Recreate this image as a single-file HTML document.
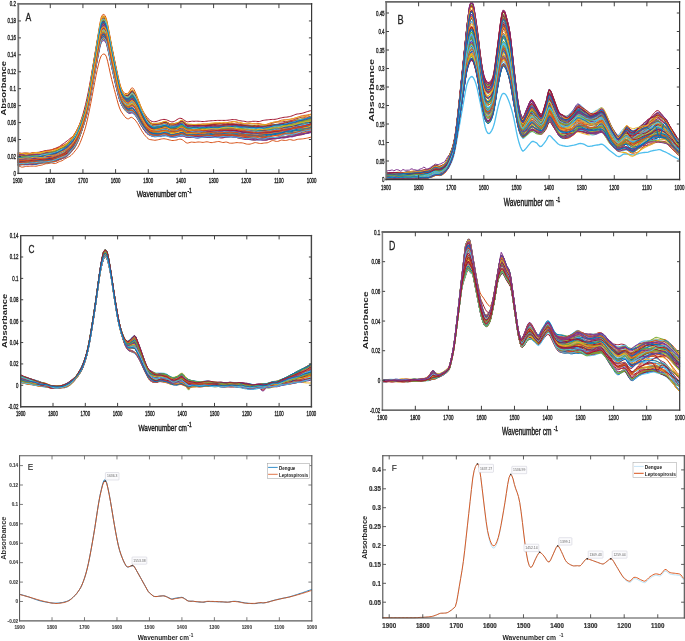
<!DOCTYPE html>
<html><head><meta charset="utf-8"><title>FTIR spectra</title>
<style>
html,body{margin:0;padding:0;background:#fff}
svg{display:block;font-family:"Liberation Sans",sans-serif;filter:blur(0.4px)}
svg path,svg polyline{fill:none;vector-effect:non-scaling-stroke;stroke-linejoin:round}
</style></head><body>
<svg width="685" height="641" viewBox="0 0 685 641">
<rect width="685" height="641" fill="#fff"/>
<g transform="translate(17.60,0) scale(1.3067,0.1)" stroke-width="1.0">
<path d="M0,1653l1 0 1-2 1-3 1-1 1-1 1 0 1 0 1 0 1 0 1 0 1 0 1-1 1-1 1-1 1-2 1-2 1-3 1-3 1-3 1-3 1-1 1-1 1 0 1-1 1-2 1-2 1-1 1 0 1-4 1-6 1-7 1-5 1-5 1-5 1-5 1-6 1-6 1-9 1-11 1-14 1-15 1-15 1-15 1-20 1-23 1-27 1-32 1-37 1-39 1-41 1-41 1-44 1-50 1-56 1-64 1-70 1-71 1-71 1-72 1-72 1-70 1-70 1-67 1-47 1-19 1-4 1 6 1 26 1 51 1 60 1 64 1 65 1 60 1 59 1 56 1 55 1 53 1 48 1 38 1 28 1 20 1 16 1 13 1 9 1 4 1-2 1-2 1 4 1 11 1 13 1 16 1 20 1 24 1 25 1 23 1 20 1 18 1 16 1 13 1 10 1 9 1 8 1 6 1 2 1 0 1-1 1 1 1 0 1 1 1-2 1-4 1-2 1 1 1 3 1 2 1 1 1 0 1 2 1 3 1 1 1-2 1-2 1-2 1-5 1-5 1 0 1 7 1 10 1 7 1 3 1-1 1-3 1-4 1-3 1-1 1 1 1 1 1 1 1 1 1 2 1 2 1 1 1 0 1 1 1 1 1 0 1-2 1-2 1-1 1-1 1 1 1 1 1 2 1 0 1-1 1 0 1 0 1 0 1-1 1-1 1-2 1-2 1-1 1 0 1 2 1 1 1 1 1 2 1 5 1 4 1 4 1 2 1 1 1 2 1 2 1 2 1 2 1 1 1 0 1-1 1-1 1 0 1 1 1 2 1 1 1 1 1 0 1 0 1-1 1-1 1 1 1 0 1 0 1-1 1-3 1-2 1 0 1 1 1 1 1-1 1-4 1-5 1-4 1-2 1-1 1-3 1-4 1-3 1-4 1-4 1-3 1-1 1 0 1 1 1 0 1-1 1 0 1-3 1-3 1-5 1-5 1-3 1-2 1-1 1-3" stroke="#0072BD"/>
<path d="M0,1621l1 2 1 2 1 2 1 0 1-1 1-1 1-1 1 0 1 1 1 1 1-1 1-2 1 0 1 1 1-1 1-2 1-3 1-1 1-2 1-2 1-2 1-2 1-2 1-2 1-2 1 0 1-1 1-4 1-6 1-7 1-5 1-3 1-5 1-7 1-8 1-7 1-6 1-6 1-8 1-12 1-15 1-18 1-20 1-21 1-24 1-27 1-31 1-34 1-35 1-36 1-40 1-45 1-49 1-56 1-65 1-70 1-72 1-73 1-74 1-75 1-73 1-71 1-68 1-47 1-20 1-5 1 7 1 30 1 56 1 64 1 66 1 65 1 59 1 57 1 58 1 57 1 54 1 48 1 36 1 26 1 20 1 17 1 13 1 8 1 2 1-6 1-7 1 1 1 10 1 15 1 19 1 22 1 26 1 26 1 24 1 22 1 21 1 17 1 14 1 10 1 8 1 5 1 5 1 5 1 3 1 1 1-1 1-1 1-2 1-1 1-2 1-2 1 0 1 3 1 5 1 6 1 2 1 0 1-2 1-2 1-1 1-2 1-2 1-3 1-3 1-1 1 2 1 5 1 3 1-1 1-1 1 1 1 2 1 2 1-1 1-2 1-1 1-1 1-1 1 0 1 0 1 0 1 1 1 0 1-1 1 0 1-1 1-1 1-1 1 1 1 0 1-1 1 1 1 2 1 1 1-1 1-3 1-3 1-1 1 1 1 0 1-1 1-1 1-1 1 2 1 3 1 3 1 3 1 3 1 2 1 1 1 0 1 0 1 1 1 0 1-2 1-1 1 0 1 1 1 3 1 2 1 2 1 1 1-1 1 0 1-1 1 0 1 1 1 0 1 0 1 0 1-1 1-2 1-2 1-3 1-5 1-5 1-3 1-2 1-2 1-1 1-1 1-1 1-1 1-3 1-3 1-3 1-1 1 0 1-1 1-2 1-3 1-2 1-3 1-2 1-1 1 0 1 0 1-2 1-3 1-4 1-2 1-2 1-3 1-5" stroke="#D95319"/>
<path d="M0,1628l1 2 1 1 1 0 1-1 1 1 1-2 1-2 1-3 1 0 1 1 1-1 1-1 1 0 1 2 1 1 1-1 1-1 1-2 1-2 1-4 1-3 1-2 1-3 1-3 1-3 1-2 1-2 1-2 1-3 1-2 1-3 1-4 1-5 1-7 1-4 1-5 1-5 1-8 1-10 1-14 1-16 1-18 1-17 1-20 1-23 1-26 1-29 1-33 1-37 1-39 1-40 1-42 1-48 1-55 1-65 1-71 1-71 1-73 1-73 1-71 1-69 1-67 1-65 1-45 1-17 1-2 1 8 1 25 1 50 1 61 1 65 1 63 1 59 1 57 1 56 1 53 1 52 1 48 1 38 1 29 1 23 1 21 1 14 1 8 1 1 1-4 1-4 1 4 1 12 1 16 1 20 1 22 1 24 1 25 1 23 1 21 1 18 1 17 1 15 1 12 1 8 1 4 1 2 1 1 1 0 1 0 1 1 1 1 1-1 1-3 1-4 1-2 1-1 1 0 1 2 1 4 1 3 1 1 1 0 1-1 1 0 1 0 1-2 1-4 1-4 1-2 1 4 1 6 1 6 1 1 1-2 1-1 1 1 1 2 1 1 1-3 1-4 1-2 1 1 1 3 1 2 1 0 1-2 1-3 1-3 1 0 1-1 1 0 1 2 1 2 1 3 1-1 1-3 1-2 1 1 1 1 1 1 1 0 1-2 1-1 1 0 1 0 1 1 1 1 1 2 1 2 1 0 1 1 1 2 1 3 1 1 1 2 1 4 1 5 1 3 1 1 1 0 1-1 1-3 1-3 1-1 1 3 1 5 1 5 1 4 1 2 1 0 1 0 1-1 1-1 1 0 1-1 1-3 1-5 1-5 1-4 1-1 1-1 1-1 1-3 1-3 1-2 1 1 1 2 1 0 1-1 1-4 1-4 1-4 1-2 1-2 1-1 1-2 1-2 1-3 1-4 1-4 1-5 1-4 1-1 1-1 1 0 1-1 1-3 1-5" stroke="#EDB120"/>
<path d="M0,1528l1 1 1 2 1 2 1 1 1-2 1-2 1 0 1 2 1 1 1 0 1-1 1-1 1-2 1-2 1-2 1-2 1-3 1-3 1-3 1-4 1-3 1-2 1-2 1-1 1-1 1-1 1-5 1-6 1-6 1-6 1-5 1-7 1-9 1-10 1-9 1-9 1-10 1-10 1-10 1-11 1-10 1-11 1-12 1-18 1-23 1-26 1-30 1-34 1-38 1-42 1-47 1-51 1-57 1-62 1-68 1-73 1-76 1-76 1-75 1-74 1-72 1-68 1-63 1-42 1-11 1 4 1 12 1 28 1 53 1 63 1 66 1 65 1 60 1 59 1 58 1 57 1 54 1 50 1 39 1 28 1 19 1 11 1 7 1 3 1-3 1-12 1-12 1-2 1 12 1 19 1 22 1 25 1 26 1 27 1 25 1 22 1 22 1 20 1 18 1 15 1 12 1 9 1 6 1 2 1 0 1-2 1-4 1-5 1-4 1-4 1-3 1-1 1 1 1 3 1 6 1 6 1 5 1 4 1-1 1-5 1-8 1-9 1-8 1-5 1 0 1 5 1 9 1 9 1 9 1 3 1-1 1-2 1-2 1-1 1 1 1-1 1 0 1 0 1 1 1 1 1 1 1 0 1 0 1-2 1-1 1-2 1-1 1-1 1-1 1-1 1-1 1 0 1-1 1 0 1 0 1 0 1 0 1 0 1 0 1-1 1-1 1-2 1-2 1-2 1 0 1 0 1 1 1 3 1 4 1 3 1 2 1 2 1 1 1 2 1 3 1 2 1 0 1-2 1-2 1-2 1 0 1 0 1 1 1 1 1 0 1-3 1-5 1-3 1-2 1-2 1-1 1-2 1-1 1-1 1-1 1 0 1-1 1-2 1-3 1-4 1-3 1-3 1-3 1-2 1-1 1-1 1-2 1-3 1-3 1-4 1-5 1-6 1-5 1-3 1-1 1-2 1-2 1-3 1-4 1-4 1-5 1-4 1-4 1-3 1-3" stroke="#A2142F"/>
<path d="M0,1577l1-2 1-1 1 1 1 0 1-2 1-2 1-1 1 2 1 3 1 2 1 0 1-3 1-5 1-5 1-3 1 0 1 1 1-1 1-4 1-4 1-2 1 1 1 2 1 1 1-2 1-5 1-5 1-6 1-5 1-6 1-5 1-4 1-4 1-5 1-8 1-9 1-11 1-11 1-10 1-13 1-14 1-16 1-16 1-21 1-23 1-26 1-28 1-32 1-35 1-38 1-40 1-44 1-49 1-57 1-68 1-76 1-78 1-78 1-79 1-78 1-79 1-78 1-77 1-56 1-24 1-4 1 10 1 32 1 58 1 66 1 69 1 67 1 64 1 61 1 60 1 57 1 57 1 54 1 42 1 31 1 23 1 14 1 8 1 0 1-5 1-14 1-14 1 1 1 16 1 23 1 25 1 28 1 29 1 28 1 25 1 22 1 23 1 23 1 20 1 16 1 11 1 9 1 7 1 5 1 1 1 0 1-2 1-3 1-4 1-5 1-5 1-4 1 0 1 5 1 6 1 6 1 4 1 2 1 1 1 1 1-1 1-2 1-3 1-7 1-7 1-3 1 4 1 9 1 10 1 6 1 0 1-2 1-2 1-2 1 0 1 1 1 0 1-1 1-3 1-2 1 0 1 2 1 2 1-1 1 0 1 0 1 0 1-2 1-2 1-1 1 0 1-1 1-1 1 0 1-2 1-3 1-1 1 1 1-1 1-2 1-1 1 1 1 1 1-2 1-2 1 0 1 2 1 2 1 0 1 1 1 3 1 3 1 2 1 0 1 2 1 1 1 1 1 0 1 1 1 1 1 0 1 0 1 0 1 0 1-1 1-3 1-2 1-2 1-1 1-2 1-3 1-3 1-4 1-3 1 0 1 0 1 0 1-2 1-1 1 1 1 1 1-3 1-6 1-6 1-3 1-2 1-2 1-3 1-2 1-1 1 0 1 0 1 0 1-3 1-6 1-8 1-7 1-5 1-2 1-3 1-3 1-3 1-4 1-3 1-2" stroke="#7E2F8E"/>
<path d="M0,1596l1 1 1 0 1 0 1 1 1 0 1-2 1-1 1-1 1 0 1-2 1-3 1-3 1 0 1 2 1 1 1 0 1-2 1-3 1-3 1-2 1-1 1 1 1 0 1-1 1-2 1-3 1-5 1-6 1-6 1-7 1-6 1-5 1-3 1-3 1-5 1-8 1-11 1-13 1-13 1-13 1-11 1-12 1-12 1-18 1-23 1-28 1-32 1-36 1-37 1-37 1-38 1-43 1-49 1-57 1-67 1-74 1-76 1-77 1-75 1-73 1-72 1-70 1-71 1-51 1-21 1-4 1 9 1 30 1 57 1 65 1 65 1 63 1 59 1 60 1 58 1 58 1 55 1 52 1 41 1 29 1 22 1 16 1 11 1 6 1 3 1-6 1-8 1 0 1 11 1 17 1 22 1 24 1 27 1 27 1 27 1 24 1 21 1 19 1 15 1 14 1 12 1 10 1 7 1 2 1-2 1-3 1-2 1-1 1-2 1-1 1-3 1-3 1-2 1 2 1 3 1 3 1 3 1 1 1 0 1-3 1-2 1-1 1-4 1-7 1-6 1 0 1 7 1 9 1 5 1 0 1-1 1 0 1 1 1 2 1 2 1 0 1 0 1-1 1 0 1 2 1 1 1 0 1-1 1-2 1-1 1-1 1-1 1-2 1-2 1 0 1 0 1 1 1 0 1-2 1 0 1 2 1 3 1 2 1-1 1-4 1-5 1-2 1-1 1 0 1 1 1 1 1 3 1 3 1 2 1 0 1 0 1 1 1 2 1 2 1 0 1 1 1 3 1 5 1 4 1 1 1-1 1-2 1-3 1-1 1-1 1-1 1 0 1 0 1 1 1 2 1 0 1-2 1-3 1-3 1-1 1-2 1-3 1-4 1-4 1-2 1 0 1-1 1-3 1-3 1-4 1-4 1-4 1-2 1-1 1-2 1 0 1-1 1-3 1-4 1-4 1-4 1-4 1-3 1-1 1-1 1-3 1-4 1-3 1-1 1-2" stroke="#77AC30"/>
<path d="M0,1641l1-1 1 1 1 1 1 1 1 1 1 0 1 0 1-1 1-2 1-1 1-3 1-4 1-2 1-1 1 0 1-2 1-2 1-2 1 0 1 3 1 4 1 4 1 2 1-3 1-5 1-5 1-6 1-5 1-4 1-5 1-6 1-5 1-3 1-4 1-4 1-5 1-7 1-10 1-13 1-15 1-15 1-15 1-14 1-18 1-24 1-30 1-33 1-35 1-35 1-37 1-41 1-44 1-49 1-55 1-65 1-70 1-71 1-71 1-71 1-69 1-66 1-64 1-64 1-49 1-21 1-6 1 6 1 27 1 53 1 61 1 63 1 62 1 58 1 58 1 58 1 57 1 51 1 44 1 33 1 25 1 21 1 18 1 15 1 11 1 6 1 0 1-2 1 5 1 11 1 15 1 18 1 21 1 23 1 23 1 22 1 20 1 19 1 17 1 14 1 10 1 8 1 6 1 5 1 4 1 1 1-1 1 0 1 0 1 0 1 0 1-2 1-1 1-2 1 0 1 1 1 2 1 2 1 3 1 3 1 2 1-2 1-4 1-3 1-3 1-2 1-2 1 0 1 4 1 6 1 5 1 2 1 0 1-2 1-2 1-2 1 0 1 1 1 1 1 1 1 0 1-2 1-1 1-1 1 0 1 1 1 1 1 0 1 0 1 1 1 1 1 1 1 1 1 0 1 1 1 0 1-1 1-1 1-2 1-1 1 0 1 1 1 2 1 0 1-2 1 0 1 0 1 2 1 3 1 4 1 3 1 1 1 1 1 1 1 1 1 2 1 3 1 3 1 3 1 2 1 0 1 0 1 0 1 0 1 0 1 0 1 0 1 1 1 0 1-2 1-3 1-1 1 0 1-1 1-3 1-3 1-4 1-2 1-2 1-1 1-2 1-2 1-2 1-1 1-1 1-1 1-3 1-3 1-3 1-2 1-1 1-2 1-4 1-4 1-2 1-2 1 0 1 1 1 0 1-4 1-5 1-4 1-3 1-1 1-2 1-4" stroke="#4DBEEE"/>
<path d="M0,1642l1-2 1 0 1 0 1 0 1 0 1-1 1-1 1-2 1-1 1-2 1-3 1-2 1-1 1-1 1-1 1 0 1-1 1-1 1-1 1-3 1-1 1-1 1 1 1 0 1-1 1-1 1-1 1-3 1-4 1-6 1-8 1-7 1-8 1-5 1-3 1-3 1-6 1-9 1-11 1-14 1-15 1-17 1-17 1-19 1-23 1-26 1-30 1-35 1-38 1-40 1-41 1-44 1-49 1-56 1-64 1-70 1-71 1-73 1-73 1-71 1-70 1-68 1-66 1-46 1-18 1-2 1 9 1 30 1 54 1 62 1 63 1 61 1 59 1 59 1 59 1 56 1 53 1 47 1 35 1 26 1 19 1 16 1 14 1 9 1 5 1-1 1-3 1 3 1 10 1 15 1 18 1 23 1 26 1 26 1 22 1 21 1 20 1 17 1 15 1 9 1 7 1 5 1 5 1 3 1 1 1-1 1-2 1-2 1-1 1-2 1-3 1-2 1-1 1 1 1 3 1 4 1 3 1 3 1 1 1 0 1-2 1-1 1-2 1-4 1-2 1 1 1 4 1 6 1 6 1 3 1 0 1-1 1-3 1-3 1-2 1 0 1 0 1 1 1 2 1 1 1 1 1 1 1 2 1 1 1 1 1 0 1 0 1-2 1-1 1 0 1-1 1 1 1 2 1 3 1 2 1 1 1-1 1-3 1-2 1-2 1-2 1-2 1-2 1-1 1 1 1 2 1 4 1 5 1 4 1 3 1 2 1 1 1 0 1 1 1 2 1 2 1 1 1 2 1 3 1 2 1 0 1-1 1-4 1-3 1-1 1 1 1 3 1 3 1 2 1 1 1-2 1-3 1-5 1-2 1 0 1 0 1 0 1-2 1-4 1-4 1-3 1 0 1 0 1 0 1-2 1-2 1-3 1-2 1-2 1-1 1-1 1-3 1-2 1-3 1-2 1-2 1-2 1-3 1-4 1-6 1-5 1-4 1-3 1-3 1-2" stroke="#A2142F"/>
<path d="M0,1564l1 1 1 1 1-1 1-3 1-4 1-2 1-1 1 0 1-1 1-1 1-1 1 0 1 0 1 0 1 0 1-2 1-3 1-4 1-3 1 0 1 1 1 0 1-1 1-2 1-4 1-5 1-5 1-4 1-5 1-7 1-7 1-6 1-6 1-5 1-7 1-9 1-11 1-14 1-13 1-13 1-11 1-12 1-15 1-19 1-23 1-26 1-27 1-30 1-35 1-39 1-41 1-44 1-51 1-60 1-69 1-77 1-80 1-80 1-79 1-77 1-79 1-80 1-80 1-57 1-23 1-3 1 10 1 32 1 60 1 67 1 69 1 66 1 63 1 62 1 63 1 62 1 59 1 53 1 39 1 28 1 21 1 14 1 7 1 1 1-5 1-17 1-17 1-1 1 16 1 23 1 27 1 28 1 31 1 32 1 30 1 29 1 25 1 22 1 18 1 15 1 11 1 7 1 6 1 3 1 2 1 1 1 1 1 0 1-3 1-7 1-6 1-4 1 1 1 5 1 8 1 6 1 3 1-1 1 0 1 1 1 0 1-3 1-5 1-10 1-10 1-1 1 9 1 14 1 14 1 6 1 0 1-1 1-2 1-1 1 0 1 1 1 3 1 2 1-1 1-3 1-3 1-1 1 0 1 0 1 0 1 0 1 2 1 1 1-2 1-2 1-2 1 1 1 2 1 1 1-2 1-1 1-1 1 0 1 0 1 0 1 1 1 2 1 1 1 1 1-1 1-1 1 0 1-1 1 0 1 2 1 4 1 4 1 2 1 0 1 1 1 1 1 0 1 0 1 0 1 2 1 3 1 2 1 2 1 2 1 1 1-1 1-5 1-6 1-5 1-1 1 1 1 1 1 0 1-1 1 0 1-2 1-3 1-5 1-6 1-5 1-4 1 1 1 2 1 3 1 0 1-3 1-4 1-5 1-5 1-3 1-2 1-2 1-2 1-3 1-3 1-2 1-3 1-3 1-5 1-4 1-2 1-1 1-1 1-1 1-2" stroke="#0072BD"/>
<path d="M0,1605l1 1 1-1 1-2 1-1 1 1 1 1 1-1 1-2 1-3 1-2 1-1 1 1 1 1 1-1 1-4 1-5 1-4 1-1 1 1 1 0 1 0 1 0 1-1 1-2 1-2 1-3 1-3 1-3 1-4 1-6 1-7 1-7 1-7 1-6 1-5 1-5 1-9 1-12 1-15 1-14 1-15 1-14 1-16 1-18 1-23 1-25 1-29 1-32 1-36 1-39 1-42 1-46 1-49 1-56 1-65 1-72 1-74 1-77 1-77 1-76 1-74 1-75 1-73 1-52 1-21 1-3 1 9 1 29 1 57 1 66 1 67 1 65 1 62 1 62 1 61 1 58 1 54 1 50 1 40 1 29 1 21 1 15 1 10 1 8 1 4 1-6 1-10 1-2 1 11 1 18 1 22 1 23 1 25 1 26 1 26 1 24 1 23 1 21 1 16 1 12 1 10 1 8 1 7 1 5 1 4 1 4 1 1 1-2 1-4 1-4 1-4 1-4 1-3 1 1 1 5 1 5 1 3 1 2 1 2 1 1 1-2 1-4 1-4 1-5 1-4 1 1 1 7 1 9 1 7 1 1 1-3 1-2 1 0 1 2 1 3 1 3 1 2 1 1 1 1 1-2 1-5 1-4 1-2 1 0 1 0 1 0 1 0 1 1 1 0 1-2 1-4 1-3 1-1 1 1 1 2 1 1 1 1 1 2 1 1 1 1 1 1 1-1 1-1 1 0 1 0 1 2 1 1 1-1 1 0 1-1 1 0 1 2 1 4 1 3 1 1 1 0 1 0 1 0 1 0 1 1 1 1 1 1 1-1 1-2 1 0 1 2 1 2 1 0 1-2 1-1 1-2 1-2 1-2 1-1 1-2 1-2 1-2 1-3 1-1 1-2 1-2 1-6 1-6 1-4 1-1 1-1 1 0 1-3 1-5 1-5 1-3 1-2 1-1 1-2 1-2 1-2 1-2 1-2 1-2 1-3 1-1 1-1 1-4 1-7 1-8" stroke="#D95319"/>
<path d="M0,1622l1 1 1 0 1 0 1-1 1-2 1-3 1-2 1-1 1-1 1 0 1 1 1 0 1-1 1-3 1-2 1-2 1-2 1-3 1-2 1-2 1-1 1-1 1-1 1-1 1-2 1-3 1-4 1-4 1-3 1-3 1-5 1-5 1-6 1-3 1-5 1-7 1-12 1-12 1-12 1-11 1-13 1-15 1-15 1-20 1-25 1-28 1-31 1-32 1-35 1-37 1-41 1-46 1-51 1-58 1-68 1-74 1-75 1-73 1-75 1-76 1-75 1-72 1-71 1-52 1-23 1-6 1 8 1 27 1 54 1 64 1 67 1 67 1 63 1 61 1 60 1 59 1 55 1 49 1 35 1 25 1 18 1 15 1 11 1 5 1 0 1-9 1-10 1 1 1 14 1 20 1 23 1 23 1 25 1 25 1 24 1 23 1 21 1 21 1 18 1 14 1 12 1 9 1 7 1 4 1 3 1 0 1-2 1-3 1-3 1-6 1-6 1-3 1 1 1 4 1 7 1 7 1 4 1 0 1-1 1 0 1-1 1 0 1-2 1-6 1-4 1 1 1 6 1 7 1 7 1 4 1 1 1 1 1 1 1 0 1-1 1 0 1 0 1-2 1-2 1-1 1 0 1 1 1 1 1 0 1-3 1-2 1 0 1 2 1 1 1-1 1-1 1 0 1 0 1 0 1 1 1 1 1 1 1 1 1 0 1-1 1 0 1 1 1 2 1 3 1 3 1 2 1 1 1 1 1 2 1 2 1 2 1 2 1 1 1 0 1 0 1 1 1 3 1 3 1 2 1 1 1 0 1 1 1 1 1 0 1-2 1-2 1-1 1-1 1-1 1 0 1 0 1-1 1-3 1-4 1-1 1-1 1-1 1-1 1-1 1-3 1-3 1-2 1-1 1 1 1 0 1-2 1-3 1-5 1-5 1-5 1-3 1-3 1-2 1-3 1-3 1-2 1-3 1-1 1-2 1-3 1-5 1-5 1-6 1-6 1-3" stroke="#EDB120"/>
<path d="M0,1646l1-3 1-1 1 1 1 3 1 2 1-1 1-1 1 0 1-1 1-1 1-1 1 0 1-1 1-1 1-3 1-4 1-6 1-4 1 0 1 1 1 1 1-1 1-3 1-3 1-3 1-2 1-2 1-3 1-3 1-3 1-5 1-3 1-3 1-5 1-5 1-6 1-9 1-10 1-14 1-13 1-13 1-15 1-18 1-22 1-26 1-28 1-31 1-34 1-34 1-34 1-39 1-43 1-48 1-55 1-64 1-70 1-72 1-71 1-70 1-71 1-71 1-69 1-66 1-43 1-15 1-2 1 7 1 26 1 52 1 60 1 61 1 59 1 58 1 59 1 58 1 55 1 51 1 45 1 34 1 25 1 20 1 18 1 16 1 14 1 9 1 1 1-4 1 1 1 8 1 13 1 19 1 21 1 24 1 23 1 22 1 19 1 19 1 18 1 16 1 11 1 6 1 5 1 5 1 5 1 2 1 0 1-2 1-1 1-2 1-3 1-3 1-2 1 1 1 2 1 4 1 5 1 4 1 1 1 1 1 0 1-1 1-2 1-3 1-2 1-2 1 0 1 1 1 4 1 4 1 2 1 0 1-1 1 0 1 1 1 2 1 4 1 3 1 0 1-4 1-4 1-3 1-1 1 0 1 1 1-1 1 0 1 1 1 1 1 1 1 0 1 1 1 0 1 1 1-1 1-1 1 0 1 0 1-1 1-1 1-1 1-2 1-1 1 0 1 2 1 3 1 1 1 0 1 1 1 1 1 4 1 4 1 4 1 4 1 3 1 1 1 0 1-2 1-1 1 0 1 2 1 3 1 2 1 0 1 0 1 1 1 0 1 1 1 1 1 0 1-1 1-2 1-4 1-2 1-2 1-1 1-2 1-2 1-2 1-2 1-1 1-1 1 0 1 0 1 0 1-2 1-3 1-3 1-3 1-1 1 1 1-3 1-5 1-5 1-5 1-4 1-4 1-4 1-2 1-1 1 1 1-1 1-2 1-6 1-6 1-4" stroke="#7E2F8E"/>
<path d="M0,1577l1-2 1-2 1-1 1-1 1-1 1 1 1 2 1 2 1 0 1-1 1-3 1-3 1-2 1-1 1-3 1-3 1-3 1 0 1 1 1-1 1-4 1-5 1-4 1-2 1-1 1-2 1-2 1-3 1-4 1-5 1-5 1-4 1-5 1-7 1-8 1-8 1-10 1-11 1-14 1-16 1-15 1-16 1-16 1-19 1-23 1-27 1-31 1-32 1-34 1-38 1-41 1-45 1-50 1-59 1-71 1-79 1-78 1-78 1-80 1-81 1-82 1-81 1-78 1-56 1-23 1-2 1 10 1 31 1 57 1 66 1 69 1 68 1 65 1 62 1 59 1 59 1 59 1 56 1 43 1 32 1 21 1 12 1 3 1-2 1-4 1-13 1-14 1-1 1 13 1 20 1 26 1 30 1 33 1 32 1 28 1 23 1 25 1 24 1 20 1 14 1 9 1 7 1 7 1 4 1 1 1-2 1-1 1 1 1 0 1-3 1-5 1-6 1-4 1 1 1 4 1 7 1 8 1 5 1 3 1 0 1-1 1-4 1-6 1-12 1-10 1-3 1 5 1 9 1 11 1 6 1 0 1 1 1 0 1 3 1 2 1 0 1-1 1 0 1 1 1 2 1 1 1 1 1 0 1-1 1-1 1-2 1-1 1-2 1-3 1-2 1-2 1-1 1 1 1 1 1 1 1 2 1 0 1-1 1-1 1 0 1 0 1 0 1-1 1 0 1 1 1 1 1 3 1 4 1 5 1 3 1 1 1-1 1-1 1 2 1 3 1 1 1-2 1-2 1 0 1 0 1 1 1 0 1 1 1 3 1 4 1 2 1 0 1-1 1 0 1-1 1-2 1-2 1-1 1-1 1-4 1-6 1-5 1-3 1 0 1 1 1 1 1 0 1-1 1-3 1-3 1-4 1-3 1-4 1-3 1-2 1-1 1-2 1-3 1-4 1-4 1-3 1-3 1-2 1-2 1-2 1-3 1-3 1-2 1-5 1-5" stroke="#77AC30"/>
<path d="M0,1578l1 0 1-1 1 1 1 1 1 0 1-1 1-2 1-2 1-1 1 0 1-1 1 0 1 1 1 1 1 0 1-1 1-2 1-3 1-2 1-1 1-4 1-3 1-3 1-1 1 0 1-2 1-2 1-3 1-4 1-5 1-6 1-7 1-7 1-5 1-4 1-4 1-7 1-12 1-13 1-12 1-13 1-15 1-17 1-20 1-21 1-25 1-28 1-32 1-35 1-38 1-40 1-46 1-53 1-62 1-69 1-72 1-71 1-75 1-79 1-81 1-80 1-77 1-74 1-53 1-22 1-3 1 10 1 33 1 59 1 66 1 66 1 65 1 63 1 62 1 60 1 56 1 53 1 49 1 38 1 30 1 22 1 15 1 7 1 3 1-3 1-14 1-15 1-2 1 14 1 21 1 23 1 25 1 28 1 28 1 27 1 24 1 22 1 20 1 19 1 18 1 14 1 9 1 5 1 3 1 1 1 0 1-3 1-3 1-3 1-3 1-3 1-6 1-5 1-1 1 7 1 10 1 8 1 3 1-1 1-4 1-4 1-4 1-4 1-9 1-7 1 0 1 7 1 9 1 7 1 3 1 1 1 1 1 1 1 0 1 0 1 1 1 1 1 0 1 1 1 1 1 0 1-2 1-3 1-2 1-1 1 2 1 2 1 1 1 0 1-1 1 0 1 0 1 0 1-1 1-2 1-1 1-2 1 1 1 2 1 2 1 0 1-2 1-3 1-1 1 2 1 5 1 6 1 3 1 2 1 0 1 0 1-1 1-1 1-1 1 0 1 2 1 3 1 3 1 1 1 1 1-1 1 1 1 0 1-2 1-3 1-1 1 1 1 1 1 1 1 2 1 1 1 1 1-1 1-1 1-2 1-3 1-2 1-3 1-2 1-2 1-2 1-3 1-5 1-5 1-4 1-2 1-1 1 0 1 0 1-1 1-2 1-1 1-1 1-2 1-3 1-4 1-4 1-2 1-2 1-1 1-2 1-4 1-5 1-5 1-2" stroke="#4DBEEE"/>
<path d="M0,1597l1 0 1 2 1 1 1-1 1-2 1-2 1-2 1-1 1-1 1 0 1-1 1-3 1-2 1 0 1 0 1 0 1-1 1-2 1-2 1-2 1-2 1 0 1 0 1 0 1-2 1-2 1-5 1-4 1-5 1-4 1-5 1-7 1-7 1-8 1-7 1-7 1-8 1-10 1-11 1-13 1-16 1-17 1-18 1-18 1-21 1-24 1-29 1-35 1-37 1-38 1-38 1-43 1-51 1-59 1-68 1-75 1-78 1-80 1-78 1-74 1-73 1-75 1-75 1-53 1-22 1-3 1 8 1 29 1 55 1 64 1 67 1 68 1 65 1 63 1 62 1 60 1 56 1 51 1 41 1 31 1 21 1 13 1 6 1 4 1-1 1-10 1-11 1 0 1 11 1 17 1 23 1 29 1 31 1 31 1 27 1 24 1 22 1 18 1 15 1 13 1 10 1 7 1 6 1 3 1 1 1 1 1 1 1 2 1 0 1-4 1-6 1-5 1 0 1 4 1 4 1 6 1 6 1 4 1 2 1 2 1-1 1-2 1-5 1-7 1-7 1-1 1 3 1 8 1 10 1 8 1 2 1-2 1-2 1-1 1 0 1 2 1 1 1 1 1 0 1-1 1-1 1-1 1 0 1 1 1-1 1 0 1 0 1 0 1 0 1-2 1-1 1-2 1-1 1-1 1 0 1-2 1-3 1-1 1 2 1 3 1 1 1-1 1-1 1 0 1-2 1-2 1-2 1 1 1 2 1 4 1 2 1 1 1 0 1 0 1 1 1 1 1 2 1 2 1 2 1 0 1 0 1 0 1 2 1 2 1 2 1 1 1-1 1-2 1-4 1-4 1-3 1-1 1-1 1-1 1-1 1-3 1-3 1-3 1-2 1-2 1-3 1-3 1-4 1-2 1-1 1-2 1-3 1-5 1-4 1-3 1-2 1-1 1-1 1-3 1-5 1-5 1-4 1-1 1-2 1-4 1-5 1-5 1-3 1-1 1 0" stroke="#A2142F"/>
<path d="M0,1555l1-2 1-1 1 1 1 2 1 3 1 1 1 0 1-1 1-2 1-2 1-3 1-2 1-4 1-3 1-2 1-1 1 0 1 0 1 1 1 0 1-2 1-4 1-4 1-3 1-4 1-4 1-5 1-4 1-5 1-5 1-5 1-3 1-5 1-7 1-7 1-5 1-6 1-9 1-13 1-17 1-20 1-19 1-19 1-19 1-21 1-23 1-26 1-31 1-34 1-37 1-40 1-45 1-53 1-61 1-72 1-79 1-81 1-81 1-81 1-81 1-80 1-78 1-76 1-57 1-25 1-4 1 11 1 33 1 60 1 67 1 67 1 67 1 64 1 63 1 62 1 61 1 59 1 55 1 42 1 30 1 22 1 14 1 8 1 1 1-6 1-18 1-17 1-1 1 14 1 20 1 25 1 29 1 33 1 33 1 30 1 26 1 25 1 24 1 22 1 16 1 12 1 7 1 5 1 3 1 2 1 2 1 0 1-2 1-4 1-4 1-5 1-3 1 0 1 4 1 8 1 11 1 8 1 3 1-1 1-4 1-5 1-5 1-6 1-10 1-9 1 0 1 10 1 15 1 13 1 7 1 0 1 1 1 0 1 0 1 0 1 0 1 0 1-2 1-3 1-2 1 0 1 0 1 1 1 1 1 2 1 1 1-3 1-4 1-3 1-1 1 1 1 1 1 0 1 1 1 2 1 2 1 1 1-1 1-1 1 0 1-1 1-1 1-1 1 1 1 1 1 0 1-1 1-1 1-1 1 0 1 2 1 3 1 2 1 1 1 1 1 1 1 2 1 0 1 0 1 0 1 0 1 1 1 1 1 1 1 3 1 1 1 0 1-2 1-3 1-2 1 0 1-1 1-2 1-3 1-2 1-1 1-2 1-1 1-3 1-2 1-3 1-4 1-4 1-3 1-2 1-3 1-4 1-3 1-1 1-1 1-4 1-5 1-3 1-2 1 0 1 0 1-2 1-5 1-5 1-4 1-3 1-4 1-3 1-2 1-3" stroke="#0072BD"/>
<path d="M0,1607l1 2 1 3 1 4 1 2 1 0 1-3 1-3 1-2 1 1 1 0 1 0 1-1 1-2 1-2 1 0 1 0 1-2 1-1 1-1 1-2 1-3 1-3 1-2 1-2 1-2 1-4 1-3 1-3 1-1 1 0 1-4 1-6 1-7 1-9 1-8 1-8 1-8 1-8 1-8 1-12 1-15 1-15 1-17 1-20 1-24 1-27 1-29 1-30 1-34 1-39 1-41 1-44 1-50 1-58 1-69 1-74 1-75 1-74 1-74 1-72 1-71 1-70 1-68 1-47 1-20 1-4 1 7 1 28 1 55 1 64 1 65 1 64 1 60 1 59 1 57 1 54 1 52 1 47 1 36 1 27 1 21 1 17 1 14 1 11 1 4 1-7 1-9 1-1 1 9 1 13 1 19 1 26 1 31 1 29 1 26 1 23 1 19 1 15 1 13 1 12 1 9 1 6 1 4 1 2 1 0 1 0 1 0 1-1 1-2 1-5 1-6 1-4 1-2 1 3 1 6 1 6 1 4 1-1 1-2 1-2 1-1 1-2 1-1 1-6 1-7 1-2 1 5 1 10 1 8 1 3 1-1 1-2 1-3 1-2 1-1 1-1 1-1 1-1 1 1 1 3 1 2 1 2 1 1 1 1 1 1 1 0 1 1 1 0 1-1 1-1 1-1 1-2 1-1 1 1 1 0 1-1 1-1 1-1 1 1 1 1 1-1 1 0 1 0 1 1 1 4 1 6 1 4 1 3 1 3 1 3 1 1 1-1 1 0 1 2 1 1 1 2 1 2 1 3 1 4 1 2 1-1 1-1 1 0 1 3 1 4 1 1 1-1 1-2 1 0 1 0 1-3 1-4 1-5 1-4 1-1 1 1 1 1 1 0 1-1 1-1 1-2 1-4 1-5 1-2 1-3 1-4 1-5 1-3 1-2 1-1 1-1 1-1 1 0 1-3 1-3 1-4 1-4 1-7 1-6 1-6 1-4 1-3 1-2 1-1 1-4" stroke="#D95319"/>
<path d="M0,1624l1 1 1 0 1 1 1 0 1-2 1-5 1-4 1-3 1 0 1 0 1 1 1 0 1 0 1 1 1-2 1-4 1-4 1-2 1-2 1 0 1 0 1 0 1-1 1-4 1-4 1-4 1-4 1-2 1-3 1-3 1-5 1-6 1-7 1-8 1-8 1-10 1-12 1-13 1-13 1-13 1-14 1-15 1-16 1-17 1-20 1-23 1-30 1-35 1-38 1-38 1-40 1-43 1-51 1-60 1-69 1-75 1-75 1-75 1-73 1-72 1-73 1-74 1-73 1-53 1-24 1-6 1 9 1 30 1 57 1 65 1 68 1 67 1 63 1 60 1 58 1 55 1 53 1 51 1 39 1 27 1 18 1 14 1 13 1 10 1 3 1-5 1-7 1 1 1 11 1 17 1 24 1 27 1 28 1 25 1 23 1 22 1 22 1 21 1 18 1 13 1 10 1 7 1 5 1 2 1 0 1 0 1 0 1 0 1-1 1-2 1-4 1-3 1-1 1 2 1 6 1 7 1 6 1 2 1 0 1-2 1-2 1-3 1-2 1-6 1-6 1 0 1 5 1 8 1 7 1 3 1 0 1 1 1 1 1 1 1 0 1 0 1-1 1-2 1-1 1 0 1 1 1 0 1 1 1 1 1 1 1 1 1 2 1 1 1 2 1 1 1 0 1 0 1-1 1-2 1-1 1 1 1 0 1 0 1-1 1-3 1-3 1-1 1-1 1 0 1 0 1 2 1 3 1 5 1 4 1 2 1-1 1-1 1 1 1 2 1 2 1 2 1 1 1 0 1-1 1-1 1 0 1-1 1 0 1 0 1 0 1 0 1 0 1 0 1 1 1 1 1 1 1-1 1-3 1-6 1-4 1-4 1-2 1-1 1-2 1-2 1-2 1-4 1-6 1-5 1-3 1-2 1-2 1-2 1-2 1-2 1-2 1-4 1-3 1-3 1-5 1-5 1-4 1-3 1-1 1-3 1-2 1-3 1-3 1-3 1-3" stroke="#EDB120"/>
<path d="M0,1617l1 1 1 0 1-2 1-2 1-3 1-1 1 1 1 2 1 2 1-1 1-2 1-2 1-3 1-3 1-1 1 0 1 0 1-1 1-1 1-1 1 0 1-1 1-3 1-4 1-3 1-3 1-3 1-5 1-6 1-8 1-6 1-4 1-4 1-5 1-5 1-6 1-8 1-10 1-13 1-15 1-16 1-14 1-14 1-18 1-23 1-27 1-30 1-34 1-36 1-39 1-41 1-43 1-50 1-59 1-69 1-75 1-78 1-78 1-77 1-76 1-76 1-77 1-74 1-51 1-21 1-4 1 8 1 29 1 56 1 64 1 67 1 66 1 61 1 60 1 59 1 57 1 55 1 51 1 38 1 27 1 20 1 14 1 9 1 4 1-1 1-10 1-9 1 2 1 13 1 16 1 21 1 24 1 28 1 29 1 29 1 26 1 25 1 22 1 17 1 13 1 9 1 6 1 7 1 5 1 2 1-1 1-2 1-1 1-2 1-4 1-5 1-4 1 0 1 2 1 5 1 5 1 4 1 3 1 2 1 2 1 1 1-2 1-6 1-10 1-8 1-1 1 6 1 8 1 9 1 4 1 2 1 2 1 1 1 2 1 1 1 1 1-3 1-4 1-3 1-1 1 2 1 0 1-1 1-2 1 1 1 2 1 1 1 1 1 0 1 1 1 1 1-1 1-1 1-2 1-1 1 0 1 0 1 2 1 0 1-1 1 0 1-1 1 1 1 2 1 2 1 3 1 1 1-1 1 0 1 1 1 1 1 1 1 1 1 1 1 0 1 0 1 3 1 3 1 3 1 1 1-2 1-3 1 0 1 1 1 0 1-1 1 0 1 0 1 1 1 0 1 0 1-2 1-3 1-3 1-2 1-3 1-3 1-3 1-1 1 0 1-1 1-1 1-3 1-5 1-5 1-4 1-1 1 1 1 0 1-2 1-4 1-3 1-4 1-4 1-5 1-4 1-2 1-3 1-3 1-1 1 1 1 1 1 0 1-3 1-5" stroke="#7E2F8E"/>
<path d="M0,1571l1-4 1-5 1-4 1-3 1 0 1 1 1 2 1 0 1-2 1-2 1-1 1-1 1 0 1 1 1 1 1 0 1-1 1-3 1-6 1-6 1-4 1-3 1-4 1-3 1-2 1 0 1 0 1-2 1-3 1-6 1-8 1-8 1-5 1-4 1-2 1-6 1-10 1-13 1-11 1-11 1-14 1-17 1-19 1-22 1-23 1-26 1-28 1-33 1-36 1-37 1-39 1-44 1-52 1-62 1-73 1-80 1-80 1-79 1-79 1-79 1-79 1-80 1-80 1-59 1-24 1-3 1 9 1 30 1 54 1 64 1 68 1 69 1 67 1 66 1 64 1 61 1 58 1 56 1 44 1 30 1 20 1 12 1 4 1-2 1-6 1-18 1-18 1-4 1 12 1 20 1 27 1 31 1 32 1 31 1 29 1 28 1 27 1 24 1 21 1 17 1 13 1 8 1 6 1 4 1 0 1-1 1-3 1-2 1-2 1-2 1-5 1-6 1-5 1 3 1 9 1 8 1 4 1-1 1-3 1-3 1-4 1-2 1-3 1-8 1-8 1-2 1 6 1 11 1 11 1 7 1 1 1 0 1 0 1 2 1 2 1 1 1 1 1-1 1-1 1 0 1-1 1 0 1 0 1 1 1 0 1-1 1-2 1-1 1-2 1-2 1-1 1-1 1-1 1-1 1 1 1 2 1 3 1 2 1 0 1-3 1-2 1-1 1 1 1 1 1 1 1 2 1 1 1 0 1-1 1 0 1 0 1 2 1 5 1 5 1 3 1 0 1-3 1-2 1 0 1 1 1 2 1 4 1 3 1 2 1-1 1-1 1-2 1-2 1-1 1-1 1 1 1-1 1-4 1-5 1-3 1-1 1 1 1 1 1-2 1-2 1-3 1-3 1-3 1-3 1-2 1-1 1-1 1-3 1-4 1-4 1-4 1-5 1-4 1 0 1 1 1-1 1-5 1-4 1-2 1-1 1-3 1-7 1-8 1-6 1-3" stroke="#77AC30"/>
<path d="M0,1564l1-1 1-1 1 1 1 1 1 3 1 1 1 1 1 0 1-1 1 0 1 0 1-2 1-3 1-4 1-2 1-1 1-2 1-4 1-3 1 0 1 1 1 0 1-2 1-2 1-1 1-1 1-4 1-4 1-5 1-5 1-6 1-7 1-7 1-6 1-5 1-5 1-8 1-11 1-15 1-16 1-16 1-12 1-12 1-17 1-24 1-27 1-29 1-33 1-35 1-37 1-39 1-44 1-51 1-59 1-71 1-76 1-78 1-78 1-77 1-78 1-79 1-81 1-79 1-58 1-23 1-3 1 12 1 33 1 58 1 65 1 66 1 66 1 65 1 63 1 61 1 61 1 60 1 55 1 40 1 26 1 17 1 13 1 8 1 4 1-2 1-12 1-13 1-3 1 11 1 19 1 24 1 28 1 30 1 31 1 29 1 27 1 23 1 20 1 18 1 14 1 12 1 11 1 8 1 4 1 1 1 0 1-1 1-1 1-3 1-6 1-6 1-6 1-3 1 1 1 4 1 7 1 7 1 4 1 1 1-1 1-3 1-3 1-4 1-9 1-8 1-1 1 7 1 9 1 7 1 4 1 2 1 2 1 1 1 0 1 0 1 0 1 3 1 2 1 2 1 0 1-2 1-3 1-1 1 0 1 1 1 0 1-1 1-2 1-1 1-1 1-1 1-3 1-4 1-1 1 0 1 1 1 0 1 0 1 0 1 0 1-1 1-2 1-2 1-2 1 0 1 1 1 1 1 0 1 1 1 2 1 2 1 2 1 1 1 2 1 0 1 1 1 0 1-1 1-2 1 0 1 3 1 5 1 4 1 0 1-3 1-4 1-5 1-1 1 2 1 1 1 0 1-2 1-3 1-4 1-2 1-3 1-3 1-3 1-2 1 1 1 2 1-1 1-5 1-5 1-4 1-1 1-1 1-3 1-4 1-3 1-3 1-4 1-3 1-2 1-3 1-3 1-3 1-4 1-4 1-3 1-3 1-3 1-3 1-4 1-4" stroke="#4DBEEE"/>
<path d="M0,1552l1 0 1 0 1 0 1 1 1 1 1 0 1 0 1-2 1-3 1-2 1 0 1 2 1 0 1-2 1-4 1-2 1-1 1 0 1 0 1-3 1-5 1-5 1-5 1-3 1-2 1-2 1-3 1-4 1-6 1-4 1-2 1-3 1-4 1-7 1-7 1-8 1-8 1-10 1-13 1-16 1-17 1-17 1-17 1-19 1-21 1-23 1-25 1-28 1-33 1-38 1-41 1-45 1-51 1-60 1-73 1-78 1-79 1-77 1-78 1-80 1-81 1-80 1-79 1-58 1-26 1-6 1 10 1 32 1 58 1 67 1 70 1 70 1 66 1 64 1 61 1 59 1 57 1 55 1 43 1 30 1 19 1 11 1 5 1 0 1-5 1-15 1-14 1 0 1 14 1 20 1 24 1 29 1 30 1 30 1 28 1 29 1 26 1 23 1 20 1 15 1 13 1 11 1 7 1 4 1 0 1-2 1-3 1-3 1-3 1-5 1-5 1-6 1-4 1 4 1 8 1 9 1 6 1 0 1-2 1-5 1-4 1-3 1-2 1-6 1-5 1 2 1 8 1 10 1 7 1 2 1 0 1 2 1 2 1 2 1 1 1 0 1-1 1-4 1-5 1-1 1 2 1 2 1 0 1 0 1 1 1 1 1 0 1-2 1-2 1-3 1-4 1-3 1-3 1 0 1 0 1 1 1 1 1-1 1-1 1-1 1-1 1 0 1 1 1 2 1 0 1 0 1 0 1 0 1 1 1 3 1 2 1 2 1 1 1 1 1 0 1 0 1 2 1 2 1 2 1 0 1-1 1 0 1 2 1 0 1-3 1-4 1-3 1-1 1-1 1 1 1 0 1-3 1-3 1-3 1-4 1-4 1-4 1-3 1-3 1-1 1 1 1 1 1-1 1-3 1-2 1 0 1-3 1-3 1-3 1-2 1-4 1-5 1-5 1-3 1-4 1-6 1-3 1-1 1-2 1-5 1-6 1-6 1-4 1-3 1-2" stroke="#A2142F"/>
<path d="M0,1590l1 2 1 1 1 0 1-1 1-3 1-2 1-2 1-1 1-1 1-1 1-1 1-2 1 0 1 0 1 0 1-1 1-1 1-1 1-2 1-3 1-4 1-4 1-3 1-3 1-2 1-1 1-3 1-4 1-5 1-5 1-4 1-5 1-6 1-7 1-4 1-5 1-7 1-9 1-10 1-13 1-15 1-17 1-19 1-20 1-23 1-25 1-28 1-31 1-35 1-37 1-41 1-46 1-53 1-61 1-69 1-75 1-75 1-75 1-76 1-76 1-76 1-74 1-71 1-52 1-24 1-5 1 9 1 33 1 61 1 67 1 66 1 63 1 62 1 63 1 63 1 60 1 57 1 52 1 39 1 26 1 18 1 15 1 11 1 7 1 0 1-9 1-11 1 0 1 12 1 18 1 24 1 26 1 29 1 28 1 26 1 25 1 24 1 21 1 17 1 12 1 8 1 6 1 4 1 5 1 4 1 2 1-1 1-2 1-2 1-3 1-5 1-3 1-1 1 2 1 5 1 7 1 5 1 1 1-2 1-3 1-3 1-2 1-1 1-5 1-5 1-1 1 5 1 8 1 9 1 5 1 2 1 2 1 1 1 0 1-1 1-2 1-2 1-1 1-1 1-1 1 0 1 0 1 0 1 0 1 1 1 1 1 3 1 2 1 0 1-1 1 0 1-2 1-3 1-3 1-1 1 1 1 0 1-1 1-2 1-1 1 0 1 1 1 1 1 0 1-2 1 0 1 1 1 2 1 3 1 2 1 3 1 2 1 0 1 0 1 1 1 2 1 2 1 2 1-1 1-1 1-2 1-1 1 0 1 3 1 4 1 2 1 1 1 0 1 0 1-2 1-4 1-5 1-3 1-1 1 0 1-3 1-3 1-3 1-3 1-1 1-3 1-2 1-2 1-1 1-1 1-1 1-3 1-3 1-2 1-2 1-3 1-5 1-4 1-1 1 1 1 0 1-3 1-5 1-5 1-3 1-2 1-2 1-2 1-3 1-5" stroke="#0072BD"/>
<path d="M0,1540l1 0 1-2 1-3 1-3 1-1 1 2 1 5 1 2 1-1 1-4 1-5 1-3 1-2 1 0 1-1 1 1 1 0 1-2 1-3 1-4 1-4 1-3 1-2 1-2 1-3 1-4 1-5 1-3 1-2 1-1 1-4 1-5 1-7 1-7 1-7 1-8 1-8 1-11 1-13 1-15 1-16 1-16 1-17 1-19 1-20 1-25 1-27 1-31 1-32 1-34 1-37 1-44 1-52 1-63 1-74 1-82 1-82 1-81 1-80 1-80 1-80 1-80 1-80 1-59 1-24 1-4 1 11 1 31 1 57 1 66 1 70 1 69 1 68 1 67 1 65 1 62 1 60 1 56 1 44 1 30 1 21 1 13 1 3 1-4 1-9 1-20 1-17 1-2 1 15 1 24 1 30 1 33 1 33 1 33 1 30 1 27 1 24 1 21 1 17 1 16 1 14 1 11 1 8 1 4 1 3 1 2 1 2 1-1 1-4 1-6 1-9 1-8 1-4 1 5 1 9 1 9 1 4 1 0 1-2 1-1 1 0 1 0 1-6 1-13 1-11 1 1 1 11 1 14 1 11 1 5 1-1 1-2 1 0 1 0 1 1 1 1 1 1 1 0 1-1 1-1 1-2 1-1 1-1 1 0 1 2 1 1 1 0 1-2 1-2 1-2 1-1 1-1 1-2 1 0 1-1 1 0 1 1 1 1 1 2 1 2 1 3 1-1 1-3 1-5 1-2 1 1 1 5 1 6 1 4 1 3 1 0 1 0 1 0 1 0 1 1 1 2 1 1 1 0 1-2 1 1 1 3 1 2 1 0 1-2 1-2 1-1 1 0 1 1 1 1 1 1 1-2 1-5 1-5 1-2 1-1 1 0 1-1 1-3 1-3 1-1 1-1 1-2 1-3 1-5 1-5 1-4 1-3 1-3 1-5 1-4 1-2 1 0 1-1 1-3 1-2 1-3 1-3 1-6 1-6 1-6 1-3 1-3 1-2 1-3 1-5" stroke="#D95319"/>
<path d="M0,1634l1-1 1 0 1 0 1 1 1-1 1-2 1-1 1-1 1 0 1-1 1-1 1-2 1-1 1 0 1-1 1 0 1-1 1-2 1-1 1 0 1 0 1 1 1 0 1-1 1-2 1-4 1-3 1-4 1-5 1-6 1-8 1-7 1-6 1-4 1-4 1-3 1-6 1-9 1-12 1-13 1-15 1-15 1-17 1-20 1-23 1-26 1-29 1-34 1-37 1-38 1-39 1-44 1-49 1-57 1-67 1-74 1-76 1-75 1-71 1-69 1-69 1-69 1-69 1-49 1-21 1-5 1 7 1 27 1 53 1 63 1 66 1 65 1 59 1 56 1 54 1 54 1 53 1 49 1 40 1 29 1 20 1 15 1 12 1 9 1 4 1-4 1-5 1 0 1 10 1 16 1 21 1 25 1 24 1 24 1 24 1 23 1 22 1 18 1 14 1 10 1 7 1 6 1 6 1 6 1 3 1 0 1-2 1-3 1-2 1-3 1-3 1-4 1 0 1 3 1 4 1 5 1 4 1 2 1 0 1 0 1-1 1-2 1-2 1-2 1-2 1 2 1 3 1 3 1 3 1 3 1 0 1-1 1-1 1 0 1 1 1 0 1-1 1-1 1 0 1 0 1 1 1 0 1-1 1-1 1 0 1 1 1 1 1 0 1 1 1 1 1 1 1-1 1-1 1 1 1 1 1-1 1-2 1-3 1-2 1-2 1 0 1-1 1-1 1 0 1-1 1 0 1 1 1 0 1 1 1 1 1 2 1 4 1 6 1 4 1-1 1-3 1-2 1-1 1 1 1 1 1 1 1 1 1 1 1 1 1 1 1 0 1-1 1-4 1-2 1-1 1 0 1-2 1-2 1-2 1-2 1-2 1-2 1-4 1-3 1-3 1-1 1 1 1 1 1 0 1-2 1-5 1-3 1-2 1 0 1-2 1-2 1-4 1-3 1-2 1-3 1-3 1-3 1-2 1-2 1-2 1-4 1-5 1-5 1-4 1-3" stroke="#EDB120"/>
<path d="M0,1625l1 1 1 0 1-1 1-2 1-2 1 0 1-1 1-1 1-1 1-2 1 0 1 0 1-1 1-3 1-2 1 0 1 0 1-1 1-3 1-2 1-1 1-1 1-1 1 0 1-1 1-2 1-3 1-6 1-7 1-7 1-5 1-4 1-4 1-5 1-5 1-6 1-8 1-11 1-11 1-13 1-14 1-17 1-18 1-21 1-24 1-26 1-28 1-31 1-35 1-39 1-40 1-43 1-50 1-59 1-70 1-75 1-76 1-76 1-75 1-74 1-72 1-71 1-69 1-49 1-20 1-5 1 7 1 28 1 55 1 64 1 67 1 64 1 59 1 59 1 57 1 55 1 52 1 49 1 38 1 28 1 21 1 17 1 14 1 9 1 2 1-8 1-9 1 0 1 12 1 18 1 22 1 26 1 25 1 24 1 22 1 23 1 23 1 21 1 16 1 12 1 9 1 7 1 4 1 3 1 1 1 1 1-2 1-3 1-3 1-4 1-3 1-4 1-2 1 1 1 3 1 5 1 6 1 3 1 0 1-1 1-1 1-3 1-5 1-7 1-5 1 3 1 8 1 8 1 5 1 0 1-2 1-1 1 0 1 1 1 1 1 0 1-1 1 0 1 2 1 1 1-1 1-2 1 0 1 2 1 2 1 1 1 1 1 0 1-1 1-1 1-3 1-3 1-2 1 1 1 0 1 1 1 1 1 1 1-1 1-1 1 0 1 1 1 1 1 1 1 1 1 2 1 4 1 3 1 1 1 1 1 2 1 1 1 2 1 1 1 1 1 0 1 0 1 0 1 0 1-1 1 0 1 0 1 1 1 1 1 2 1 0 1-1 1-1 1 0 1 0 1-1 1 0 1 0 1-2 1-5 1-7 1-7 1-5 1-2 1-1 1-1 1-2 1 0 1 1 1 1 1-1 1-5 1-6 1-5 1-2 1-1 1-2 1-3 1-3 1-3 1-3 1-3 1-2 1-1 1-2 1-3 1-2 1-4 1-5 1-5" stroke="#7E2F8E"/>
<path d="M0,1566l1 3 1 4 1 2 1 1 1-2 1-4 1-4 1-2 1-1 1 0 1-1 1-1 1 0 1 0 1-1 1-3 1-3 1-3 1-3 1-4 1-5 1-4 1-1 1 1 1 1 1-2 1-3 1-5 1-6 1-5 1-3 1-2 1-5 1-6 1-7 1-9 1-11 1-11 1-12 1-13 1-16 1-17 1-17 1-20 1-23 1-28 1-30 1-31 1-32 1-35 1-38 1-45 1-53 1-63 1-74 1-77 1-77 1-78 1-78 1-79 1-79 1-79 1-80 1-59 1-27 1-5 1 9 1 31 1 58 1 67 1 68 1 67 1 62 1 62 1 60 1 61 1 60 1 58 1 44 1 31 1 20 1 12 1 7 1 1 1-6 1-19 1-18 1-2 1 15 1 21 1 26 1 29 1 32 1 31 1 29 1 27 1 24 1 23 1 20 1 16 1 12 1 10 1 9 1 5 1 1 1 0 1-1 1-1 1-3 1-4 1-6 1-3 1 1 1 6 1 7 1 7 1 4 1 1 1 0 1-3 1-5 1-4 1-4 1-8 1-5 1 0 1 7 1 10 1 11 1 7 1 4 1 3 1 1 1-1 1-1 1-2 1-2 1 0 1 2 1 2 1 1 1 0 1 1 1 1 1 1 1 1 1 0 1-1 1-1 1 0 1-1 1-2 1-2 1-2 1-1 1 1 1 0 1-1 1-1 1-1 1-1 1-1 1 0 1 1 1 2 1 1 1 2 1 1 1 1 1 2 1 1 1 1 1 2 1 2 1 2 1 1 1 1 1 0 1 1 1 1 1 1 1-1 1-2 1-4 1-3 1-3 1-3 1-1 1 0 1 0 1 0 1-1 1-1 1-3 1-3 1-3 1-1 1-3 1-4 1-6 1-6 1-5 1-4 1-2 1-1 1-2 1-3 1-4 1-4 1-3 1-2 1-1 1-1 1-1 1-4 1-7 1-6 1-4 1-3 1-3 1-4 1-4 1-3 1-4 1-3" stroke="#77AC30"/>
<path d="M0,1582l1-1 1-2 1-1 1 1 1 5 1 3 1-1 1-6 1-5 1-2 1-1 1-1 1-1 1-4 1-3 1-2 1 0 1 1 1-1 1-4 1-4 1-3 1-1 1-1 1-2 1-2 1-5 1-4 1-3 1-2 1-3 1-5 1-7 1-9 1-9 1-8 1-9 1-10 1-13 1-14 1-14 1-16 1-18 1-22 1-22 1-25 1-29 1-33 1-36 1-37 1-38 1-43 1-51 1-60 1-71 1-76 1-77 1-78 1-78 1-80 1-80 1-78 1-77 1-55 1-24 1-3 1 10 1 31 1 59 1 66 1 67 1 64 1 62 1 61 1 62 1 61 1 58 1 55 1 43 1 32 1 22 1 15 1 7 1 2 1-4 1-16 1-16 1-3 1 13 1 19 1 26 1 30 1 33 1 31 1 28 1 26 1 25 1 23 1 21 1 16 1 12 1 7 1 4 1 3 1 1 1 0 1-2 1-3 1-2 1-2 1-2 1-3 1-2 1 2 1 5 1 6 1 5 1 3 1 1 1-1 1-1 1 0 1-2 1-8 1-10 1-4 1 6 1 11 1 11 1 6 1 3 1 3 1 3 1 1 1-1 1-2 1-2 1-3 1-2 1-1 1 0 1 2 1 3 1 2 1 0 1-3 1-3 1-4 1-2 1-1 1 1 1 2 1 1 1 0 1-1 1 0 1 0 1 1 1 2 1 0 1 0 1-2 1-3 1-2 1 1 1 2 1 3 1 2 1 1 1 3 1 2 1 2 1 0 1 0 1-1 1 0 1 2 1 2 1 1 1 0 1 1 1 2 1 1 1-2 1-3 1-4 1 0 1 2 1 3 1 0 1-4 1-5 1-3 1-2 1 0 1-2 1-3 1-2 1-2 1-3 1-4 1-4 1-5 1-5 1-4 1-4 1-5 1-5 1-4 1-4 1-2 1-2 1-3 1-5 1-4 1-4 1-3 1-4 1-6 1-4 1-4 1-3 1-3 1-1 1-1" stroke="#4DBEEE"/>
<path d="M0,1595l1 1 1 0 1-1 1-1 1-1 1 1 1 1 1 0 1-2 1-5 1-3 1-1 1 1 1-1 1-1 1-3 1-3 1-3 1-2 1-2 1-1 1-3 1-4 1-4 1-1 1 1 1 0 1-2 1-4 1-4 1-5 1-8 1-8 1-8 1-7 1-7 1-10 1-12 1-13 1-13 1-12 1-12 1-14 1-19 1-24 1-26 1-29 1-32 1-35 1-38 1-40 1-45 1-51 1-59 1-70 1-76 1-79 1-80 1-78 1-76 1-72 1-73 1-76 1-57 1-25 1-5 1 10 1 31 1 57 1 67 1 70 1 67 1 61 1 57 1 57 1 57 1 55 1 51 1 39 1 30 1 23 1 16 1 11 1 5 1-1 1-14 1-16 1-4 1 11 1 21 1 28 1 31 1 32 1 29 1 25 1 21 1 21 1 20 1 18 1 15 1 11 1 9 1 8 1 4 1 2 1-2 1-3 1-1 1 0 1-1 1-1 1-2 1 0 1 4 1 6 1 5 1 2 1 0 1 1 1 2 1 0 1-2 1-5 1-9 1-6 1 1 1 7 1 9 1 8 1 5 1 2 1 1 1 0 1 1 1 1 1 1 1 1 1 0 1-1 1-4 1-4 1-3 1 1 1 2 1 2 1 2 1 1 1 1 1 1 1 1 1 0 1-1 1-2 1-2 1-1 1-1 1 0 1 1 1 1 1 0 1 0 1 0 1-1 1 0 1 0 1 1 1 2 1 1 1 3 1 5 1 4 1 1 1-2 1-2 1-1 1 3 1 2 1 3 1 3 1 3 1 1 1-1 1-3 1-3 1-1 1 2 1 3 1 1 1-2 1-2 1-2 1-1 1-2 1-3 1-4 1-2 1 0 1 0 1-1 1-2 1-2 1-4 1-3 1-4 1-4 1-3 1-3 1-3 1-3 1-3 1-4 1-3 1-5 1-4 1-4 1-1 1 0 1-2 1-5 1-6 1-5 1-4 1-4 1-3 1-2" stroke="#A2142F"/>
<path d="M0,1565l1-1 1-1 1-3 1-3 1 0 1 1 1 0 1 0 1 0 1-1 1-3 1-2 1 0 1-1 1-2 1-2 1-5 1-5 1-4 1-2 1 0 1 0 1-2 1-2 1-3 1-2 1-4 1-4 1-5 1-6 1-5 1-5 1-7 1-8 1-8 1-9 1-10 1-12 1-12 1-14 1-13 1-14 1-15 1-19 1-23 1-27 1-30 1-33 1-34 1-37 1-38 1-45 1-53 1-63 1-73 1-79 1-80 1-82 1-83 1-82 1-78 1-76 1-76 1-57 1-25 1-5 1 9 1 33 1 62 1 67 1 66 1 66 1 65 1 66 1 64 1 61 1 57 1 55 1 44 1 32 1 20 1 11 1 5 1-1 1-6 1-17 1-17 1-2 1 13 1 20 1 25 1 29 1 34 1 33 1 32 1 30 1 26 1 22 1 19 1 14 1 11 1 9 1 7 1 5 1 2 1 2 1-1 1-4 1-4 1-5 1-5 1-5 1-1 1 6 1 8 1 9 1 7 1 3 1-1 1-3 1-4 1-3 1-5 1-10 1-8 1 2 1 10 1 10 1 9 1 4 1 2 1 2 1 1 1 0 1 0 1 0 1-2 1-2 1-1 1-1 1-1 1-1 1 2 1 2 1 1 1 0 1-1 1 1 1 3 1 2 1 0 1 0 1-1 1 0 1-1 1-2 1-3 1-2 1 0 1 0 1-1 1-1 1 0 1 0 1 2 1 3 1 4 1 4 1 0 1-2 1 1 1 3 1 4 1 3 1 0 1-1 1 1 1 2 1 1 1 2 1 0 1-1 1-1 1-1 1 2 1 2 1 2 1 1 1-1 1-2 1-2 1-3 1-3 1-5 1-4 1-3 1 0 1 0 1-2 1-4 1-5 1-3 1-3 1-1 1-4 1-3 1-3 1-2 1 0 1 0 1 0 1-2 1-4 1-4 1-5 1-4 1-3 1-1 1-1 1-2 1-2 1-2 1-3 1-3 1-4" stroke="#0072BD"/>
<path d="M0,1537l1-1 1 0 1 1 1 0 1 0 1-1 1 0 1 0 1-1 1-2 1-2 1-2 1-1 1 1 1-1 1-1 1-2 1-2 1-3 1-2 1-1 1-1 1-3 1-5 1-5 1-5 1-5 1-3 1-2 1-4 1-7 1-7 1-8 1-6 1-5 1-6 1-7 1-9 1-12 1-14 1-17 1-17 1-17 1-21 1-23 1-24 1-26 1-31 1-34 1-37 1-38 1-43 1-53 1-64 1-75 1-82 1-83 1-83 1-82 1-80 1-79 1-79 1-82 1-60 1-25 1-4 1 12 1 34 1 60 1 66 1 70 1 69 1 66 1 64 1 61 1 61 1 60 1 57 1 45 1 31 1 20 1 13 1 4 1-2 1-9 1-21 1-22 1-5 1 15 1 26 1 32 1 35 1 34 1 33 1 32 1 30 1 28 1 24 1 20 1 17 1 14 1 11 1 6 1 2 1-1 1-2 1-1 1-1 1-3 1-4 1-4 1-3 1-1 1 4 1 6 1 7 1 4 1 1 1 1 1 0 1-2 1-2 1-3 1-9 1-9 1-2 1 5 1 9 1 10 1 5 1 3 1 4 1 2 1 1 1 0 1-2 1-3 1-1 1-1 1-1 1-3 1-2 1 0 1 1 1 1 1 0 1 0 1-1 1-2 1-3 1-2 1-1 1 0 1 1 1 1 1 0 1-1 1-1 1-2 1-2 1-4 1-3 1-2 1-2 1 0 1 0 1 3 1 3 1 5 1 3 1 2 1 1 1 2 1 2 1 1 1-1 1-1 1 0 1 1 1 0 1-1 1-1 1-2 1 0 1 1 1 3 1 5 1 4 1 2 1-3 1-5 1-5 1-4 1-3 1-4 1-3 1-2 1-2 1-3 1-4 1-5 1-4 1-2 1-2 1-1 1-1 1-1 1-2 1-2 1-3 1-2 1-3 1-4 1-5 1-5 1-5 1-4 1-3 1-3 1-1 1-2 1-1 1-3 1-3 1-6" stroke="#D95319"/>
<path d="M0,1591l1 1 1 1 1 1 1 1 1 1 1-1 1-1 1-1 1-1 1-1 1-1 1-1 1-2 1-2 1 1 1 0 1-2 1-3 1-2 1 0 1 0 1-2 1-2 1-4 1-3 1-5 1-5 1-4 1-4 1-3 1-3 1-4 1-5 1-5 1-4 1-5 1-8 1-11 1-13 1-16 1-15 1-16 1-15 1-19 1-22 1-25 1-29 1-32 1-36 1-38 1-39 1-42 1-48 1-60 1-70 1-77 1-78 1-76 1-75 1-74 1-74 1-75 1-76 1-55 1-22 1-3 1 9 1 31 1 56 1 64 1 66 1 66 1 64 1 63 1 62 1 58 1 54 1 50 1 40 1 29 1 22 1 15 1 10 1 4 1-2 1-12 1-14 1-2 1 12 1 20 1 26 1 30 1 30 1 28 1 25 1 23 1 21 1 20 1 17 1 15 1 11 1 7 1 2 1-1 1-2 1-2 1 0 1 1 1 0 1-2 1-3 1-2 1-1 1 1 1 1 1 3 1 6 1 5 1 2 1-1 1-3 1-4 1-5 1-8 1-6 1-1 1 5 1 9 1 10 1 6 1 2 1 2 1 1 1-1 1-1 1 0 1-1 1 0 1-1 1 0 1-2 1-1 1 0 1-1 1-1 1-1 1-1 1-2 1-2 1-3 1-1 1 2 1 3 1 1 1-1 1-3 1-5 1-4 1-1 1 1 1 1 1 1 1 0 1-1 1 0 1 2 1 2 1 0 1-1 1-1 1 2 1 3 1 3 1 1 1-1 1-2 1 0 1 1 1 3 1 2 1 3 1 2 1 0 1 0 1 1 1 2 1-1 1-3 1-2 1 0 1 1 1-1 1-4 1-5 1-4 1-3 1-3 1-2 1 0 1 1 1 0 1-1 1-2 1-3 1-3 1-4 1-2 1-1 1-1 1-2 1-3 1-5 1-5 1-3 1-2 1-2 1-1 1-2 1-3 1-5 1-4 1-5 1-3 1-2 1-2" stroke="#EDB120"/>
<path d="M0,1629l1 0 1-1 1-1 1-1 1-1 1 1 1 1 1-1 1-2 1-2 1 0 1 1 1 2 1 1 1 0 1-3 1-4 1-3 1-1 1-1 1-1 1 0 1-2 1 0 1-1 1-1 1-3 1-5 1-6 1-6 1-3 1-2 1-2 1-4 1-6 1-8 1-10 1-10 1-11 1-12 1-13 1-14 1-18 1-21 1-26 1-29 1-33 1-35 1-36 1-37 1-39 1-44 1-48 1-54 1-63 1-70 1-75 1-75 1-74 1-71 1-69 1-67 1-66 1-50 1-22 1-5 1 10 1 31 1 55 1 62 1 62 1 60 1 60 1 61 1 61 1 58 1 54 1 47 1 34 1 25 1 20 1 17 1 14 1 10 1 4 1-3 1-6 1 1 1 11 1 18 1 21 1 25 1 26 1 25 1 24 1 21 1 21 1 17 1 14 1 10 1 7 1 6 1 4 1 3 1 1 1 0 1 0 1 0 1 0 1-2 1-3 1-2 1-1 1 0 1 2 1 4 1 3 1 0 1-2 1-1 1 0 1 2 1 1 1-3 1-3 1-2 1 1 1 4 1 4 1 2 1 1 1 0 1 1 1-1 1-1 1-1 1 0 1 2 1 0 1 0 1 0 1 2 1 3 1 1 1 1 1 1 1 0 1-2 1-2 1-3 1-1 1-1 1-1 1-1 1 0 1 1 1 0 1 0 1-1 1-2 1-1 1 0 1 0 1 0 1 1 1 2 1 4 1 4 1 3 1 3 1 2 1 3 1 1 1 1 1 0 1-1 1 1 1 2 1 3 1 0 1-1 1-1 1 0 1 1 1 1 1 0 1-1 1-2 1-1 1 0 1 0 1-1 1-1 1-1 1 2 1 3 1 3 1-1 1-2 1-4 1-3 1-4 1-2 1-2 1-1 1-1 1-1 1-2 1-1 1-2 1-3 1-3 1-3 1-2 1-1 1-3 1-5 1-4 1-3 1-1 1 0 1-1 1-2 1-3 1-2" stroke="#7E2F8E"/>
<path d="M0,1623l1-1 1-2 1-2 1 0 1 2 1 3 1 3 1 0 1-1 1-2 1-2 1-1 1 0 1 0 1 0 1-2 1-4 1-5 1-3 1-1 1-2 1-3 1-4 1-3 1-1 1-1 1 0 1-2 1-3 1-6 1-7 1-8 1-7 1-5 1-3 1-6 1-8 1-11 1-12 1-14 1-15 1-15 1-15 1-20 1-24 1-29 1-30 1-32 1-36 1-38 1-42 1-46 1-49 1-55 1-65 1-73 1-75 1-76 1-75 1-75 1-75 1-73 1-72 1-52 1-21 1-4 1 9 1 29 1 56 1 64 1 66 1 65 1 59 1 58 1 56 1 57 1 54 1 51 1 39 1 31 1 23 1 16 1 10 1 6 1 0 1-10 1-12 1-2 1 10 1 16 1 21 1 25 1 29 1 31 1 28 1 23 1 20 1 17 1 17 1 14 1 11 1 9 1 6 1 4 1 1 1-2 1-4 1-3 1-4 1-3 1-2 1-2 1 0 1 4 1 8 1 8 1 4 1-1 1-3 1-4 1-3 1-5 1-6 1-8 1-5 1 3 1 8 1 9 1 6 1 2 1-1 1 0 1 1 1 1 1 1 1 1 1 1 1 1 1 1 1 2 1 0 1-1 1-3 1-1 1-1 1-1 1 0 1-1 1 0 1 0 1-2 1-2 1-1 1 1 1 0 1-1 1-2 1-1 1 1 1 2 1 2 1 2 1 1 1 2 1 0 1-1 1-3 1-2 1 0 1 2 1 4 1 2 1 2 1 1 1-1 1-1 1 1 1 4 1 6 1 3 1 1 1 0 1-1 1-2 1-1 1-3 1-2 1-1 1 1 1 1 1 1 1 0 1 0 1 0 1-1 1-1 1-2 1-3 1-1 1-3 1-2 1-2 1 0 1 0 1-3 1-6 1-5 1-2 1 0 1 0 1-1 1-2 1 0 1-1 1 0 1-1 1-2 1-5 1-5 1-5 1-3 1-2 1-2 1-3 1-4" stroke="#77AC30"/>
<path d="M0,1574l1 1 1 0 1 0 1 1 1 0 1 0 1-1 1-4 1-3 1-1 1 1 1 1 1-1 1-3 1-3 1-3 1-2 1-2 1-2 1-3 1-2 1-2 1-1 1-1 1-2 1-2 1-2 1-4 1-4 1-5 1-6 1-6 1-7 1-6 1-6 1-7 1-8 1-10 1-14 1-17 1-17 1-16 1-13 1-14 1-19 1-24 1-31 1-35 1-36 1-37 1-39 1-43 1-50 1-59 1-71 1-77 1-77 1-76 1-77 1-76 1-76 1-74 1-73 1-55 1-24 1-6 1 8 1 29 1 56 1 65 1 67 1 67 1 65 1 64 1 62 1 60 1 57 1 53 1 41 1 28 1 20 1 14 1 9 1 6 1 0 1-9 1-11 1 0 1 13 1 19 1 23 1 24 1 26 1 27 1 27 1 26 1 27 1 24 1 20 1 16 1 11 1 6 1 5 1 2 1-2 1-3 1-2 1-1 1-2 1-3 1-2 1-3 1-1 1 2 1 5 1 6 1 5 1 3 1 2 1 1 1-2 1-4 1-6 1-9 1-6 1 1 1 7 1 9 1 8 1 4 1 0 1 0 1 0 1 0 1 1 1 0 1-1 1-1 1-1 1 1 1 2 1 1 1 1 1 1 1 0 1-1 1-3 1-2 1 0 1-1 1-1 1-1 1 0 1 0 1 0 1-1 1-2 1-2 1-3 1-2 1 0 1 0 1 2 1 2 1 3 1 2 1-2 1-1 1 1 1 3 1 3 1 3 1 1 1-1 1 0 1 1 1 1 1 1 1 0 1-1 1 0 1 0 1 1 1 3 1 3 1 2 1 0 1-2 1-2 1-4 1-4 1-3 1-1 1 0 1 0 1-1 1-2 1-3 1-3 1-4 1-3 1-4 1-5 1-4 1-3 1-1 1-1 1-2 1-3 1-3 1-2 1-2 1-3 1-2 1-2 1 0 1-1 1-2 1-3 1-2 1-3 1-4 1-5 1-7 1-7" stroke="#4DBEEE"/>
<path d="M0,1599l1 1 1 0 1 1 1-2 1-2 1-4 1-4 1-2 1 0 1-1 1 0 1 0 1 0 1-1 1-3 1-4 1-1 1-1 1 0 1 0 1-2 1-3 1-3 1-2 1-1 1-3 1-5 1-5 1-6 1-6 1-7 1-5 1-6 1-5 1-7 1-7 1-8 1-10 1-11 1-13 1-16 1-16 1-15 1-20 1-24 1-26 1-30 1-32 1-35 1-36 1-38 1-44 1-51 1-57 1-66 1-74 1-76 1-79 1-78 1-76 1-74 1-75 1-74 1-52 1-20 1-2 1 11 1 31 1 56 1 63 1 65 1 65 1 61 1 62 1 60 1 59 1 57 1 53 1 41 1 29 1 21 1 16 1 12 1 7 1-2 1-13 1-13 1-1 1 13 1 18 1 22 1 27 1 30 1 30 1 27 1 26 1 21 1 18 1 17 1 14 1 12 1 9 1 7 1 3 1 0 1 0 1 0 1-1 1-3 1-7 1-6 1-3 1-1 1 5 1 7 1 6 1 4 1 1 1-1 1-2 1-3 1-2 1-5 1-9 1-7 1 0 1 7 1 10 1 10 1 4 1 1 1 0 1 0 1 0 1 1 1 2 1 0 1-1 1-1 1-2 1 0 1 1 1 1 1 0 1 0 1-1 1-1 1-1 1-1 1-1 1-1 1-1 1-2 1-2 1-1 1-1 1 1 1 3 1 3 1 1 1-2 1-2 1-1 1 0 1 1 1 1 1 3 1 4 1 3 1 3 1 4 1 3 1 2 1 2 1 1 1 2 1 2 1 0 1-2 1-3 1-2 1 0 1 1 1 1 1 2 1 1 1 0 1 1 1 0 1 0 1 1 1-1 1-3 1-5 1-4 1-3 1-1 1 1 1 1 1-1 1-2 1-3 1-2 1-3 1-2 1-2 1-3 1-3 1-3 1-2 1-3 1-2 1-1 1-3 1-4 1-2 1-1 1-4 1-6 1-5 1-2 1 0 1 0 1-2 1-4" stroke="#A2142F"/>
<path d="M0,1585l1-2 1 0 1 2 1 3 1-1 1-2 1-2 1 1 1 1 1 0 1 0 1-1 1-2 1-3 1-2 1 1 1 2 1 1 1 0 1-2 1-3 1-4 1-3 1-2 1-2 1-2 1-3 1-4 1-5 1-6 1-5 1-5 1-5 1-7 1-9 1-9 1-10 1-10 1-12 1-12 1-13 1-14 1-13 1-18 1-22 1-26 1-31 1-34 1-38 1-39 1-42 1-45 1-50 1-54 1-63 1-73 1-78 1-78 1-79 1-77 1-76 1-74 1-72 1-52 1-23 1-5 1 8 1 29 1 56 1 65 1 68 1 66 1 61 1 61 1 60 1 60 1 55 1 49 1 37 1 29 1 22 1 17 1 10 1 3 1-3 1-13 1-12 1 0 1 14 1 19 1 24 1 26 1 28 1 29 1 27 1 25 1 24 1 23 1 20 1 17 1 11 1 7 1 4 1 2 1 1 1 0 1 0 1-2 1-2 1-3 1-3 1-2 1-1 1 2 1 6 1 7 1 6 1 3 1-1 1-4 1-4 1-3 1-2 1-7 1-5 1-1 1 5 1 8 1 9 1 6 1 1 1 0 1-2 1-2 1-1 1 0 1 1 1 2 1 1 1 0 1 0 1 0 1-1 1-3 1-2 1-1 1 2 1 3 1 0 1-1 1 0 1 2 1 3 1 2 1 0 1-1 1-2 1 0 1 0 1 1 1 0 1 0 1 0 1 1 1 0 1-1 1 0 1 2 1 3 1 4 1 2 1-1 1-1 1 2 1 2 1 1 1 1 1 3 1 3 1 0 1-1 1-1 1 0 1 2 1 1 1 2 1 2 1 0 1-2 1-4 1-4 1-2 1-1 1-2 1-4 1-4 1-2 1 0 1-1 1-2 1-1 1-1 1-1 1-2 1-5 1-4 1-1 1-1 1-3 1-5 1-5 1-3 1-4 1-2 1-1 1 1 1-1 1-2 1-3 1-3 1-4 1-4 1-3 1-5 1-5" stroke="#0072BD"/>
<path d="M0,1601l1-1 1 0 1 1 1 1 1 1 1 0 1-2 1-2 1-2 1-1 1 0 1 0 1-1 1-3 1-4 1-3 1 1 1 1 1 2 1 0 1-2 1-3 1-3 1-3 1-4 1-3 1-4 1-5 1-5 1-6 1-4 1-4 1-1 1-2 1-4 1-6 1-10 1-11 1-13 1-15 1-16 1-17 1-16 1-17 1-22 1-27 1-32 1-32 1-34 1-36 1-40 1-45 1-50 1-57 1-68 1-76 1-78 1-77 1-75 1-74 1-74 1-75 1-74 1-52 1-19 1-1 1 10 1 27 1 53 1 63 1 64 1 64 1 61 1 62 1 61 1 56 1 53 1 50 1 41 1 29 1 20 1 15 1 12 1 8 1 1 1-10 1-12 1 1 1 14 1 18 1 21 1 25 1 27 1 29 1 26 1 24 1 21 1 18 1 17 1 15 1 12 1 7 1 3 1-1 1-1 1 0 1 0 1 0 1-3 1-6 1-6 1-5 1 0 1 5 1 8 1 7 1 6 1 1 1-1 1-3 1-4 1-5 1-4 1-6 1-4 1 2 1 7 1 9 1 6 1 1 1-2 1-2 1-2 1 1 1 2 1 1 1 1 1 1 1 1 1 1 1 0 1-1 1-1 1-4 1-5 1-4 1-3 1 0 1 2 1 1 1-1 1-2 1-1 1 2 1 3 1 2 1 1 1 0 1-2 1-1 1-1 1-1 1-1 1 1 1 2 1 1 1 2 1 1 1 1 1 0 1 1 1 3 1 3 1 2 1 1 1-1 1-1 1 0 1 3 1 4 1 4 1 1 1 0 1 1 1 0 1-1 1-2 1-3 1-2 1-1 1 0 1 2 1 0 1-3 1-4 1-3 1-1 1 0 1-1 1-3 1-2 1-2 1-1 1-2 1-4 1-4 1-4 1-4 1-4 1-1 1 1 1 1 1-1 1-5 1-6 1-5 1-3 1 0 1-1 1-3 1-5 1-5 1-3 1-3 1-4" stroke="#D95319"/>
<path d="M0,1621l1-1 1-2 1-2 1 1 1 3 1 3 1 0 1-4 1-7 1-7 1-4 1-1 1 1 1 0 1 1 1-1 1-1 1-2 1-3 1-2 1-2 1-2 1-2 1-2 1-2 1-3 1-3 1-3 1-4 1-4 1-6 1-7 1-9 1-7 1-8 1-8 1-9 1-9 1-9 1-12 1-14 1-16 1-17 1-21 1-23 1-27 1-31 1-34 1-37 1-38 1-39 1-43 1-50 1-59 1-68 1-75 1-77 1-77 1-75 1-70 1-70 1-71 1-72 1-52 1-21 1-3 1 9 1 29 1 53 1 62 1 66 1 66 1 63 1 62 1 62 1 60 1 54 1 47 1 38 1 30 1 20 1 13 1 6 1 5 1 2 1-8 1-8 1 2 1 12 1 19 1 22 1 28 1 29 1 28 1 25 1 22 1 21 1 19 1 19 1 15 1 12 1 5 1 1 1 1 1 2 1 2 1 1 1-1 1-1 1-2 1-2 1-3 1-3 1 1 1 4 1 6 1 5 1 4 1 2 1 2 1-2 1-3 1-5 1-5 1-4 1 1 1 5 1 6 1 6 1 5 1 2 1 2 1 0 1-1 1-2 1-3 1-1 1 0 1 1 1 2 1 2 1 1 1 0 1-1 1-1 1 2 1 2 1 2 1 0 1-1 1-1 1-1 1-1 1-1 1-2 1-3 1-2 1 2 1 2 1 1 1-1 1-2 1-3 1-1 1 2 1 3 1 2 1 1 1 2 1 2 1 2 1 0 1 0 1 0 1 0 1 0 1 2 1 2 1 1 1 0 1-1 1 0 1 0 1-2 1-1 1-2 1-1 1-1 1-2 1-2 1-1 1 1 1 1 1 1 1-1 1-2 1-5 1-7 1-6 1-3 1-1 1-1 1-2 1-3 1-4 1-3 1-3 1-1 1-1 1 0 1-1 1-4 1-4 1-4 1-2 1-1 1-2 1-2 1-4 1-4 1-2 1 0 1 0 1-4 1-5" stroke="#EDB120"/>
<path d="M0,1575l1-3 1-2 1-2 1-1 1-2 1-3 1-2 1 1 1 3 1 3 1 0 1-1 1-3 1-5 1-4 1-3 1-1 1-1 1-1 1 0 1 1 1-2 1-5 1-5 1-4 1-2 1-2 1-3 1-3 1-5 1-6 1-7 1-6 1-7 1-7 1-8 1-11 1-12 1-13 1-10 1-11 1-13 1-15 1-21 1-24 1-27 1-30 1-32 1-34 1-35 1-40 1-46 1-52 1-60 1-70 1-76 1-78 1-80 1-80 1-80 1-80 1-81 1-78 1-56 1-23 1-4 1 10 1 31 1 57 1 65 1 67 1 67 1 62 1 63 1 63 1 61 1 57 1 54 1 43 1 32 1 22 1 12 1 3 1-2 1-6 1-15 1-15 1-3 1 12 1 19 1 23 1 29 1 31 1 32 1 30 1 28 1 26 1 24 1 21 1 17 1 13 1 8 1 5 1 3 1 1 1-1 1 0 1 0 1 1 1-2 1-7 1-7 1-3 1 2 1 5 1 5 1 3 1 1 1 0 1 0 1-2 1-4 1-7 1-12 1-10 1-1 1 6 1 11 1 12 1 6 1 2 1 1 1 1 1 2 1 4 1 3 1 2 1-1 1-3 1-2 1 0 1 0 1-1 1-3 1-2 1 1 1 2 1 1 1 1 1 1 1-1 1-2 1-3 1 0 1 1 1 1 1-2 1-3 1-3 1-2 1 0 1 2 1 2 1 2 1 1 1 0 1-1 1 0 1 0 1 2 1 2 1 2 1 3 1 2 1 1 1 1 1 1 1 2 1 2 1 1 1 0 1 0 1-1 1 0 1 0 1-1 1-2 1-1 1-1 1 0 1 0 1-1 1-2 1-1 1 1 1 1 1-3 1-6 1-6 1-3 1-1 1 1 1-2 1-5 1-6 1-4 1-3 1-2 1-1 1-1 1-2 1-2 1-2 1-3 1-3 1-3 1-3 1-3 1-3 1-4 1-4 1-4 1-4 1-4 1-4" stroke="#7E2F8E"/>
<path d="M0,1559l1 0 1 1 1 2 1 1 1-1 1-2 1-3 1-3 1-2 1-1 1 0 1 0 1 0 1-1 1 0 1-1 1-2 1-4 1-3 1-2 1-1 1 1 1 1 1 0 1-1 1-3 1-4 1-3 1-5 1-6 1-5 1-4 1-3 1-5 1-5 1-8 1-9 1-12 1-13 1-15 1-14 1-16 1-15 1-17 1-21 1-25 1-30 1-33 1-37 1-38 1-40 1-45 1-51 1-60 1-71 1-77 1-76 1-77 1-77 1-80 1-81 1-80 1-77 1-52 1-20 1-1 1 10 1 31 1 59 1 68 1 67 1 65 1 59 1 60 1 61 1 62 1 60 1 54 1 43 1 29 1 20 1 13 1 8 1 5 1-1 1-15 1-16 1-3 1 13 1 21 1 27 1 29 1 31 1 30 1 29 1 27 1 24 1 19 1 14 1 13 1 12 1 10 1 7 1 5 1 1 1 0 1-3 1-3 1-4 1-4 1-3 1-1 1-1 1 2 1 4 1 5 1 4 1 0 1-1 1-1 1-2 1-3 1-4 1-9 1-6 1 2 1 9 1 9 1 7 1 2 1 0 1 1 1 1 1 1 1 2 1 1 1-1 1 0 1 0 1 0 1-1 1-2 1-1 1 0 1-1 1-2 1-4 1-4 1-2 1 0 1 1 1 1 1 1 1 0 1 0 1 0 1 1 1 0 1 0 1 1 1 1 1-1 1-2 1-2 1-1 1 2 1 4 1 4 1 2 1 2 1 1 1 2 1 0 1-2 1-3 1 0 1 4 1 6 1 3 1 0 1-1 1-2 1-2 1-2 1 1 1 3 1 3 1 1 1-1 1 0 1-2 1-2 1-1 1-1 1-1 1-2 1-1 1 0 1 0 1-4 1-5 1-5 1-2 1-1 1-1 1 1 1 1 1 1 1-1 1-3 1-6 1-4 1-3 1-2 1-3 1-3 1-2 1-1 1 0 1-1 1-3 1-4 1-4 1-6 1-6" stroke="#77AC30"/>
<path d="M0,1570l1 0 1 2 1 1 1 0 1 0 1-1 1-1 1-1 1 0 1-1 1-2 1-4 1-3 1-2 1-1 1 0 1 0 1-1 1-1 1-1 1-2 1-1 1-2 1-1 1-1 1-4 1-5 1-6 1-5 1-3 1-2 1-4 1-6 1-7 1-7 1-10 1-12 1-12 1-11 1-10 1-11 1-14 1-19 1-24 1-26 1-28 1-30 1-31 1-35 1-36 1-40 1-44 1-49 1-59 1-70 1-78 1-78 1-78 1-79 1-80 1-81 1-79 1-78 1-55 1-21 1-1 1 12 1 31 1 56 1 65 1 68 1 67 1 62 1 59 1 58 1 59 1 59 1 57 1 45 1 32 1 21 1 12 1 4 1-1 1-7 1-19 1-19 1-3 1 16 1 26 1 29 1 30 1 28 1 28 1 27 1 26 1 26 1 25 1 21 1 14 1 10 1 7 1 6 1 5 1 4 1 1 1 0 1-2 1-4 1-6 1-6 1-4 1-1 1 2 1 6 1 6 1 4 1 0 1 0 1 0 1 1 1-1 1-5 1-13 1-12 1-3 1 6 1 11 1 11 1 5 1 1 1 0 1 0 1 2 1 1 1 2 1 1 1 2 1 0 1-1 1-3 1-2 1 2 1 3 1 1 1-2 1-5 1-5 1-3 1-1 1 0 1 1 1 0 1-1 1-3 1-1 1 0 1 0 1 2 1 1 1 0 1-2 1-1 1 0 1 1 1 2 1 3 1 1 1 2 1 1 1 1 1 0 1 1 1 2 1 3 1 3 1 2 1 1 1 1 1 1 1 0 1 1 1-1 1-1 1-4 1-2 1-1 1 2 1 1 1 0 1 0 1 1 1-1 1-2 1-4 1-4 1-4 1-4 1-4 1-3 1-2 1-1 1-1 1 0 1-1 1-1 1-2 1-5 1-5 1-5 1-3 1-2 1-2 1-2 1-2 1-2 1-2 1-1 1-2 1-4 1-6 1-4 1-4 1-4 1-4" stroke="#4DBEEE"/>
<path d="M0,1568l1 0 1 0 1-1 1 0 1-1 1-1 1-2 1-2 1-2 1-1 1-1 1 0 1 0 1-1 1-1 1-2 1-2 1-1 1-2 1-3 1-5 1-4 1-3 1-1 1-1 1-3 1-5 1-5 1-5 1-4 1-4 1-4 1-6 1-6 1-6 1-6 1-9 1-11 1-12 1-15 1-16 1-15 1-14 1-19 1-23 1-26 1-28 1-31 1-34 1-38 1-41 1-46 1-52 1-59 1-71 1-77 1-78 1-79 1-79 1-79 1-77 1-78 1-77 1-55 1-23 1-3 1 11 1 35 1 61 1 66 1 68 1 67 1 65 1 64 1 62 1 61 1 57 1 53 1 40 1 29 1 21 1 15 1 7 1 2 1-2 1-12 1-13 1 0 1 13 1 19 1 25 1 27 1 28 1 28 1 27 1 28 1 29 1 26 1 20 1 14 1 10 1 8 1 7 1 4 1 1 1-1 1-2 1-3 1-3 1-4 1-5 1-3 1-1 1 5 1 7 1 6 1 4 1 2 1 0 1-1 1-4 1-5 1-5 1-9 1-9 1-2 1 7 1 12 1 13 1 7 1 2 1 1 1 0 1 0 1-1 1-1 1-1 1 0 1-2 1-3 1-2 1-2 1 0 1 0 1-1 1 1 1 2 1 0 1-2 1-2 1-1 1 0 1 0 1 1 1 2 1 2 1 1 1-1 1-5 1-4 1-3 1-1 1-1 1 0 1 0 1 1 1 2 1 3 1 2 1 1 1 1 1 0 1 0 1 1 1 1 1 1 1 1 1 2 1 1 1 2 1-1 1-1 1-2 1-2 1-1 1 0 1 0 1 0 1 2 1 3 1 2 1-1 1-5 1-3 1-2 1-2 1-5 1-6 1-4 1-3 1-1 1-2 1-2 1-3 1-3 1-3 1-3 1-2 1-2 1 0 1 1 1-1 1-2 1-4 1-4 1-6 1-4 1-4 1-3 1-3 1-4 1-3 1-3 1-4 1-6" stroke="#A2142F"/>
<path d="M0,1642l1-1 1 0 1 0 1 2 1 1 1-2 1-3 1-3 1-2 1 0 1 1 1 3 1 2 1-2 1-3 1-4 1-2 1-1 1-1 1-2 1-4 1-2 1-2 1-1 1-1 1-2 1-4 1-5 1-4 1-3 1-2 1-2 1-5 1-7 1-8 1-9 1-9 1-10 1-12 1-14 1-16 1-14 1-15 1-18 1-22 1-26 1-32 1-36 1-37 1-39 1-41 1-46 1-50 1-56 1-64 1-70 1-74 1-75 1-74 1-71 1-69 1-69 1-68 1-49 1-20 1-4 1 7 1 29 1 54 1 63 1 63 1 62 1 60 1 60 1 61 1 57 1 53 1 45 1 36 1 26 1 21 1 16 1 13 1 10 1 5 1-3 1-3 1 4 1 12 1 15 1 18 1 21 1 22 1 23 1 22 1 21 1 21 1 19 1 16 1 9 1 7 1 8 1 7 1 4 1 2 1 0 1 0 1-1 1-4 1-6 1-6 1-3 1 1 1 6 1 8 1 7 1 3 1-1 1-4 1-5 1-3 1 0 1 3 1-1 1-3 1-2 1 2 1 3 1 3 1 2 1 2 1 3 1 2 1 0 1-1 1-1 1 1 1 0 1-1 1-2 1 0 1 0 1 1 1 0 1 1 1 1 1 1 1 0 1-3 1-3 1-2 1-1 1 0 1 1 1 1 1-1 1-1 1 1 1 2 1 1 1-1 1-3 1-2 1-1 1 0 1 1 1 1 1 2 1 2 1 1 1 0 1 1 1 3 1 4 1 4 1 4 1 1 1-1 1-3 1-4 1-3 1-1 1 1 1 4 1 4 1 2 1 0 1-1 1 0 1 0 1-2 1-2 1-3 1-3 1-4 1-4 1-2 1-2 1-1 1-2 1-3 1-1 1-1 1-1 1 0 1-2 1-2 1-1 1-2 1-1 1-1 1-1 1-1 1-3 1-4 1-4 1-4 1-4 1-1 1 1 1 1 1-1 1-4 1-6 1-5" stroke="#0072BD"/>
<path d="M0,1614l1-1 1-2 1-3 1-2 1-1 1-2 1 0 1-1 1-2 1 1 1 1 1 1 1-1 1-3 1-3 1-2 1-1 1-3 1-2 1-2 1-1 1-2 1-3 1-3 1-2 1-4 1-3 1-5 1-5 1-5 1-5 1-6 1-7 1-7 1-8 1-7 1-9 1-10 1-12 1-13 1-15 1-15 1-17 1-21 1-25 1-27 1-28 1-30 1-34 1-38 1-40 1-45 1-50 1-59 1-70 1-77 1-77 1-74 1-73 1-74 1-78 1-78 1-76 1-54 1-22 1-5 1 9 1 32 1 59 1 68 1 68 1 65 1 60 1 60 1 59 1 59 1 56 1 51 1 40 1 30 1 21 1 13 1 6 1 3 1 1 1-10 1-12 1-2 1 12 1 19 1 24 1 26 1 30 1 29 1 26 1 23 1 23 1 22 1 18 1 16 1 13 1 11 1 7 1 3 1 0 1-2 1-3 1-2 1-2 1-1 1-3 1-5 1-3 1 1 1 5 1 6 1 5 1 3 1 1 1-2 1-6 1-5 1-6 1-7 1-5 1 1 1 6 1 8 1 8 1 2 1 0 1 1 1 2 1 2 1 1 1-1 1 1 1 1 1 1 1-1 1-2 1-3 1-2 1 1 1 2 1 0 1-4 1-3 1-1 1 1 1 1 1 0 1 0 1-2 1-3 1-2 1-1 1 0 1-1 1 0 1 0 1 3 1 2 1 1 1 0 1 1 1 0 1 1 1 5 1 5 1 5 1 4 1 2 1-1 1-1 1 2 1 2 1 1 1 0 1 0 1 2 1 2 1 2 1 1 1 2 1 1 1 0 1-1 1-3 1-1 1-2 1 0 1-1 1-4 1-5 1-2 1 0 1 1 1-1 1-3 1-3 1-2 1-1 1-3 1 0 1 1 1 2 1 0 1-2 1-4 1-6 1-5 1-4 1-2 1-2 1-1 1-3 1-4 1-4 1-3 1-3 1-2 1-1 1-2 1-3" stroke="#D95319"/>
<path d="M0,1562l1-4 1-1 1 1 1 1 1 0 1 0 1-1 1 0 1-1 1 0 1 1 1 1 1 0 1-1 1-4 1-5 1-3 1-2 1-1 1 1 1 0 1-3 1-5 1-5 1-1 1 1 1-1 1-4 1-5 1-5 1-5 1-6 1-7 1-7 1-5 1-4 1-6 1-11 1-13 1-14 1-15 1-18 1-17 1-19 1-21 1-23 1-28 1-31 1-32 1-36 1-40 1-45 1-50 1-58 1-69 1-78 1-78 1-78 1-78 1-76 1-74 1-74 1-74 1-55 1-25 1-7 1 6 1 30 1 58 1 67 1 68 1 65 1 62 1 62 1 63 1 62 1 59 1 52 1 39 1 27 1 20 1 15 1 8 1 2 1-2 1-12 1-12 1-1 1 10 1 19 1 26 1 29 1 30 1 30 1 28 1 25 1 24 1 20 1 16 1 13 1 10 1 7 1 5 1 3 1 2 1 1 1 3 1 1 1 0 1-3 1-5 1-6 1-3 1 1 1 6 1 5 1 2 1-1 1 1 1 1 1-1 1-1 1-2 1-8 1-7 1-2 1 3 1 7 1 7 1 5 1 3 1 2 1 1 1-1 1 0 1 1 1-1 1-1 1-1 1 1 1 2 1 1 1-1 1-1 1 0 1 0 1 1 1 2 1-1 1-2 1-4 1-3 1-1 1 0 1-1 1-2 1-3 1-2 1 1 1 3 1 2 1 1 1-1 1-1 1-2 1 0 1 2 1 4 1 3 1 5 1 4 1 2 1 0 1-1 1 0 1 1 1 1 1-1 1-1 1-1 1 0 1 2 1 3 1 3 1 1 1-3 1-5 1-4 1 0 1 3 1 2 1 0 1-2 1-3 1-3 1-2 1-1 1-1 1-1 1-1 1-2 1-2 1-1 1-3 1-6 1-7 1-5 1-2 1 0 1-1 1-2 1-1 1 0 1 0 1-4 1-6 1-3 1-2 1 0 1-1 1-4 1-4 1-5 1-3 1 0" stroke="#EDB120"/>
<path d="M0,1581l1 1 1 1 1 2 1 1 1 0 1-2 1-5 1-4 1-2 1-1 1-1 1-1 1 0 1 0 1 1 1 0 1 0 1-3 1-3 1-4 1-3 1-1 1-2 1-2 1-2 1-3 1-4 1-3 1-2 1-2 1-3 1-4 1-6 1-8 1-9 1-10 1-10 1-11 1-11 1-11 1-12 1-15 1-18 1-21 1-23 1-25 1-28 1-32 1-36 1-38 1-38 1-41 1-50 1-63 1-74 1-78 1-77 1-75 1-78 1-78 1-77 1-76 1-76 1-56 1-24 1-3 1 8 1 30 1 57 1 65 1 67 1 67 1 63 1 62 1 61 1 61 1 58 1 51 1 40 1 29 1 20 1 14 1 10 1 3 1-3 1-14 1-15 1-1 1 13 1 18 1 23 1 26 1 30 1 30 1 30 1 28 1 25 1 21 1 17 1 13 1 9 1 7 1 5 1 5 1 3 1 2 1 1 1 0 1-3 1-5 1-5 1-4 1-2 1 2 1 3 1 5 1 4 1 2 1-2 1-3 1-4 1-2 1-1 1-5 1-6 1 0 1 6 1 11 1 9 1 5 1 0 1 1 1 0 1 1 1-1 1-2 1-4 1-2 1 2 1 3 1 2 1-2 1-3 1-3 1-1 1 1 1 1 1-1 1-1 1-1 1-1 1 0 1-1 1-1 1-2 1-1 1-1 1 2 1 3 1 2 1-1 1-2 1-1 1 0 1 1 1 0 1 0 1-1 1 0 1 1 1 2 1 1 1 0 1 0 1 2 1 3 1 3 1 1 1 1 1 0 1 2 1 2 1 2 1-1 1-1 1-2 1 1 1 1 1 1 1-2 1-3 1-1 1 0 1-1 1-3 1-4 1-4 1-3 1-1 1-2 1-2 1-3 1-1 1-2 1-2 1-3 1-4 1-4 1-2 1-5 1-5 1-6 1-4 1-2 1 0 1-1 1-1 1-4 1-4 1-4 1-2 1-2 1-3 1-3 1-2" stroke="#7E2F8E"/>
<path d="M0,1566l1 1 1 2 1 0 1-1 1 0 1 0 1 0 1-2 1-3 1-2 1 1 1 1 1 0 1-2 1-2 1-3 1-1 1-2 1-1 1-2 1-4 1-5 1-4 1-5 1-4 1-2 1 0 1 2 1 0 1-2 1-6 1-7 1-8 1-8 1-6 1-6 1-8 1-10 1-13 1-15 1-16 1-16 1-17 1-21 1-25 1-27 1-28 1-31 1-32 1-36 1-39 1-44 1-52 1-61 1-74 1-81 1-81 1-79 1-77 1-77 1-78 1-80 1-79 1-56 1-24 1-6 1 9 1 33 1 60 1 66 1 66 1 67 1 65 1 65 1 64 1 63 1 58 1 52 1 40 1 31 1 22 1 15 1 7 1 0 1-8 1-20 1-19 1-1 1 17 1 23 1 26 1 28 1 29 1 30 1 28 1 25 1 25 1 24 1 20 1 15 1 13 1 9 1 5 1 4 1 2 1-1 1-4 1-4 1-3 1-2 1-2 1-4 1-2 1 2 1 7 1 7 1 5 1 2 1-2 1-4 1-3 1-3 1-4 1-10 1-10 1-2 1 9 1 13 1 13 1 6 1 1 1 0 1 0 1 0 1 1 1 0 1 1 1-1 1-1 1-2 1-2 1-2 1-1 1 0 1-2 1-3 1-1 1 0 1 1 1 1 1 0 1-2 1-1 1 1 1 2 1 0 1-1 1-2 1 0 1 1 1-1 1-3 1-2 1 0 1 2 1 2 1 3 1 2 1 0 1-1 1-2 1 1 1 3 1 1 1-2 1-1 1 0 1 2 1 2 1 2 1 2 1 1 1 1 1 0 1 0 1 0 1-2 1-1 1-2 1-1 1-2 1 0 1 0 1 0 1-2 1-5 1-4 1-2 1 2 1 2 1 1 1-3 1-6 1-7 1-6 1-4 1-2 1 1 1 1 1 0 1-2 1-6 1-8 1-8 1-5 1-2 1-1 1-1 1-1 1-2 1-2 1-5 1-5 1-5 1-3" stroke="#77AC30"/>
<path d="M0,1556l1 1 1 1 1-1 1-1 1 0 1 0 1-2 1-3 1-1 1 0 1 1 1 2 1 0 1 0 1-3 1-4 1-4 1-2 1-2 1 0 1 1 1 0 1-2 1-3 1-5 1-3 1-1 1-2 1-4 1-7 1-9 1-9 1-7 1-4 1-3 1-5 1-8 1-10 1-13 1-15 1-17 1-17 1-18 1-21 1-23 1-26 1-28 1-29 1-31 1-32 1-35 1-43 1-53 1-63 1-73 1-78 1-79 1-79 1-80 1-79 1-81 1-81 1-78 1-55 1-20 1-3 1 10 1 31 1 56 1 66 1 70 1 70 1 65 1 61 1 60 1 60 1 60 1 55 1 43 1 30 1 21 1 15 1 8 1 3 1-4 1-15 1-15 1-1 1 15 1 20 1 23 1 26 1 30 1 30 1 28 1 26 1 24 1 21 1 20 1 17 1 14 1 9 1 7 1 4 1 1 1-1 1-1 1-2 1-3 1-4 1-5 1-3 1 0 1 4 1 7 1 7 1 6 1 1 1-1 1-3 1-3 1-2 1-2 1-7 1-6 1-1 1 6 1 8 1 7 1 1 1 0 1 4 1 5 1 3 1 1 1-2 1-3 1-2 1-2 1 0 1 1 1 3 1 3 1 2 1-1 1-2 1-2 1 0 1 0 1 0 1-1 1-2 1 0 1-1 1-1 1-2 1-2 1-2 1 0 1-1 1-1 1 0 1 1 1 2 1 2 1-1 1 0 1 1 1 3 1 3 1 1 1 1 1 2 1 2 1 2 1 2 1 1 1 1 1 2 1 3 1 1 1 0 1 0 1-1 1-1 1-3 1-4 1-4 1-1 1 0 1 2 1-1 1-3 1-4 1-3 1-1 1-1 1-4 1-5 1-3 1 0 1 1 1 0 1-3 1-5 1-5 1-4 1-2 1-2 1-1 1-1 1-3 1-5 1-6 1-5 1-2 1 0 1-1 1-2 1-3 1-4 1-4 1-5 1-6 1-4" stroke="#4DBEEE"/>
<path d="M0,1626l1 0 1 0 1-1 1 1 1-1 1-2 1-3 1-1 1 1 1 2 1 1 1-1 1-3 1-3 1-1 1-1 1-1 1-4 1-5 1-3 1-2 1 0 1 0 1-1 1-1 1-3 1-3 1-4 1-3 1-4 1-4 1-5 1-6 1-7 1-7 1-5 1-7 1-9 1-12 1-13 1-15 1-13 1-15 1-19 1-25 1-30 1-33 1-35 1-34 1-35 1-39 1-45 1-52 1-57 1-64 1-70 1-72 1-73 1-72 1-71 1-73 1-73 1-71 1-49 1-19 1-4 1 7 1 27 1 54 1 62 1 64 1 62 1 61 1 61 1 59 1 56 1 53 1 47 1 37 1 26 1 20 1 16 1 15 1 12 1 5 1-5 1-7 1 1 1 12 1 18 1 21 1 22 1 22 1 24 1 25 1 24 1 20 1 15 1 12 1 11 1 9 1 9 1 7 1 4 1 2 1 3 1 2 1 2 1 0 1-2 1-3 1-3 1-2 1 1 1 3 1 3 1 4 1 1 1 1 1-1 1-2 1-3 1-5 1-7 1-4 1 1 1 7 1 8 1 8 1 5 1 1 1 0 1-1 1 0 1-1 1 0 1-1 1 0 1 1 1-1 1-2 1-1 1 0 1 2 1 1 1 1 1 0 1-1 1-2 1-3 1-2 1 1 1 2 1 3 1 0 1-1 1-1 1 0 1 2 1 3 1 2 1 1 1-2 1-2 1-2 1 0 1 2 1 2 1 0 1 0 1 2 1 5 1 6 1 3 1 1 1 0 1 1 1 2 1 2 1 0 1-1 1 0 1 3 1 2 1 2 1-1 1-2 1-2 1-2 1 0 1 0 1 0 1 1 1 0 1 0 1 0 1-2 1-2 1-2 1-3 1-5 1-7 1-7 1-3 1 0 1 2 1 1 1 0 1-2 1-3 1-1 1-2 1-1 1-2 1-3 1-4 1-4 1-5 1-4 1-2 1-2 1-1 1-1 1-3 1-3" stroke="#A2142F"/>
<path d="M0,1579l1-2 1-2 1-1 1 2 1 1 1-1 1-1 1 0 1 2 1 3 1 1 1-3 1-4 1-2 1 1 1 3 1 2 1-1 1-3 1-6 1-3 1-1 1 0 1 1 1-2 1-3 1-6 1-5 1-4 1-3 1-6 1-6 1-6 1-5 1-4 1-5 1-7 1-8 1-8 1-10 1-14 1-16 1-19 1-22 1-25 1-28 1-29 1-32 1-34 1-38 1-41 1-45 1-49 1-57 1-67 1-73 1-74 1-75 1-78 1-78 1-78 1-75 1-74 1-54 1-25 1-5 1 10 1 33 1 59 1 67 1 67 1 65 1 60 1 60 1 60 1 59 1 55 1 50 1 39 1 28 1 21 1 15 1 9 1 5 1-2 1-12 1-12 1 1 1 16 1 23 1 25 1 24 1 24 1 22 1 23 1 23 1 23 1 22 1 20 1 16 1 12 1 10 1 6 1 5 1 2 1 0 1-2 1-4 1-4 1-5 1-5 1-5 1-1 1 3 1 6 1 8 1 7 1 1 1-3 1-4 1-2 1 1 1 0 1-4 1-7 1-4 1 3 1 7 1 9 1 6 1 3 1 2 1 0 1-1 1-1 1-1 1-2 1-1 1 1 1 2 1 3 1 1 1-1 1-2 1-3 1-2 1 0 1 1 1 2 1 0 1-1 1-1 1-1 1 0 1 1 1 0 1-1 1-2 1-2 1 0 1 2 1 2 1 1 1-1 1 0 1 1 1 3 1 3 1 2 1 0 1 0 1 1 1 2 1 3 1 1 1 0 1-1 1 0 1 1 1 3 1 4 1 2 1 0 1-1 1-1 1 0 1 0 1 0 1 1 1-2 1-2 1-2 1-2 1-1 1 0 1 0 1 1 1-1 1-3 1-4 1-3 1-2 1-1 1-1 1 0 1-2 1-4 1-5 1-6 1-4 1-3 1 0 1 0 1 0 1-2 1-1 1-4 1-3 1-4 1-2 1-3 1-4 1-4 1-4 1-3" stroke="#0072BD"/>
<path d="M0,1603l1-1 1 0 1 0 1 1 1 1 1 2 1 0 1-1 1-2 1-1 1-2 1-3 1-3 1-2 1-2 1-3 1-1 1-2 1-1 1-1 1 2 1-1 1-2 1-4 1-4 1-5 1-5 1-5 1-4 1-3 1-3 1-2 1-2 1-4 1-5 1-9 1-12 1-15 1-14 1-13 1-12 1-14 1-17 1-19 1-21 1-25 1-30 1-35 1-37 1-38 1-40 1-42 1-48 1-57 1-68 1-76 1-78 1-79 1-77 1-77 1-78 1-76 1-72 1-50 1-19 1-2 1 10 1 32 1 56 1 63 1 66 1 66 1 63 1 61 1 57 1 55 1 55 1 54 1 42 1 29 1 20 1 15 1 10 1 6 1-2 1-11 1-13 1-2 1 9 1 16 1 22 1 27 1 29 1 31 1 29 1 25 1 22 1 19 1 17 1 13 1 12 1 8 1 6 1 3 1 3 1 1 1-1 1-2 1-2 1-4 1-6 1-6 1-2 1 4 1 5 1 6 1 4 1 2 1 1 1-2 1-4 1-3 1-3 1-4 1-5 1 1 1 5 1 8 1 8 1 4 1 2 1 2 1 0 1-2 1-1 1 0 1 1 1 3 1 1 1-1 1-2 1-1 1-2 1 0 1 1 1 3 1 0 1-3 1-3 1 0 1 2 1 1 1 0 1 1 1 2 1 2 1 0 1-1 1-1 1-1 1-1 1 0 1 0 1 1 1 2 1 2 1 3 1 1 1 1 1 0 1 0 1 4 1 5 1 4 1-1 1-1 1 1 1 2 1 2 1 0 1-1 1 0 1 3 1 4 1 0 1-3 1-2 1-1 1 1 1 1 1-3 1-3 1-2 1 1 1 0 1-1 1-3 1-3 1-4 1-2 1-2 1 0 1-1 1-2 1-3 1-1 1 0 1-2 1-2 1-4 1-5 1-4 1-4 1-4 1-3 1-2 1-1 1 0 1-1 1 0 1-3 1-2 1-4 1-6 1-7" stroke="#D95319"/>
<path d="M0,1553l1-1 1-1 1-2 1-1 1-1 1 0 1-1 1 0 1 1 1 0 1-2 1-2 1-1 1 0 1 0 1-1 1-2 1-2 1-3 1-2 1-3 1-1 1-2 1-2 1-2 1-2 1-4 1-5 1-4 1-3 1-4 1-6 1-8 1-5 1-3 1-7 1-12 1-14 1-14 1-12 1-14 1-15 1-17 1-20 1-24 1-25 1-29 1-30 1-32 1-33 1-38 1-44 1-53 1-62 1-72 1-80 1-81 1-79 1-78 1-77 1-76 1-77 1-78 1-57 1-23 1-4 1 11 1 31 1 56 1 64 1 66 1 65 1 64 1 65 1 63 1 61 1 58 1 54 1 42 1 31 1 23 1 16 1 9 1 2 1-5 1-18 1-18 1-3 1 14 1 23 1 27 1 28 1 28 1 30 1 30 1 28 1 25 1 22 1 18 1 14 1 12 1 12 1 9 1 6 1 1 1 0 1-2 1-4 1-6 1-7 1-5 1-3 1-1 1 5 1 6 1 8 1 6 1 2 1-1 1-3 1-4 1-3 1-4 1-9 1-10 1 1 1 10 1 13 1 11 1 4 1 1 1 1 1 1 1 0 1-2 1-2 1 0 1 1 1 1 1 1 1 1 1 0 1 1 1 1 1 0 1-1 1-3 1-4 1-5 1-5 1-2 1 0 1 2 1 1 1 1 1 0 1 2 1 3 1 0 1-2 1-1 1 0 1 2 1 2 1 0 1-2 1-2 1-1 1-1 1 1 1 3 1 3 1 3 1 1 1 1 1 0 1-1 1-1 1 1 1 2 1 5 1 3 1 1 1 0 1-1 1 0 1 0 1 0 1 0 1 0 1 0 1-1 1-3 1-2 1-3 1-1 1-1 1-2 1-3 1-4 1-2 1-1 1 0 1-1 1-2 1-3 1-2 1-2 1-3 1-4 1-4 1-4 1-2 1-2 1-2 1-1 1-2 1-4 1-4 1-4 1-4 1-3 1-5 1-4 1-2" stroke="#EDB120"/>
<path d="M0,1582l1-4 1-3 1 0 1 3 1 4 1 0 1-1 1-3 1-2 1-3 1-3 1-1 1 0 1 0 1-2 1-3 1-2 1-1 1-1 1-1 1-1 1-2 1-2 1-3 1-2 1-2 1-3 1-4 1-6 1-6 1-5 1-6 1-6 1-7 1-6 1-7 1-9 1-12 1-15 1-15 1-16 1-16 1-18 1-20 1-22 1-25 1-28 1-32 1-35 1-36 1-39 1-43 1-49 1-58 1-71 1-80 1-81 1-79 1-79 1-78 1-77 1-78 1-80 1-60 1-26 1-4 1 10 1 32 1 60 1 68 1 68 1 64 1 61 1 61 1 62 1 61 1 59 1 54 1 41 1 29 1 21 1 12 1 6 1 3 1-1 1-15 1-15 1 0 1 16 1 23 1 26 1 27 1 30 1 30 1 26 1 24 1 24 1 23 1 20 1 16 1 11 1 7 1 4 1 2 1 0 1 0 1-1 1-2 1-4 1-5 1-5 1-3 1 1 1 4 1 6 1 8 1 8 1 3 1-2 1-4 1-6 1-5 1-3 1-6 1-5 1 0 1 7 1 10 1 10 1 5 1 1 1 1 1 2 1 2 1 1 1 1 1 1 1-1 1-1 1-1 1-2 1-3 1-3 1 0 1 0 1 0 1-1 1 0 1-1 1 0 1-1 1 0 1-2 1-1 1-1 1 0 1 1 1 0 1 1 1 2 1 0 1-2 1-1 1 1 1 3 1 2 1 1 1-1 1-2 1-1 1 0 1 3 1 3 1 3 1 2 1-1 1-1 1-2 1 0 1 0 1 1 1 1 1 1 1 0 1-1 1-1 1-1 1 0 1 1 1-1 1-2 1-2 1 0 1 0 1 0 1-1 1-2 1-3 1-3 1-4 1-5 1-4 1-3 1 0 1 1 1 0 1-3 1-5 1-4 1-3 1-3 1-4 1-2 1-1 1-2 1-4 1-3 1-4 1-3 1-5 1-4 1-3 1-2 1-2 1-1" stroke="#7E2F8E"/>
<path d="M0,1578l1 2 1 2 1 0 1 0 1-3 1-4 1-3 1-2 1 0 1 1 1 0 1-1 1-1 1-2 1-2 1-3 1-4 1-2 1-1 1 0 1-1 1 0 1-2 1-4 1-5 1-4 1-3 1-4 1-5 1-6 1-6 1-6 1-7 1-6 1-6 1-6 1-8 1-9 1-12 1-13 1-13 1-14 1-16 1-21 1-24 1-26 1-28 1-30 1-33 1-36 1-40 1-46 1-51 1-60 1-72 1-81 1-82 1-80 1-77 1-77 1-78 1-79 1-78 1-56 1-23 1-4 1 9 1 31 1 61 1 69 1 71 1 68 1 62 1 62 1 63 1 62 1 59 1 53 1 40 1 31 1 22 1 12 1 5 1 0 1-4 1-15 1-13 1 2 1 16 1 22 1 25 1 27 1 31 1 32 1 31 1 29 1 26 1 22 1 18 1 14 1 9 1 6 1 4 1 4 1 3 1 1 1-1 1-2 1-4 1-6 1-4 1-2 1 2 1 5 1 4 1 5 1 5 1 3 1 1 1 0 1-1 1-3 1-5 1-8 1-7 1 0 1 6 1 7 1 7 1 3 1 2 1 1 1 0 1 1 1 2 1 2 1-1 1 0 1 0 1 0 1-2 1-2 1-1 1-1 1 1 1 1 1 2 1 0 1 0 1-2 1-2 1-3 1-3 1-2 1 0 1 3 1 2 1 0 1-1 1-1 1 1 1 0 1 1 1-1 1-3 1-3 1-1 1 1 1 3 1 2 1 2 1 1 1 1 1 0 1-1 1-1 1 1 1 3 1 5 1 4 1 2 1 0 1-1 1 0 1 1 1 0 1 0 1-3 1-3 1-3 1-3 1-1 1-1 1-1 1-1 1-2 1-1 1-2 1-3 1-3 1-5 1-6 1-6 1-2 1-1 1 0 1-1 1-2 1-2 1-2 1-4 1-4 1-3 1-3 1-4 1-2 1-2 1-1 1-4 1-4 1-4 1-3 1-4 1-3 1-2" stroke="#77AC30"/>
<path d="M0,1607l1 0 1-1 1-3 1-1 1-1 1-1 1-2 1-4 1-4 1-1 1 2 1 3 1 2 1-1 1-2 1 0 1-1 1-3 1-4 1-4 1-3 1-2 1-1 1-1 1-3 1-5 1-4 1-3 1-3 1-5 1-6 1-6 1-5 1-5 1-6 1-8 1-9 1-10 1-10 1-12 1-14 1-16 1-17 1-21 1-25 1-29 1-31 1-31 1-32 1-35 1-38 1-45 1-52 1-60 1-70 1-75 1-77 1-78 1-77 1-76 1-75 1-74 1-73 1-53 1-22 1-4 1 9 1 30 1 56 1 65 1 66 1 65 1 61 1 59 1 58 1 59 1 57 1 55 1 43 1 32 1 20 1 13 1 8 1 3 1-2 1-10 1-9 1 3 1 14 1 16 1 19 1 24 1 27 1 28 1 26 1 24 1 23 1 22 1 19 1 17 1 12 1 7 1 3 1 1 1 2 1 2 1 1 1-1 1-2 1-2 1-2 1-2 1-1 1 0 1 3 1 5 1 3 1 0 1-2 1 0 1 0 1 1 1-1 1-7 1-8 1-2 1 6 1 11 1 9 1 5 1 0 1 0 1 2 1 2 1 1 1-1 1 0 1 1 1 0 1-2 1-4 1-6 1-1 1 2 1 4 1 4 1 1 1-3 1-4 1-1 1 1 1 2 1 1 1 0 1-1 1-1 1 1 1 2 1 2 1 1 1-1 1 0 1 0 1 0 1-2 1-1 1 1 1 3 1 3 1 3 1 1 1 2 1 3 1 3 1 3 1 2 1 2 1 2 1 1 1-1 1 0 1 1 1 2 1 0 1-2 1-3 1-3 1-2 1-1 1-1 1 0 1-2 1-2 1-1 1 0 1-1 1-2 1-1 1 0 1 0 1-1 1-4 1-5 1-4 1-1 1 0 1 1 1-1 1-3 1-6 1-4 1-4 1-3 1-1 1-1 1-2 1-5 1-5 1-5 1-3 1-3 1-2 1-2 1-1 1-3" stroke="#4DBEEE"/>
<path d="M0,1571l1-2 1-1 1 1 1 1 1 0 1 1 1 1 1-1 1-2 1-2 1-2 1-1 1 0 1 1 1-1 1-1 1-2 1-5 1-5 1-5 1-3 1-2 1-1 1 0 1 2 1-1 1-3 1-4 1-4 1-4 1-7 1-6 1-6 1-4 1-6 1-8 1-10 1-11 1-13 1-14 1-15 1-15 1-15 1-19 1-25 1-28 1-29 1-31 1-33 1-35 1-38 1-46 1-51 1-59 1-69 1-76 1-77 1-77 1-77 1-78 1-80 1-80 1-76 1-53 1-21 1-4 1 9 1 31 1 58 1 66 1 67 1 66 1 63 1 63 1 60 1 59 1 56 1 53 1 40 1 30 1 21 1 14 1 8 1 4 1-1 1-11 1-11 1 2 1 14 1 19 1 24 1 27 1 31 1 29 1 26 1 23 1 22 1 21 1 18 1 15 1 11 1 9 1 8 1 7 1 3 1-1 1-4 1-5 1-4 1-3 1-3 1-2 1 0 1 3 1 5 1 6 1 5 1 1 1 0 1-1 1-3 1-1 1-2 1-5 1-6 1-2 1 2 1 6 1 8 1 4 1 0 1 0 1-1 1-1 1 2 1 2 1 0 1-1 1 0 1 2 1 4 1 3 1 0 1-3 1-3 1-3 1 0 1-1 1-1 1 0 1 0 1 0 1 1 1 0 1-1 1-2 1 0 1 1 1 2 1 2 1 0 1 2 1 0 1 0 1-1 1 1 1 2 1 3 1 1 1 1 1 1 1 0 1 1 1 0 1 0 1 1 1 1 1 3 1 3 1 3 1 2 1 2 1 1 1-1 1-2 1-2 1-1 1-1 1-1 1-1 1 0 1 0 1 0 1-1 1-3 1-1 1-1 1-3 1-4 1-2 1-2 1-3 1-6 1-5 1-2 1 0 1 0 1-1 1-4 1-6 1-5 1-2 1 0 1-2 1-2 1-1 1-1 1 0 1-2 1-2 1-1 1-4 1-6 1-7 1-5" stroke="#A2142F"/>
<path d="M0,1620l1-4 1-3 1-2 1 1 1 0 1 0 1 1 1 1 1 2 1 1 1-1 1-3 1-2 1-3 1-2 1-1 1-2 1-1 1-1 1-1 1-1 1-3 1-4 1-3 1-2 1-2 1-3 1-5 1-4 1-2 1-1 1-4 1-8 1-10 1-8 1-7 1-7 1-8 1-10 1-13 1-14 1-15 1-16 1-19 1-23 1-27 1-30 1-32 1-35 1-38 1-41 1-44 1-50 1-58 1-67 1-74 1-73 1-72 1-71 1-72 1-74 1-73 1-70 1-48 1-19 1-3 1 8 1 29 1 55 1 64 1 64 1 62 1 61 1 62 1 61 1 58 1 56 1 50 1 38 1 26 1 19 1 16 1 13 1 10 1 4 1-4 1-7 1 2 1 13 1 18 1 20 1 23 1 26 1 28 1 24 1 21 1 18 1 16 1 13 1 11 1 8 1 5 1 3 1 2 1 2 1 0 1 0 1 0 1-1 1-2 1-2 1-1 1-1 1 2 1 4 1 6 1 4 1 2 1 0 1-2 1-3 1-3 1-2 1-5 1-5 1-1 1 5 1 9 1 6 1 0 1-1 1-1 1 0 1 0 1 2 1 3 1 3 1 2 1 1 1-2 1-4 1-4 1-2 1-2 1-3 1-1 1-1 1 1 1 2 1 2 1 0 1 0 1-1 1 0 1-1 1 0 1-2 1-1 1-2 1-1 1-1 1 0 1 0 1 0 1 0 1 1 1 0 1 1 1 0 1 1 1 1 1 2 1 3 1 3 1 0 1 0 1-1 1 2 1 4 1 5 1 3 1 1 1-1 1-2 1 0 1-1 1-1 1-2 1-2 1-2 1 0 1 0 1-1 1 0 1-3 1-3 1-3 1-2 1-2 1-2 1-1 1-1 1-4 1-5 1-5 1-3 1-1 1 0 1 0 1-2 1-4 1-3 1-4 1-3 1-4 1-5 1-5 1-4 1-3 1-1 1-3 1-4 1-2 1 0 1 0" stroke="#0072BD"/>
<path d="M0,1647l1 1 1 0 1-1 1-2 1-4 1-4 1-1 1 0 1 1 1 0 1-1 1-1 1-2 1-1 1-1 1 0 1 0 1 0 1 1 1-1 1-1 1-3 1-4 1-5 1-2 1-1 1 0 1 0 1 0 1-3 1-6 1-8 1-8 1-7 1-7 1-7 1-8 1-9 1-11 1-13 1-14 1-14 1-14 1-18 1-24 1-28 1-32 1-34 1-39 1-41 1-43 1-46 1-49 1-55 1-64 1-69 1-70 1-71 1-72 1-71 1-71 1-70 1-69 1-49 1-20 1-4 1 7 1 29 1 55 1 64 1 63 1 61 1 57 1 58 1 57 1 57 1 53 1 44 1 32 1 23 1 19 1 17 1 18 1 14 1 7 1-3 1-7 1 1 1 10 1 14 1 16 1 21 1 25 1 28 1 26 1 21 1 18 1 15 1 14 1 13 1 11 1 9 1 5 1 1 1-2 1-3 1 0 1-1 1-1 1-2 1-2 1-1 1 0 1 1 1 2 1 2 1 2 1 0 1-1 1-1 1 1 1 2 1 0 1-6 1-7 1-3 1 3 1 6 1 6 1 4 1 3 1 1 1 0 1-3 1-2 1-2 1 0 1 1 1 2 1 2 1 2 1 1 1 0 1 0 1-1 1-1 1-2 1-1 1-1 1 1 1 1 1 3 1 3 1 1 1-2 1-3 1-3 1-1 1 0 1 2 1 2 1 0 1 1 1 0 1 1 1 1 1 1 1 2 1 2 1 0 1-1 1 1 1 1 1 3 1 2 1 3 1 4 1 3 1 1 1 1 1 0 1 0 1-1 1 1 1 1 1-1 1-2 1-3 1-1 1-1 1-2 1-2 1-2 1-2 1-2 1-2 1-2 1-2 1-2 1-1 1-1 1-1 1-1 1-2 1-3 1-3 1-3 1-1 1-1 1-2 1-3 1-3 1-4 1-5 1-4 1-2 1-1 1-2 1-3 1-5 1-3 1-3 1-2 1-3 1-3" stroke="#D95319"/>
<path d="M0,1609l1-3 1 0 1 0 1 1 1 0 1 0 1 0 1 0 1-2 1-3 1-3 1-2 1-1 1 1 1 0 1 0 1-1 1-2 1-3 1-4 1-3 1-1 1-1 1-1 1-4 1-6 1-5 1-5 1-1 1 0 1-2 1-3 1-7 1-9 1-9 1-10 1-9 1-9 1-11 1-14 1-15 1-15 1-15 1-20 1-22 1-25 1-29 1-33 1-37 1-38 1-39 1-44 1-51 1-61 1-71 1-76 1-76 1-75 1-76 1-75 1-75 1-75 1-75 1-54 1-22 1-2 1 9 1 31 1 57 1 64 1 66 1 65 1 63 1 62 1 60 1 55 1 51 1 49 1 40 1 31 1 22 1 13 1 7 1 4 1-2 1-9 1-10 1 1 1 11 1 16 1 21 1 27 1 31 1 30 1 25 1 20 1 20 1 20 1 18 1 16 1 12 1 9 1 7 1 5 1 3 1 1 1-3 1-4 1-4 1-4 1-5 1-5 1-1 1 5 1 8 1 6 1 3 1-1 1-1 1-1 1 0 1 0 1-2 1-6 1-7 1 0 1 6 1 9 1 5 1 1 1-3 1 0 1 2 1 2 1 2 1 1 1 1 1 0 1-1 1-1 1-3 1-2 1 0 1 0 1 1 1 1 1 0 1 1 1 1 1 2 1 1 1 0 1 0 1-1 1 0 1-1 1-2 1-2 1-1 1 2 1 3 1 3 1 1 1-2 1-4 1-3 1 0 1 2 1 1 1 1 1 0 1 2 1 4 1 5 1 4 1 2 1 1 1 0 1 0 1 0 1 1 1 1 1 1 1 1 1 0 1-1 1 0 1 0 1 1 1-1 1-2 1-4 1-3 1-2 1 0 1-1 1-3 1-2 1-1 1 0 1-1 1-1 1-1 1-2 1-2 1-3 1-3 1-2 1-2 1-2 1-2 1-2 1-2 1-1 1 0 1-2 1-3 1-1 1 1 1 1 1-1 1-3 1-5 1-6 1-7" stroke="#EDB120"/>
<path d="M0,1589l1-1 1 0 1-1 1-1 1 0 1 0 1 1 1 0 1-1 1-3 1-4 1-2 1-1 1-1 1-2 1-2 1-2 1 0 1-1 1-1 1-3 1-2 1 0 1 1 1 0 1-3 1-5 1-6 1-5 1-4 1-4 1-7 1-8 1-7 1-5 1-5 1-8 1-12 1-13 1-13 1-14 1-14 1-17 1-19 1-23 1-28 1-32 1-33 1-33 1-35 1-39 1-46 1-52 1-60 1-70 1-75 1-74 1-73 1-74 1-78 1-81 1-80 1-77 1-54 1-20 1-3 1 8 1 27 1 53 1 64 1 67 1 68 1 65 1 63 1 61 1 60 1 57 1 53 1 41 1 30 1 21 1 12 1 7 1 3 1-1 1-10 1-9 1 3 1 16 1 18 1 21 1 25 1 28 1 28 1 25 1 25 1 25 1 21 1 19 1 14 1 12 1 9 1 6 1 4 1 1 1-2 1-2 1-2 1 0 1-1 1-2 1-2 1-1 1 1 1 2 1 3 1 4 1 3 1 3 1 0 1-1 1-2 1-1 1-5 1-6 1-1 1 4 1 9 1 10 1 6 1 2 1-1 1-4 1-4 1-1 1 1 1 1 1-1 1 0 1 0 1 1 1 3 1 3 1 2 1 0 1-1 1-2 1-2 1-1 1 1 1 1 1 1 1 0 1 2 1 0 1 0 1-2 1-3 1-1 1 1 1 2 1 2 1 0 1-1 1-1 1 0 1 3 1 2 1 2 1 2 1 3 1 4 1 1 1-3 1-4 1 0 1 2 1 1 1 0 1 1 1 2 1 2 1 1 1-1 1 1 1 2 1 0 1-4 1-5 1-3 1-1 1 0 1 0 1-1 1 1 1 1 1 0 1-3 1-5 1-4 1-4 1-1 1-1 1-2 1-2 1-3 1-2 1-3 1-3 1-4 1-5 1-4 1-3 1-3 1-3 1-4 1-4 1-4 1-4 1-4 1-3 1-4 1-3 1-2 1-2" stroke="#7E2F8E"/>
<path d="M0,1563l1-1 1 0 1-1 1 0 1 0 1 0 1 0 1-3 1-3 1-3 1 0 1 1 1 2 1 0 1-2 1-3 1-2 1-2 1-4 1-4 1-3 1-2 1 0 1 1 1 0 1-2 1-4 1-5 1-4 1-3 1-4 1-4 1-5 1-6 1-8 1-9 1-10 1-10 1-9 1-11 1-13 1-17 1-19 1-21 1-22 1-24 1-26 1-30 1-34 1-37 1-39 1-45 1-52 1-61 1-71 1-76 1-77 1-79 1-79 1-79 1-78 1-78 1-76 1-54 1-21 1-4 1 10 1 33 1 61 1 69 1 69 1 66 1 60 1 60 1 59 1 58 1 57 1 55 1 43 1 32 1 22 1 15 1 9 1 3 1-4 1-15 1-16 1-3 1 15 1 25 1 27 1 25 1 26 1 27 1 27 1 25 1 24 1 21 1 19 1 15 1 12 1 11 1 9 1 5 1 1 1 0 1-2 1-6 1-6 1-4 1-1 1 0 1 0 1 2 1 5 1 7 1 4 1-1 1-2 1-1 1-2 1-2 1-3 1-7 1-6 1 1 1 7 1 10 1 8 1 3 1-1 1-1 1-2 1-2 1-2 1-1 1 1 1 2 1 4 1 3 1 1 1-1 1-1 1 0 1-1 1-3 1-3 1-1 1 0 1 2 1 2 1 0 1-1 1-2 1-1 1-1 1 1 1 1 1 0 1-1 1-4 1-4 1-1 1 2 1 3 1 1 1 0 1 1 1 2 1 1 1 0 1 0 1 1 1 2 1 2 1 0 1 0 1 0 1 4 1 4 1 3 1 1 1-1 1 0 1 0 1 0 1-1 1-2 1-1 1 0 1 3 1 1 1-2 1-4 1-4 1-3 1-4 1-5 1-5 1-3 1-3 1-1 1 1 1 0 1-3 1-4 1-3 1-2 1-1 1-1 1-1 1-3 1-4 1-4 1-4 1-4 1-4 1-5 1-3 1-1 1 1 1 0 1-1 1-4 1-6" stroke="#77AC30"/>
<path d="M0,1603l1 0 1 0 1 0 1 0 1-2 1-3 1 0 1 1 1 1 1 1 1-1 1-2 1-1 1-2 1-4 1-3 1-2 1-1 1-1 1-4 1-2 1 1 1 2 1 1 1-1 1-3 1-3 1-4 1-4 1-5 1-5 1-6 1-6 1-6 1-7 1-9 1-7 1-7 1-9 1-13 1-16 1-15 1-16 1-18 1-22 1-25 1-31 1-35 1-39 1-40 1-41 1-45 1-50 1-57 1-66 1-72 1-74 1-77 1-79 1-77 1-73 1-73 1-73 1-53 1-21 1-3 1 11 1 32 1 57 1 63 1 61 1 62 1 61 1 62 1 59 1 57 1 53 1 49 1 39 1 30 1 23 1 16 1 8 1 4 1-1 1-9 1-10 1-1 1 9 1 16 1 23 1 27 1 31 1 30 1 27 1 23 1 20 1 18 1 15 1 12 1 10 1 8 1 6 1 3 1-1 1-1 1 0 1 1 1-1 1-4 1-4 1-3 1-1 1 2 1 6 1 5 1 2 1-1 1-1 1 0 1-2 1-3 1-4 1-6 1-5 1 0 1 7 1 8 1 7 1 2 1 0 1 2 1 3 1 2 1 0 1 0 1-1 1 1 1 1 1-1 1-1 1 0 1 0 1 0 1-3 1-3 1-3 1-3 1-1 1-1 1-1 1-1 1 2 1 3 1 0 1-2 1-4 1-2 1 1 1 2 1 0 1-2 1-1 1 1 1 2 1 2 1 4 1 3 1 3 1 2 1 0 1-1 1 1 1 0 1 0 1 0 1 1 1 1 1 1 1 1 1 1 1 1 1 0 1 0 1 0 1 2 1 2 1 1 1-2 1-4 1-2 1-1 1-1 1-2 1-5 1-5 1-4 1-2 1 2 1 1 1 2 1 0 1-2 1-3 1-4 1-3 1-3 1-2 1-1 1-2 1-2 1-1 1-3 1-5 1-5 1-4 1-3 1-3 1-2 1-2 1-3 1-4 1-4 1-5 1-4" stroke="#4DBEEE"/>
<path d="M0,1569l1 0 1 0 1-3 1-2 1 0 1 0 1-1 1-2 1-1 1-1 1 0 1 0 1 1 1 1 1 0 1 0 1-2 1-2 1-4 1-6 1-5 1-3 1-3 1-2 1-1 1-3 1-5 1-6 1-5 1-6 1-6 1-7 1-6 1-6 1-5 1-8 1-10 1-11 1-13 1-13 1-15 1-15 1-15 1-20 1-25 1-29 1-31 1-33 1-34 1-34 1-38 1-43 1-51 1-61 1-73 1-81 1-81 1-79 1-79 1-79 1-81 1-82 1-81 1-59 1-24 1-3 1 11 1 31 1 57 1 64 1 68 1 67 1 62 1 61 1 62 1 63 1 61 1 57 1 44 1 32 1 23 1 11 1 3 1 0 1-3 1-16 1-19 1-5 1 12 1 18 1 25 1 31 1 37 1 36 1 29 1 25 1 24 1 25 1 21 1 16 1 12 1 10 1 8 1 4 1 0 1 0 1-1 1-2 1-4 1-4 1-4 1-5 1-2 1 1 1 4 1 7 1 7 1 2 1 0 1-2 1-3 1-3 1-5 1-12 1-9 1 1 1 12 1 16 1 13 1 7 1 1 1 0 1-1 1-2 1-2 1 0 1 0 1 0 1 1 1 2 1 1 1-1 1-2 1-1 1-1 1 0 1-2 1-1 1-2 1-1 1 0 1 2 1 3 1 2 1 0 1-2 1-3 1-1 1 1 1 1 1-1 1-3 1 0 1 1 1 0 1 0 1 0 1 2 1 3 1 1 1 1 1 0 1 2 1 3 1 4 1 1 1-1 1 1 1 2 1 2 1 1 1 0 1 0 1-1 1-2 1 0 1 1 1 1 1 1 1-2 1-3 1-3 1-1 1 0 1 1 1 0 1 0 1-3 1-4 1-5 1-4 1-3 1-3 1-3 1-1 1 0 1 0 1-4 1-7 1-6 1-3 1 0 1 0 1-3 1-6 1-6 1-3 1 0 1 0 1-3 1-7 1-7 1-6 1-4 1-2" stroke="#A2142F"/>
<path d="M0,1611l1 2 1 0 1-2 1-2 1 0 1 0 1-1 1 0 1-1 1 0 1 0 1 1 1-1 1-1 1 0 1 0 1-1 1-1 1-2 1-4 1-5 1-2 1 1 1 0 1-1 1-3 1-3 1-3 1-5 1-6 1-7 1-6 1-7 1-7 1-5 1-5 1-6 1-8 1-9 1-11 1-12 1-14 1-16 1-21 1-25 1-29 1-32 1-36 1-38 1-38 1-38 1-41 1-47 1-55 1-66 1-74 1-75 1-74 1-74 1-74 1-74 1-73 1-68 1-45 1-15 1-1 1 9 1 28 1 54 1 61 1 64 1 63 1 61 1 62 1 59 1 55 1 52 1 47 1 37 1 27 1 20 1 17 1 15 1 10 1 3 1-6 1-6 1 2 1 12 1 17 1 21 1 24 1 26 1 25 1 23 1 21 1 21 1 19 1 17 1 12 1 9 1 5 1 4 1 3 1 1 1 1 1 1 1 0 1-3 1-6 1-5 1-4 1-2 1 2 1 6 1 8 1 7 1 3 1-1 1-2 1-1 1 0 1-1 1-6 1-7 1-3 1 3 1 9 1 10 1 5 1-1 1-1 1-3 1-2 1-1 1-1 1 1 1-1 1 0 1 0 1 2 1 3 1 1 1 0 1-1 1-1 1-1 1 0 1-1 1-2 1-3 1-4 1-2 1 0 1 1 1 0 1 0 1 0 1 2 1 3 1 2 1 1 1-1 1-1 1-1 1 1 1 2 1 2 1 3 1 1 1-1 1-2 1 1 1 3 1 2 1 2 1 1 1 0 1 0 1 0 1 0 1 1 1 2 1 2 1 2 1 0 1-1 1-1 1-1 1-3 1-3 1-4 1-2 1-2 1-1 1-1 1-2 1-4 1-3 1-3 1-2 1-2 1-3 1-4 1-2 1-1 1 1 1 0 1-1 1-3 1-3 1-3 1-2 1-1 1-1 1-1 1-2 1-5 1-5 1-3 1-2 1-3 1-3 1-4 1-6" stroke="#0072BD"/>
<path d="M0,1616l1 1 1 3 1 2 1 1 1-2 1-3 1-1 1 0 1 0 1 0 1-2 1-2 1 0 1 2 1 0 1 0 1-2 1-1 1-1 1-1 1-1 1-1 1-1 1-2 1-1 1-1 1-2 1-2 1-5 1-6 1-6 1-8 1-7 1-6 1-3 1-3 1-4 1-8 1-9 1-11 1-13 1-15 1-15 1-21 1-26 1-31 1-35 1-36 1-36 1-35 1-38 1-44 1-50 1-57 1-64 1-69 1-72 1-74 1-73 1-71 1-68 1-67 1-65 1-46 1-18 1-2 1 9 1 29 1 55 1 62 1 63 1 61 1 55 1 54 1 55 1 55 1 54 1 48 1 37 1 27 1 21 1 18 1 16 1 12 1 4 1-5 1-6 1 3 1 12 1 16 1 19 1 22 1 25 1 24 1 22 1 20 1 18 1 13 1 10 1 11 1 11 1 9 1 5 1 3 1 2 1 2 1 0 1-2 1-2 1-2 1-2 1-1 1 0 1 2 1 4 1 4 1 3 1-1 1-1 1-2 1-3 1-3 1-4 1-4 1-3 1 1 1 5 1 7 1 7 1 2 1-2 1-2 1-1 1 0 1 0 1 0 1 1 1 0 1 0 1-2 1-1 1 0 1 0 1 1 1 0 1 2 1 2 1 0 1-1 1-3 1-3 1-2 1 0 1 1 1 1 1 0 1-1 1-1 1 0 1 1 1 0 1 0 1-2 1 0 1 1 1 2 1 2 1 0 1 0 1 0 1 0 1 1 1 2 1 3 1 2 1 2 1 2 1 0 1 0 1 0 1 0 1 1 1 1 1 0 1-3 1-2 1 0 1 3 1 3 1 1 1 1 1 0 1-1 1-3 1-4 1-3 1-1 1 0 1-1 1-5 1-5 1-3 1-4 1-3 1 0 1 1 1 0 1-1 1-2 1-1 1 0 1-1 1-2 1-4 1-4 1-4 1-4 1-2 1-1 1-3 1-5 1-6 1-4 1-2 1-1" stroke="#D95319"/>
<path d="M0,1555l1 2 1 1 1-1 1-4 1-4 1-2 1 0 1 1 1-1 1-1 1-2 1 0 1 0 1-1 1-2 1-2 1-2 1-3 1-3 1-2 1 0 1 0 1-1 1 0 1-2 1-3 1-7 1-9 1-8 1-4 1-3 1-5 1-6 1-8 1-8 1-10 1-12 1-12 1-11 1-12 1-12 1-13 1-13 1-17 1-21 1-27 1-32 1-33 1-34 1-35 1-38 1-44 1-52 1-63 1-74 1-81 1-80 1-79 1-79 1-79 1-79 1-80 1-82 1-61 1-26 1-2 1 13 1 35 1 61 1 68 1 69 1 67 1 63 1 60 1 61 1 63 1 63 1 57 1 43 1 29 1 20 1 13 1 8 1 2 1-3 1-15 1-15 1-2 1 13 1 20 1 27 1 30 1 29 1 28 1 30 1 30 1 28 1 23 1 19 1 16 1 11 1 8 1 6 1 3 1 0 1 0 1 0 1 0 1-2 1-3 1-5 1-5 1-1 1 4 1 7 1 9 1 7 1 2 1-1 1-2 1-3 1-2 1-4 1-9 1-9 1-1 1 8 1 11 1 12 1 7 1 2 1-1 1-1 1 0 1 1 1 0 1-1 1-1 1-1 1 0 1 0 1 2 1 2 1 0 1-1 1-1 1-3 1-3 1-5 1-4 1-2 1 1 1 2 1 0 1-1 1-1 1 1 1 1 1-1 1 0 1 1 1 0 1 0 1 0 1 1 1 1 1 1 1 0 1 0 1-1 1 2 1 4 1 6 1 4 1 1 1 0 1 0 1 0 1-2 1-4 1-1 1 0 1 2 1 0 1-2 1-1 1 1 1 2 1 1 1-2 1-5 1-6 1-3 1-1 1-1 1-1 1-1 1-2 1-2 1-3 1-4 1-3 1-3 1-2 1-3 1-2 1-2 1-2 1-2 1-2 1-2 1-4 1-5 1-4 1-4 1-4 1-4 1-3 1-1 1-2 1-3 1-5 1-5 1-4 1-4" stroke="#EDB120"/>
<path d="M0,1586l1 2 1 1 1 1 1 1 1-1 1 0 1-2 1-2 1-2 1-1 1-1 1 0 1 0 1-1 1-1 1-2 1-3 1-4 1-5 1-6 1-4 1-1 1 0 1 1 1 0 1 0 1-1 1-2 1-5 1-7 1-7 1-6 1-5 1-6 1-7 1-8 1-9 1-10 1-12 1-15 1-18 1-18 1-16 1-17 1-19 1-23 1-28 1-32 1-36 1-36 1-37 1-43 1-52 1-64 1-73 1-77 1-75 1-75 1-76 1-74 1-74 1-75 1-75 1-55 1-21 1-4 1 8 1 28 1 56 1 67 1 68 1 66 1 61 1 60 1 60 1 60 1 58 1 52 1 39 1 28 1 20 1 14 1 9 1 6 1-1 1-12 1-13 1 0 1 14 1 20 1 25 1 28 1 30 1 28 1 26 1 26 1 24 1 23 1 18 1 14 1 10 1 7 1 5 1 3 1 0 1-1 1-1 1-2 1-3 1-4 1-3 1-3 1-1 1 2 1 3 1 4 1 5 1 3 1 3 1-1 1-3 1-3 1-2 1-7 1-7 1-1 1 5 1 8 1 7 1 3 1 1 1 1 1 2 1 2 1 3 1 3 1 0 1-2 1 0 1 0 1 0 1-1 1-1 1-2 1-3 1-3 1-3 1-1 1 1 1 1 1 1 1 1 1 0 1-1 1 0 1 1 1 0 1 0 1 1 1 0 1 1 1 1 1-1 1 0 1 0 1 1 1 3 1 3 1 3 1 2 1 0 1-1 1-1 1 2 1 3 1 3 1 4 1 4 1 3 1 0 1-1 1 0 1 0 1 0 1-2 1-1 1 0 1 2 1 1 1 0 1-3 1-2 1-2 1-2 1-2 1-2 1-3 1-1 1-1 1-1 1-2 1-1 1 1 1 0 1-1 1-2 1-4 1-3 1-4 1-5 1-3 1-2 1 0 1-2 1-2 1-4 1-3 1-3 1-1 1-4 1-5 1-6 1-5 1-5 1-3" stroke="#7E2F8E"/>
<path d="M0,1566l1 0 1 0 1 0 1-2 1-2 1-3 1-1 1-1 1-1 1-3 1-2 1 0 1 1 1-2 1-2 1-2 1 0 1 2 1 0 1-2 1-4 1-4 1-3 1-3 1-2 1-2 1-2 1-3 1-6 1-7 1-9 1-8 1-5 1-5 1-6 1-7 1-9 1-10 1-11 1-13 1-14 1-16 1-17 1-19 1-23 1-25 1-28 1-32 1-34 1-35 1-37 1-43 1-51 1-61 1-73 1-78 1-78 1-77 1-77 1-77 1-78 1-78 1-79 1-57 1-27 1-6 1 10 1 33 1 61 1 68 1 70 1 68 1 65 1 63 1 62 1 60 1 58 1 54 1 42 1 30 1 19 1 13 1 8 1 3 1-2 1-14 1-15 1-1 1 15 1 22 1 28 1 29 1 30 1 29 1 26 1 24 1 22 1 21 1 19 1 15 1 12 1 8 1 6 1 4 1 1 1 0 1-2 1-1 1-1 1-3 1-6 1-6 1-5 1 1 1 5 1 7 1 7 1 4 1 2 1 0 1-2 1-2 1-4 1-8 1-6 1 0 1 5 1 7 1 6 1 4 1 1 1 2 1 2 1 2 1 1 1 1 1-1 1-2 1-3 1-1 1 1 1 1 1-1 1-2 1-2 1-2 1-2 1-1 1-1 1 1 1 1 1-1 1 0 1-1 1-1 1 0 1-1 1 0 1-1 1-1 1-2 1-2 1-2 1 1 1 4 1 4 1 3 1-1 1-1 1-2 1-1 1 0 1 0 1-1 1 0 1 1 1 2 1 1 1 1 1 3 1 2 1 1 1 1 1 2 1 0 1-2 1-4 1-4 1 0 1 1 1 0 1-2 1-3 1-3 1-1 1 0 1-1 1-2 1-3 1-3 1-2 1-2 1 0 1-1 1-3 1-6 1-6 1-4 1-2 1-2 1-3 1-3 1-1 1-1 1-1 1-1 1-3 1-5 1-5 1-6 1-7 1-5 1-4 1-3 1-3" stroke="#77AC30"/>
<path d="M0,1635l1 0 1 0 1-1 1-1 1 0 1 0 1 1 1-1 1-2 1-2 1-1 1-1 1 0 1-1 1-3 1-2 1-1 1-1 1-1 1 2 1 0 1-2 1-2 1-2 1-2 1-2 1-4 1-5 1-5 1-5 1-5 1-5 1-5 1-4 1-5 1-5 1-6 1-9 1-11 1-15 1-16 1-16 1-15 1-19 1-24 1-27 1-31 1-34 1-36 1-37 1-40 1-45 1-50 1-56 1-64 1-68 1-70 1-73 1-74 1-74 1-73 1-69 1-66 1-44 1-18 1-2 1 10 1 30 1 55 1 63 1 63 1 61 1 58 1 56 1 55 1 55 1 54 1 48 1 36 1 28 1 21 1 20 1 15 1 9 1 3 1-3 1-3 1 5 1 13 1 15 1 18 1 21 1 24 1 25 1 21 1 17 1 17 1 17 1 17 1 15 1 11 1 6 1 4 1 3 1 1 1 1 1 0 1-1 1-3 1-5 1-5 1-2 1 2 1 6 1 7 1 6 1 4 1 0 1-2 1-3 1-3 1-2 1-2 1-3 1-5 1-2 1 3 1 5 1 5 1 2 1-1 1 0 1 1 1 2 1 3 1 3 1 2 1 2 1 0 1-2 1-2 1-3 1-2 1-1 1-2 1 0 1 0 1 1 1 2 1 3 1 2 1 1 1 0 1-2 1-3 1-3 1-3 1 1 1 2 1 1 1 1 1-2 1-2 1 0 1 2 1 2 1 2 1 1 1 2 1 4 1 3 1 2 1 1 1 0 1 0 1 0 1-1 1-2 1-2 1-2 1 0 1 1 1 3 1 4 1 2 1 1 1 1 1 0 1-2 1-3 1-6 1-4 1-1 1 1 1 0 1 0 1 0 1 0 1-2 1-3 1-5 1-6 1-6 1-5 1-3 1-2 1 0 1 0 1 1 1 0 1-2 1-3 1-5 1-4 1-3 1-4 1-4 1-3 1-3 1-4 1-2 1-3 1-3 1-3 1-2" stroke="#4DBEEE"/>
<path d="M0,1547l1-1 1 1 1 2 1 3 1 2 1 1 1 0 1-3 1-3 1-1 1 0 1 0 1-1 1 0 1 0 1 0 1 1 1 0 1-1 1-5 1-7 1-7 1-4 1 0 1 1 1-2 1-4 1-4 1-4 1-3 1-6 1-6 1-7 1-7 1-7 1-6 1-5 1-7 1-10 1-15 1-17 1-17 1-17 1-19 1-22 1-26 1-29 1-29 1-31 1-34 1-39 1-43 1-51 1-60 1-72 1-80 1-82 1-81 1-79 1-76 1-76 1-78 1-79 1-57 1-24 1-4 1 10 1 33 1 60 1 67 1 69 1 68 1 64 1 61 1 61 1 59 1 59 1 56 1 42 1 29 1 19 1 13 1 6 1 0 1-5 1-14 1-12 1 0 1 15 1 19 1 23 1 28 1 30 1 30 1 29 1 27 1 28 1 24 1 19 1 13 1 8 1 6 1 5 1 4 1 2 1-3 1-4 1-4 1-2 1-1 1-1 1-3 1-3 1 3 1 6 1 6 1 6 1 2 1 0 1-2 1-4 1-4 1-5 1-8 1-6 1 2 1 7 1 8 1 6 1 4 1 3 1 5 1 2 1 0 1-1 1-1 1-1 1 1 1-1 1-1 1 0 1-1 1-2 1-4 1-5 1-3 1-2 1-1 1 0 1 0 1 2 1 3 1 2 1 0 1-2 1-2 1-3 1-1 1-1 1-1 1-2 1-2 1-2 1-1 1 1 1 3 1 3 1 2 1 2 1 3 1 3 1 1 1-1 1-2 1-1 1 1 1 2 1 1 1 3 1 2 1 2 1 1 1 0 1-1 1 0 1 1 1 0 1-3 1-3 1-3 1-3 1-1 1-1 1-1 1-2 1-2 1-2 1-1 1-2 1-2 1-3 1-2 1-3 1-3 1-2 1-3 1-3 1-3 1-2 1-1 1-2 1-2 1-2 1-3 1-3 1-2 1-2 1-3 1-4 1-5 1-4 1-3 1-3 1-3 1-2" stroke="#A2142F"/>
<path d="M0,1568l1 1 1 0 1-2 1-1 1-2 1-2 1-2 1-3 1 0 1 0 1 0 1 0 1-1 1-1 1-1 1-4 1-4 1-3 1-2 1 1 1 2 1 0 1-2 1-3 1-3 1-4 1-5 1-6 1-5 1-5 1-5 1-7 1-6 1-5 1-4 1-7 1-10 1-12 1-13 1-13 1-14 1-15 1-16 1-19 1-22 1-25 1-28 1-30 1-33 1-36 1-39 1-44 1-50 1-60 1-71 1-80 1-80 1-80 1-80 1-78 1-77 1-76 1-75 1-53 1-21 1-4 1 9 1 31 1 58 1 65 1 66 1 65 1 63 1 64 1 63 1 61 1 59 1 55 1 41 1 30 1 20 1 15 1 10 1 4 1-2 1-14 1-15 1-2 1 12 1 19 1 23 1 26 1 28 1 30 1 28 1 27 1 26 1 22 1 18 1 14 1 14 1 12 1 9 1 5 1 2 1-2 1-3 1-5 1-5 1-7 1-6 1-4 1 2 1 7 1 8 1 5 1 3 1 0 1 0 1-2 1-2 1-4 1-6 1-12 1-9 1 0 1 9 1 12 1 8 1 3 1-1 1 1 1 3 1 3 1 2 1 1 1 0 1-1 1-2 1-2 1-1 1 1 1 0 1 2 1 0 1 1 1-1 1-1 1-1 1 0 1 1 1-1 1-2 1-3 1-1 1 1 1 1 1-1 1-4 1-3 1-1 1 0 1 2 1 4 1 4 1 2 1 0 1 1 1 0 1 1 1 0 1 2 1 3 1 2 1 2 1 2 1 3 1 2 1 1 1 0 1 0 1 0 1 1 1 2 1 1 1 0 1-1 1-1 1-2 1-2 1-3 1-2 1-1 1 1 1 0 1-1 1-4 1-4 1-3 1-2 1-3 1-2 1 0 1 1 1 1 1-1 1-3 1-4 1-3 1-4 1-3 1-2 1-2 1-2 1-2 1-4 1-5 1-4 1-4 1-2 1-3 1-1 1-3 1-4 1-4" stroke="#0072BD"/>
<path d="M0,1602l1 2 1 1 1 1 1-1 1-3 1-2 1 0 1 1 1 1 1 2 1 1 1-2 1-2 1-2 1 0 1-1 1-1 1 0 1-1 1-3 1-3 1-3 1-3 1-2 1 0 1 1 1 0 1-1 1-1 1-3 1-6 1-7 1-8 1-7 1-5 1-6 1-9 1-10 1-12 1-13 1-14 1-14 1-15 1-18 1-23 1-27 1-30 1-32 1-35 1-39 1-41 1-46 1-51 1-58 1-66 1-70 1-71 1-72 1-74 1-75 1-75 1-74 1-74 1-51 1-20 1-1 1 10 1 30 1 55 1 61 1 63 1 63 1 60 1 61 1 60 1 59 1 56 1 48 1 36 1 25 1 19 1 16 1 12 1 8 1 0 1-8 1-10 1-2 1 9 1 18 1 23 1 27 1 27 1 25 1 23 1 22 1 21 1 19 1 16 1 12 1 10 1 8 1 5 1 2 1 0 1-2 1-1 1-1 1-1 1-3 1-4 1-2 1 0 1 4 1 5 1 3 1 2 1 0 1 0 1-1 1-2 1-2 1-2 1-3 1-3 1 3 1 8 1 8 1 5 1 0 1-3 1-1 1 0 1 2 1 2 1 1 1 2 1 1 1 1 1 0 1-1 1-3 1-2 1-1 1 1 1 0 1-1 1-2 1-1 1 2 1 3 1 2 1 0 1 0 1 0 1-2 1-1 1-1 1-1 1 0 1 0 1 1 1 0 1 0 1-1 1-1 1-1 1 1 1 4 1 6 1 4 1 4 1 1 1 0 1 0 1 0 1 2 1 1 1 1 1 1 1 1 1 1 1 1 1-1 1-4 1-5 1-4 1-3 1 0 1 0 1 0 1-2 1-4 1-4 1-3 1-2 1 1 1 1 1 0 1-2 1-4 1-4 1-4 1-3 1-3 1-2 1-4 1-4 1-3 1-2 1-2 1-3 1-4 1-4 1-4 1-3 1-1 1-2 1-3 1-3 1-2 1-3 1-4 1-7 1-7" stroke="#D95319"/>
<path d="M0,1534l1-1 1 0 1 2 1 1 1 0 1-3 1-2 1 0 1 4 1 2 1-2 1-4 1-4 1-2 1 1 1 1 1 0 1-1 1-3 1-4 1-2 1-1 1 0 1-3 1-2 1-2 1-1 1-3 1-3 1-6 1-7 1-8 1-6 1-5 1-5 1-8 1-10 1-12 1-14 1-17 1-16 1-14 1-14 1-17 1-22 1-25 1-29 1-33 1-34 1-34 1-38 1-42 1-51 1-61 1-75 1-83 1-81 1-80 1-81 1-81 1-81 1-82 1-83 1-61 1-24 1-3 1 12 1 32 1 59 1 67 1 69 1 70 1 68 1 65 1 62 1 60 1 59 1 55 1 42 1 32 1 22 1 12 1 1 1-4 1-8 1-17 1-17 1-2 1 13 1 20 1 27 1 33 1 35 1 32 1 30 1 27 1 26 1 23 1 19 1 18 1 15 1 12 1 7 1 1 1-2 1-1 1 0 1 0 1-2 1-4 1-6 1-6 1-3 1 4 1 8 1 9 1 7 1 1 1 0 1-3 1-4 1-5 1-7 1-10 1-9 1-1 1 8 1 12 1 12 1 6 1 1 1 1 1 1 1 1 1 0 1 0 1-1 1-2 1 0 1 1 1 1 1 1 1-1 1-2 1-2 1-3 1-2 1-2 1-2 1-2 1 0 1 0 1-1 1 0 1-1 1 0 1-1 1-1 1 0 1 1 1 2 1 1 1-1 1-4 1-5 1-2 1 1 1 2 1 3 1 1 1 4 1 4 1 4 1 0 1-2 1-1 1-1 1 0 1 2 1 3 1 4 1 2 1 1 1 1 1 1 1-1 1-1 1 0 1 3 1 2 1-2 1-6 1-6 1-5 1-4 1-2 1-2 1-1 1 0 1-1 1-3 1-5 1-4 1-4 1-2 1-2 1-2 1-2 1-2 1-4 1-4 1-5 1-3 1-3 1-3 1-2 1 0 1-2 1-2 1-2 1-4 1-5 1-5 1-5 1-5" stroke="#EDB120"/>
<path d="M0,1558l1-2 1-4 1-4 1-1 1 2 1 3 1 1 1 0 1-1 1 0 1 0 1-2 1-3 1-2 1-1 1 1 1 0 1-1 1-3 1-5 1-5 1-4 1-2 1 1 1 1 1 1 1-1 1-3 1-4 1-6 1-7 1-7 1-6 1-4 1-5 1-6 1-9 1-12 1-13 1-14 1-13 1-12 1-15 1-20 1-25 1-27 1-28 1-29 1-32 1-37 1-40 1-45 1-50 1-60 1-71 1-78 1-78 1-78 1-79 1-79 1-78 1-77 1-75 1-55 1-23 1-4 1 10 1 32 1 59 1 67 1 68 1 68 1 64 1 63 1 62 1 59 1 56 1 51 1 40 1 30 1 21 1 14 1 6 1 1 1-5 1-16 1-18 1-4 1 12 1 22 1 26 1 29 1 31 1 30 1 28 1 24 1 25 1 23 1 21 1 17 1 12 1 9 1 5 1 1 1-1 1-2 1-2 1-1 1-1 1-3 1-6 1-6 1-2 1 4 1 7 1 7 1 4 1-2 1-3 1-2 1-3 1-3 1-4 1-8 1-6 1 2 1 9 1 13 1 11 1 5 1 0 1-2 1-2 1-1 1-1 1-1 1 0 1 0 1 2 1 1 1 0 1-1 1-1 1 1 1 1 1-1 1-2 1-2 1-1 1-2 1 0 1-1 1-1 1-1 1 0 1 1 1 2 1 1 1 0 1-1 1-1 1-2 1-1 1-1 1-1 1 0 1 1 1 2 1 3 1 3 1 3 1 2 1 1 1 0 1-1 1 0 1 3 1 2 1 1 1 1 1 0 1 0 1 0 1-2 1-1 1-2 1-2 1 0 1 1 1 1 1 0 1-1 1-2 1-3 1-2 1-3 1-4 1-4 1-4 1-5 1-2 1-1 1 2 1 1 1-2 1-4 1-5 1-4 1-3 1-3 1-3 1-3 1-4 1-4 1-3 1-2 1-3 1-3 1-5 1-5 1-4 1-3 1-1 1-1 1-3" stroke="#7E2F8E"/>
<path d="M0,1567l1 0 1-1 1-1 1-1 1-1 1-1 1 0 1 1 1 1 1-2 1-3 1-2 1-1 1 0 1 0 1 1 1-2 1-3 1-4 1-4 1-4 1-3 1-3 1-4 1-4 1-4 1-3 1-3 1-3 1-4 1-5 1-5 1-7 1-8 1-8 1-8 1-10 1-10 1-8 1-10 1-13 1-16 1-18 1-21 1-24 1-26 1-29 1-31 1-34 1-36 1-39 1-44 1-52 1-60 1-71 1-77 1-77 1-79 1-81 1-82 1-82 1-80 1-79 1-55 1-22 1-2 1 13 1 33 1 58 1 65 1 66 1 66 1 63 1 64 1 64 1 62 1 61 1 56 1 43 1 30 1 20 1 12 1 6 1 0 1-4 1-15 1-14 1 0 1 15 1 22 1 25 1 28 1 30 1 31 1 30 1 26 1 25 1 21 1 20 1 16 1 13 1 9 1 5 1 3 1 1 1 1 1 0 1-2 1-4 1-4 1-4 1-4 1 0 1 3 1 7 1 5 1 4 1 0 1-1 1 0 1 0 1-1 1-2 1-8 1-8 1 1 1 7 1 11 1 7 1 3 1-1 1 0 1 0 1 0 1 1 1 1 1 1 1 0 1 1 1 1 1 0 1-2 1-1 1 0 1 1 1 0 1-1 1-1 1-1 1-2 1 0 1 1 1 0 1 0 1 1 1 1 1 1 1 0 1-1 1-1 1 0 1 0 1 0 1-2 1-2 1-2 1 0 1 2 1 4 1 3 1 2 1 0 1-1 1 0 1 1 1 2 1 0 1 0 1 0 1-1 1-2 1 0 1 1 1 1 1 1 1 1 1 1 1 0 1 0 1 0 1 0 1-2 1-3 1-3 1-3 1-4 1-6 1-5 1-2 1 0 1 1 1 0 1-1 1-1 1-2 1-2 1-3 1-2 1-2 1-2 1-2 1-2 1-2 1-5 1-5 1-7 1-5 1-5 1-2 1-3 1-3 1-4 1-5 1-4 1-2" stroke="#77AC30"/>
<path d="M0,1577l1 2 1 0 1 0 1-1 1-2 1-2 1-2 1-1 1-2 1 0 1-1 1-2 1-2 1-1 1-1 1-2 1-3 1-5 1-3 1-2 1-2 1-3 1-1 1-2 1-3 1-3 1-2 1-3 1-4 1-6 1-7 1-7 1-7 1-5 1-3 1-3 1-7 1-12 1-16 1-18 1-17 1-15 1-16 1-20 1-24 1-27 1-29 1-31 1-33 1-36 1-39 1-44 1-51 1-61 1-72 1-77 1-77 1-78 1-81 1-84 1-85 1-83 1-80 1-57 1-22 1-2 1 12 1 32 1 59 1 67 1 69 1 67 1 63 1 61 1 60 1 62 1 63 1 58 1 43 1 29 1 18 1 11 1 6 1 2 1-3 1-16 1-18 1-4 1 13 1 25 1 30 1 30 1 28 1 29 1 28 1 26 1 25 1 24 1 19 1 17 1 15 1 12 1 9 1 4 1-3 1-4 1-4 1-2 1 0 1-2 1-4 1-3 1 0 1 6 1 7 1 6 1 5 1 1 1-3 1-4 1-1 1 0 1-2 1-8 1-8 1-2 1 6 1 10 1 11 1 6 1 1 1 0 1 4 1 5 1 3 1-1 1-4 1-4 1-3 1-2 1-1 1-1 1 1 1 3 1 2 1 1 1 2 1 1 1 1 1-2 1-1 1 0 1 1 1-1 1-2 1-2 1 0 1 0 1-1 1-1 1-2 1-2 1-1 1 2 1 4 1 2 1-1 1-3 1-1 1 0 1 1 1 3 1 3 1 3 1 2 1 0 1 1 1 0 1 0 1-1 1 0 1 0 1 1 1 0 1 1 1 1 1-2 1-3 1-2 1-3 1-2 1-1 1-1 1-3 1-4 1-3 1-2 1 1 1 1 1 0 1-3 1-6 1-6 1-5 1-4 1-3 1-3 1-4 1-3 1-3 1-3 1-3 1-3 1-5 1-6 1-5 1-3 1-1 1-1 1-3 1-4 1-3 1-5 1-5 1-5" stroke="#4DBEEE"/>
<path d="M0,1609l1 2 1 1 1 0 1 0 1-2 1-2 1-2 1 0 1-1 1-1 1-3 1-2 1 0 1-1 1-1 1-1 1-2 1-1 1-1 1-2 1-1 1 0 1-1 1-2 1-2 1-2 1-3 1-5 1-5 1-6 1-5 1-5 1-5 1-6 1-6 1-8 1-10 1-12 1-12 1-11 1-12 1-16 1-18 1-23 1-26 1-27 1-29 1-34 1-37 1-38 1-39 1-43 1-52 1-60 1-68 1-73 1-74 1-76 1-74 1-75 1-76 1-77 1-76 1-53 1-21 1-3 1 8 1 29 1 55 1 64 1 66 1 64 1 60 1 57 1 58 1 56 1 54 1 50 1 39 1 31 1 23 1 17 1 10 1 6 1-1 1-12 1-12 1 0 1 11 1 16 1 21 1 24 1 29 1 30 1 29 1 24 1 21 1 17 1 16 1 15 1 13 1 9 1 7 1 5 1 2 1 1 1-1 1-3 1-5 1-6 1-6 1-3 1 1 1 5 1 8 1 9 1 5 1 1 1-2 1-1 1-2 1-2 1-4 1-7 1-7 1 0 1 6 1 11 1 11 1 5 1 0 1-2 1-2 1-1 1-1 1 0 1-1 1-1 1-1 1 0 1 0 1 1 1 3 1 3 1 3 1 2 1 2 1 0 1-3 1-3 1-1 1-1 1 0 1 1 1-1 1-1 1-2 1-1 1 0 1 1 1 0 1 1 1 1 1 0 1 0 1 1 1 0 1 0 1 2 1 4 1 6 1 3 1 1 1 0 1 0 1 0 1 1 1 0 1 2 1 1 1 0 1-2 1 0 1 2 1 2 1 1 1-1 1-2 1-2 1-2 1 0 1 1 1 1 1-1 1-3 1-4 1-3 1 0 1-1 1-2 1-4 1-4 1-4 1-2 1-1 1-1 1-2 1-2 1-3 1-5 1-4 1-3 1-2 1-1 1-1 1 1 1 1 1-3 1-5 1-5 1-5 1-4 1-4 1-4 1-4" stroke="#A2142F"/>
<path d="M0,1577l1 2 1-1 1-1 1-1 1 0 1 0 1 0 1 2 1-1 1-3 1-4 1-1 1 0 1 0 1-1 1-1 1 0 1-2 1-1 1-2 1-3 1-2 1-2 1-3 1-4 1-5 1-4 1-4 1-5 1-4 1-4 1-5 1-7 1-9 1-8 1-7 1-7 1-11 1-14 1-16 1-14 1-13 1-13 1-17 1-23 1-26 1-30 1-36 1-40 1-41 1-39 1-42 1-49 1-59 1-71 1-77 1-78 1-77 1-78 1-76 1-78 1-79 1-80 1-59 1-23 1-2 1 13 1 33 1 58 1 65 1 67 1 65 1 61 1 59 1 60 1 59 1 59 1 54 1 40 1 28 1 20 1 15 1 10 1 5 1-1 1-14 1-14 1-2 1 13 1 19 1 25 1 28 1 31 1 29 1 26 1 27 1 26 1 25 1 21 1 16 1 12 1 9 1 5 1 3 1 0 1-1 1-1 1-1 1-1 1-3 1-6 1-5 1-1 1 2 1 5 1 7 1 4 1 0 1-1 1-2 1-1 1-4 1-5 1-8 1-6 1 1 1 8 1 9 1 9 1 5 1 2 1 1 1-2 1-3 1-4 1 0 1 2 1 4 1 2 1-1 1-1 1 0 1 0 1-1 1-2 1-2 1 0 1 2 1 0 1 0 1-1 1 0 1 1 1 0 1-2 1-3 1-2 1-1 1-1 1-1 1-1 1 0 1 1 1 1 1-1 1-3 1-2 1 2 1 4 1 4 1 2 1-1 1-2 1 0 1 2 1 2 1 1 1 0 1 0 1 0 1 2 1 3 1 1 1-2 1-2 1 0 1 3 1 3 1 0 1-3 1-4 1-2 1-2 1-4 1-5 1-6 1-4 1-1 1 0 1 0 1-2 1-2 1-1 1-1 1 1 1-3 1-5 1-5 1-2 1-1 1-2 1-4 1-5 1-5 1-4 1-3 1-3 1-3 1-4 1-4 1-4 1-4 1-4 1-3 1-5" stroke="#0072BD"/>
<path d="M0,1610l1-3 1-2 1 0 1 0 1 0 1-2 1 0 1-1 1-2 1-3 1-2 1 0 1 1 1-1 1-3 1-4 1-2 1 0 1-1 1-1 1-1 1-2 1-3 1-2 1-1 1-1 1-3 1-5 1-4 1-4 1-4 1-4 1-5 1-6 1-7 1-8 1-11 1-12 1-11 1-12 1-14 1-17 1-19 1-22 1-24 1-25 1-27 1-30 1-33 1-37 1-41 1-45 1-51 1-60 1-69 1-76 1-76 1-77 1-79 1-77 1-75 1-74 1-72 1-52 1-23 1-5 1 7 1 29 1 56 1 64 1 67 1 66 1 65 1 64 1 60 1 57 1 55 1 50 1 39 1 28 1 20 1 14 1 8 1 4 1-1 1-11 1-12 1 1 1 13 1 20 1 23 1 28 1 28 1 28 1 25 1 23 1 22 1 21 1 17 1 15 1 12 1 11 1 7 1 3 1-4 1-6 1-3 1-1 1-1 1-2 1-4 1-4 1-1 1 3 1 6 1 6 1 4 1 1 1 0 1-1 1-1 1-1 1-3 1-10 1-9 1-2 1 6 1 10 1 11 1 7 1 2 1-1 1-3 1-3 1-1 1-1 1 0 1 0 1 1 1 2 1 3 1 2 1-1 1-2 1-2 1-1 1 1 1 3 1 1 1-1 1-3 1-3 1 1 1 0 1 0 1-1 1-2 1 0 1 0 1 0 1-1 1-3 1-2 1 0 1 1 1 2 1 1 1 2 1 4 1 3 1 2 1 0 1 1 1 1 1 4 1 3 1 3 1 2 1 1 1 2 1 3 1 1 1 0 1-1 1-2 1-1 1-1 1-1 1-1 1-2 1 0 1 0 1-1 1-4 1-3 1-2 1-1 1 0 1-1 1-2 1-2 1-3 1-3 1-2 1-1 1 0 1-1 1-2 1-4 1-3 1-2 1-3 1-1 1-2 1-1 1-1 1-2 1-3 1-4 1-4 1-2 1-2 1-2 1-4 1-6" stroke="#D95319"/>
<path d="M0,1587l1-2 1-1 1-1 1-2 1-1 1-1 1 0 1 1 1 1 1-1 1-3 1-3 1-2 1 0 1 0 1 2 1 2 1 1 1-2 1-4 1-6 1-7 1-3 1-2 1 0 1 0 1 0 1-2 1-3 1-5 1-7 1-7 1-6 1-6 1-6 1-8 1-8 1-10 1-12 1-13 1-13 1-14 1-16 1-21 1-24 1-26 1-29 1-32 1-36 1-38 1-42 1-46 1-51 1-57 1-66 1-72 1-73 1-74 1-77 1-79 1-78 1-75 1-74 1-53 1-22 1-5 1 8 1 31 1 57 1 65 1 66 1 65 1 62 1 62 1 62 1 61 1 58 1 50 1 36 1 25 1 21 1 16 1 12 1 6 1 0 1-12 1-13 1 1 1 14 1 20 1 22 1 24 1 29 1 32 1 29 1 24 1 22 1 21 1 18 1 14 1 10 1 7 1 4 1 2 1 0 1-1 1-2 1-3 1-3 1-3 1-4 1-4 1-3 1 2 1 5 1 6 1 7 1 4 1 1 1 0 1-3 1-6 1-7 1-9 1-4 1 2 1 7 1 8 1 8 1 4 1 2 1 0 1 0 1-2 1-1 1 1 1 0 1 0 1 0 1-2 1-3 1-1 1 0 1 0 1-1 1-1 1-2 1-1 1-1 1 0 1 1 1 1 1 0 1-2 1-4 1-3 1-4 1-3 1-2 1-1 1 1 1 1 1 1 1 2 1 1 1 3 1 3 1 3 1 2 1 2 1 2 1 1 1 0 1-1 1 0 1 1 1 0 1 1 1 1 1 1 1 1 1 0 1-1 1-2 1 0 1 0 1 1 1 0 1-2 1-1 1-2 1-2 1-4 1-2 1-1 1 0 1-1 1-2 1-2 1-2 1-2 1-2 1-3 1-3 1-3 1-2 1-2 1-1 1-2 1-1 1-2 1-5 1-5 1-4 1-4 1-3 1-3 1-1 1-3 1-4 1-3 1-1 1-2 1-2 1-4" stroke="#EDB120"/>
<path d="M0,1657l1 3 1 5 1 6 1 0 1-3 1-3 1-2 1 0 1 0 1-1 1-1 1 0 1 1 1 0 1-2 1-4 1-2 1-2 1-3 1-5 1-5 1-2 1-2 1-3 1-2 1 0 1 2 1 3 1-1 1-5 1-7 1-6 1-4 1-5 1-8 1-9 1-7 1-7 1-6 1-7 1-10 1-13 1-15 1-16 1-16 1-18 1-23 1-29 1-34 1-36 1-38 1-44 1-51 1-58 1-63 1-66 1-69 1-70 1-70 1-67 1-62 1-56 1-48 1-33 1-14 1-4 1 5 1 24 1 49 1 59 1 61 1 56 1 51 1 49 1 50 1 49 1 47 1 40 1 30 1 20 1 18 1 18 1 14 1 7 1 1 1-9 1-6 1 5 1 10 1 13 1 17 1 19 1 23 1 25 1 23 1 20 1 18 1 16 1 14 1 12 1 7 1 2 1 2 1 2 1 2 1-2 1-2 1-3 1-3 1-3 1-2 1-1 1 2 1 3 1 3 1 4 1 3 1 3 1 0 1-1 1-2 1-3 1-4 1-3 1 0 1 5 1 9 1 11 1 10 1 4 1-3 1-4 1-3 1 1 1 1 1 1 1-2 1-2 1 0 1 1 1 2 1 1 1-2 1-3 1-1 1 2 1 4 1 2 1 0 1-3 1-2 1-3 1-2 1-1 1 3 1 4 1 3 1-1 1-3 1 0 1 4 1 6 1 1 1 0 1-1 1-2 1-2 1-1 1 1 1 1 1 0 1 1 1 3 1 4 1 4 1 2 1 0 1-1 1-4 1-4 1-5 1-2 1 2 1 3 1 3 1 1 1-1 1-2 1-2 1-1 1-1 1-4 1-7 1-7 1-4 1 1 1 4 1 3 1 0 1-4 1-5 1-4 1 1 1 2 1 1 1-2 1-4 1-3 1 1 1 3 1 3 1-1 1-4 1-4 1-2 1-1 1-1 1-1 1-2 1-2 1-2 1-3 1-3 1-4 1-1" stroke="#D95319"/>
</g>
<path d="M18.30,2.90V174.10" stroke="#767676" stroke-width="1.8"/>
<path d="M17.40,3.85H312.20" stroke="#707070" stroke-width="1.9"/>
<path d="M311.60,2.90V174.10" stroke="#383838" stroke-width="1.2"/>
<path d="M17.40,173.45H312.20" stroke="#383838" stroke-width="1.3"/>
<path d="M50.27,173.45v-4.3M50.27,3.85v4.3M82.93,173.45v-4.3M82.93,3.85v4.3M115.60,173.45v-4.3M115.60,3.85v4.3M148.27,173.45v-4.3M148.27,3.85v4.3M180.93,173.45v-4.3M180.93,3.85v4.3M213.60,173.45v-4.3M213.60,3.85v4.3M246.27,173.45v-4.3M246.27,3.85v4.3M278.93,173.45v-4.3M278.93,3.85v4.3M18.30,156.46h2.7M311.60,156.46h-2.7M18.30,139.52h2.7M311.60,139.52h-2.7M18.30,122.58h2.7M311.60,122.58h-2.7M18.30,105.64h2.7M311.60,105.64h-2.7M18.30,88.70h2.7M311.60,88.70h-2.7M18.30,71.76h2.7M311.60,71.76h-2.7M18.30,54.82h2.7M311.60,54.82h-2.7M18.30,37.88h2.7M311.60,37.88h-2.7M18.30,20.94h2.7M311.60,20.94h-2.7" stroke="#404040" stroke-width="1.0"/>
<g font-size="6.9" font-weight="normal" fill="#2a2a2a" stroke="#2a2a2a" stroke-width="0.38">
<text transform="translate(17.60,183.3) scale(0.64,1)" text-anchor="middle">1900</text>
<text transform="translate(50.27,183.3) scale(0.64,1)" text-anchor="middle">1800</text>
<text transform="translate(82.93,183.3) scale(0.64,1)" text-anchor="middle">1700</text>
<text transform="translate(115.60,183.3) scale(0.64,1)" text-anchor="middle">1600</text>
<text transform="translate(148.27,183.3) scale(0.64,1)" text-anchor="middle">1500</text>
<text transform="translate(180.93,183.3) scale(0.64,1)" text-anchor="middle">1400</text>
<text transform="translate(213.60,183.3) scale(0.64,1)" text-anchor="middle">1300</text>
<text transform="translate(246.27,183.3) scale(0.64,1)" text-anchor="middle">1200</text>
<text transform="translate(278.93,183.3) scale(0.64,1)" text-anchor="middle">1100</text>
<text transform="translate(311.60,183.3) scale(0.64,1)" text-anchor="middle">1000</text>
<text transform="translate(16.0,175.88) scale(0.64,1)" text-anchor="end">0</text>
<text transform="translate(16.0,158.94) scale(0.64,1)" text-anchor="end">0.02</text>
<text transform="translate(16.0,142.00) scale(0.64,1)" text-anchor="end">0.04</text>
<text transform="translate(16.0,125.06) scale(0.64,1)" text-anchor="end">0.06</text>
<text transform="translate(16.0,108.12) scale(0.64,1)" text-anchor="end">0.08</text>
<text transform="translate(16.0,91.18) scale(0.64,1)" text-anchor="end">0.1</text>
<text transform="translate(16.0,74.24) scale(0.64,1)" text-anchor="end">0.12</text>
<text transform="translate(16.0,57.30) scale(0.64,1)" text-anchor="end">0.14</text>
<text transform="translate(16.0,40.36) scale(0.64,1)" text-anchor="end">0.16</text>
<text transform="translate(16.0,23.42) scale(0.64,1)" text-anchor="end">0.18</text>
<text transform="translate(16.0,6.48) scale(0.64,1)" text-anchor="end">0.2</text>
</g>
<text transform="translate(164.2,196.9) scale(0.7,1)" text-anchor="middle" font-size="9.6" font-weight="normal" fill="#222" stroke="#222" stroke-width="0.45">Wavenumber cm<tspan dy="-4.03" dx="0.6" font-size="6.91">-1</tspan></text>
<text transform="translate(6.2,88.3) scale(0.72,1) rotate(-90)" text-anchor="middle" font-size="9.4" font-weight="bold" fill="#222">Absorbance</text>
<text transform="translate(25.4,21.4) scale(0.75,1)" font-size="11.5" fill="#222" stroke="#222" stroke-width="0.3">A</text>
<g transform="translate(386.00,0) scale(1.3044,0.1)" stroke-width="1.0">
<path d="M0,1749l1 0 1 2 1 3 1 2 1 1 1-1 1-1 1-2 1-1 1-1 1 1 1 0 1-1 1-1 1 0 1-1 1-1 1 0 1 1 1 1 1 2 1 1 1 1 1-1 1 0 1-2 1-1 1-3 1-1 1-2 1-1 1-1 1 0 1-4 1-7 1-8 1-6 1 0 1 3 1 4 1 0 1-5 1-7 1-10 1-11 1-16 1-20 1-23 1-26 1-27 1-32 1-45 1-66 1-91 1-99 1-100 1-98 1-99 1-100 1-101 1-101 1-90 1-64 1-52 1-28 1-3 1 24 1 51 1 62 1 73 1 85 1 91 1 84 1 74 1 63 1 48 1 26 1 10 1-2 1-15 1-25 1-38 1-62 1-85 1-92 1-88 1-87 1-84 1-64 1-30 1 1 1 22 1 35 1 37 1 53 1 82 1 95 1 97 1 92 1 92 1 87 1 66 1 46 1 29 1 7 1-16 1-21 1-24 1-26 1-31 1-27 1-10 1 6 1 13 1 15 1 17 1 20 1 17 1 8 1-13 1-32 1-37 1-37 1-53 1-38 1 6 1 24 1 29 1 27 1 28 1 29 1 26 1 16 1 7 1 6 1 7 1 7 1 3 1-2 1-6 1-10 1-10 1-8 1-9 1-13 1-15 1-11 1-2 1 4 1 8 1 9 1 8 1 9 1 8 1 9 1 8 1 5 1 3 1 1 1 0 1-1 1-3 1-7 1-8 1-4 1 6 1 17 1 24 1 27 1 28 1 29 1 27 1 24 1 23 1 22 1 20 1 17 1 10 1-5 1-9 1-11 1-10 1-10 1-9 1 2 1 10 1 8 1 7 1 4 1-5 1-12 1-14 1-13 1-10 1-6 1-4 1-4 1-5 1-5 1-4 1-5 1-5 1-6 1-7 1-6 1-7 1-6 1-6 1-3 1 1 1 5 1 6 1 4 1 1 1 6 1 15 1 18 1 18 1 17 1 15 1 17 1 18 1 17 1 13 1 12" stroke="#0072BD"/>
<path d="M0,1764l1 0 1-1 1 0 1-3 1-4 1-3 1-1 1 1 1 2 1 0 1-1 1 0 1 1 1 1 1 0 1-2 1-1 1-1 1 0 1 0 1 0 1 1 1 0 1 0 1 0 1 0 1-2 1-4 1-4 1-1 1 0 1 1 1-2 1-5 1-7 1-7 1-5 1-2 1 0 1-2 1-2 1-4 1-4 1-4 1-6 1-12 1-19 1-24 1-30 1-32 1-38 1-48 1-63 1-83 1-90 1-92 1-94 1-96 1-97 1-94 1-92 1-80 1-52 1-39 1-19 1 2 1 27 1 48 1 58 1 71 1 86 1 91 1 84 1 72 1 61 1 47 1 26 1 12 1 2 1-11 1-25 1-36 1-54 1-74 1-80 1-75 1-71 1-64 1-45 1-17 1 6 1 20 1 30 1 35 1 49 1 71 1 78 1 77 1 74 1 75 1 73 1 56 1 37 1 22 1 5 1-13 1-15 1-15 1-14 1-16 1-11 1-2 1 7 1 10 1 7 1 4 1 4 1 3 1 1 1-12 1-22 1-26 1-26 1-39 1-27 1 8 1 21 1 25 1 25 1 27 1 26 1 24 1 17 1 10 1 6 1 5 1 3 1 2 1 0 1-3 1-4 1-4 1-6 1-5 1-8 1-8 1-7 1-3 1-1 1 1 1 4 1 3 1 3 1 2 1 1 1-2 1-4 1-6 1-3 1 0 1 1 1 1 1 0 1 0 1 2 1 7 1 15 1 19 1 19 1 20 1 21 1 20 1 19 1 16 1 12 1 8 1 7 1 4 1 0 1 1 1 1 1-1 1-5 1-5 1 1 1 6 1 5 1 3 1 2 1-4 1-8 1-9 1-9 1-10 1-10 1-10 1-11 1-12 1-10 1-11 1-12 1-14 1-14 1-11 1-9 1-7 1-6 1-1 1 3 1 7 1 7 1 7 1 4 1 2 1 6 1 11 1 12 1 12 1 17 1 19 1 21 1 20 1 18 1 11 1 9" stroke="#D95319"/>
<path d="M0,1739l1-2 1-1 1-1 1 0 1-1 1-2 1-4 1-4 1-2 1 0 1 3 1 3 1 2 1 0 1-1 1-1 1-2 1 0 1-2 1-1 1 0 1-1 1-2 1-2 1-3 1-4 1-4 1-4 1-1 1-1 1 0 1-2 1-4 1-7 1-9 1-8 1-7 1-5 1 0 1 2 1 0 1-3 1-5 1-8 1-11 1-17 1-23 1-28 1-30 1-33 1-36 1-48 1-68 1-97 1-113 1-121 1-125 1-125 1-125 1-127 1-127 1-122 1-110 1-91 1-40 1-2 1 36 1 73 1 84 1 94 1 107 1 111 1 99 1 78 1 56 1 35 1 20 1 7 1-3 1-12 1-18 1-29 1-64 1-92 1-100 1-101 1-105 1-102 1-74 1-25 1 17 1 42 1 50 1 50 1 68 1 104 1 118 1 116 1 111 1 111 1 105 1 81 1 59 1 39 1 12 1-21 1-33 1-34 1-31 1-34 1-26 1-3 1 17 1 26 1 25 1 25 1 30 1 26 1 13 1-14 1-35 1-41 1-38 1-55 1-40 1 6 1 26 1 33 1 34 1 35 1 34 1 31 1 22 1 13 1 9 1 8 1 7 1 4 1 1 1-3 1-7 1-8 1-11 1-12 1-16 1-17 1-11 1 1 1 9 1 14 1 14 1 10 1 8 1 8 1 7 1 6 1 3 1-3 1-7 1-8 1-8 1-5 1-8 1-8 1-7 1 5 1 19 1 25 1 27 1 29 1 29 1 27 1 23 1 19 1 18 1 18 1 20 1 11 1-11 1-20 1-20 1-20 1-21 1-19 1-3 1 10 1 9 1 7 1 8 1 2 1-6 1-8 1-9 1-8 1-8 1-9 1-8 1-7 1-9 1-12 1-16 1-15 1-15 1-13 1-13 1-14 1-12 1-6 1 5 1 11 1 13 1 13 1 13 1 13 1 19 1 23 1 22 1 21 1 20 1 19 1 19 1 20 1 21 1 15 1 12" stroke="#EDB120"/>
<path d="M0,1766l1-1 1 3 1 3 1 2 1-1 1-4 1-3 1-2 1 2 1 2 1 2 1 0 1-1 1-1 1-1 1-1 1 0 1 1 1 0 1-1 1-2 1-2 1-1 1 1 1 2 1 2 1 0 1 0 1 1 1 2 1-2 1-3 1-5 1-6 1-6 1-4 1-3 1 0 1 2 1 2 1-2 1-5 1-7 1-7 1-7 1-13 1-21 1-27 1-28 1-29 1-32 1-45 1-63 1-82 1-89 1-89 1-92 1-93 1-94 1-92 1-93 1-83 1-55 1-40 1-22 1 1 1 26 1 48 1 58 1 69 1 81 1 86 1 80 1 70 1 59 1 45 1 22 1 6 1-5 1-17 1-28 1-37 1-58 1-82 1-90 1-84 1-78 1-69 1-47 1-16 1 9 1 25 1 36 1 39 1 52 1 72 1 81 1 82 1 81 1 78 1 73 1 55 1 39 1 25 1 6 1-14 1-18 1-19 1-18 1-22 1-20 1-10 1 4 1 11 1 12 1 13 1 16 1 14 1 8 1-7 1-19 1-23 1-25 1-43 1-33 1 3 1 19 1 23 1 23 1 25 1 26 1 22 1 15 1 5 1 1 1 1 1 2 1-1 1-4 1-7 1-10 1-10 1-9 1-11 1-16 1-18 1-14 1-3 1 1 1 4 1 3 1 5 1 8 1 10 1 8 1 6 1 1 1-5 1-7 1-7 1-6 1-6 1-9 1-10 1-6 1 5 1 16 1 24 1 27 1 29 1 29 1 28 1 26 1 23 1 18 1 13 1 10 1 5 1-9 1-13 1-13 1-14 1-10 1-8 1 6 1 13 1 8 1 4 1 4 1-3 1-7 1-7 1-6 1-6 1-5 1-5 1-4 1-4 1-3 1-5 1-8 1-11 1-11 1-10 1-8 1-8 1-8 1-4 1 1 1 2 1 4 1 6 1 9 1 11 1 19 1 23 1 23 1 23 1 22 1 21 1 17 1 14 1 12 1 7 1 8" stroke="#7E2F8E"/>
<path d="M0,1742l1 0 1-1 1-1 1-1 1 1 1 1 1 1 1 1 1 1 1 0 1 1 1 1 1 0 1 1 1 1 1 1 1-2 1-4 1-4 1-1 1 2 1 2 1 2 1 0 1 0 1 0 1-1 1 0 1 0 1 0 1 0 1-1 1-4 1-6 1-7 1-7 1-6 1-3 1 0 1 2 1 2 1-3 1-7 1-9 1-9 1-11 1-18 1-24 1-28 1-32 1-36 1-48 1-64 1-84 1-94 1-98 1-101 1-103 1-105 1-105 1-106 1-97 1-73 1-59 1-31 1-5 1 23 1 51 1 63 1 75 1 88 1 93 1 86 1 72 1 59 1 39 1 18 1 4 1-4 1-14 1-25 1-37 1-64 1-90 1-95 1-92 1-92 1-87 1-63 1-25 1 8 1 30 1 43 1 46 1 62 1 91 1 102 1 101 1 97 1 93 1 88 1 68 1 51 1 36 1 12 1-16 1-24 1-25 1-24 1-26 1-20 1-3 1 12 1 18 1 18 1 16 1 18 1 14 1 8 1-9 1-25 1-29 1-28 1-41 1-29 1 10 1 24 1 27 1 26 1 26 1 26 1 24 1 18 1 11 1 9 1 8 1 7 1 4 1 1 1-3 1-6 1-7 1-7 1-6 1-9 1-12 1-10 1-1 1 2 1 6 1 8 1 8 1 8 1 6 1 4 1 3 1 2 1 1 1-2 1-2 1-4 1-5 1-8 1-7 1-5 1 3 1 12 1 17 1 20 1 22 1 23 1 23 1 22 1 22 1 20 1 18 1 16 1 13 1 2 1-3 1-6 1-11 1-13 1-13 1-5 1 2 1 1 1 1 1 2 1-1 1-6 1-6 1-4 1-2 1-2 1-5 1-6 1-8 1-8 1-8 1-9 1-11 1-14 1-14 1-15 1-12 1-10 1-8 1-3 1 0 1 3 1 6 1 4 1 5 1 9 1 14 1 15 1 15 1 17 1 17 1 18 1 18 1 16 1 11 1 9" stroke="#77AC30"/>
<path d="M0,1783l1 1 1 0 1 1 1 1 1 1 1 0 1 0 1 1 1 0 1 1 1 0 1 1 1-1 1-1 1-2 1-1 1-2 1-1 1-2 1-1 1 0 1-1 1 0 1-2 1-1 1-1 1-2 1-4 1-4 1-4 1-4 1-3 1-3 1-2 1-3 1-2 1-3 1-4 1-3 1-3 1-3 1-3 1-3 1-4 1-5 1-6 1-13 1-17 1-22 1-26 1-33 1-43 1-56 1-71 1-74 1-75 1-75 1-74 1-74 1-73 1-74 1-62 1-35 1-25 1-16 1-3 1 12 1 27 1 36 1 49 1 60 1 61 1 64 1 66 1 69 1 61 1 40 1 21 1 5 1-9 1-21 1-27 1-41 1-58 1-62 1-55 1-49 1-42 1-29 1-10 1 3 1 14 1 24 1 31 1 36 1 41 1 47 1 54 1 66 1 70 1 60 1 49 1 39 1 31 1 14 1-9 1-14 1-16 1-16 1-16 1-15 1-11 1-1 1 6 1 6 1 10 1 17 1 12 1-1 1-12 1-16 1-17 1-19 1-26 1-19 1 4 1 13 1 15 1 13 1 14 1 14 1 12 1 8 1 4 1 3 1 3 1 2 1 3 1 1 1-2 1-3 1-3 1-3 1-2 1-3 1-3 1-5 1-3 1-2 1 1 1 3 1 4 1 8 1 7 1 5 1 1 1-2 1-2 1-3 1-3 1-2 1-2 1-2 1-3 1-3 1 2 1 8 1 11 1 12 1 12 1 12 1 11 1 10 1 10 1 10 1 11 1 9 1 5 1 1 1-7 1-10 1-8 1-1 1 0 1 1 1 1 1 2 1 2 1 2 1 1 1-1 1-4 1-5 1-5 1-3 1-3 1-2 1-1 1-1 1-1 1-2 1-4 1-5 1-4 1-3 1-2 1-2 1-2 1-3 1 1 1 5 1 6 1 6 1 5 1 6 1 7 1 7 1 8 1 8 1 7 1 7 1 7 1 7 1 7 1 7" stroke="#4DBEEE" stroke-width="1.3"/>
<path d="M0,1770l1 0 1 0 1 0 1-1 1 0 1 0 1 1 1 0 1 0 1 1 1 2 1 1 1 1 1-1 1-1 1-1 1 0 1-1 1 0 1-1 1-2 1-2 1 0 1 2 1 3 1 2 1 0 1-1 1-3 1-4 1-5 1-5 1-3 1-3 1-3 1-6 1-6 1-5 1-2 1-1 1-3 1-5 1-7 1-8 1-9 1-11 1-17 1-20 1-26 1-30 1-35 1-47 1-64 1-88 1-97 1-97 1-97 1-98 1-98 1-99 1-98 1-91 1-66 1-52 1-27 1-1 1 24 1 47 1 55 1 67 1 80 1 89 1 86 1 74 1 61 1 45 1 23 1 6 1-7 1-19 1-28 1-39 1-62 1-83 1-89 1-84 1-84 1-81 1-59 1-24 1 6 1 25 1 37 1 40 1 55 1 81 1 91 1 92 1 88 1 88 1 84 1 63 1 43 1 28 1 8 1-12 1-16 1-17 1-16 1-19 1-14 1-2 1 10 1 15 1 13 1 11 1 14 1 12 1 5 1-15 1-29 1-32 1-29 1-42 1-29 1 12 1 26 1 30 1 27 1 27 1 28 1 24 1 17 1 10 1 7 1 6 1 4 1 3 1 1 1 0 1-2 1-2 1-3 1-3 1-7 1-9 1-4 1 3 1 3 1 1 1 0 1 2 1 6 1 7 1 7 1 6 1 5 1 4 1 2 1 3 1 3 1 4 1 0 1-3 1-3 1 3 1 11 1 13 1 15 1 18 1 20 1 20 1 18 1 17 1 15 1 14 1 12 1 10 1 3 1-1 1-2 1-1 1-1 1-1 1 4 1 4 1 1 1 0 1 1 1-3 1-7 1-7 1-8 1-7 1-6 1-8 1-10 1-11 1-10 1-8 1-7 1-7 1-7 1-7 1-8 1-7 1-4 1-2 1 0 1 2 1 4 1 4 1 6 1 6 1 13 1 18 1 20 1 19 1 18 1 17 1 15 1 12 1 12 1 8 1 8" stroke="#4DBEEE"/>
<path d="M0,1744l1 0 1-2 1-3 1-2 1 1 1 0 1-1 1-2 1-4 1-3 1-2 1-1 1 0 1 0 1-2 1-2 1-1 1 0 1 0 1-1 1-1 1-1 1-1 1-2 1-3 1-3 1-3 1-3 1-3 1-3 1-2 1 0 1 0 1-4 1-8 1-9 1-8 1-4 1 2 1 4 1 2 1-3 1-7 1-9 1-11 1-16 1-23 1-28 1-31 1-33 1-37 1-51 1-71 1-96 1-111 1-119 1-124 1-126 1-127 1-126 1-126 1-120 1-108 1-91 1-43 1-6 1 30 1 67 1 79 1 90 1 105 1 112 1 104 1 88 1 66 1 42 1 25 1 12 1 2 1-9 1-18 1-30 1-61 1-88 1-94 1-96 1-100 1-97 1-70 1-23 1 19 1 41 1 50 1 51 1 70 1 102 1 116 1 116 1 110 1 108 1 101 1 77 1 56 1 37 1 11 1-19 1-26 1-26 1-23 1-26 1-21 1-5 1 11 1 19 1 19 1 19 1 20 1 17 1 8 1-15 1-32 1-36 1-36 1-52 1-36 1 9 1 29 1 35 1 32 1 32 1 32 1 27 1 17 1 5 1 3 1 5 1 6 1 4 1-3 1-8 1-13 1-14 1-14 1-14 1-17 1-19 1-12 1 0 1 8 1 10 1 10 1 8 1 9 1 10 1 8 1 6 1 2 1-4 1-10 1-11 1-11 1-10 1-13 1-12 1-8 1 5 1 20 1 26 1 26 1 26 1 25 1 24 1 19 1 19 1 19 1 20 1 19 1 12 1-7 1-14 1-15 1-15 1-17 1-16 1 4 1 17 1 13 1 8 1 5 1-3 1-11 1-13 1-12 1-8 1-7 1-7 1-9 1-9 1-6 1-5 1-6 1-8 1-7 1-8 1-9 1-10 1-10 1-6 1 3 1 10 1 14 1 13 1 10 1 7 1 14 1 21 1 23 1 23 1 24 1 27 1 27 1 27 1 24 1 16 1 11" stroke="#A2142F"/>
<path d="M0,1759l1 1 1-1 1-2 1-1 1-1 1 1 1 1 1 1 1 1 1 0 1-2 1-2 1-2 1-2 1-1 1 0 1 0 1-1 1 0 1-1 1 0 1 1 1 0 1-1 1 0 1 0 1 0 1 0 1-1 1-3 1-5 1-3 1-2 1-4 1-5 1-7 1-7 1-3 1 3 1 4 1 1 1-2 1-6 1-10 1-11 1-15 1-23 1-28 1-31 1-32 1-36 1-47 1-64 1-86 1-96 1-101 1-103 1-106 1-107 1-107 1-107 1-98 1-76 1-63 1-33 1-5 1 25 1 54 1 64 1 75 1 89 1 97 1 90 1 75 1 61 1 44 1 25 1 9 1-2 1-13 1-22 1-34 1-61 1-86 1-92 1-89 1-87 1-81 1-59 1-22 1 11 1 34 1 45 1 46 1 61 1 86 1 97 1 95 1 90 1 88 1 84 1 65 1 47 1 31 1 7 1-19 1-24 1-25 1-24 1-27 1-23 1-8 1 7 1 14 1 14 1 14 1 16 1 14 1 4 1-18 1-34 1-39 1-39 1-57 1-42 1 6 1 28 1 37 1 35 1 34 1 30 1 24 1 15 1 4 1 1 1 3 1 2 1 1 1-1 1-4 1-8 1-9 1-11 1-14 1-18 1-17 1-12 1-5 1 1 1 5 1 8 1 11 1 13 1 13 1 13 1 12 1 8 1 2 1-3 1-4 1-4 1-4 1-9 1-9 1-6 1 4 1 13 1 19 1 22 1 24 1 27 1 29 1 27 1 26 1 22 1 21 1 20 1 14 1-1 1-8 1-10 1-10 1-9 1-6 1 9 1 17 1 13 1 7 1 6 1-1 1-7 1-7 1-7 1-6 1-8 1-8 1-7 1-7 1-6 1-7 1-6 1-5 1-5 1-7 1-9 1-12 1-13 1-10 1-4 1 2 1 4 1 4 1 3 1 1 1 11 1 20 1 22 1 21 1 21 1 20 1 19 1 17 1 14 1 10 1 9" stroke="#0072BD"/>
<path d="M0,1760l1 1 1 2 1 1 1-1 1-3 1-4 1-4 1-2 1 0 1 1 1 0 1-2 1-4 1-3 1-1 1 1 1 0 1-1 1-1 1-2 1-1 1-1 1-1 1-1 1-1 1-1 1-2 1-4 1-4 1-4 1-3 1-1 1-1 1-5 1-8 1-10 1-9 1-4 1 1 1 3 1 1 1-4 1-6 1-9 1-10 1-15 1-21 1-27 1-29 1-32 1-35 1-47 1-67 1-94 1-107 1-112 1-115 1-116 1-118 1-119 1-117 1-110 1-93 1-77 1-36 1 0 1 35 1 69 1 80 1 89 1 101 1 107 1 97 1 80 1 63 1 44 1 26 1 13 1 2 1-10 1-19 1-32 1-62 1-87 1-92 1-90 1-88 1-83 1-59 1-18 1 17 1 37 1 49 1 50 1 66 1 95 1 106 1 105 1 99 1 95 1 87 1 65 1 45 1 28 1 8 1-15 1-22 1-23 1-23 1-24 1-18 1-5 1 8 1 15 1 16 1 18 1 21 1 17 1 11 1-9 1-24 1-30 1-34 1-50 1-38 1 3 1 20 1 26 1 26 1 26 1 27 1 26 1 18 1 10 1 5 1 3 1 4 1 2 1-2 1-8 1-11 1-14 1-16 1-17 1-18 1-13 1-6 1 3 1 7 1 11 1 13 1 11 1 7 1 5 1 1 1 0 1-4 1-5 1-4 1-4 1-4 1-4 1-5 1-2 1 2 1 12 1 20 1 23 1 24 1 26 1 26 1 24 1 21 1 18 1 18 1 16 1 15 1 12 1 1 1-4 1-4 1-5 1-6 1-7 1 3 1 9 1 8 1 5 1 3 1-6 1-13 1-14 1-16 1-14 1-10 1-7 1-5 1-3 1-5 1-6 1-7 1-6 1-5 1-5 1-5 1-4 1-4 1-2 1 2 1 5 1 5 1 3 1 1 1 1 1 12 1 18 1 18 1 14 1 13 1 13 1 13 1 13 1 12 1 10 1 8" stroke="#D95319"/>
<path d="M0,1789l1 0 1-1 1-2 1-2 1-1 1-1 1-1 1-1 1-1 1 2 1 2 1 1 1-2 1-1 1 0 1 1 1 1 1-1 1-1 1-1 1-1 1 0 1 1 1 1 1-1 1-2 1-2 1-1 1 0 1 0 1-1 1-2 1-2 1-3 1-4 1-4 1-3 1-2 1-2 1-2 1-3 1-6 1-6 1-7 1-7 1-10 1-19 1-25 1-32 1-34 1-36 1-44 1-59 1-79 1-86 1-90 1-92 1-91 1-91 1-90 1-91 1-82 1-56 1-45 1-28 1-4 1 20 1 41 1 51 1 63 1 78 1 84 1 80 1 72 1 63 1 49 1 25 1 6 1-6 1-19 1-32 1-43 1-60 1-80 1-83 1-77 1-75 1-71 1-53 1-21 1 6 1 26 1 37 1 39 1 51 1 74 1 81 1 81 1 80 1 80 1 78 1 59 1 43 1 29 1 10 1-9 1-13 1-12 1-12 1-16 1-16 1-7 1 3 1 9 1 8 1 9 1 10 1 8 1 2 1-13 1-26 1-29 1-31 1-44 1-33 1 6 1 21 1 26 1 24 1 24 1 24 1 21 1 16 1 9 1 5 1 4 1 4 1 4 1 1 1-4 1-6 1-5 1-2 1-3 1-9 1-13 1-8 1-2 1 2 1 2 1 5 1 5 1 4 1 6 1 5 1 4 1 0 1-3 1-3 1-1 1 2 1 2 1-3 1-4 1-3 1 5 1 16 1 21 1 23 1 24 1 26 1 25 1 22 1 21 1 17 1 13 1 9 1 4 1-7 1-13 1-12 1-13 1-10 1-9 1 1 1 6 1 6 1 5 1 6 1 1 1-5 1-8 1-8 1-6 1-5 1-4 1-4 1-3 1-6 1-7 1-9 1-11 1-11 1-11 1-11 1-11 1-10 1-7 1 0 1 2 1 4 1 4 1 3 1 4 1 12 1 19 1 21 1 19 1 17 1 15 1 16 1 18 1 19 1 16 1 13" stroke="#EDB120"/>
<path d="M0,1732l1 0 1 0 1 1 1 1 1 1 1 0 1 1 1 1 1 2 1 0 1 1 1 0 1-1 1 0 1 1 1-1 1-2 1-2 1-1 1 0 1 1 1 2 1 3 1 2 1 1 1 0 1-1 1-1 1-2 1 2 1 2 1 0 1-3 1-9 1-9 1-7 1-3 1-1 1 3 1 2 1 1 1-1 1-5 1-8 1-11 1-16 1-22 1-26 1-28 1-30 1-36 1-48 1-65 1-89 1-97 1-97 1-96 1-97 1-97 1-98 1-98 1-87 1-62 1-48 1-24 1-1 1 25 1 49 1 60 1 71 1 84 1 91 1 87 1 78 1 65 1 46 1 22 1 7 1-2 1-14 1-25 1-38 1-59 1-83 1-89 1-84 1-81 1-76 1-57 1-27 1 3 1 25 1 37 1 40 1 53 1 77 1 87 1 88 1 88 1 89 1 86 1 69 1 50 1 33 1 12 1-11 1-21 1-23 1-24 1-25 1-21 1-8 1 5 1 11 1 12 1 11 1 14 1 11 1 6 1-12 1-25 1-30 1-32 1-49 1-39 1 2 1 19 1 24 1 25 1 26 1 26 1 24 1 19 1 12 1 8 1 7 1 4 1 3 1 1 1-2 1-5 1-7 1-9 1-11 1-13 1-13 1-8 1 0 1 4 1 6 1 5 1 3 1 4 1 5 1 6 1 5 1 5 1 2 1 1 1-1 1-1 1-3 1-7 1-6 1-4 1 5 1 11 1 16 1 17 1 19 1 22 1 22 1 20 1 19 1 15 1 13 1 12 1 8 1-3 1-9 1-8 1-5 1-4 1-2 1 10 1 16 1 14 1 10 1 8 1 1 1-8 1-12 1-14 1-11 1-9 1-7 1-6 1-5 1-6 1-7 1-7 1-6 1-8 1-10 1-11 1-12 1-12 1-8 1-4 1 0 1 3 1 3 1 3 1 3 1 10 1 17 1 19 1 21 1 21 1 21 1 20 1 19 1 18 1 13 1 8" stroke="#7E2F8E"/>
<path d="M0,1746l1-4 1-4 1-1 1 0 1 0 1-2 1-3 1-1 1 1 1 1 1-1 1-2 1-3 1-2 1 0 1 2 1 2 1 1 1 1 1 1 1 0 1-2 1-2 1-3 1-1 1 0 1 0 1-1 1-2 1-2 1-1 1 0 1-1 1-6 1-9 1-7 1-4 1 0 1 4 1 4 1 1 1-4 1-7 1-10 1-10 1-13 1-19 1-23 1-28 1-30 1-36 1-48 1-65 1-90 1-100 1-103 1-105 1-107 1-108 1-110 1-109 1-98 1-71 1-55 1-24 1 2 1 29 1 58 1 69 1 80 1 93 1 97 1 91 1 79 1 65 1 49 1 27 1 10 1-1 1-12 1-24 1-38 1-64 1-87 1-93 1-87 1-86 1-82 1-61 1-24 1 6 1 25 1 34 1 38 1 54 1 83 1 93 1 92 1 88 1 87 1 82 1 62 1 45 1 29 1 9 1-15 1-20 1-21 1-22 1-26 1-21 1-8 1 6 1 14 1 14 1 15 1 18 1 15 1 5 1-19 1-37 1-44 1-43 1-60 1-44 1 5 1 27 1 35 1 35 1 37 1 36 1 32 1 22 1 12 1 8 1 9 1 7 1 4 1 1 1-5 1-8 1-10 1-12 1-12 1-16 1-17 1-12 1 0 1 8 1 12 1 13 1 11 1 9 1 9 1 7 1 6 1 3 1-1 1-3 1-3 1-1 1 1 1-2 1-1 1 1 1 10 1 17 1 20 1 21 1 22 1 23 1 23 1 21 1 18 1 15 1 14 1 12 1 6 1-11 1-17 1-17 1-17 1-18 1-15 1 2 1 13 1 10 1 6 1 5 1-2 1-9 1-9 1-8 1-8 1-9 1-10 1-10 1-9 1-8 1-7 1-7 1-10 1-15 1-17 1-18 1-21 1-21 1-18 1-7 1 0 1 8 1 13 1 15 1 15 1 22 1 28 1 27 1 28 1 25 1 23 1 21 1 19 1 20 1 17 1 16" stroke="#77AC30"/>
<path d="M0,1734l1 0 1 1 1 3 1 3 1 1 1-1 1-2 1-1 1-1 1 0 1-2 1-2 1-3 1-4 1-3 1-2 1-1 1-1 1-2 1-1 1 0 1 2 1 2 1 1 1-2 1-2 1-4 1-2 1-2 1-1 1-2 1-3 1-4 1-8 1-11 1-11 1-8 1-3 1 4 1 6 1 4 1-2 1-6 1-8 1-9 1-13 1-18 1-25 1-32 1-35 1-40 1-51 1-70 1-98 1-112 1-118 1-121 1-124 1-128 1-130 1-130 1-124 1-111 1-93 1-44 1-5 1 34 1 74 1 83 1 91 1 104 1 110 1 104 1 86 1 65 1 43 1 26 1 12 1 2 1-7 1-16 1-29 1-61 1-88 1-93 1-95 1-97 1-95 1-68 1-25 1 17 1 41 1 51 1 52 1 70 1 103 1 114 1 111 1 106 1 105 1 101 1 77 1 57 1 37 1 11 1-19 1-27 1-29 1-28 1-31 1-25 1-9 1 8 1 18 1 18 1 20 1 24 1 21 1 11 1-16 1-35 1-43 1-45 1-64 1-48 1 1 1 23 1 30 1 29 1 33 1 33 1 30 1 18 1 9 1 5 1 7 1 8 1 3 1-3 1-12 1-16 1-15 1-14 1-13 1-19 1-20 1-13 1 0 1 7 1 12 1 12 1 12 1 15 1 15 1 13 1 11 1 6 1 0 1-4 1-6 1-6 1-7 1-9 1-8 1-4 1 5 1 15 1 21 1 22 1 24 1 26 1 26 1 25 1 25 1 26 1 25 1 25 1 17 1-7 1-18 1-20 1-21 1-22 1-20 1 0 1 14 1 12 1 4 1 4 1-2 1-9 1-10 1-9 1-8 1-7 1-10 1-11 1-11 1-10 1-10 1-10 1-11 1-11 1-10 1-11 1-12 1-10 1-4 1 7 1 12 1 15 1 15 1 12 1 9 1 15 1 21 1 20 1 21 1 21 1 20 1 20 1 19 1 20 1 15 1 14" stroke="#4DBEEE"/>
<path d="M0,1747l1-2 1-2 1 1 1 2 1 2 1 0 1 0 1-1 1-1 1-2 1-2 1-1 1 0 1 0 1 0 1-2 1-1 1 0 1-1 1-1 1 0 1 1 1 0 1-1 1-3 1-2 1-2 1 0 1 1 1 1 1 0 1-2 1-5 1-8 1-8 1-7 1-6 1-2 1 1 1 2 1 0 1-3 1-5 1-8 1-10 1-14 1-19 1-24 1-28 1-31 1-35 1-46 1-65 1-89 1-101 1-104 1-107 1-110 1-114 1-118 1-119 1-113 1-92 1-77 1-40 1-9 1 25 1 59 1 69 1 79 1 90 1 95 1 90 1 77 1 62 1 41 1 20 1 7 1-3 1-12 1-22 1-35 1-65 1-92 1-99 1-101 1-105 1-103 1-78 1-32 1 9 1 34 1 45 1 47 1 64 1 98 1 113 1 113 1 107 1 107 1 103 1 81 1 61 1 41 1 15 1-17 1-29 1-29 1-26 1-26 1-20 1-4 1 12 1 22 1 22 1 22 1 23 1 18 1 9 1-14 1-32 1-39 1-38 1-54 1-36 1 11 1 30 1 37 1 35 1 36 1 34 1 31 1 20 1 9 1 5 1 5 1 5 1 3 1 1 1-3 1-6 1-9 1-13 1-14 1-17 1-16 1-9 1 1 1 6 1 7 1 7 1 7 1 11 1 13 1 12 1 9 1 5 1 1 1-1 1-3 1-2 1-2 1-4 1-2 1 1 1 7 1 15 1 21 1 23 1 24 1 26 1 23 1 20 1 15 1 13 1 12 1 12 1 9 1-4 1-8 1-8 1-8 1-7 1-7 1 5 1 12 1 11 1 6 1 5 1-2 1-7 1-7 1-9 1-7 1-8 1-9 1-12 1-11 1-9 1-9 1-11 1-14 1-15 1-14 1-14 1-11 1-10 1-6 1-1 1 4 1 8 1 12 1 13 1 10 1 15 1 19 1 18 1 17 1 16 1 16 1 17 1 18 1 17 1 13 1 10" stroke="#A2142F"/>
<path d="M0,1759l1-1 1 0 1 1 1 3 1 5 1 3 1 1 1-1 1-1 1-1 1-1 1 0 1-1 1 1 1 0 1 0 1 0 1 0 1-1 1 0 1-1 1-1 1 1 1 3 1 2 1 0 1-3 1-3 1-3 1-1 1-1 1-1 1-4 1-7 1-9 1-7 1-6 1-4 1 0 1 1 1-2 1-7 1-9 1-12 1-13 1-17 1-22 1-26 1-29 1-30 1-34 1-46 1-67 1-94 1-106 1-111 1-114 1-115 1-117 1-118 1-120 1-113 1-93 1-76 1-37 1-5 1 29 1 62 1 72 1 82 1 94 1 100 1 92 1 77 1 58 1 36 1 16 1 2 1-7 1-14 1-21 1-32 1-61 1-89 1-97 1-100 1-101 1-96 1-71 1-27 1 12 1 38 1 49 1 51 1 68 1 102 1 116 1 115 1 109 1 106 1 99 1 77 1 54 1 35 1 9 1-18 1-27 1-28 1-25 1-25 1-17 1 2 1 15 1 20 1 19 1 19 1 23 1 20 1 11 1-12 1-29 1-36 1-37 1-50 1-36 1 9 1 27 1 32 1 31 1 29 1 29 1 28 1 19 1 12 1 6 1 7 1 4 1 1 1-3 1-8 1-13 1-15 1-16 1-15 1-19 1-17 1-12 1-2 1 5 1 9 1 11 1 10 1 11 1 11 1 10 1 9 1 5 1 0 1-4 1-7 1-6 1-5 1-5 1-3 1 1 1 11 1 18 1 22 1 21 1 23 1 23 1 23 1 21 1 16 1 12 1 8 1 9 1 6 1-7 1-12 1-10 1-11 1-11 1-11 1 3 1 14 1 12 1 9 1 7 1 0 1-7 1-10 1-11 1-10 1-10 1-7 1-6 1-3 1-2 1-3 1-5 1-7 1-10 1-13 1-14 1-14 1-12 1-7 1 1 1 6 1 8 1 7 1 5 1 4 1 10 1 16 1 15 1 15 1 18 1 19 1 19 1 18 1 16 1 12 1 10" stroke="#0072BD"/>
<path d="M0,1789l1-1 1-3 1-4 1-3 1-3 1 0 1 1 1 2 1 3 1 3 1 3 1 2 1 2 1 1 1 0 1 0 1 0 1-3 1-2 1-1 1 0 1 1 1-1 1 0 1-1 1-2 1-2 1-2 1 1 1 2 1 1 1-2 1-4 1-5 1-6 1-5 1-5 1-3 1-3 1 1 1 2 1 0 1-4 1-7 1-10 1-15 1-22 1-27 1-31 1-31 1-33 1-42 1-57 1-79 1-88 1-89 1-88 1-87 1-87 1-87 1-87 1-76 1-47 1-36 1-21 1-2 1 22 1 41 1 51 1 64 1 77 1 80 1 76 1 68 1 60 1 47 1 25 1 5 1-6 1-18 1-30 1-40 1-60 1-82 1-89 1-83 1-78 1-72 1-53 1-21 1 5 1 23 1 32 1 35 1 49 1 73 1 81 1 80 1 76 1 77 1 73 1 55 1 39 1 27 1 10 1-8 1-13 1-12 1-14 1-16 1-14 1-5 1 5 1 13 1 12 1 9 1 9 1 6 1 1 1-12 1-21 1-21 1-18 1-30 1-21 1 14 1 26 1 27 1 26 1 26 1 26 1 24 1 17 1 10 1 4 1 1 1 1 1 0 1-1 1-1 1-4 1-4 1-5 1-8 1-11 1-12 1-9 1-2 1 2 1 2 1 2 1 2 1 3 1 4 1 4 1 1 1-2 1-3 1-3 1-1 1-1 1-1 1-3 1-2 1-1 1 5 1 12 1 15 1 16 1 18 1 20 1 19 1 16 1 16 1 15 1 15 1 14 1 9 1 0 1-4 1-6 1-6 1-7 1-6 1-1 1 4 1 3 1 4 1 4 1 1 1-2 1-2 1-2 1-4 1-3 1-3 1-4 1-7 1-8 1-8 1-7 1-5 1-3 1-3 1-2 1-2 1-3 1-2 1-1 1 2 1 1 1-1 1-4 1-4 1 7 1 14 1 15 1 16 1 15 1 13 1 10 1 8 1 9 1 10 1 11" stroke="#D95319"/>
<path d="M0,1781l1-2 1-1 1-2 1-3 1-1 1-1 1-1 1-2 1-1 1 0 1 1 1 0 1-3 1-5 1-2 1 1 1 3 1 4 1 3 1 1 1 0 1-1 1-2 1-2 1-3 1-2 1-2 1-2 1-2 1-3 1-3 1-4 1-5 1-7 1-8 1-6 1-5 1-3 1-1 1 1 1 1 1-3 1-6 1-9 1-11 1-14 1-20 1-24 1-29 1-31 1-34 1-45 1-64 1-90 1-101 1-104 1-106 1-108 1-109 1-112 1-110 1-101 1-79 1-66 1-34 1-7 1 23 1 55 1 67 1 79 1 90 1 95 1 86 1 71 1 58 1 40 1 19 1 5 1-6 1-14 1-21 1-32 1-62 1-90 1-100 1-99 1-100 1-95 1-70 1-29 1 7 1 31 1 43 1 46 1 64 1 96 1 112 1 113 1 107 1 104 1 96 1 73 1 53 1 33 1 6 1-22 1-30 1-30 1-28 1-29 1-21 1-2 1 15 1 20 1 18 1 20 1 23 1 21 1 11 1-12 1-31 1-40 1-42 1-58 1-42 1 6 1 28 1 36 1 36 1 38 1 36 1 33 1 22 1 11 1 6 1 5 1 4 1 3 1-1 1-6 1-8 1-11 1-13 1-16 1-20 1-21 1-14 1-3 1 4 1 8 1 10 1 10 1 12 1 10 1 7 1 2 1 1 1-3 1-5 1-6 1-5 1-3 1-6 1-8 1-4 1 5 1 15 1 20 1 23 1 27 1 32 1 32 1 27 1 22 1 17 1 16 1 14 1 8 1-11 1-19 1-18 1-18 1-15 1-12 1 7 1 18 1 17 1 13 1 11 1 6 1 0 1 0 1-1 1-2 1-5 1-6 1-7 1-6 1-8 1-10 1-10 1-10 1-8 1-6 1-5 1-5 1-5 1 0 1 5 1 8 1 9 1 9 1 10 1 11 1 16 1 20 1 17 1 17 1 17 1 17 1 16 1 14 1 13 1 9 1 9" stroke="#EDB120"/>
<path d="M0,1763l1 0 1 1 1 1 1 3 1 4 1 3 1 1 1 0 1-2 1-2 1-3 1-1 1 1 1 1 1-1 1-2 1-3 1 1 1 2 1 2 1 2 1 3 1 1 1 0 1-3 1-1 1 0 1 0 1 0 1-1 1-1 1 0 1 0 1-2 1-5 1-6 1-7 1-6 1-3 1-2 1-1 1-1 1-4 1-6 1-7 1-11 1-17 1-23 1-27 1-31 1-36 1-46 1-62 1-81 1-87 1-85 1-84 1-85 1-85 1-86 1-85 1-75 1-47 1-36 1-22 1-3 1 20 1 40 1 50 1 63 1 75 1 80 1 78 1 72 1 64 1 50 1 26 1 8 1-5 1-18 1-29 1-40 1-59 1-80 1-85 1-75 1-69 1-63 1-46 1-19 1 5 1 21 1 33 1 37 1 49 1 70 1 76 1 77 1 76 1 75 1 71 1 53 1 37 1 25 1 11 1-6 1-9 1-10 1-12 1-12 1-9 1-3 1 6 1 8 1 7 1 4 1 4 1 2 1 0 1-8 1-15 1-17 1-18 1-32 1-26 1 3 1 15 1 20 1 20 1 20 1 20 1 17 1 11 1 6 1 4 1 3 1 3 1 1 1 0 1-2 1-3 1-5 1-5 1-5 1-9 1-11 1-7 1-1 1 2 1 3 1 5 1 8 1 7 1 5 1 0 1-2 1-2 1-2 1 1 1 2 1 1 1-3 1-5 1-6 1-3 1 4 1 9 1 15 1 18 1 20 1 19 1 18 1 18 1 16 1 13 1 10 1 11 1 9 1 3 1-1 1-2 1-1 1-1 1-1 1 2 1 4 1 3 1 2 1 1 1-8 1-14 1-14 1-10 1-5 1-3 1-1 1 0 1 1 1 2 1-1 1-2 1-4 1-4 1-5 1-7 1-8 1-6 1-5 1-3 1 1 1 0 1 2 1 3 1 4 1 8 1 14 1 15 1 14 1 14 1 12 1 9 1 9 1 9 1 9 1 10" stroke="#7E2F8E"/>
<path d="M0,1780l1 0 1 2 1 1 1 0 1-1 1 0 1-1 1-1 1-1 1 0 1 1 1 3 1 2 1 0 1-1 1-3 1-4 1-2 1-2 1 0 1 1 1 0 1-1 1 0 1-1 1 0 1-2 1-2 1-3 1-4 1-3 1-3 1-2 1-4 1-7 1-7 1-6 1-2 1-1 1-2 1-3 1-2 1-3 1-4 1-10 1-15 1-19 1-22 1-26 1-33 1-40 1-50 1-65 1-85 1-95 1-99 1-104 1-106 1-107 1-106 1-105 1-95 1-72 1-57 1-30 1-5 1 25 1 54 1 65 1 76 1 88 1 91 1 86 1 74 1 61 1 42 1 20 1 6 1-4 1-14 1-22 1-33 1-58 1-83 1-89 1-87 1-87 1-81 1-59 1-22 1 10 1 31 1 43 1 46 1 59 1 84 1 95 1 96 1 91 1 87 1 81 1 60 1 42 1 26 1 4 1-19 1-23 1-23 1-21 1-23 1-17 1-2 1 12 1 20 1 20 1 17 1 17 1 13 1 3 1-16 1-32 1-37 1-36 1-50 1-37 1 5 1 21 1 24 1 25 1 28 1 30 1 27 1 20 1 9 1 3 1 3 1 4 1 3 1 1 1-3 1-5 1-6 1-6 1-6 1-12 1-15 1-13 1-3 1 1 1 2 1 3 1 4 1 4 1 6 1 8 1 8 1 7 1 3 1 0 1-3 1-3 1-5 1-6 1-4 1 1 1 12 1 18 1 21 1 21 1 25 1 25 1 21 1 18 1 17 1 17 1 17 1 17 1 11 1-6 1-14 1-16 1-16 1-16 1-14 1 1 1 11 1 11 1 7 1 7 1 2 1-4 1-5 1-9 1-9 1-6 1-3 1-2 1-1 1-1 1-1 1-4 1-6 1-9 1-8 1-8 1-9 1-9 1-7 1-5 1 0 1 4 1 8 1 9 1 9 1 14 1 20 1 21 1 21 1 19 1 16 1 12 1 11 1 11 1 8 1 8" stroke="#77AC30"/>
<path d="M0,1748l1 1 1 2 1 1 1 1 1 0 1-1 1-2 1-2 1-3 1-2 1-1 1 1 1 1 1 1 1 0 1-1 1 0 1 1 1 1 1 0 1-1 1-4 1-4 1-3 1 0 1 1 1 1 1-2 1-2 1-4 1-3 1-2 1-3 1-5 1-9 1-9 1-8 1-4 1 1 1 2 1 1 1-2 1-4 1-6 1-8 1-15 1-22 1-26 1-30 1-31 1-38 1-51 1-73 1-99 1-112 1-115 1-118 1-120 1-122 1-123 1-121 1-112 1-96 1-82 1-40 1-5 1 30 1 68 1 78 1 88 1 102 1 108 1 100 1 79 1 58 1 37 1 18 1 6 1-5 1-13 1-22 1-31 1-58 1-85 1-92 1-95 1-97 1-93 1-68 1-25 1 12 1 35 1 48 1 51 1 71 1 102 1 116 1 114 1 107 1 102 1 94 1 69 1 49 1 29 1 6 1-22 1-27 1-25 1-21 1-22 1-16 1 1 1 16 1 22 1 20 1 22 1 24 1 19 1 5 1-21 1-39 1-45 1-44 1-62 1-45 1 3 1 25 1 31 1 29 1 31 1 32 1 31 1 22 1 13 1 8 1 7 1 5 1 1 1-5 1-11 1-13 1-13 1-14 1-15 1-20 1-20 1-15 1-3 1 6 1 11 1 11 1 9 1 11 1 9 1 9 1 6 1 3 1-5 1-9 1-8 1-7 1-6 1-9 1-8 1-6 1 5 1 18 1 24 1 28 1 29 1 31 1 31 1 28 1 27 1 24 1 21 1 20 1 12 1-10 1-18 1-19 1-18 1-18 1-20 1 0 1 15 1 11 1 6 1 4 1-2 1-9 1-8 1-8 1-6 1-7 1-8 1-7 1-8 1-9 1-9 1-8 1-9 1-11 1-12 1-14 1-17 1-17 1-12 1-1 1 7 1 11 1 14 1 13 1 11 1 18 1 24 1 23 1 22 1 20 1 19 1 20 1 22 1 22 1 15 1 8" stroke="#4DBEEE"/>
<path d="M0,1789l1-2 1-2 1-1 1 0 1 0 1 0 1 0 1 0 1-1 1-2 1 0 1 1 1 1 1 2 1 2 1 0 1-2 1-3 1-2 1-1 1 0 1 0 1 0 1 1 1 0 1-1 1-2 1-1 1 0 1 0 1-1 1-1 1-1 1-4 1-7 1-7 1-5 1-3 1-1 1 0 1-1 1-2 1-4 1-6 1-9 1-13 1-19 1-24 1-27 1-32 1-38 1-48 1-62 1-80 1-87 1-88 1-90 1-88 1-88 1-87 1-86 1-72 1-46 1-37 1-24 1-2 1 23 1 42 1 50 1 63 1 78 1 86 1 82 1 71 1 59 1 46 1 23 1 7 1-4 1-14 1-26 1-38 1-58 1-78 1-83 1-74 1-68 1-61 1-44 1-17 1 6 1 24 1 38 1 43 1 54 1 73 1 77 1 75 1 72 1 71 1 69 1 54 1 37 1 23 1 8 1-8 1-12 1-12 1-11 1-12 1-10 1-7 1 1 1 7 1 8 1 7 1 5 1 3 1 0 1-8 1-15 1-17 1-20 1-34 1-26 1 5 1 17 1 21 1 22 1 22 1 24 1 22 1 16 1 10 1 7 1 5 1 1 1-2 1-4 1-6 1-8 1-8 1-8 1-8 1-14 1-16 1-11 1-3 1 1 1 2 1 1 1 2 1 3 1 4 1 3 1 4 1 2 1-1 1-4 1-6 1-5 1-5 1-5 1-2 1 2 1 10 1 18 1 21 1 22 1 22 1 24 1 22 1 19 1 14 1 9 1 6 1 4 1 2 1-3 1-3 1-3 1-2 1-4 1-3 1 3 1 8 1 8 1 7 1 4 1-3 1-7 1-8 1-7 1-8 1-8 1-8 1-8 1-7 1-8 1-7 1-6 1-5 1-6 1-6 1-6 1-4 1-2 1-7 1-6 1-4 1 0 1 3 1 4 1 2 1 6 1 11 1 10 1 11 1 10 1 12 1 14 1 16 1 16 1 11 1 10" stroke="#A2142F"/>
<path d="M0,1787l1-1 1-1 1-2 1 0 1 2 1 1 1 0 1-2 1-2 1 0 1 1 1 1 1-1 1-3 1-3 1-1 1-1 1 1 1 0 1 0 1 2 1 2 1 2 1 2 1 0 1 0 1 0 1 0 1 0 1-1 1-1 1-3 1-4 1-5 1-6 1-5 1-5 1-3 1 0 1 3 1 2 1-2 1-7 1-12 1-13 1-14 1-19 1-23 1-27 1-31 1-36 1-46 1-60 1-79 1-86 1-87 1-89 1-89 1-89 1-88 1-87 1-75 1-47 1-39 1-26 1-5 1 20 1 43 1 54 1 66 1 79 1 85 1 81 1 70 1 58 1 45 1 23 1 8 1-2 1-15 1-27 1-39 1-58 1-77 1-81 1-71 1-65 1-60 1-44 1-18 1 5 1 22 1 34 1 37 1 49 1 70 1 77 1 75 1 72 1 71 1 69 1 55 1 41 1 28 1 12 1-6 1-9 1-13 1-15 1-17 1-14 1-7 1 2 1 6 1 5 1 3 1 4 1 5 1 4 1-5 1-12 1-17 1-21 1-34 1-25 1 7 1 18 1 22 1 22 1 22 1 25 1 25 1 19 1 9 1 4 1 0 1 0 1-3 1-4 1-6 1-7 1-8 1-7 1-7 1-9 1-11 1-9 1-2 1 1 1 2 1 3 1 3 1 5 1 4 1 5 1 3 1 1 1-3 1-5 1-6 1-4 1-3 1-3 1-3 1-2 1 5 1 12 1 17 1 20 1 20 1 20 1 19 1 16 1 13 1 12 1 10 1 10 1 9 1 3 1-1 1-2 1-4 1-6 1-7 1 0 1 4 1 4 1 4 1 5 1 1 1-1 1 0 1-2 1-5 1-8 1-9 1-10 1-9 1-8 1-6 1-5 1-5 1-5 1-6 1-6 1-8 1-8 1-7 1-6 1-2 1 2 1 3 1 5 1 2 1 7 1 11 1 12 1 15 1 16 1 16 1 14 1 14 1 12 1 10 1 8" stroke="#0072BD"/>
<path d="M0,1760l1-2 1 0 1 0 1 1 1 0 1-1 1-3 1-3 1-1 1 1 1 2 1-1 1-3 1-3 1-2 1 0 1 0 1-1 1-1 1-1 1 0 1-1 1-2 1-1 1-2 1-2 1-2 1 0 1-1 1-2 1-2 1-3 1-5 1-8 1-10 1-11 1-7 1-1 1 4 1 5 1 2 1-3 1-7 1-6 1-6 1-10 1-18 1-25 1-30 1-32 1-35 1-46 1-65 1-92 1-103 1-105 1-105 1-104 1-105 1-105 1-102 1-91 1-66 1-52 1-23 1 4 1 33 1 60 1 68 1 77 1 87 1 92 1 88 1 77 1 66 1 49 1 27 1 10 1 0 1-11 1-23 1-33 1-57 1-80 1-87 1-80 1-75 1-70 1-50 1-18 1 10 1 29 1 40 1 42 1 55 1 79 1 88 1 87 1 83 1 83 1 78 1 59 1 43 1 26 1 8 1-12 1-16 1-16 1-18 1-20 1-17 1-6 1 7 1 14 1 13 1 13 1 12 1 9 1 3 1-13 1-23 1-26 1-28 1-46 1-36 1 3 1 21 1 25 1 25 1 24 1 24 1 22 1 15 1 7 1 3 1 4 1 2 1-2 1-6 1-9 1-12 1-12 1-10 1-11 1-12 1-13 1-7 1 1 1 5 1 5 1 4 1 3 1 6 1 6 1 6 1 4 1 1 1 0 1-2 1-5 1-7 1-10 1-13 1-12 1-8 1 2 1 11 1 17 1 18 1 23 1 25 1 23 1 21 1 17 1 15 1 17 1 16 1 11 1-5 1-9 1-9 1-10 1-11 1-12 1 1 1 11 1 9 1 5 1 4 1-3 1-10 1-12 1-12 1-11 1-9 1-8 1-6 1-6 1-8 1-11 1-11 1-10 1-11 1-10 1-9 1-8 1-8 1-3 1 4 1 8 1 9 1 12 1 14 1 13 1 20 1 24 1 24 1 23 1 21 1 18 1 16 1 17 1 16 1 14 1 13" stroke="#D95319"/>
<path d="M0,1770l1 1 1 0 1-1 1-1 1-1 1 0 1 1 1 0 1-1 1-3 1-3 1-2 1 0 1 3 1 3 1 2 1-1 1-1 1-1 1-1 1 0 1-1 1-2 1-2 1 0 1 0 1-1 1 0 1 1 1-1 1-2 1-1 1 1 1-1 1-5 1-6 1-7 1-5 1-3 1 0 1 0 1 0 1-3 1-6 1-11 1-16 1-20 1-23 1-26 1-29 1-34 1-43 1-60 1-81 1-90 1-93 1-97 1-99 1-100 1-100 1-98 1-88 1-63 1-51 1-30 1-5 1 22 1 45 1 56 1 69 1 82 1 89 1 83 1 71 1 61 1 45 1 26 1 10 1-2 1-14 1-25 1-37 1-61 1-85 1-93 1-88 1-85 1-77 1-56 1-22 1 8 1 28 1 38 1 40 1 53 1 78 1 89 1 89 1 85 1 85 1 80 1 59 1 41 1 26 1 10 1-10 1-12 1-9 1-8 1-12 1-9 1 0 1 10 1 16 1 12 1 11 1 11 1 9 1 3 1-9 1-21 1-26 1-27 1-40 1-29 1 7 1 21 1 25 1 27 1 27 1 29 1 26 1 19 1 11 1 5 1 3 1 1 1 0 1 0 1 1 1 0 1-2 1-2 1-4 1-8 1-9 1-5 1 3 1 5 1 5 1 4 1 3 1 4 1 4 1 2 1 0 1-2 1-1 1-1 1-2 1-3 1-6 1-9 1-8 1-3 1 6 1 13 1 16 1 18 1 20 1 22 1 22 1 18 1 16 1 14 1 14 1 11 1 7 1 0 1-4 1-3 1-3 1-3 1-3 1 3 1 10 1 10 1 7 1 1 1-7 1-11 1-8 1-9 1-11 1-10 1-10 1-10 1-10 1-9 1-10 1-11 1-13 1-13 1-11 1-7 1-6 1-6 1-4 1-2 1 2 1 4 1 4 1 2 1 1 1 7 1 12 1 11 1 11 1 13 1 14 1 15 1 16 1 15 1 9 1 6" stroke="#EDB120"/>
<path d="M0,1767l1 1 1 2 1 1 1 0 1-1 1-1 1-2 1-3 1-2 1-1 1 0 1 0 1 1 1 0 1 0 1 0 1 0 1 1 1 2 1 2 1 2 1 2 1 1 1-1 1-2 1-1 1 0 1 0 1-2 1-3 1-4 1-2 1-1 1-2 1-4 1-4 1-4 1-2 1 0 1-1 1 0 1-3 1-5 1-9 1-8 1-12 1-17 1-22 1-26 1-29 1-34 1-46 1-63 1-87 1-95 1-94 1-91 1-89 1-89 1-90 1-90 1-78 1-49 1-38 1-22 1-4 1 18 1 42 1 55 1 69 1 81 1 85 1 80 1 70 1 62 1 47 1 24 1 8 1-4 1-14 1-26 1-37 1-59 1-80 1-88 1-80 1-74 1-68 1-50 1-21 1 3 1 21 1 31 1 34 1 48 1 74 1 83 1 83 1 80 1 79 1 75 1 58 1 40 1 25 1 8 1-11 1-16 1-14 1-15 1-18 1-16 1-8 1 3 1 9 1 8 1 8 1 9 1 6 1 0 1-15 1-25 1-28 1-28 1-44 1-32 1 8 1 22 1 24 1 20 1 22 1 23 1 22 1 15 1 6 1 2 1 2 1 0 1-1 1-3 1-4 1-5 1-5 1-7 1-9 1-15 1-17 1-11 1 0 1 6 1 6 1 5 1 4 1 8 1 9 1 9 1 9 1 4 1-2 1-6 1-8 1-9 1-9 1-11 1-10 1-4 1 7 1 16 1 24 1 27 1 31 1 32 1 28 1 21 1 17 1 15 1 14 1 12 1 5 1-9 1-13 1-12 1-10 1-11 1-12 1 1 1 9 1 8 1 8 1 9 1 4 1-1 1-3 1-5 1-4 1-4 1-3 1-3 1-5 1-6 1-7 1-7 1-6 1-4 1-4 1-2 1-2 1-4 1-3 1-2 1-1 1 1 1 3 1 1 1 1 1 8 1 14 1 15 1 16 1 16 1 17 1 16 1 17 1 17 1 16 1 17" stroke="#7E2F8E"/>
<path d="M0,1736l1-1 1-2 1-1 1-1 1-1 1 0 1 1 1 3 1 1 1 1 1-2 1-1 1 0 1 0 1-2 1-2 1-2 1-3 1-3 1-1 1-2 1-2 1-1 1 1 1 1 1 1 1 2 1 0 1-2 1-4 1-3 1-3 1-2 1-6 1-9 1-9 1-8 1-3 1 4 1 5 1 2 1-2 1-4 1-7 1-8 1-14 1-21 1-26 1-28 1-29 1-33 1-45 1-65 1-90 1-105 1-110 1-113 1-115 1-117 1-118 1-119 1-111 1-92 1-76 1-37 1-4 1 29 1 61 1 71 1 79 1 94 1 100 1 94 1 78 1 59 1 38 1 19 1 4 1-7 1-17 1-24 1-34 1-64 1-91 1-96 1-97 1-102 1-102 1-78 1-33 1 7 1 32 1 42 1 43 1 61 1 97 1 115 1 116 1 110 1 108 1 100 1 77 1 55 1 35 1 7 1-24 1-32 1-31 1-28 1-32 1-24 1-3 1 18 1 26 1 27 1 28 1 32 1 28 1 13 1-19 1-42 1-49 1-47 1-64 1-50 1 1 1 24 1 33 1 33 1 35 1 38 1 36 1 26 1 13 1 6 1 5 1 5 1 2 1-2 1-6 1-7 1-4 1-3 1-4 1-10 1-11 1-8 1 2 1 5 1 9 1 10 1 11 1 9 1 7 1 7 1 9 1 6 1-1 1-6 1-7 1-2 1 1 1-2 1-4 1-2 1 9 1 21 1 25 1 25 1 23 1 24 1 23 1 21 1 18 1 16 1 13 1 12 1 5 1-11 1-18 1-15 1-11 1-6 1-6 1 8 1 15 1 11 1 7 1 7 1 1 1-5 1-6 1-4 1-4 1-5 1-7 1-12 1-15 1-15 1-12 1-11 1-10 1-10 1-8 1-6 1-5 1-4 1-2 1 3 1 6 1 9 1 10 1 8 1 7 1 15 1 19 1 20 1 20 1 21 1 19 1 18 1 16 1 14 1 9 1 6" stroke="#77AC30"/>
<path d="M0,1790l1-3 1-4 1-2 1 0 1 0 1 0 1-1 1-3 1-2 1 0 1 0 1 0 1-1 1-1 1-2 1-1 1-1 1 0 1 0 1 1 1-1 1-2 1-2 1-1 1 0 1 0 1 0 1-1 1-2 1-5 1-6 1-5 1-6 1-8 1-7 1-5 1-3 1-2 1 0 1 2 1 1 1-3 1-7 1-10 1-12 1-15 1-21 1-25 1-26 1-29 1-34 1-47 1-66 1-89 1-99 1-103 1-105 1-107 1-107 1-106 1-105 1-98 1-76 1-60 1-28 1 1 1 30 1 58 1 68 1 80 1 93 1 97 1 90 1 75 1 62 1 46 1 25 1 8 1-2 1-12 1-25 1-37 1-60 1-83 1-89 1-86 1-82 1-76 1-53 1-19 1 11 1 31 1 43 1 45 1 60 1 85 1 94 1 93 1 91 1 89 1 83 1 64 1 44 1 27 1 9 1-13 1-18 1-16 1-15 1-14 1-9 1 1 1 10 1 14 1 11 1 9 1 9 1 8 1 4 1-8 1-19 1-21 1-23 1-37 1-26 1 8 1 20 1 23 1 22 1 23 1 22 1 20 1 15 1 8 1 3 1 3 1 4 1 5 1 5 1 3 1 0 1-3 1-6 1-9 1-15 1-17 1-13 1-5 1 1 1 4 1 7 1 9 1 10 1 9 1 9 1 9 1 7 1 5 1 0 1-3 1-5 1-6 1-9 1-9 1-6 1 0 1 8 1 13 1 18 1 21 1 24 1 22 1 20 1 18 1 17 1 15 1 12 1 8 1 2 1-1 1-1 1-2 1-4 1-4 1 1 1 7 1 4 1 1 1 2 1-3 1-7 1-9 1-11 1-13 1-14 1-12 1-10 1-9 1-8 1-7 1-5 1-1 1 1 1 1 1-1 1-4 1-4 1-1 1-1 1-1 1-2 1-2 1 0 1 1 1 9 1 14 1 13 1 13 1 13 1 15 1 17 1 16 1 15 1 11 1 11" stroke="#4DBEEE"/>
<path d="M0,1784l1 0 1-2 1-1 1 0 1-1 1 0 1 2 1 0 1-1 1-2 1 0 1 1 1 2 1 0 1-1 1 0 1 0 1 0 1-1 1-1 1-2 1-1 1 0 1 2 1-1 1-2 1-1 1 1 1 2 1 1 1-1 1 0 1 0 1-2 1-4 1-5 1-6 1-5 1-3 1-2 1-3 1-6 1-7 1-7 1-6 1-9 1-15 1-21 1-28 1-33 1-39 1-50 1-64 1-84 1-89 1-87 1-86 1-84 1-84 1-85 1-87 1-75 1-48 1-35 1-20 1-1 1 20 1 38 1 50 1 62 1 75 1 80 1 77 1 69 1 62 1 48 1 23 1 6 1-3 1-12 1-23 1-35 1-57 1-80 1-85 1-77 1-70 1-62 1-45 1-17 1 6 1 24 1 35 1 40 1 55 1 75 1 79 1 78 1 74 1 72 1 66 1 50 1 35 1 23 1 10 1-7 1-12 1-15 1-17 1-18 1-15 1-7 1 3 1 8 1 7 1 5 1 5 1 5 1 3 1-7 1-15 1-20 1-23 1-38 1-28 1 7 1 22 1 25 1 23 1 23 1 22 1 20 1 12 1 6 1 1 1 0 1 0 1-1 1-2 1-4 1-7 1-7 1-8 1-6 1-7 1-8 1-7 1-3 1 0 1 3 1 2 1 3 1 5 1 5 1 2 1 0 1-4 1-3 1-3 1-1 1-1 1-2 1-6 1-7 1-3 1 5 1 13 1 18 1 20 1 23 1 23 1 21 1 20 1 18 1 17 1 15 1 12 1 7 1-3 1-5 1-5 1-6 1-9 1-11 1-4 1 3 1 3 1 4 1 3 1-1 1-8 1-10 1-8 1-5 1-3 1-3 1-5 1-4 1-6 1-8 1-10 1-9 1-10 1-7 1-8 1-9 1-11 1-8 1-1 1 4 1 8 1 9 1 9 1 9 1 16 1 20 1 18 1 17 1 18 1 18 1 18 1 17 1 13 1 9 1 8" stroke="#A2142F"/>
<path d="M0,1733l1-3 1-3 1-1 1 1 1 1 1 0 1 0 1 1 1 1 1 0 1-2 1 0 1-2 1-2 1-3 1-2 1 1 1-1 1 0 1-2 1-3 1-3 1-3 1-2 1-1 1 0 1 1 1 0 1 0 1-3 1-3 1-2 1-4 1-7 1-10 1-9 1-6 1-2 1 3 1 5 1 3 1-2 1-7 1-11 1-12 1-17 1-22 1-27 1-30 1-30 1-33 1-47 1-70 1-97 1-114 1-120 1-124 1-125 1-125 1-128 1-129 1-121 1-105 1-84 1-33 1 4 1 39 1 75 1 86 1 94 1 106 1 110 1 105 1 87 1 65 1 41 1 23 1 10 1 3 1-6 1-14 1-27 1-56 1-85 1-92 1-93 1-95 1-91 1-65 1-23 1 15 1 36 1 47 1 50 1 67 1 97 1 110 1 109 1 105 1 102 1 94 1 72 1 53 1 36 1 11 1-17 1-24 1-26 1-24 1-28 1-23 1-6 1 9 1 17 1 16 1 17 1 20 1 16 1 5 1-20 1-37 1-40 1-39 1-55 1-40 1 6 1 27 1 36 1 36 1 37 1 35 1 30 1 20 1 9 1 3 1 3 1 3 1 1 1-3 1-7 1-11 1-11 1-12 1-12 1-19 1-20 1-13 1-3 1 4 1 7 1 6 1 6 1 8 1 8 1 8 1 6 1 6 1 2 1-1 1-4 1-3 1-3 1-6 1-9 1-7 1 3 1 15 1 23 1 27 1 29 1 30 1 27 1 25 1 22 1 19 1 15 1 12 1 4 1-15 1-22 1-21 1-19 1-18 1-16 1 5 1 18 1 14 1 8 1 3 1-6 1-16 1-17 1-14 1-11 1-7 1-6 1-6 1-4 1-4 1-5 1-8 1-10 1-11 1-12 1-12 1-12 1-10 1-6 1 3 1 7 1 10 1 12 1 11 1 12 1 19 1 25 1 23 1 23 1 23 1 23 1 22 1 22 1 22 1 17 1 14" stroke="#0072BD"/>
<path d="M0,1792l1-4 1-4 1-3 1 0 1 1 1 1 1 1 1 1 1 0 1-2 1-2 1-1 1 1 1 1 1 2 1 0 1 0 1 0 1 0 1 1 1 2 1 3 1 2 1-1 1-4 1-4 1-2 1 1 1 1 1-3 1-4 1-3 1-1 1-3 1-5 1-7 1-6 1-5 1-1 1 2 1 2 1-2 1-7 1-8 1-9 1-13 1-17 1-22 1-26 1-30 1-38 1-50 1-66 1-85 1-89 1-88 1-88 1-88 1-87 1-87 1-85 1-72 1-46 1-36 1-22 1-2 1 22 1 43 1 54 1 66 1 79 1 85 1 79 1 70 1 62 1 49 1 25 1 8 1-3 1-15 1-29 1-41 1-60 1-80 1-86 1-77 1-68 1-60 1-43 1-17 1 5 1 23 1 35 1 38 1 50 1 69 1 75 1 73 1 72 1 70 1 68 1 52 1 39 1 26 1 11 1-4 1-8 1-6 1-8 1-11 1-11 1-7 1-1 1 2 1 1 1 2 1 4 1 4 1 3 1-6 1-14 1-17 1-19 1-33 1-22 1 10 1 22 1 24 1 22 1 21 1 21 1 20 1 15 1 7 1 2 1 3 1 4 1 5 1 3 1-2 1-6 1-9 1-10 1-12 1-16 1-17 1-15 1-8 1-2 1 3 1 5 1 4 1 5 1 6 1 6 1 6 1 5 1 1 1-3 1-5 1-3 1-1 1 0 1-1 1-1 1 4 1 8 1 14 1 17 1 21 1 23 1 22 1 20 1 17 1 14 1 10 1 8 1 5 1-1 1-3 1-2 1-2 1 0 1 2 1 10 1 12 1 10 1 7 1 5 1-1 1-4 1-3 1-4 1-9 1-12 1-14 1-14 1-14 1-15 1-13 1-9 1-3 1 0 1 0 1 0 1 0 1 0 1-2 1-3 1 0 1 3 1 2 1 1 1 1 1 8 1 13 1 15 1 14 1 13 1 14 1 13 1 14 1 14 1 11 1 10" stroke="#D95319"/>
<path d="M0,1783l1-1 1 1 1 1 1 1 1 1 1 1 1 2 1 1 1-2 1-2 1-2 1-2 1-2 1 0 1 0 1 1 1-1 1-2 1-1 1 0 1 1 1 0 1-1 1-1 1-1 1 0 1 1 1 0 1-1 1-1 1-2 1-3 1-4 1-3 1-4 1-3 1-4 1-1 1 0 1 0 1-4 1-6 1-9 1-8 1-6 1-10 1-17 1-23 1-29 1-33 1-37 1-47 1-62 1-80 1-87 1-88 1-90 1-91 1-90 1-90 1-92 1-80 1-52 1-39 1-22 1-1 1 22 1 42 1 50 1 62 1 76 1 83 1 78 1 68 1 58 1 43 1 20 1 4 1-6 1-18 1-28 1-37 1-56 1-78 1-85 1-80 1-77 1-73 1-54 1-23 1 4 1 22 1 32 1 34 1 51 1 75 1 84 1 83 1 81 1 80 1 77 1 61 1 46 1 31 1 12 1-10 1-17 1-19 1-18 1-19 1-15 1-5 1 7 1 12 1 11 1 11 1 13 1 12 1 6 1-9 1-22 1-26 1-26 1-42 1-30 1 5 1 19 1 22 1 20 1 23 1 23 1 22 1 16 1 7 1 3 1 3 1 2 1-1 1-5 1-9 1-10 1-8 1-8 1-9 1-13 1-14 1-8 1 1 1 4 1 5 1 5 1 4 1 4 1 4 1 6 1 5 1 4 1 2 1 1 1-1 1-2 1-4 1-7 1-6 1-1 1 7 1 18 1 21 1 21 1 21 1 23 1 21 1 19 1 16 1 14 1 13 1 13 1 9 1-4 1-9 1-8 1-9 1-10 1-9 1 1 1 8 1 7 1 4 1 5 1 0 1-4 1-5 1-8 1-11 1-13 1-15 1-13 1-10 1-7 1-5 1-3 1-4 1-5 1-7 1-5 1-6 1-5 1-4 1-1 1 1 1 4 1 6 1 6 1 5 1 11 1 17 1 17 1 18 1 18 1 18 1 19 1 17 1 15 1 12 1 10" stroke="#EDB120"/>
<path d="M0,1776l1 0 1 1 1 1 1 0 1-1 1 0 1 0 1 0 1-1 1 0 1 1 1 1 1 1 1 1 1 1 1 1 1 1 1 1 1 0 1-1 1-3 1-4 1-3 1-1 1 0 1 0 1 0 1 0 1 0 1 1 1-1 1-1 1-3 1-5 1-6 1-5 1-5 1-3 1-1 1 0 1-1 1-3 1-7 1-10 1-11 1-16 1-21 1-25 1-29 1-30 1-34 1-45 1-62 1-84 1-91 1-90 1-90 1-92 1-94 1-93 1-92 1-79 1-52 1-41 1-23 1-2 1 23 1 46 1 57 1 69 1 82 1 85 1 78 1 68 1 60 1 47 1 24 1 8 1-3 1-14 1-25 1-37 1-57 1-80 1-86 1-79 1-73 1-66 1-46 1-15 1 12 1 30 1 41 1 42 1 53 1 72 1 79 1 79 1 77 1 76 1 72 1 54 1 38 1 24 1 10 1-3 1-5 1-5 1-8 1-11 1-14 1-8 1 0 1 6 1 7 1 7 1 7 1 7 1 4 1-7 1-16 1-21 1-23 1-36 1-25 1 7 1 18 1 20 1 18 1 18 1 17 1 16 1 13 1 9 1 6 1 5 1 4 1 2 1-1 1-4 1-6 1-8 1-9 1-12 1-18 1-20 1-17 1-7 1-2 1 2 1 6 1 7 1 7 1 5 1 4 1 3 1 1 1-2 1-5 1-6 1-5 1-6 1-9 1-9 1-4 1 5 1 13 1 18 1 19 1 22 1 22 1 20 1 17 1 14 1 15 1 15 1 15 1 10 1-1 1-7 1-7 1-9 1-10 1-10 1 2 1 8 1 6 1 4 1 5 1 0 1-6 1-8 1-8 1-6 1-6 1-6 1-7 1-7 1-7 1-8 1-8 1-9 1-9 1-7 1-7 1-9 1-9 1-7 1-2 1 1 1 4 1 4 1 3 1 5 1 12 1 19 1 18 1 17 1 17 1 19 1 18 1 19 1 18 1 16 1 13" stroke="#7E2F8E"/>
<path d="M0,1735l1 0 1 0 1-1 1 0 1-1 1 1 1 2 1 1 1 1 1 0 1-2 1-2 1-2 1-1 1-1 1-1 1-1 1-1 1-3 1-2 1-2 1 0 1 0 1-1 1-2 1-3 1-3 1-1 1-2 1 0 1-2 1-4 1-5 1-10 1-12 1-12 1-9 1-4 1 3 1 6 1 4 1 0 1-6 1-8 1-10 1-13 1-19 1-24 1-28 1-29 1-34 1-45 1-66 1-96 1-111 1-117 1-122 1-125 1-128 1-129 1-128 1-121 1-104 1-87 1-42 1-5 1 32 1 68 1 79 1 88 1 101 1 108 1 101 1 81 1 61 1 38 1 20 1 7 1-1 1-11 1-20 1-32 1-64 1-94 1-101 1-102 1-105 1-101 1-73 1-26 1 13 1 37 1 47 1 51 1 71 1 104 1 119 1 117 1 112 1 109 1 101 1 75 1 54 1 36 1 10 1-22 1-31 1-32 1-27 1-30 1-20 1 0 1 19 1 26 1 25 1 26 1 29 1 24 1 10 1-19 1-39 1-46 1-44 1-59 1-41 1 9 1 30 1 38 1 37 1 39 1 38 1 33 1 21 1 6 1 0 1 0 1 1 1 0 1 0 1-3 1-7 1-8 1-8 1-9 1-14 1-17 1-13 1-3 1 5 1 9 1 9 1 11 1 14 1 14 1 12 1 8 1 6 1 1 1-1 1-4 1-5 1-6 1-9 1-9 1-7 1 2 1 14 1 21 1 23 1 27 1 27 1 27 1 24 1 22 1 22 1 21 1 22 1 15 1-3 1-13 1-13 1-13 1-14 1-13 1 2 1 13 1 10 1 6 1 6 1 1 1-5 1-7 1-8 1-10 1-9 1-8 1-6 1-3 1-4 1-6 1-8 1-9 1-11 1-11 1-10 1-11 1-9 1-5 1 2 1 3 1 6 1 7 1 8 1 7 1 12 1 19 1 18 1 18 1 18 1 20 1 20 1 20 1 19 1 14 1 13" stroke="#77AC30"/>
<path d="M0,1762l1 1 1 0 1-2 1-4 1-5 1-4 1-3 1-2 1-1 1-1 1 0 1 0 1 0 1 0 1 0 1-1 1 0 1 2 1 2 1 1 1-2 1-2 1-2 1-1 1 0 1-1 1-2 1-2 1-1 1-1 1-2 1-1 1-2 1-5 1-8 1-9 1-8 1-4 1 1 1 5 1 3 1 0 1-5 1-7 1-11 1-16 1-21 1-25 1-26 1-28 1-32 1-45 1-65 1-89 1-100 1-102 1-103 1-106 1-108 1-107 1-105 1-94 1-70 1-54 1-26 1 1 1 30 1 59 1 68 1 79 1 91 1 95 1 88 1 75 1 61 1 44 1 24 1 11 1 2 1-11 1-22 1-34 1-58 1-82 1-88 1-84 1-83 1-81 1-60 1-25 1 6 1 27 1 37 1 39 1 55 1 81 1 94 1 96 1 94 1 92 1 86 1 64 1 45 1 30 1 8 1-17 1-25 1-27 1-22 1-22 1-16 1-3 1 9 1 16 1 17 1 16 1 16 1 11 1 2 1-16 1-29 1-31 1-30 1-44 1-31 1 8 1 20 1 24 1 22 1 25 1 27 1 27 1 18 1 9 1 4 1 3 1 2 1 1 1-2 1-3 1-4 1-5 1-5 1-6 1-10 1-10 1-4 1 3 1 4 1 5 1 6 1 7 1 8 1 6 1 4 1 3 1 2 1 1 1-2 1-3 1-3 1-2 1-3 1-4 1-1 1 8 1 17 1 23 1 24 1 25 1 26 1 26 1 23 1 20 1 18 1 16 1 12 1 6 1-3 1-6 1-6 1-6 1-6 1-3 1 7 1 11 1 7 1 3 1 1 1-5 1-11 1-10 1-9 1-10 1-9 1-8 1-6 1-5 1-5 1-8 1-10 1-8 1-7 1-7 1-9 1-11 1-12 1-10 1-7 1-3 1 2 1 4 1 4 1 5 1 10 1 15 1 14 1 14 1 12 1 12 1 13 1 13 1 15 1 14 1 14" stroke="#4DBEEE"/>
<path d="M0,1745l1 0 1-2 1-2 1-1 1 1 1 1 1 1 1-2 1-3 1-4 1-2 1-1 1-1 1-2 1-4 1-3 1-2 1 0 1 1 1 1 1 0 1-1 1-1 1-2 1-2 1-2 1-2 1-2 1-4 1-5 1-3 1-2 1-3 1-6 1-9 1-9 1-6 1-2 1 3 1 4 1-1 1-6 1-6 1-7 1-7 1-13 1-21 1-24 1-29 1-32 1-37 1-47 1-65 1-91 1-108 1-117 1-120 1-121 1-122 1-124 1-125 1-117 1-100 1-83 1-38 1-5 1 30 1 68 1 79 1 89 1 101 1 106 1 98 1 81 1 62 1 40 1 20 1 5 1-4 1-12 1-19 1-33 1-66 1-94 1-103 1-106 1-110 1-109 1-81 1-35 1 7 1 39 1 51 1 52 1 69 1 103 1 123 1 123 1 118 1 113 1 106 1 80 1 59 1 38 1 10 1-22 1-33 1-35 1-32 1-33 1-25 1-3 1 17 1 27 1 28 1 29 1 28 1 19 1 5 1-23 1-44 1-49 1-46 1-63 1-46 1 7 1 31 1 38 1 34 1 35 1 36 1 33 1 23 1 10 1 6 1 6 1 6 1 3 1-4 1-10 1-12 1-11 1-11 1-13 1-18 1-20 1-13 1 0 1 8 1 13 1 13 1 12 1 14 1 14 1 12 1 10 1 5 1-2 1-7 1-6 1-3 1-5 1-8 1-5 1-1 1 12 1 23 1 27 1 26 1 26 1 27 1 26 1 23 1 22 1 21 1 20 1 17 1 9 1-11 1-18 1-16 1-17 1-19 1-19 1 0 1 14 1 14 1 7 1 4 1-5 1-12 1-12 1-9 1-6 1-6 1-7 1-7 1-10 1-13 1-17 1-19 1-21 1-20 1-17 1-16 1-15 1-13 1-6 1 4 1 12 1 16 1 17 1 16 1 11 1 16 1 23 1 25 1 24 1 25 1 26 1 25 1 25 1 22 1 15 1 12" stroke="#A2142F"/>
<path d="M0,1779l1-2 1-1 1-2 1 0 1 0 1 1 1 1 1-1 1-1 1 1 1 1 1 1 1 1 1-1 1-1 1-1 1 0 1-1 1 0 1-2 1-2 1-2 1-2 1-1 1-1 1-1 1-1 1-1 1-1 1-3 1-2 1-1 1-1 1-5 1-6 1-6 1-4 1-4 1-1 1 0 1 1 1-2 1-7 1-10 1-12 1-17 1-23 1-29 1-31 1-33 1-35 1-44 1-62 1-85 1-95 1-98 1-102 1-103 1-104 1-103 1-102 1-96 1-73 1-58 1-27 1 2 1 28 1 52 1 61 1 71 1 85 1 93 1 89 1 77 1 63 1 45 1 25 1 11 1 1 1-9 1-21 1-33 1-57 1-80 1-88 1-83 1-81 1-76 1-55 1-20 1 9 1 26 1 38 1 40 1 56 1 81 1 91 1 89 1 87 1 85 1 83 1 65 1 47 1 31 1 10 1-11 1-16 1-17 1-17 1-20 1-19 1-8 1 4 1 10 1 10 1 9 1 11 1 11 1 4 1-13 1-27 1-31 1-35 1-50 1-38 1 3 1 21 1 26 1 27 1 27 1 27 1 27 1 19 1 10 1 7 1 5 1 4 1 1 1-5 1-10 1-14 1-13 1-12 1-10 1-14 1-18 1-15 1-4 1 4 1 8 1 8 1 7 1 7 1 6 1 7 1 7 1 5 1 2 1-2 1-5 1-7 1-7 1-9 1-6 1-1 1 6 1 14 1 18 1 20 1 23 1 25 1 25 1 23 1 21 1 19 1 15 1 11 1 5 1-9 1-13 1-12 1-11 1-10 1-11 1 3 1 16 1 15 1 12 1 10 1 1 1-7 1-9 1-10 1-9 1-8 1-7 1-6 1-4 1-5 1-8 1-9 1-9 1-9 1-9 1-10 1-13 1-14 1-8 1 1 1 8 1 11 1 10 1 7 1 7 1 13 1 20 1 20 1 17 1 17 1 17 1 18 1 17 1 17 1 12 1 8" stroke="#0072BD"/>
<path d="M0,1747l1 0 1 0 1-2 1-1 1-1 1 1 1 2 1 1 1 0 1-1 1-2 1-2 1-3 1-1 1 0 1 2 1 1 1 1 1 0 1 0 1 0 1 1 1-1 1 0 1 0 1-2 1-2 1-2 1-1 1-2 1-2 1-2 1-2 1-5 1-8 1-8 1-5 1-1 1 4 1 4 1 1 1-4 1-7 1-9 1-11 1-14 1-19 1-24 1-27 1-30 1-34 1-45 1-64 1-90 1-99 1-100 1-101 1-102 1-103 1-102 1-101 1-90 1-66 1-52 1-25 1 1 1 29 1 57 1 66 1 78 1 91 1 96 1 89 1 78 1 66 1 49 1 28 1 11 1 0 1-14 1-26 1-38 1-60 1-83 1-87 1-81 1-77 1-71 1-50 1-19 1 9 1 27 1 40 1 42 1 55 1 78 1 87 1 86 1 84 1 80 1 76 1 58 1 42 1 27 1 7 1-15 1-19 1-17 1-17 1-18 1-16 1-5 1 6 1 11 1 9 1 8 1 9 1 8 1 2 1-13 1-26 1-29 1-28 1-44 1-32 1 5 1 21 1 22 1 21 1 21 1 20 1 20 1 15 1 9 1 7 1 7 1 5 1 2 1 0 1-3 1-6 1-7 1-9 1-10 1-13 1-12 1-7 1 3 1 6 1 7 1 5 1 3 1 3 1 1 1 1 1 0 1 0 1-2 1-3 1-5 1-6 1-6 1-8 1-7 1-1 1 8 1 17 1 23 1 23 1 26 1 25 1 23 1 19 1 16 1 15 1 15 1 14 1 8 1-9 1-16 1-15 1-14 1-14 1-14 1 1 1 12 1 12 1 8 1 6 1-3 1-10 1-13 1-13 1-11 1-11 1-8 1-4 1-1 1 0 1-3 1-7 1-7 1-7 1-8 1-9 1-11 1-11 1-8 1-1 1 4 1 7 1 9 1 9 1 8 1 16 1 21 1 22 1 19 1 18 1 18 1 19 1 21 1 18 1 12 1 11" stroke="#D95319"/>
<path d="M0,1778l1 0 1 2 1 2 1 3 1 2 1-1 1-5 1-5 1-2 1 0 1 1 1-2 1-2 1-2 1 0 1 1 1-1 1-4 1-5 1-4 1-3 1-3 1-1 1 0 1 2 1 1 1 1 1 0 1 1 1 2 1 0 1-3 1-5 1-7 1-8 1-6 1-5 1-3 1 0 1 2 1 1 1-2 1-5 1-7 1-8 1-12 1-20 1-26 1-29 1-31 1-36 1-46 1-64 1-84 1-93 1-95 1-97 1-98 1-100 1-98 1-96 1-84 1-57 1-43 1-20 1 5 1 30 1 51 1 58 1 69 1 84 1 90 1 84 1 73 1 62 1 47 1 26 1 10 1-2 1-15 1-27 1-38 1-61 1-82 1-88 1-82 1-78 1-75 1-56 1-26 1 0 1 17 1 30 1 34 1 50 1 77 1 87 1 87 1 83 1 85 1 81 1 64 1 45 1 28 1 8 1-14 1-19 1-21 1-21 1-24 1-19 1-9 1 4 1 10 1 11 1 13 1 16 1 14 1 5 1-15 1-33 1-38 1-37 1-51 1-36 1 7 1 26 1 30 1 29 1 30 1 31 1 28 1 18 1 11 1 7 1 7 1 3 1 0 1-4 1-8 1-10 1-13 1-14 1-16 1-18 1-17 1-9 1-1 1 3 1 7 1 7 1 8 1 9 1 10 1 7 1 6 1 3 1 0 1-2 1-1 1-3 1-6 1-10 1-10 1-5 1 3 1 12 1 19 1 23 1 27 1 27 1 27 1 25 1 24 1 22 1 19 1 16 1 7 1-10 1-18 1-21 1-22 1-20 1-15 1 4 1 17 1 17 1 15 1 14 1 5 1-5 1-10 1-11 1-9 1-6 1-2 1-1 1-2 1-4 1-5 1-6 1-7 1-10 1-11 1-10 1-8 1-6 1-3 1 0 1 3 1 7 1 8 1 7 1 6 1 10 1 14 1 13 1 12 1 14 1 19 1 21 1 21 1 18 1 13 1 8" stroke="#EDB120"/>
<path d="M0,1731l1 2 1 2 1 2 1 2 1 0 1-1 1-2 1-2 1-2 1 0 1-1 1-1 1-1 1-2 1-1 1-2 1-2 1-2 1-1 1 0 1 0 1-2 1-2 1-2 1 0 1 2 1 1 1-1 1-3 1-5 1-4 1-1 1-1 1-5 1-9 1-12 1-10 1-5 1 1 1 5 1 4 1-2 1-7 1-9 1-11 1-14 1-19 1-22 1-27 1-31 1-39 1-51 1-69 1-94 1-108 1-119 1-128 1-130 1-131 1-130 1-130 1-125 1-114 1-96 1-42 1 0 1 26 1 75 1 85 1 94 1 104 1 107 1 98 1 79 1 60 1 41 1 23 1 10 1 1 1-8 1-16 1-30 1-64 1-93 1-99 1-99 1-104 1-103 1-75 1-29 1 13 1 38 1 49 1 51 1 69 1 103 1 119 1 119 1 115 1 113 1 107 1 79 1 55 1 35 1 7 1-25 1-33 1-34 1-29 1-30 1-23 1-3 1 16 1 24 1 25 1 25 1 30 1 25 1 12 1-18 1-39 1-47 1-47 1-65 1-46 1 7 1 31 1 39 1 37 1 38 1 37 1 33 1 21 1 11 1 8 1 8 1 5 1 2 1 0 1-6 1-10 1-9 1-8 1-8 1-13 1-15 1-10 1 4 1 10 1 14 1 11 1 9 1 7 1 8 1 7 1 6 1 2 1-4 1-6 1-9 1-8 1-10 1-11 1-10 1-4 1 5 1 17 1 22 1 27 1 30 1 32 1 31 1 26 1 21 1 18 1 16 1 18 1 11 1-10 1-19 1-18 1-16 1-15 1-16 1 3 1 16 1 14 1 7 1 4 1-2 1-9 1-10 1-10 1-8 1-9 1-9 1-12 1-13 1-13 1-14 1-12 1-13 1-14 1-12 1-12 1-13 1-14 1-10 1-1 1 6 1 10 1 14 1 15 1 13 1 21 1 27 1 27 1 27 1 28 1 27 1 25 1 24 1 23 1 16 1 10" stroke="#7E2F8E"/>
<path d="M0,1747l1 0 1-1 1 0 1 1 1 1 1 1 1 0 1-2 1-1 1-1 1 0 1 0 1-1 1-1 1-3 1-4 1-3 1 0 1 0 1 1 1 1 1 0 1-1 1-2 1-1 1-1 1-2 1-1 1-1 1-2 1-3 1-4 1-2 1-3 1-5 1-6 1-8 1-6 1 0 1 4 1 3 1-2 1-8 1-12 1-12 1-14 1-18 1-24 1-30 1-31 1-36 1-46 1-64 1-91 1-105 1-109 1-110 1-109 1-109 1-109 1-109 1-98 1-76 1-61 1-29 1-1 1 30 1 60 1 69 1 79 1 91 1 98 1 93 1 80 1 65 1 46 1 27 1 11 1 0 1-11 1-23 1-36 1-62 1-86 1-92 1-89 1-89 1-85 1-62 1-25 1 9 1 31 1 42 1 43 1 59 1 88 1 100 1 101 1 98 1 98 1 91 1 68 1 46 1 27 1 5 1-15 1-19 1-20 1-22 1-26 1-20 1-8 1 7 1 15 1 17 1 18 1 18 1 14 1 7 1-12 1-26 1-32 1-34 1-53 1-39 1 5 1 25 1 31 1 29 1 29 1 29 1 26 1 17 1 8 1 4 1 4 1 3 1 0 1-6 1-10 1-10 1-7 1-7 1-9 1-15 1-18 1-12 1-1 1 5 1 7 1 6 1 5 1 5 1 3 1 4 1 3 1 2 1-2 1-2 1 0 1 2 1 0 1-3 1-4 1-1 1 7 1 16 1 19 1 20 1 20 1 25 1 27 1 26 1 24 1 21 1 18 1 18 1 12 1-3 1-8 1-9 1-8 1-8 1-5 1 5 1 12 1 6 1 3 1 2 1-3 1-8 1-10 1-10 1-10 1-9 1-7 1-6 1-6 1-4 1-3 1-2 1-1 1-1 1-1 1-1 1 0 1-1 1 0 1 2 1 5 1 8 1 10 1 7 1 6 1 11 1 17 1 16 1 15 1 14 1 14 1 15 1 15 1 16 1 12 1 12" stroke="#77AC30"/>
<path d="M0,1740l1-1 1 1 1 1 1-1 1-2 1-1 1 1 1 1 1 0 1-2 1-3 1-4 1-3 1 0 1 2 1-1 1-3 1-3 1-2 1 0 1 2 1 0 1-1 1-4 1-3 1-1 1 1 1 2 1 1 1 0 1-2 1-3 1-4 1-9 1-12 1-13 1-9 1-4 1 2 1 5 1 3 1-3 1-6 1-7 1-7 1-11 1-19 1-25 1-29 1-29 1-34 1-47 1-68 1-96 1-108 1-114 1-114 1-113 1-114 1-115 1-113 1-103 1-83 1-66 1-30 1-1 1 29 1 64 1 75 1 86 1 98 1 104 1 95 1 79 1 61 1 43 1 26 1 14 1 6 1-6 1-17 1-33 1-62 1-87 1-92 1-89 1-90 1-87 1-63 1-25 1 9 1 31 1 41 1 45 1 62 1 91 1 103 1 100 1 95 1 92 1 87 1 66 1 49 1 32 1 11 1-14 1-21 1-22 1-21 1-24 1-22 1-7 1 8 1 14 1 14 1 16 1 18 1 14 1 8 1-11 1-25 1-32 1-35 1-49 1-35 1 8 1 27 1 31 1 32 1 31 1 31 1 29 1 21 1 13 1 7 1 5 1 4 1 3 1 2 1-4 1-9 1-12 1-12 1-11 1-13 1-14 1-10 1 0 1 6 1 8 1 8 1 6 1 5 1 3 1 1 1 1 1 0 1-2 1-6 1-7 1-7 1-6 1-5 1-4 1-1 1 8 1 17 1 23 1 23 1 26 1 26 1 23 1 18 1 15 1 13 1 13 1 15 1 11 1-4 1-12 1-12 1-10 1-8 1-9 1 3 1 11 1 6 1 1 1-1 1-8 1-12 1-13 1-10 1-4 1-2 1-2 1-3 1-5 1-7 1-10 1-13 1-13 1-15 1-16 1-15 1-15 1-13 1-8 1 1 1 9 1 15 1 17 1 15 1 12 1 18 1 26 1 25 1 25 1 22 1 22 1 20 1 20 1 16 1 10 1 8" stroke="#4DBEEE"/>
<path d="M0,1751l1 1 1-1 1 0 1 1 1 0 1-1 1-3 1-1 1 0 1 1 1-1 1-1 1-2 1-2 1-1 1 0 1 1 1 1 1 1 1 0 1-1 1-1 1-3 1-2 1-2 1 0 1-1 1-1 1-4 1-4 1-5 1-3 1-3 1-6 1-7 1-7 1-5 1-2 1 0 1 1 1-1 1-4 1-6 1-10 1-13 1-17 1-23 1-26 1-30 1-34 1-40 1-52 1-72 1-98 1-112 1-121 1-125 1-127 1-129 1-130 1-127 1-120 1-106 1-90 1-42 1-2 1 35 1 72 1 81 1 90 1 102 1 107 1 99 1 79 1 58 1 36 1 22 1 14 1 7 1-2 1-12 1-26 1-61 1-92 1-96 1-97 1-100 1-98 1-72 1-24 1 18 1 44 1 55 1 54 1 71 1 105 1 120 1 119 1 113 1 109 1 101 1 78 1 55 1 34 1 8 1-19 1-26 1-25 1-22 1-23 1-16 1 0 1 15 1 21 1 20 1 21 1 23 1 19 1 7 1-17 1-34 1-39 1-35 1-48 1-32 1 12 1 28 1 32 1 31 1 30 1 27 1 25 1 16 1 9 1 7 1 6 1 5 1 2 1-2 1-7 1-11 1-14 1-14 1-14 1-18 1-18 1-14 1-5 1 3 1 8 1 9 1 8 1 7 1 6 1 8 1 9 1 5 1 0 1-4 1-5 1-5 1-7 1-10 1-12 1-11 1 0 1 13 1 23 1 27 1 29 1 30 1 28 1 25 1 24 1 18 1 13 1 11 1 7 1-7 1-14 1-14 1-14 1-13 1-14 1 3 1 13 1 10 1 5 1 6 1 0 1-6 1-9 1-10 1-12 1-12 1-14 1-14 1-13 1-13 1-11 1-11 1-10 1-11 1-11 1-10 1-12 1-13 1-11 1-2 1 6 1 10 1 14 1 13 1 12 1 17 1 22 1 22 1 22 1 21 1 22 1 23 1 23 1 21 1 16 1 14" stroke="#A2142F"/>
<path d="M0,1792l1-1 1-1 1-1 1-1 1 0 1 0 1 1 1 1 1 1 1-1 1 0 1 0 1 0 1-1 1-2 1-3 1-1 1-1 1 0 1-1 1 1 1 1 1 0 1-1 1 0 1 0 1-1 1-2 1-1 1-1 1 0 1 0 1-1 1-3 1-5 1-7 1-8 1-7 1-2 1 2 1 0 1-2 1-7 1-9 1-9 1-12 1-16 1-21 1-27 1-30 1-36 1-44 1-59 1-79 1-88 1-91 1-92 1-94 1-94 1-96 1-97 1-87 1-60 1-47 1-30 1-8 1 17 1 41 1 52 1 64 1 77 1 83 1 79 1 69 1 59 1 46 1 24 1 8 1-3 1-15 1-27 1-38 1-61 1-84 1-91 1-85 1-80 1-74 1-54 1-23 1 6 1 25 1 37 1 42 1 58 1 85 1 96 1 95 1 91 1 87 1 80 1 60 1 42 1 28 1 9 1-11 1-17 1-20 1-20 1-24 1-21 1-9 1 4 1 12 1 13 1 12 1 13 1 10 1 6 1-6 1-17 1-22 1-22 1-38 1-28 1 6 1 21 1 25 1 26 1 27 1 30 1 29 1 22 1 13 1 7 1 3 1 0 1-2 1-2 1-4 1-6 1-8 1-8 1-9 1-14 1-14 1-10 1-2 1 2 1 3 1 5 1 6 1 7 1 7 1 4 1 2 1-1 1-3 1-2 1-2 1-1 1-2 1-4 1-4 1-3 1 4 1 11 1 19 1 22 1 22 1 20 1 17 1 14 1 13 1 11 1 9 1 10 1 8 1-1 1-6 1-7 1-8 1-8 1-8 1-1 1 5 1 4 1 1 1 0 1-6 1-11 1-11 1-10 1-7 1-7 1-7 1-7 1-4 1-4 1-6 1-9 1-9 1-7 1-4 1-3 1-3 1-3 1 0 1 4 1 8 1 9 1 7 1 4 1 2 1 7 1 13 1 13 1 13 1 13 1 13 1 13 1 14 1 16 1 13 1 11" stroke="#0072BD"/>
<path d="M0,1748l1 0 1 0 1 0 1-1 1 0 1 0 1-1 1-3 1-2 1-2 1 0 1 0 1-1 1-3 1-3 1-2 1-2 1 0 1-1 1-2 1 0 1 1 1 0 1 0 1 0 1-1 1 0 1 0 1-1 1-1 1-2 1-3 1-4 1-8 1-11 1-11 1-10 1-6 1-1 1 2 1 1 1-2 1-5 1-8 1-10 1-16 1-21 1-25 1-30 1-33 1-36 1-46 1-67 1-97 1-113 1-122 1-124 1-126 1-128 1-130 1-127 1-120 1-105 1-85 1-38 1 0 1 36 1 72 1 83 1 93 1 106 1 113 1 105 1 88 1 68 1 47 1 28 1 14 1 2 1-9 1-18 1-30 1-60 1-87 1-93 1-91 1-89 1-83 1-59 1-17 1 18 1 41 1 51 1 52 1 68 1 97 1 109 1 106 1 99 1 94 1 89 1 71 1 54 1 39 1 18 1-7 1-14 1-14 1-15 1-19 1-18 1-8 1 5 1 9 1 8 1 7 1 9 1 9 1 5 1-12 1-25 1-29 1-31 1-47 1-34 1 8 1 25 1 29 1 27 1 28 1 25 1 23 1 16 1 8 1 2 1 0 1-2 1-4 1-6 1-8 1-9 1-7 1-6 1-8 1-17 1-21 1-16 1-5 1 2 1 5 1 6 1 5 1 6 1 9 1 9 1 9 1 4 1-4 1-7 1-8 1-6 1-5 1-6 1-6 1-3 1 6 1 17 1 25 1 27 1 29 1 27 1 23 1 20 1 18 1 18 1 18 1 20 1 14 1-2 1-10 1-10 1-11 1-12 1-12 1 3 1 12 1 9 1 5 1 3 1-4 1-9 1-9 1-11 1-10 1-11 1-11 1-12 1-11 1-8 1-7 1-7 1-9 1-11 1-11 1-11 1-12 1-12 1-6 1 3 1 8 1 12 1 11 1 9 1 7 1 13 1 19 1 18 1 18 1 19 1 21 1 22 1 22 1 22 1 17 1 16" stroke="#D95319"/>
<path d="M0,1752l1 2 1-1 1-3 1-4 1-4 1 0 1 0 1 2 1 1 1 0 1-1 1-2 1-2 1-1 1 1 1 2 1 0 1-1 1-3 1-3 1-3 1-3 1-4 1-5 1-2 1 0 1 1 1 0 1-1 1-1 1-2 1-1 1-2 1-6 1-9 1-9 1-7 1-4 1 2 1 2 1-1 1-6 1-9 1-9 1-12 1-16 1-22 1-26 1-28 1-28 1-33 1-46 1-69 1-97 1-111 1-115 1-120 1-124 1-127 1-128 1-127 1-120 1-106 1-87 1-41 1-5 1 31 1 69 1 79 1 88 1 101 1 107 1 101 1 85 1 65 1 46 1 27 1 14 1 4 1-4 1-14 1-28 1-60 1-88 1-94 1-92 1-93 1-89 1-63 1-21 1 18 1 40 1 52 1 55 1 72 1 101 1 112 1 109 1 103 1 99 1 93 1 70 1 49 1 31 1 10 1-15 1-21 1-20 1-19 1-21 1-16 1-4 1 11 1 17 1 16 1 16 1 19 1 17 1 10 1-9 1-26 1-33 1-34 1-49 1-35 1 5 1 23 1 27 1 28 1 28 1 27 1 21 1 14 1 8 1 9 1 11 1 11 1 8 1 4 1-2 1-9 1-12 1-14 1-12 1-17 1-17 1-13 1-3 1 4 1 7 1 7 1 5 1 4 1 5 1 3 1 2 1 1 1-4 1-5 1-6 1-5 1-7 1-12 1-11 1-5 1 8 1 19 1 23 1 24 1 24 1 25 1 24 1 22 1 20 1 18 1 16 1 15 1 8 1-11 1-21 1-21 1-22 1-23 1-21 1-3 1 12 1 12 1 9 1 10 1 2 1-7 1-10 1-11 1-9 1-6 1-4 1-4 1-6 1-9 1-12 1-16 1-19 1-18 1-15 1-11 1-13 1-14 1-10 1-1 1 8 1 11 1 14 1 12 1 9 1 17 1 24 1 24 1 23 1 23 1 23 1 23 1 22 1 19 1 13 1 12" stroke="#EDB120"/>
<path d="M0,1743l1-2 1-3 1-4 1-4 1-2 1 0 1 1 1 0 1-1 1-1 1 0 1 0 1 0 1 0 1 1 1 0 1-1 1-2 1-2 1-1 1-1 1 0 1-1 1-1 1-2 1-3 1-3 1-5 1-3 1-1 1 0 1 1 1-1 1-8 1-12 1-12 1-8 1-2 1 4 1 5 1 2 1-4 1-8 1-10 1-10 1-13 1-20 1-25 1-30 1-32 1-36 1-49 1-70 1-96 1-112 1-118 1-124 1-128 1-129 1-127 1-125 1-117 1-101 1-81 1-34 1 3 1 38 1 73 1 82 1 89 1 99 1 105 1 99 1 82 1 61 1 39 1 21 1 9 1-2 1-11 1-21 1-34 1-65 1-91 1-97 1-99 1-102 1-100 1-73 1-28 1 14 1 37 1 47 1 46 1 63 1 97 1 114 1 117 1 113 1 111 1 103 1 77 1 56 1 35 1 8 1-24 1-33 1-33 1-30 1-31 1-22 1-2 1 17 1 24 1 22 1 20 1 24 1 22 1 11 1-17 1-40 1-46 1-45 1-62 1-45 1 7 1 29 1 36 1 34 1 34 1 35 1 32 1 23 1 12 1 9 1 11 1 11 1 7 1 1 1-9 1-16 1-19 1-21 1-20 1-23 1-21 1-10 1 5 1 15 1 18 1 18 1 14 1 13 1 11 1 10 1 9 1 6 1 0 1-4 1-8 1-7 1-6 1-8 1-8 1-1 1 12 1 25 1 31 1 34 1 34 1 32 1 29 1 23 1 16 1 11 1 9 1 12 1 9 1-8 1-14 1-14 1-13 1-13 1-11 1 6 1 17 1 13 1 6 1 4 1-4 1-10 1-12 1-12 1-10 1-10 1-12 1-14 1-13 1-12 1-11 1-8 1-5 1-3 1 0 1-1 1-6 1-9 1-4 1 5 1 12 1 13 1 12 1 10 1 8 1 13 1 15 1 13 1 14 1 15 1 16 1 15 1 15 1 14 1 14 1 15" stroke="#7E2F8E"/>
<path d="M0,1757l1-1 1-1 1 0 1-1 1-2 1-2 1 0 1 1 1 0 1 0 1 0 1-1 1-2 1-3 1-2 1-1 1-1 1 0 1-1 1-2 1-3 1-3 1-1 1 0 1 1 1-1 1-2 1-3 1-5 1-4 1-2 1-2 1-4 1-8 1-11 1-11 1-8 1-4 1 3 1 7 1 5 1-4 1-9 1-13 1-14 1-18 1-24 1-29 1-32 1-31 1-34 1-44 1-63 1-91 1-107 1-116 1-121 1-126 1-129 1-128 1-128 1-122 1-110 1-94 1-44 1-4 1 35 1 73 1 84 1 92 1 101 1 107 1 100 1 84 1 64 1 40 1 22 1 8 1-1 1-9 1-17 1-31 1-64 1-92 1-100 1-102 1-104 1-99 1-72 1-27 1 15 1 40 1 50 1 51 1 70 1 105 1 120 1 117 1 112 1 109 1 104 1 81 1 59 1 40 1 14 1-15 1-24 1-26 1-26 1-28 1-21 1-3 1 13 1 18 1 19 1 19 1 23 1 20 1 9 1-15 1-32 1-39 1-39 1-56 1-39 1 6 1 26 1 33 1 32 1 33 1 33 1 29 1 20 1 9 1 3 1 4 1 4 1 4 1 4 1-1 1-5 1-8 1-10 1-10 1-14 1-14 1-11 1-4 1 1 1 2 1 5 1 4 1 4 1 3 1 3 1 2 1-1 1-4 1-6 1-6 1-2 1 2 1-1 1-4 1-2 1 7 1 18 1 23 1 23 1 24 1 25 1 25 1 23 1 21 1 20 1 17 1 16 1 8 1-9 1-16 1-15 1-14 1-12 1-10 1 6 1 19 1 15 1 10 1 9 1 3 1-3 1-6 1-9 1-9 1-10 1-11 1-11 1-10 1-10 1-7 1-5 1-2 1-1 1-4 1-6 1-8 1-9 1-5 1 1 1 7 1 10 1 11 1 12 1 11 1 18 1 22 1 22 1 23 1 22 1 21 1 18 1 17 1 16 1 10 1 6" stroke="#77AC30"/>
<path d="M0,1754l1 0 1 2 1 1 1 0 1-1 1-2 1-3 1-2 1-2 1-1 1 0 1 0 1 1 1 1 1 1 1-1 1-2 1-2 1-2 1-3 1-3 1-2 1 0 1 0 1-1 1-1 1-2 1-2 1-1 1 0 1 0 1-3 1-5 1-8 1-8 1-6 1-5 1-3 1-1 1 1 1-1 1-4 1-6 1-9 1-10 1-13 1-18 1-23 1-27 1-30 1-35 1-47 1-66 1-92 1-106 1-109 1-112 1-115 1-117 1-119 1-118 1-110 1-94 1-77 1-38 1-3 1 29 1 62 1 72 1 83 1 96 1 101 1 95 1 79 1 60 1 39 1 22 1 7 1-2 1-13 1-23 1-35 1-64 1-90 1-97 1-96 1-99 1-99 1-76 1-33 1 7 1 33 1 46 1 46 1 62 1 96 1 112 1 114 1 108 1 106 1 98 1 75 1 54 1 33 1 7 1-23 1-31 1-32 1-29 1-31 1-24 1-3 1 14 1 22 1 21 1 21 1 25 1 21 1 5 1-23 1-44 1-48 1-47 1-64 1-44 1 9 1 34 1 42 1 39 1 39 1 36 1 30 1 21 1 10 1 4 1 2 1 3 1 4 1 0 1-6 1-13 1-14 1-14 1-13 1-16 1-17 1-11 1 1 1 10 1 13 1 15 1 12 1 13 1 13 1 11 1 9 1 5 1-3 1-5 1-7 1-7 1-8 1-9 1-7 1-2 1 8 1 18 1 24 1 25 1 27 1 26 1 23 1 19 1 18 1 18 1 15 1 12 1 6 1-14 1-19 1-16 1-14 1-13 1-12 1 5 1 17 1 14 1 9 1 10 1 6 1 2 1-1 1-2 1-3 1-4 1-7 1-8 1-9 1-7 1-7 1-8 1-9 1-9 1-9 1-7 1-7 1-5 1 0 1 9 1 12 1 11 1 11 1 9 1 7 1 14 1 20 1 20 1 21 1 20 1 20 1 20 1 19 1 16 1 11 1 8" stroke="#4DBEEE"/>
<path d="M0,1739l1-2 1-4 1-3 1 0 1 0 1 0 1-1 1-1 1 1 1 0 1 0 1 0 1 1 1 0 1 0 1 0 1 0 1-1 1 0 1 0 1 2 1 1 1-1 1-2 1-2 1-1 1-1 1-1 1-3 1-4 1-4 1-3 1-4 1-9 1-14 1-15 1-10 1-2 1 5 1 6 1 2 1-4 1-9 1-9 1-11 1-14 1-22 1-26 1-30 1-31 1-34 1-47 1-67 1-95 1-110 1-118 1-122 1-126 1-132 1-134 1-132 1-123 1-109 1-95 1-47 1 0 1 25 1 76 1 89 1 95 1 105 1 107 1 101 1 84 1 65 1 42 1 23 1 8 1-3 1-11 1-17 1-30 1-64 1-95 1-101 1-103 1-107 1-105 1-77 1-30 1 15 1 43 1 55 1 55 1 70 1 102 1 119 1 119 1 114 1 111 1 105 1 81 1 59 1 37 1 9 1-25 1-36 1-37 1-32 1-35 1-26 1-5 1 15 1 24 1 24 1 25 1 26 1 21 1 10 1-16 1-38 1-43 1-43 1-62 1-46 1 7 1 29 1 36 1 37 1 41 1 41 1 33 1 19 1 5 1 4 1 7 1 9 1 9 1 5 1-2 1-8 1-11 1-15 1-15 1-19 1-19 1-12 1-1 1 5 1 10 1 11 1 10 1 9 1 8 1 8 1 7 1 5 1-1 1-4 1-7 1-6 1-6 1-11 1-13 1-9 1 2 1 15 1 22 1 25 1 27 1 29 1 30 1 27 1 25 1 21 1 20 1 21 1 15 1-7 1-15 1-16 1-17 1-17 1-20 1-1 1 13 1 11 1 7 1 7 1 0 1-6 1-8 1-9 1-6 1-4 1-5 1-6 1-10 1-14 1-16 1-18 1-16 1-14 1-11 1-11 1-12 1-11 1-4 1 6 1 13 1 14 1 13 1 9 1 7 1 12 1 20 1 21 1 21 1 21 1 20 1 19 1 21 1 21 1 18 1 16" stroke="#A2142F"/>
<path d="M0,1792l1 0 1 0 1 0 1 0 1-1 1-3 1-2 1-1 1-1 1-1 1-1 1 0 1-1 1 0 1-1 1 0 1-2 1-2 1-2 1 0 1 1 1 1 1 0 1-1 1-1 1 0 1-2 1-3 1-2 1-3 1-3 1-2 1-2 1-5 1-6 1-6 1-5 1-4 1-2 1-1 1-1 1-2 1-5 1-8 1-9 1-12 1-19 1-24 1-28 1-32 1-38 1-49 1-64 1-83 1-91 1-93 1-96 1-99 1-99 1-98 1-98 1-88 1-61 1-47 1-22 1 2 1 28 1 51 1 61 1 71 1 83 1 86 1 81 1 71 1 62 1 47 1 27 1 9 1-3 1-17 1-28 1-38 1-60 1-79 1-83 1-75 1-70 1-65 1-46 1-17 1 11 1 28 1 38 1 40 1 53 1 74 1 84 1 83 1 81 1 80 1 76 1 60 1 44 1 28 1 11 1-7 1-9 1-11 1-15 1-18 1-15 1-8 1 3 1 9 1 9 1 5 1 6 1 5 1 3 1-8 1-18 1-23 1-24 1-39 1-30 1 2 1 15 1 21 1 21 1 22 1 21 1 19 1 16 1 8 1 5 1 2 1 0 1 0 1-2 1-3 1-6 1-6 1-8 1-8 1-13 1-13 1-9 1-1 1 2 1 1 1 1 1 2 1 4 1 7 1 8 1 8 1 4 1 1 1-3 1-5 1-6 1-7 1-13 1-12 1-8 1 1 1 9 1 15 1 17 1 20 1 20 1 18 1 17 1 17 1 17 1 16 1 15 1 9 1-4 1-11 1-11 1-12 1-11 1-11 1-1 1 8 1 9 1 8 1 10 1 2 1-7 1-9 1-9 1-8 1-7 1-7 1-5 1-5 1-6 1-6 1-6 1-6 1-8 1-10 1-11 1-14 1-11 1-8 1-2 1 3 1 7 1 7 1 7 1 7 1 13 1 18 1 18 1 19 1 19 1 18 1 18 1 19 1 20 1 18 1 16" stroke="#0072BD"/>
<path d="M0,1753l1 0 1-1 1 0 1 0 1 0 1-1 1-2 1-4 1-2 1 0 1 1 1 3 1 2 1 2 1-1 1-2 1-2 1-2 1-1 1 1 1 1 1-1 1-2 1-3 1-3 1-3 1-3 1-1 1 1 1 0 1-2 1-2 1-3 1-4 1-6 1-8 1-7 1-6 1 0 1 2 1 3 1-1 1-5 1-8 1-10 1-13 1-20 1-24 1-27 1-28 1-35 1-49 1-68 1-91 1-103 1-107 1-110 1-113 1-112 1-111 1-109 1-100 1-79 1-63 1-30 1 1 1 32 1 61 1 70 1 80 1 91 1 96 1 91 1 82 1 69 1 50 1 29 1 13 1 1 1-10 1-20 1-33 1-58 1-81 1-86 1-79 1-78 1-72 1-51 1-16 1 13 1 30 1 41 1 43 1 56 1 82 1 91 1 91 1 89 1 87 1 83 1 64 1 45 1 30 1 12 1-9 1-14 1-15 1-17 1-18 1-14 1-2 1 9 1 13 1 12 1 10 1 10 1 7 1 0 1-15 1-27 1-28 1-29 1-41 1-29 1 8 1 23 1 27 1 25 1 24 1 25 1 23 1 18 1 10 1 6 1 3 1 1 1 1 1-1 1-4 1-6 1-8 1-9 1-9 1-14 1-16 1-13 1-3 1 1 1 4 1 3 1 3 1 5 1 8 1 8 1 6 1 3 1 1 1-1 1-1 1-1 1 0 1-2 1 0 1 4 1 8 1 12 1 13 1 15 1 18 1 22 1 23 1 21 1 19 1 18 1 15 1 13 1 10 1-2 1-7 1-9 1-9 1-9 1-10 1-1 1 5 1 4 1 3 1 0 1-5 1-9 1-7 1-7 1-6 1-6 1-6 1-6 1-5 1-5 1-4 1-4 1-4 1-5 1-4 1-1 1 0 1 0 1 0 1 1 1 4 1 5 1 3 1 1 1-1 1 4 1 10 1 12 1 13 1 14 1 15 1 17 1 18 1 17 1 15 1 11" stroke="#D95319"/>
<path d="M0,1783l1 0 1-1 1-1 1-2 1-3 1-2 1-1 1 1 1 2 1 1 1 0 1 1 1 0 1 1 1 1 1 2 1 2 1 1 1 1 1 1 1 1 1-1 1-2 1-2 1-2 1 0 1 3 1 2 1 1 1-2 1-4 1-4 1-2 1-3 1-2 1-4 1-5 1-6 1-5 1-4 1-3 1-4 1-7 1-9 1-11 1-12 1-17 1-22 1-26 1-30 1-35 1-45 1-61 1-81 1-87 1-88 1-90 1-93 1-93 1-93 1-92 1-79 1-51 1-42 1-26 1-6 1 18 1 41 1 52 1 65 1 78 1 84 1 79 1 68 1 59 1 44 1 21 1 5 1-5 1-16 1-29 1-38 1-59 1-80 1-88 1-82 1-78 1-75 1-57 1-26 1 4 1 25 1 35 1 37 1 48 1 73 1 83 1 85 1 83 1 83 1 76 1 57 1 40 1 26 1 9 1-12 1-16 1-16 1-15 1-17 1-13 1-1 1 13 1 18 1 14 1 11 1 11 1 8 1 3 1-13 1-26 1-31 1-31 1-45 1-33 1 6 1 19 1 22 1 21 1 23 1 25 1 25 1 21 1 13 1 9 1 7 1 2 1-2 1-5 1-9 1-10 1-10 1-11 1-11 1-17 1-16 1-10 1 0 1 4 1 6 1 8 1 9 1 8 1 5 1 4 1 4 1 3 1-1 1-4 1-5 1-3 1-2 1-3 1-5 1-3 1 4 1 14 1 20 1 23 1 28 1 28 1 27 1 23 1 21 1 19 1 15 1 12 1 4 1-11 1-16 1-12 1-10 1-7 1-7 1 5 1 12 1 13 1 13 1 13 1 7 1-2 1-5 1-7 1-6 1-7 1-7 1-9 1-9 1-9 1-9 1-10 1-10 1-7 1-6 1-6 1-4 1-3 1 0 1 5 1 6 1 8 1 9 1 7 1 8 1 13 1 20 1 20 1 18 1 14 1 13 1 12 1 13 1 10 1 7 1 5" stroke="#EDB120"/>
<path d="M0,1743l1 1 1 0 1-1 1 0 1 1 1 0 1-2 1-2 1-1 1 1 1 1 1 0 1 2 1 2 1 0 1-1 1-5 1-4 1-4 1 0 1 1 1 2 1 2 1 1 1-1 1-2 1-4 1-5 1-3 1-2 1-1 1 1 1 0 1-4 1-8 1-9 1-7 1-4 1-1 1 1 1-1 1-5 1-6 1-9 1-10 1-15 1-20 1-24 1-29 1-34 1-37 1-45 1-63 1-92 1-107 1-113 1-116 1-118 1-121 1-121 1-121 1-114 1-96 1-80 1-39 1-5 1 29 1 67 1 77 1 85 1 95 1 100 1 93 1 77 1 59 1 39 1 22 1 9 1-1 1-10 1-21 1-32 1-64 1-91 1-96 1-97 1-100 1-97 1-71 1-25 1 15 1 39 1 48 1 48 1 64 1 98 1 113 1 111 1 107 1 104 1 97 1 73 1 53 1 35 1 10 1-20 1-29 1-31 1-29 1-33 1-25 1-6 1 11 1 18 1 20 1 22 1 27 1 23 1 10 1-17 1-36 1-42 1-41 1-57 1-38 1 12 1 33 1 37 1 36 1 36 1 34 1 28 1 17 1 6 1 3 1 2 1 2 1-1 1-4 1-7 1-11 1-12 1-14 1-12 1-15 1-15 1-11 1 0 1 7 1 12 1 13 1 11 1 11 1 11 1 8 1 6 1 1 1-5 1-8 1-10 1-9 1-10 1-12 1-12 1-8 1 4 1 18 1 27 1 32 1 33 1 33 1 32 1 27 1 25 1 20 1 17 1 18 1 11 1-8 1-15 1-14 1-14 1-14 1-14 1 2 1 11 1 6 1 1 1 3 1-4 1-11 1-12 1-12 1-11 1-13 1-14 1-13 1-11 1-10 1-9 1-9 1-9 1-9 1-7 1-7 1-10 1-11 1-7 1 1 1 7 1 9 1 11 1 7 1 7 1 17 1 25 1 26 1 26 1 23 1 22 1 22 1 23 1 23 1 15 1 9" stroke="#7E2F8E"/>
<path d="M0,1754l1-1 1 2 1 2 1 0 1 0 1-2 1-1 1 0 1 1 1 2 1 4 1 5 1 4 1 0 1-3 1-4 1-2 1-1 1 1 1 0 1-1 1 0 1 2 1 1 1 1 1-2 1-2 1-2 1 1 1 1 1-1 1-1 1-1 1-3 1-5 1-5 1-6 1-3 1 0 1 3 1 2 1-3 1-7 1-8 1-8 1-10 1-15 1-19 1-24 1-32 1-37 1-47 1-63 1-84 1-92 1-93 1-92 1-92 1-90 1-88 1-89 1-77 1-48 1-35 1-20 1-1 1 21 1 42 1 53 1 66 1 82 1 90 1 86 1 74 1 62 1 47 1 26 1 11 1 2 1-13 1-28 1-42 1-63 1-85 1-91 1-79 1-71 1-63 1-42 1-15 1 8 1 25 1 35 1 39 1 51 1 73 1 81 1 81 1 78 1 74 1 69 1 50 1 34 1 21 1 6 1-8 1-9 1-9 1-10 1-14 1-14 1-6 1 5 1 10 1 8 1 6 1 6 1 4 1 2 1-10 1-19 1-22 1-23 1-39 1-30 1 4 1 17 1 22 1 24 1 26 1 25 1 23 1 15 1 7 1 2 1-2 1-2 1-2 1-2 1-3 1-2 1-3 1-4 1-6 1-12 1-14 1-9 1-3 1 1 1 3 1 4 1 4 1 6 1 5 1 6 1 7 1 7 1 2 1 0 1-1 1-2 1-4 1-6 1-4 1 0 1 8 1 17 1 20 1 21 1 22 1 21 1 16 1 12 1 10 1 8 1 7 1 7 1 6 1-1 1-3 1-2 1-2 1-2 1-2 1 6 1 11 1 10 1 9 1 6 1-2 1-7 1-9 1-9 1-12 1-15 1-18 1-16 1-14 1-9 1-4 1 0 1 2 1 1 1-1 1-3 1-2 1 0 1 2 1 4 1 3 1 4 1 4 1 4 1 2 1 5 1 8 1 7 1 7 1 9 1 10 1 11 1 12 1 12 1 11 1 11" stroke="#77AC30"/>
<path d="M0,1765l1 0 1-2 1-1 1 0 1 0 1-1 1-1 1 1 1 1 1 0 1-1 1 0 1-1 1 0 1 0 1-1 1 0 1-2 1 0 1 1 1 0 1-1 1 0 1-1 1 0 1-2 1-2 1-3 1-3 1-2 1-2 1-2 1-2 1-3 1-6 1-6 1-3 1 0 1 3 1 3 1 0 1-5 1-9 1-11 1-12 1-13 1-18 1-23 1-28 1-30 1-33 1-43 1-60 1-84 1-94 1-97 1-100 1-101 1-104 1-102 1-101 1-91 1-67 1-56 1-31 1-6 1 23 1 49 1 61 1 73 1 86 1 93 1 88 1 76 1 63 1 44 1 22 1 6 1-4 1-13 1-23 1-36 1-63 1-88 1-94 1-89 1-87 1-83 1-61 1-25 1 7 1 28 1 41 1 44 1 59 1 86 1 98 1 97 1 90 1 87 1 81 1 65 1 48 1 31 1 6 1-19 1-25 1-27 1-25 1-26 1-19 1-6 1 8 1 15 1 14 1 14 1 16 1 13 1 5 1-15 1-32 1-39 1-39 1-52 1-37 1 7 1 25 1 30 1 30 1 31 1 31 1 26 1 16 1 8 1 5 1 8 1 9 1 5 1 3 1-3 1-6 1-9 1-11 1-13 1-17 1-17 1-13 1-3 1 2 1 2 1 3 1 2 1 5 1 7 1 9 1 10 1 7 1 1 1-1 1-3 1-2 1-2 1-4 1-5 1-3 1 3 1 12 1 18 1 20 1 25 1 28 1 27 1 23 1 20 1 18 1 15 1 14 1 8 1-9 1-16 1-16 1-14 1-12 1-10 1 6 1 17 1 14 1 9 1 5 1-4 1-11 1-13 1-11 1-10 1-10 1-9 1-10 1-11 1-13 1-12 1-9 1-6 1-4 1-5 1-8 1-9 1-7 1-3 1 2 1 5 1 8 1 7 1 5 1 5 1 13 1 20 1 19 1 20 1 19 1 19 1 18 1 17 1 17 1 15 1 14" stroke="#4DBEEE"/>
<path d="M0,1762l1 2 1 3 1 1 1 0 1-2 1-1 1-1 1-3 1-4 1-4 1-3 1 0 1 1 1-1 1-2 1 0 1 0 1 0 1 0 1 0 1-1 1-2 1-1 1 0 1-1 1-3 1-5 1-5 1-4 1-1 1-1 1-1 1-4 1-8 1-9 1-9 1-8 1-5 1-1 1 1 1 0 1-4 1-8 1-12 1-12 1-16 1-21 1-27 1-31 1-33 1-38 1-51 1-70 1-95 1-109 1-116 1-122 1-125 1-128 1-127 1-125 1-118 1-103 1-86 1-39 1-2 1 37 1 74 1 85 1 92 1 103 1 107 1 100 1 86 1 68 1 46 1 26 1 11 1-1 1-12 1-18 1-28 1-57 1-83 1-91 1-92 1-96 1-93 1-65 1-19 1 22 1 44 1 54 1 53 1 68 1 97 1 110 1 110 1 104 1 101 1 94 1 73 1 53 1 32 1 5 1-21 1-26 1-25 1-20 1-22 1-15 1-1 1 12 1 20 1 18 1 16 1 15 1 12 1 4 1-14 1-29 1-33 1-35 1-53 1-39 1 5 1 23 1 30 1 31 1 33 1 33 1 28 1 19 1 7 1 1 1 1 1-1 1-4 1-7 1-10 1-12 1-11 1-12 1-12 1-17 1-19 1-14 1-3 1 5 1 9 1 7 1 5 1 6 1 7 1 8 1 6 1 3 1 0 1-4 1-7 1-6 1-7 1-8 1-8 1-5 1 5 1 14 1 21 1 24 1 28 1 29 1 29 1 27 1 24 1 23 1 21 1 18 1 9 1-14 1-24 1-24 1-26 1-26 1-24 1 0 1 16 1 15 1 9 1 9 1 2 1-5 1-8 1-8 1-6 1-2 1 1 1 2 1 1 1-2 1-8 1-11 1-15 1-16 1-18 1-16 1-15 1-11 1-5 1 5 1 12 1 15 1 15 1 12 1 11 1 17 1 20 1 16 1 14 1 15 1 19 1 22 1 26 1 26 1 20 1 13" stroke="#A2142F"/>
<path d="M0,1771l1 2 1 1 1 0 1-1 1-1 1-1 1 0 1 0 1 2 1 1 1 0 1-1 1-2 1-3 1-3 1-2 1-1 1-1 1-1 1 1 1 1 1-2 1-3 1-1 1 0 1 0 1-3 1-4 1-3 1 0 1 0 1-4 1-6 1-7 1-6 1-7 1-5 1-2 1 1 1 2 1-1 1-7 1-9 1-9 1-9 1-13 1-19 1-24 1-29 1-32 1-39 1-49 1-68 1-93 1-105 1-110 1-116 1-118 1-120 1-119 1-118 1-110 1-95 1-79 1-40 1-5 1 28 1 61 1 71 1 82 1 93 1 100 1 93 1 77 1 59 1 40 1 23 1 11 1 1 1-8 1-16 1-29 1-62 1-91 1-99 1-97 1-99 1-94 1-69 1-25 1 14 1 38 1 50 1 49 1 64 1 97 1 110 1 110 1 105 1 103 1 96 1 72 1 51 1 34 1 10 1-18 1-27 1-28 1-25 1-28 1-24 1-8 1 10 1 18 1 20 1 22 1 27 1 23 1 10 1-15 1-32 1-36 1-34 1-53 1-40 1 4 1 24 1 29 1 29 1 31 1 33 1 31 1 23 1 14 1 8 1 7 1 6 1 4 1 1 1-3 1-8 1-9 1-12 1-12 1-16 1-18 1-13 1-4 1 2 1 3 1 6 1 7 1 9 1 7 1 5 1 4 1 2 1-2 1-4 1-4 1-1 1-1 1-4 1-3 1 3 1 12 1 22 1 25 1 27 1 29 1 31 1 26 1 20 1 15 1 11 1 8 1 9 1 7 1-7 1-12 1-11 1-10 1-8 1-5 1 10 1 19 1 14 1 8 1 7 1 0 1-8 1-9 1-9 1-6 1-4 1-4 1-5 1-6 1-9 1-10 1-8 1-7 1-6 1-8 1-10 1-11 1-10 1-6 1-2 1 4 1 11 1 15 1 12 1 8 1 11 1 15 1 15 1 16 1 16 1 18 1 19 1 19 1 18 1 12 1 10" stroke="#0072BD"/>
<path d="M0,1753l1 2 1 1 1-1 1-2 1-1 1 2 1 2 1-2 1-2 1-1 1 0 1 0 1 1 1 0 1-1 1-1 1 0 1-1 1-1 1-3 1-3 1-1 1-1 1-2 1-1 1 0 1 1 1 1 1 1 1 0 1-1 1-2 1-3 1-8 1-10 1-10 1-9 1-6 1-1 1 2 1 2 1-1 1-5 1-7 1-10 1-14 1-22 1-26 1-28 1-31 1-36 1-51 1-69 1-95 1-104 1-106 1-108 1-108 1-110 1-110 1-109 1-101 1-81 1-68 1-31 1 0 1 31 1 60 1 68 1 79 1 93 1 99 1 93 1 79 1 65 1 46 1 25 1 9 1-3 1-13 1-22 1-34 1-60 1-85 1-91 1-88 1-88 1-83 1-60 1-24 1 10 1 32 1 46 1 48 1 62 1 89 1 100 1 97 1 91 1 91 1 87 1 67 1 47 1 29 1 8 1-13 1-18 1-19 1-18 1-22 1-16 1-2 1 13 1 18 1 17 1 16 1 18 1 13 1 6 1-15 1-30 1-35 1-36 1-52 1-39 1 3 1 21 1 26 1 26 1 28 1 28 1 25 1 18 1 10 1 5 1 4 1 3 1 2 1-1 1-3 1-5 1-5 1-5 1-5 1-10 1-13 1-8 1-1 1 1 1 3 1 6 1 6 1 6 1 6 1 6 1 7 1 4 1 0 1-3 1-4 1-2 1-3 1-4 1-4 1-2 1 6 1 15 1 20 1 21 1 22 1 25 1 23 1 20 1 16 1 16 1 16 1 16 1 11 1-1 1-6 1-5 1-4 1-3 1-2 1 7 1 14 1 14 1 12 1 9 1-1 1-7 1-7 1-9 1-10 1-13 1-12 1-13 1-12 1-9 1-7 1-6 1-4 1-2 1-2 1-1 1 0 1 3 1 3 1 3 1 4 1 3 1 2 1 2 1 1 1 8 1 15 1 17 1 17 1 15 1 15 1 16 1 16 1 15 1 13 1 12" stroke="#D95319"/>
<path d="M0,1742l1 1 1 3 1 3 1 2 1 0 1 1 1 1 1-1 1-2 1-2 1-2 1 1 1 0 1 1 1 0 1 2 1 2 1 1 1-1 1-3 1-1 1 0 1 1 1 1 1 1 1 0 1-1 1-1 1-1 1-1 1-1 1-2 1-6 1-7 1-8 1-6 1-5 1-1 1 0 1 1 1 0 1-3 1-7 1-10 1-10 1-13 1-19 1-23 1-27 1-31 1-36 1-48 1-67 1-90 1-101 1-105 1-108 1-109 1-109 1-110 1-110 1-101 1-79 1-63 1-32 1-5 1 24 1 54 1 65 1 75 1 90 1 98 1 93 1 79 1 61 1 42 1 22 1 8 1-4 1-17 1-27 1-40 1-67 1-92 1-95 1-93 1-93 1-87 1-62 1-22 1 13 1 34 1 42 1 44 1 61 1 93 1 105 1 103 1 96 1 94 1 89 1 68 1 50 1 30 1 4 1-20 1-26 1-23 1-21 1-23 1-17 1-3 1 10 1 16 1 15 1 16 1 22 1 22 1 13 1-10 1-29 1-37 1-38 1-57 1-46 1-1 1 18 1 26 1 26 1 27 1 26 1 25 1 16 1 7 1 3 1 4 1 4 1 2 1 1 1-2 1-5 1-8 1-12 1-13 1-18 1-16 1-9 1 2 1 9 1 11 1 8 1 5 1 7 1 9 1 11 1 11 1 6 1-1 1-5 1-6 1-9 1-9 1-11 1-8 1-1 1 9 1 19 1 26 1 31 1 36 1 38 1 35 1 30 1 25 1 19 1 13 1 11 1 4 1-13 1-22 1-21 1-21 1-19 1-18 1-1 1 12 1 9 1 6 1 7 1 2 1-2 1-4 1-4 1-4 1-3 1-4 1-5 1-6 1-8 1-12 1-16 1-19 1-19 1-18 1-16 1-16 1-15 1-13 1-3 1 4 1 10 1 10 1 9 1 8 1 15 1 20 1 21 1 21 1 23 1 25 1 23 1 22 1 19 1 13 1 9" stroke="#EDB120"/>
<path d="M0,1767l1 0 1-1 1-3 1-2 1-3 1 0 1 3 1 3 1 1 1 1 1 1 1 0 1 0 1-2 1-2 1-1 1-1 1-1 1-1 1-2 1-2 1-3 1-4 1-1 1 2 1 1 1 0 1-1 1-2 1-3 1-2 1 0 1-1 1-5 1-9 1-7 1-5 1 0 1 2 1 2 1 1 1-3 1-5 1-9 1-12 1-16 1-22 1-26 1-29 1-31 1-36 1-47 1-66 1-87 1-97 1-99 1-101 1-103 1-106 1-106 1-106 1-96 1-74 1-62 1-32 1-3 1 27 1 55 1 66 1 76 1 88 1 93 1 86 1 72 1 55 1 35 1 16 1 4 1-4 1-14 1-25 1-38 1-67 1-95 1-101 1-98 1-97 1-92 1-69 1-28 1 9 1 30 1 40 1 43 1 60 1 90 1 104 1 105 1 100 1 101 1 95 1 74 1 56 1 37 1 10 1-19 1-29 1-28 1-25 1-30 1-26 1-10 1 8 1 18 1 19 1 18 1 19 1 15 1 6 1-19 1-35 1-41 1-39 1-56 1-38 1 11 1 31 1 34 1 30 1 32 1 34 1 30 1 21 1 13 1 9 1 8 1 7 1 5 1 2 1-2 1-6 1-7 1-8 1-10 1-14 1-15 1-10 1-2 1 4 1 6 1 8 1 8 1 8 1 9 1 10 1 9 1 7 1 1 1 0 1-1 1 0 1-1 1-6 1-7 1-4 1 6 1 15 1 22 1 25 1 28 1 29 1 26 1 22 1 19 1 16 1 13 1 10 1 7 1-6 1-8 1-8 1-6 1-6 1-6 1 4 1 8 1 3 1 2 1 2 1-3 1-10 1-10 1-10 1-8 1-5 1-4 1-3 1-4 1-4 1-6 1-7 1-7 1-7 1-8 1-6 1-6 1-7 1-5 1-2 1 3 1 4 1 3 1 0 1-2 1 6 1 13 1 14 1 15 1 16 1 16 1 16 1 18 1 18 1 17 1 13" stroke="#7E2F8E"/>
<path d="M0,1783l1 0 1 0 1 0 1-1 1 0 1 0 1-1 1 0 1 0 1-1 1 0 1 0 1-1 1 0 1 0 1-1 1 0 1 0 1-1 1 0 1 0 1-1 1 0 1 0 1-1 1 0 1-1 1-1 1-1 1-1 1-1 1-2 1-2 1-4 1-6 1-6 1-5 1-3 1-1 1 1 1-1 1-3 1-6 1-8 1-10 1-12 1-18 1-23 1-28 1-30 1-36 1-46 1-63 1-83 1-91 1-91 1-91 1-92 1-92 1-92 1-92 1-81 1-52 1-41 1-23 1-1 1 23 1 44 1 54 1 66 1 80 1 86 1 81 1 71 1 62 1 48 1 25 1 8 1-2 1-14 1-26 1-38 1-59 1-80 1-86 1-78 1-73 1-66 1-48 1-18 1 7 1 25 1 37 1 39 1 52 1 74 1 81 1 80 1 78 1 77 1 73 1 56 1 39 1 26 1 10 1-7 1-12 1-12 1-12 1-16 1-13 1-5 1 4 1 9 1 9 1 6 1 7 1 5 1 2 1-9 1-17 1-21 1-23 1-37 1-28 1 6 1 18 1 23 1 22 1 23 1 23 1 20 1 15 1 8 1 4 1 3 1 2 1 0 1-1 1-3 1-5 1-6 1-7 1-8 1-12 1-13 1-9 1-2 1 1 1 3 1 4 1 4 1 5 1 4 1 5 1 3 1 2 1-1 1-1 1-2 1-2 1-3 1-4 1-4 1-2 1 6 1 13 1 18 1 19 1 21 1 23 1 22 1 20 1 18 1 16 1 16 1 15 1 12 1 5 1 3 1 2 1 2 1 2 1 2 1 7 1 11 1 8 1 5 1 3 1-4 1-10 1-11 1-12 1-11 1-11 1-10 1-8 1-8 1-7 1-6 1-6 1-5 1-6 1-6 1-7 1-9 1-8 1-8 1-6 1-5 1-1 1-1 1 1 1 1 1 8 1 13 1 13 1 14 1 14 1 14 1 14 1 15 1 14 1 12 1 11" stroke="#EDB120" stroke-width="1.1"/>
<path d="M0,1754l1 0 1 1 1 0 1-2 1-2 1-3 1-2 1 0 1 0 1-1 1 0 1 2 1 2 1 3 1 3 1 3 1 3 1 4 1 3 1 0 1-2 1-1 1-1 1-1 1-2 1-4 1-3 1-2 1-1 1 0 1-1 1-1 1-2 1-4 1-6 1-5 1-4 1 0 1 3 1 4 1 4 1-1 1-6 1-8 1-9 1-12 1-18 1-22 1-28 1-32 1-37 1-46 1-62 1-85 1-94 1-94 1-94 1-93 1-93 1-95 1-94 1-85 1-59 1-47 1-27 1-6 1 18 1 41 1 52 1 66 1 80 1 85 1 80 1 70 1 60 1 47 1 24 1 6 1-5 1-16 1-26 1-38 1-60 1-83 1-89 1-83 1-78 1-74 1-54 1-22 1 6 1 27 1 38 1 44 1 58 1 82 1 89 1 87 1 81 1 81 1 77 1 62 1 49 1 35 1 17 1-3 1-8 1-9 1-11 1-17 1-17 1-9 1 0 1 6 1 6 1 6 1 6 1 4 1 2 1-5 1-13 1-15 1-16 1-31 1-22 1 10 1 21 1 22 1 21 1 22 1 24 1 22 1 16 1 7 1 5 1 4 1 3 1 1 1-1 1-4 1-9 1-10 1-11 1-9 1-13 1-13 1-10 1-1 1 0 1 1 1 2 1 5 1 8 1 8 1 5 1 3 1-1 1-2 1-5 1-6 1-6 1-7 1-9 1-9 1-4 1 3 1 12 1 18 1 21 1 23 1 24 1 21 1 16 1 16 1 16 1 14 1 12 1 6 1-9 1-12 1-11 1-11 1-11 1-11 1-1 1 4 1-1 1-5 1-5 1-7 1-9 1-8 1-6 1-5 1-3 1-2 1-3 1-4 1-4 1-4 1-4 1-6 1-8 1-11 1-10 1-10 1-10 1-7 1-3 1 2 1 6 1 7 1 5 1 4 1 13 1 20 1 19 1 19 1 18 1 16 1 17 1 17 1 18 1 14 1 12" stroke="#77AC30"/>
<path d="M0,1784l1-3 1 0 1 1 1 2 1 1 1 1 1 1 1 0 1 1 1 2 1 2 1 0 1 0 1-1 1-4 1-2 1 0 1 2 1 2 1 2 1 1 1-1 1-1 1-1 1-2 1-4 1-2 1-3 1-3 1-5 1-4 1-2 1-1 1-3 1-5 1-5 1-5 1-3 1-1 1 1 1 0 1-4 1-6 1-7 1-7 1-11 1-18 1-25 1-30 1-34 1-40 1-50 1-65 1-87 1-93 1-94 1-94 1-94 1-95 1-97 1-96 1-86 1-57 1-44 1-22 1 0 1 26 1 50 1 59 1 72 1 85 1 91 1 86 1 74 1 65 1 50 1 27 1 10 1-2 1-15 1-28 1-40 1-61 1-80 1-85 1-74 1-68 1-59 1-41 1-12 1 10 1 25 1 37 1 40 1 54 1 76 1 83 1 81 1 76 1 75 1 73 1 58 1 42 1 28 1 12 1-7 1-12 1-13 1-12 1-12 1-10 1-4 1 1 1 6 1 6 1 5 1 3 1 1 1-1 1-10 1-17 1-17 1-19 1-33 1-25 1 4 1 17 1 21 1 20 1 20 1 20 1 17 1 13 1 5 1 1 1-2 1-1 1-1 1-1 1 0 1-1 1-3 1-4 1-5 1-10 1-11 1-9 1-2 1 0 1 2 1 1 1 1 1 1 1 3 1 5 1 7 1 5 1 3 1 1 1 0 1-2 1-3 1-5 1-5 1-3 1 2 1 10 1 14 1 16 1 19 1 21 1 21 1 19 1 18 1 13 1 10 1 9 1 6 1 0 1-4 1-2 1-2 1-2 1-2 1 3 1 6 1 6 1 5 1 2 1-4 1-9 1-9 1-9 1-11 1-12 1-13 1-13 1-13 1-12 1-9 1-7 1-6 1-6 1-7 1-9 1-8 1-7 1-5 1-2 1 1 1 2 1 4 1 4 1 2 1 6 1 11 1 9 1 9 1 9 1 11 1 12 1 13 1 15 1 12 1 11" stroke="#4DBEEE"/>
<path d="M0,1772l1-1 1 1 1 2 1 3 1 2 1 1 1 2 1 1 1 2 1 0 1 1 1-1 1-1 1-3 1-3 1-2 1 0 1 1 1 2 1 1 1-1 1-3 1-3 1-1 1 1 1 1 1 0 1 0 1-2 1-1 1-1 1 1 1 1 1-1 1-4 1-5 1-6 1-5 1-3 1-2 1-1 1-3 1-5 1-8 1-11 1-14 1-20 1-25 1-29 1-30 1-34 1-43 1-58 1-79 1-86 1-87 1-86 1-86 1-86 1-86 1-87 1-76 1-50 1-40 1-23 1-1 1 22 1 41 1 49 1 59 1 73 1 80 1 78 1 71 1 62 1 46 1 24 1 9 1-2 1-13 1-24 1-36 1-55 1-77 1-82 1-74 1-66 1-61 1-43 1-16 1 7 1 23 1 34 1 38 1 50 1 70 1 77 1 76 1 75 1 74 1 71 1 53 1 35 1 22 1 7 1-7 1-10 1-12 1-14 1-16 1-14 1-6 1 5 1 12 1 12 1 9 1 8 1 5 1 2 1-6 1-13 1-17 1-21 1-37 1-28 1 3 1 16 1 21 1 20 1 20 1 18 1 18 1 14 1 9 1 3 1 0 1-5 1-6 1-6 1-4 1-3 1-1 1-2 1-2 1-8 1-10 1-6 1 1 1 3 1 4 1 1 1 1 1 3 1 5 1 4 1 1 1 0 1 0 1-1 1-1 1 0 1-2 1-6 1-5 1-2 1 6 1 11 1 16 1 18 1 22 1 21 1 19 1 15 1 15 1 15 1 12 1 9 1 4 1-3 1-7 1-7 1-5 1-5 1-3 1 6 1 10 1 9 1 7 1 4 1-5 1-10 1-10 1-8 1-7 1-6 1-8 1-8 1-8 1-10 1-12 1-12 1-12 1-11 1-10 1-9 1-6 1-3 1-1 1 1 1 0 1 4 1 6 1 4 1 4 1 11 1 17 1 18 1 18 1 16 1 14 1 13 1 11 1 10 1 7 1 5" stroke="#A2142F"/>
<path d="M0,1736l1 2 1 1 1 1 1 2 1 2 1 0 1-1 1-2 1-1 1 0 1 0 1-1 1-1 1-1 1-1 1 1 1 3 1 5 1 3 1 2 1-1 1-1 1-1 1 0 1 2 1 1 1-1 1-3 1-3 1-3 1-2 1 0 1 0 1-5 1-9 1-9 1-6 1-2 1 0 1 2 1 2 1 0 1-4 1-8 1-10 1-12 1-17 1-24 1-28 1-30 1-37 1-49 1-66 1-88 1-97 1-101 1-107 1-111 1-116 1-114 1-112 1-99 1-78 1-63 1-31 1-2 1 29 1 58 1 67 1 76 1 85 1 89 1 82 1 68 1 55 1 37 1 19 1 4 1-6 1-14 1-22 1-34 1-62 1-90 1-98 1-99 1-100 1-97 1-71 1-29 1 9 1 31 1 42 1 44 1 62 1 95 1 109 1 109 1 106 1 104 1 96 1 72 1 51 1 35 1 11 1-15 1-25 1-24 1-23 1-27 1-23 1-6 1 10 1 18 1 17 1 18 1 22 1 21 1 11 1-15 1-36 1-43 1-43 1-58 1-41 1 6 1 26 1 30 1 29 1 32 1 33 1 31 1 22 1 10 1 3 1 3 1 3 1 1 1-1 1-6 1-10 1-12 1-16 1-16 1-18 1-17 1-10 1-1 1 2 1 4 1 6 1 9 1 11 1 12 1 11 1 11 1 8 1 1 1-5 1-8 1-9 1-8 1-12 1-12 1-8 1 4 1 15 1 20 1 23 1 26 1 29 1 30 1 28 1 26 1 24 1 23 1 22 1 14 1-8 1-19 1-19 1-20 1-21 1-21 1-1 1 14 1 11 1 6 1 6 1 4 1-1 1-2 1-4 1-5 1-3 1-5 1-6 1-8 1-8 1-9 1-8 1-9 1-7 1-7 1-6 1-6 1-6 1-3 1 2 1 8 1 10 1 10 1 10 1 10 1 19 1 25 1 22 1 18 1 17 1 17 1 17 1 17 1 17 1 11 1 8" stroke="#0072BD"/>
<path d="M0,1732l1 0 1 2 1 1 1 0 1-1 1-2 1-1 1 0 1 1 1-1 1-2 1-1 1 1 1 1 1-1 1-1 1-2 1-4 1-5 1-3 1-1 1 1 1 1 1 0 1 0 1 0 1 0 1-1 1-2 1-1 1 1 1-1 1-2 1-9 1-10 1-11 1-10 1-7 1 0 1 5 1 4 1-2 1-7 1-10 1-13 1-16 1-22 1-25 1-27 1-29 1-34 1-49 1-71 1-98 1-113 1-117 1-119 1-120 1-121 1-119 1-118 1-110 1-95 1-78 1-35 1 1 1 35 1 68 1 77 1 86 1 102 1 108 1 102 1 85 1 65 1 42 1 24 1 11 1 1 1-10 1-19 1-31 1-59 1-86 1-95 1-95 1-96 1-92 1-68 1-24 1 14 1 38 1 48 1 48 1 62 1 93 1 108 1 106 1 101 1 99 1 94 1 71 1 52 1 34 1 11 1-18 1-27 1-30 1-29 1-30 1-24 1-6 1 10 1 18 1 18 1 20 1 23 1 20 1 10 1-11 1-27 1-32 1-35 1-52 1-39 1 8 1 26 1 33 1 31 1 33 1 32 1 30 1 23 1 14 1 9 1 6 1 2 1-1 1-2 1-5 1-7 1-10 1-11 1-12 1-16 1-16 1-11 1-3 1 2 1 6 1 7 1 7 1 10 1 9 1 6 1 3 1-2 1-7 1-6 1-6 1-6 1-4 1-4 1-3 1-2 1 3 1 13 1 19 1 23 1 26 1 26 1 25 1 21 1 21 1 20 1 21 1 20 1 12 1-6 1-14 1-16 1-18 1-18 1-15 1 2 1 15 1 12 1 6 1 6 1 0 1-7 1-11 1-12 1-11 1-9 1-9 1-9 1-10 1-10 1-10 1-10 1-11 1-9 1-9 1-9 1-10 1-11 1-8 1 1 1 7 1 10 1 11 1 12 1 11 1 19 1 26 1 25 1 23 1 20 1 17 1 19 1 22 1 21 1 14 1 11" stroke="#D95319"/>
<path d="M0,1750l1 1 1-1 1-1 1 0 1 0 1 0 1 0 1 1 1 3 1 3 1 1 1-1 1-2 1-2 1-2 1 0 1 2 1 2 1 1 1-1 1-2 1-3 1-1 1-1 1 1 1 1 1 2 1 2 1 1 1 0 1-2 1-4 1-4 1-5 1-5 1-5 1-5 1-5 1-2 1-1 1 0 1-2 1-5 1-8 1-11 1-15 1-19 1-24 1-28 1-32 1-38 1-49 1-67 1-91 1-103 1-106 1-110 1-111 1-113 1-114 1-117 1-110 1-90 1-73 1-37 1-5 1 26 1 59 1 71 1 81 1 91 1 97 1 93 1 81 1 63 1 41 1 18 1 1 1-9 1-19 1-27 1-38 1-66 1-93 1-98 1-99 1-101 1-100 1-74 1-31 1 11 1 36 1 45 1 46 1 62 1 95 1 111 1 112 1 105 1 102 1 96 1 73 1 55 1 35 1 9 1-22 1-28 1-27 1-24 1-27 1-21 1-3 1 14 1 24 1 24 1 25 1 25 1 20 1 8 1-17 1-35 1-39 1-38 1-56 1-40 1 7 1 29 1 34 1 32 1 31 1 31 1 29 1 18 1 8 1 6 1 9 1 11 1 11 1 7 1 0 1-6 1-9 1-10 1-9 1-11 1-12 1-6 1 5 1 11 1 11 1 10 1 9 1 10 1 8 1 4 1 3 1 1 1 0 1-2 1-3 1-6 1-7 1-10 1-7 1-1 1 7 1 14 1 19 1 20 1 23 1 25 1 25 1 19 1 15 1 12 1 13 1 15 1 11 1-4 1-11 1-13 1-15 1-15 1-14 1 1 1 12 1 7 1 1 1-3 1-13 1-17 1-15 1-13 1-11 1-7 1-6 1-5 1-5 1-7 1-9 1-10 1-12 1-13 1-13 1-12 1-14 1-14 1-9 1 1 1 8 1 9 1 10 1 8 1 7 1 15 1 22 1 22 1 21 1 23 1 24 1 25 1 24 1 22 1 14 1 10" stroke="#EDB120"/>
<path d="M0,1737l1-3 1-2 1-3 1-2 1-1 1 0 1 1 1 1 1 0 1 1 1-1 1-1 1 0 1 1 1 0 1-2 1-4 1-4 1-1 1-1 1 1 1 0 1 0 1 0 1 1 1 1 1 2 1 0 1-1 1-3 1-4 1-4 1-6 1-9 1-11 1-10 1-7 1-2 1 4 1 7 1 4 1-2 1-7 1-10 1-14 1-18 1-23 1-27 1-30 1-33 1-36 1-49 1-69 1-98 1-113 1-119 1-123 1-128 1-131 1-131 1-129 1-122 1-106 1-90 1-41 1-5 1 33 1 75 1 87 1 97 1 106 1 110 1 100 1 81 1 60 1 39 1 20 1 8 1-2 1-11 1-19 1-32 1-66 1-96 1-101 1-103 1-105 1-103 1-76 1-27 1 17 1 42 1 52 1 50 1 68 1 104 1 122 1 120 1 111 1 107 1 101 1 76 1 57 1 38 1 11 1-22 1-33 1-33 1-29 1-30 1-20 1 1 1 19 1 30 1 28 1 26 1 27 1 20 1 9 1-18 1-36 1-40 1-40 1-58 1-44 1 4 1 25 1 34 1 33 1 33 1 31 1 30 1 23 1 15 1 12 1 13 1 12 1 10 1 5 1-3 1-9 1-11 1-11 1-10 1-12 1-14 1-12 1-4 1 3 1 8 1 11 1 11 1 11 1 7 1 5 1 4 1 3 1 1 1-1 1-3 1-5 1-7 1-10 1-9 1-4 1 7 1 19 1 26 1 28 1 31 1 32 1 30 1 25 1 18 1 13 1 10 1 6 1 1 1-15 1-18 1-14 1-11 1-11 1-7 1 8 1 17 1 14 1 10 1 8 1 2 1-6 1-8 1-10 1-10 1-8 1-9 1-8 1-11 1-11 1-9 1-8 1-10 1-11 1-13 1-12 1-12 1-11 1-5 1 2 1 8 1 10 1 13 1 11 1 8 1 13 1 18 1 17 1 16 1 17 1 18 1 20 1 22 1 23 1 21 1 16" stroke="#7E2F8E"/>
<path d="M0,1770l1 1 1 0 1 0 1 0 1 0 1 0 1 0 1 0 1 1 1 0 1-3 1-3 1-2 1-1 1-2 1 0 1 1 1 1 1 0 1 1 1 1 1 0 1-1 1-1 1-3 1-4 1-4 1-3 1-1 1 1 1-1 1 0 1-1 1-3 1-6 1-8 1-8 1-7 1-3 1-1 1 0 1-2 1-7 1-8 1-9 1-12 1-20 1-25 1-31 1-34 1-37 1-45 1-63 1-88 1-100 1-104 1-106 1-109 1-110 1-109 1-108 1-97 1-74 1-60 1-29 1-2 1 26 1 54 1 63 1 74 1 88 1 94 1 88 1 75 1 59 1 42 1 22 1 9 1 0 1-9 1-20 1-32 1-58 1-83 1-92 1-91 1-91 1-86 1-61 1-23 1 8 1 28 1 39 1 42 1 56 1 85 1 99 1 98 1 96 1 93 1 88 1 66 1 48 1 29 1 6 1-21 1-26 1-25 1-22 1-25 1-19 1-5 1 10 1 17 1 15 1 16 1 18 1 17 1 10 1-12 1-30 1-38 1-40 1-56 1-40 1 6 1 24 1 27 1 27 1 30 1 31 1 27 1 19 1 9 1 6 1 6 1 7 1 5 1-3 1-10 1-16 1-14 1-13 1-14 1-18 1-17 1-10 1 2 1 8 1 13 1 13 1 11 1 10 1 8 1 7 1 6 1 2 1-3 1-5 1-7 1-8 1-9 1-11 1-10 1-7 1 4 1 18 1 28 1 34 1 36 1 38 1 34 1 31 1 25 1 20 1 16 1 14 1 8 1-8 1-13 1-12 1-11 1-10 1-11 1 0 1 8 1 6 1 3 1 4 1-1 1-4 1-4 1-5 1-7 1-8 1-8 1-8 1-5 1-3 1-3 1-3 1-3 1-2 1-2 1 0 1-1 1-1 1 1 1 3 1 6 1 7 1 5 1 4 1 3 1 9 1 16 1 16 1 17 1 18 1 17 1 17 1 18 1 17 1 15 1 10" stroke="#77AC30"/>
<path d="M0,1786l1-1 1-1 1-2 1-2 1-2 1-1 1-1 1-2 1 0 1-1 1 0 1-1 1 0 1 0 1 0 1-2 1-2 1-1 1 0 1 0 1 0 1-1 1 1 1 1 1 0 1-1 1 0 1 0 1-2 1-2 1-1 1 0 1-1 1-4 1-7 1-7 1-7 1-4 1-2 1 0 1-1 1-5 1-7 1-8 1-7 1-11 1-18 1-23 1-27 1-32 1-38 1-49 1-62 1-81 1-89 1-94 1-98 1-98 1-96 1-94 1-95 1-83 1-58 1-44 1-22 1 1 1 25 1 48 1 59 1 71 1 86 1 92 1 86 1 74 1 61 1 42 1 18 1 3 1-6 1-17 1-28 1-41 1-63 1-87 1-93 1-85 1-79 1-72 1-51 1-21 1 8 1 28 1 40 1 41 1 54 1 76 1 86 1 85 1 83 1 83 1 79 1 61 1 44 1 28 1 10 1-11 1-16 1-16 1-16 1-19 1-17 1-8 1 1 1 7 1 7 1 8 1 12 1 9 1 4 1-14 1-27 1-30 1-30 1-46 1-38 1 0 1 18 1 24 1 23 1 24 1 26 1 26 1 17 1 10 1 6 1 6 1 5 1 3 1-1 1-5 1-9 1-9 1-10 1-11 1-16 1-17 1-12 1-1 1 6 1 11 1 11 1 10 1 10 1 9 1 9 1 5 1 1 1-3 1-6 1-8 1-10 1-11 1-11 1-7 1-2 1 5 1 14 1 18 1 21 1 26 1 28 1 27 1 24 1 21 1 18 1 16 1 13 1 9 1-5 1-11 1-12 1-13 1-10 1-7 1 7 1 16 1 10 1 4 1 3 1-2 1-8 1-8 1-9 1-7 1-6 1-5 1-5 1-6 1-9 1-10 1-9 1-9 1-9 1-11 1-11 1-12 1-12 1-8 1-2 1 3 1 6 1 6 1 7 1 6 1 13 1 20 1 19 1 20 1 20 1 22 1 20 1 20 1 18 1 14 1 13" stroke="#4DBEEE"/>
<path d="M0,1731l1 1 1-1 1-1 1-1 1-1 1-1 1 1 1 1 1-2 1-2 1-2 1 1 1 3 1 3 1 1 1-1 1-3 1 0 1 1 1 2 1 0 1 0 1 0 1 1 1 3 1 0 1-2 1-4 1-4 1-2 1-2 1-3 1-5 1-10 1-11 1-11 1-6 1-2 1 5 1 6 1 4 1-3 1-7 1-9 1-10 1-14 1-19 1-24 1-27 1-29 1-34 1-48 1-67 1-93 1-106 1-112 1-114 1-117 1-118 1-121 1-120 1-111 1-90 1-74 1-35 1-5 1 27 1 61 1 72 1 82 1 94 1 102 1 95 1 80 1 60 1 38 1 20 1 8 1-1 1-8 1-18 1-30 1-62 1-89 1-96 1-95 1-95 1-91 1-69 1-26 1 11 1 36 1 47 1 49 1 67 1 101 1 114 1 112 1 105 1 100 1 91 1 69 1 51 1 34 1 9 1-18 1-25 1-26 1-24 1-27 1-21 1-6 1 10 1 18 1 20 1 21 1 22 1 17 1 5 1-18 1-34 1-38 1-36 1-51 1-36 1 10 1 26 1 31 1 30 1 30 1 31 1 30 1 22 1 14 1 8 1 7 1 5 1 3 1-3 1-8 1-12 1-13 1-16 1-17 1-22 1-21 1-15 1-3 1 4 1 10 1 12 1 12 1 10 1 6 1 5 1 5 1 3 1 0 1-5 1-6 1-6 1-7 1-12 1-12 1-8 1 2 1 14 1 22 1 23 1 26 1 30 1 32 1 28 1 25 1 21 1 19 1 19 1 11 1-9 1-15 1-16 1-19 1-20 1-19 1 1 1 15 1 12 1 7 1 6 1-2 1-8 1-13 1-16 1-14 1-13 1-11 1-10 1-12 1-13 1-15 1-12 1-8 1-5 1-4 1-3 1-6 1-9 1-5 1 3 1 8 1 10 1 9 1 7 1 6 1 12 1 20 1 21 1 22 1 22 1 23 1 24 1 25 1 25 1 20 1 13" stroke="#A2142F"/>
<path d="M0,1756l1 1 1 2 1 2 1 0 1 0 1 0 1 0 1-2 1-3 1 0 1 0 1 0 1-3 1-3 1-3 1-2 1-1 1-1 1 1 1 2 1 3 1 3 1 1 1 1 1-1 1 0 1-2 1-2 1-2 1-3 1-2 1-3 1-3 1-7 1-9 1-9 1-6 1-2 1 2 1 2 1 0 1-4 1-6 1-8 1-8 1-13 1-20 1-25 1-27 1-29 1-33 1-44 1-64 1-87 1-99 1-104 1-106 1-107 1-105 1-104 1-101 1-89 1-65 1-51 1-23 1 3 1 31 1 55 1 63 1 73 1 85 1 94 1 91 1 78 1 63 1 46 1 25 1 9 1 0 1-10 1-22 1-35 1-59 1-82 1-86 1-80 1-77 1-72 1-50 1-18 1 10 1 28 1 40 1 44 1 57 1 81 1 88 1 86 1 83 1 82 1 77 1 59 1 39 1 24 1 6 1-11 1-14 1-14 1-13 1-16 1-15 1-6 1 6 1 13 1 12 1 12 1 14 1 14 1 9 1-4 1-17 1-22 1-23 1-39 1-31 1 2 1 14 1 20 1 22 1 24 1 23 1 20 1 13 1 9 1 5 1 4 1 2 1 0 1-2 1-4 1-4 1-4 1-1 1-1 1-6 1-10 1-9 1-3 1 1 1 1 1 2 1 3 1 4 1 3 1 2 1 1 1 0 1 1 1 1 1 1 1 0 1-2 1-3 1-3 1-2 1 4 1 9 1 13 1 16 1 20 1 21 1 20 1 16 1 14 1 13 1 11 1 11 1 6 1-5 1-8 1-7 1-4 1-2 1-2 1 5 1 8 1 6 1 5 1 6 1 0 1-3 1-1 1-2 1-4 1-6 1-8 1-8 1-7 1-7 1-7 1-8 1-9 1-12 1-12 1-11 1-9 1-8 1-7 1-4 1-2 1 0 1 4 1 5 1 4 1 10 1 14 1 13 1 13 1 14 1 15 1 17 1 17 1 16 1 12 1 9" stroke="#0072BD"/>
<path d="M0,1766l1-3 1-3 1 0 1 1 1 3 1 3 1 1 1-2 1-3 1-1 1-1 1 0 1 1 1 0 1-1 1 0 1 1 1 2 1 0 1-1 1-3 1-2 1-2 1-1 1-2 1-3 1-2 1 1 1 1 1 0 1-1 1-2 1-2 1-5 1-7 1-8 1-7 1-3 1 4 1 5 1 3 1-3 1-6 1-9 1-11 1-16 1-20 1-24 1-28 1-30 1-36 1-45 1-61 1-84 1-94 1-94 1-95 1-97 1-99 1-101 1-99 1-89 1-65 1-52 1-28 1-4 1 23 1 50 1 63 1 73 1 87 1 92 1 86 1 75 1 66 1 51 1 28 1 11 1-1 1-13 1-23 1-34 1-56 1-81 1-88 1-82 1-76 1-68 1-46 1-14 1 13 1 31 1 40 1 40 1 50 1 72 1 81 1 82 1 82 1 81 1 77 1 59 1 43 1 27 1 10 1-8 1-11 1-13 1-14 1-18 1-14 1-6 1 7 1 12 1 12 1 11 1 10 1 8 1 1 1-13 1-24 1-30 1-31 1-43 1-32 1 4 1 17 1 22 1 22 1 23 1 22 1 20 1 14 1 7 1 3 1 1 1 0 1-1 1-4 1-5 1-6 1-7 1-10 1-12 1-16 1-15 1-11 1-1 1 5 1 6 1 7 1 4 1 3 1 2 1 3 1 3 1 2 1-3 1-5 1-6 1-5 1-4 1-8 1-9 1-9 1-1 1 9 1 16 1 20 1 21 1 23 1 22 1 20 1 20 1 19 1 19 1 18 1 14 1-1 1-7 1-9 1-11 1-13 1-13 1 0 1 10 1 6 1 2 1 1 1-4 1-9 1-10 1-8 1-7 1-7 1-6 1-6 1-7 1-6 1-8 1-7 1-7 1-8 1-9 1-10 1-11 1-10 1-8 1-3 1 2 1 4 1 6 1 4 1 5 1 13 1 18 1 17 1 17 1 18 1 19 1 19 1 20 1 19 1 16 1 15" stroke="#D95319"/>
<path d="M0,1750l1-1 1 1 1 0 1-2 1-3 1-2 1-1 1-1 1-2 1-3 1-2 1-1 1-2 1-3 1-4 1-3 1-2 1-3 1-3 1-1 1-1 1 1 1 1 1 0 1 0 1-1 1 0 1-2 1-4 1-3 1-2 1 0 1 0 1-6 1-11 1-11 1-9 1-2 1 4 1 6 1 1 1-4 1-9 1-11 1-12 1-15 1-21 1-26 1-29 1-29 1-34 1-46 1-66 1-93 1-110 1-118 1-122 1-123 1-125 1-127 1-125 1-119 1-106 1-88 1-40 1-1 1 37 1 73 1 81 1 90 1 103 1 110 1 103 1 86 1 66 1 46 1 27 1 12 1 2 1-7 1-15 1-28 1-61 1-90 1-97 1-95 1-96 1-95 1-72 1-27 1 12 1 38 1 47 1 49 1 66 1 98 1 113 1 112 1 106 1 103 1 97 1 74 1 53 1 33 1 11 1-16 1-22 1-24 1-24 1-30 1-26 1-9 1 8 1 17 1 17 1 19 1 23 1 20 1 7 1-18 1-36 1-39 1-39 1-55 1-41 1 4 1 24 1 30 1 30 1 31 1 32 1 30 1 20 1 9 1 3 1 1 1 1 1 0 1-2 1-7 1-13 1-16 1-17 1-16 1-19 1-19 1-14 1-3 1 6 1 10 1 10 1 9 1 11 1 11 1 10 1 9 1 5 1-1 1-7 1-9 1-9 1-8 1-10 1-11 1-8 1 1 1 15 1 24 1 28 1 32 1 35 1 32 1 29 1 25 1 25 1 24 1 20 1 10 1-13 1-21 1-19 1-21 1-23 1-24 1-1 1 13 1 9 1 3 1 6 1 0 1-5 1-4 1-4 1-2 1-4 1-5 1-4 1-1 1 0 1 0 1 0 1-3 1-4 1-6 1-4 1-5 1-5 1-1 1 5 1 10 1 13 1 14 1 13 1 12 1 18 1 22 1 20 1 20 1 19 1 20 1 21 1 22 1 21 1 17 1 17" stroke="#EDB120"/>
<path d="M0,1762l1 0 1 1 1 1 1 0 1 0 1-1 1 0 1 0 1 1 1 0 1 0 1-1 1 0 1 0 1 0 1-2 1-3 1-2 1-1 1 0 1 1 1 1 1 1 1 2 1 0 1-2 1-3 1-4 1-2 1-2 1-1 1 1 1 1 1-4 1-7 1-9 1-9 1-4 1 1 1 5 1 2 1-3 1-6 1-9 1-10 1-12 1-17 1-22 1-26 1-30 1-35 1-46 1-63 1-85 1-96 1-97 1-99 1-100 1-101 1-103 1-102 1-93 1-67 1-54 1-27 1-2 1 26 1 50 1 62 1 74 1 86 1 91 1 86 1 75 1 64 1 47 1 26 1 10 1-1 1-15 1-27 1-41 1-64 1-84 1-88 1-81 1-76 1-71 1-51 1-19 1 9 1 29 1 40 1 44 1 56 1 79 1 88 1 86 1 83 1 82 1 78 1 60 1 43 1 29 1 13 1-4 1-5 1-5 1-7 1-12 1-12 1-5 1 4 1 9 1 9 1 8 1 10 1 9 1 5 1-7 1-19 1-22 1-26 1-40 1-29 1 7 1 22 1 26 1 25 1 26 1 25 1 22 1 16 1 9 1 6 1 4 1 4 1 3 1 0 1-3 1-4 1-7 1-8 1-9 1-11 1-13 1-13 1-8 1-3 1 0 1 3 1 5 1 5 1 7 1 8 1 6 1 4 1 3 1 4 1 3 1 0 1-3 1-6 1-5 1-3 1 4 1 11 1 15 1 15 1 17 1 20 1 19 1 17 1 15 1 13 1 10 1 6 1 3 1-4 1-6 1-5 1-4 1 0 1 3 1 8 1 13 1 10 1 8 1 6 1-1 1-8 1-11 1-13 1-13 1-11 1-9 1-9 1-9 1-11 1-10 1-11 1-10 1-9 1-8 1-7 1-7 1-6 1-5 1-2 1 2 1 4 1 6 1 6 1 6 1 12 1 17 1 18 1 18 1 17 1 17 1 15 1 13 1 12 1 10 1 11" stroke="#7E2F8E"/>
<path d="M0,1781l1 0 1 0 1 1 1 1 1 1 1 2 1 2 1 0 1 0 1-1 1-2 1-4 1-4 1-2 1 0 1 1 1 0 1-3 1-3 1-3 1-2 1 2 1 1 1 2 1 0 1-1 1-2 1-5 1-4 1-1 1 0 1-3 1-6 1-8 1-8 1-8 1-9 1-6 1 1 1 4 1 3 1-3 1-7 1-9 1-10 1-15 1-21 1-25 1-27 1-28 1-35 1-46 1-62 1-86 1-95 1-98 1-99 1-98 1-98 1-97 1-96 1-87 1-63 1-50 1-23 1 4 1 31 1 55 1 64 1 76 1 89 1 94 1 89 1 78 1 65 1 51 1 29 1 13 1 1 1-12 1-24 1-34 1-55 1-74 1-79 1-69 1-63 1-61 1-44 1-16 1 9 1 25 1 37 1 39 1 49 1 68 1 75 1 76 1 74 1 73 1 70 1 53 1 39 1 27 1 13 1-4 1-9 1-10 1-11 1-12 1-10 1-4 1 5 1 8 1 9 1 4 1 3 1-1 1-2 1-10 1-18 1-21 1-24 1-38 1-27 1 5 1 18 1 21 1 20 1 19 1 19 1 18 1 15 1 10 1 8 1 5 1 4 1 2 1-1 1-3 1-7 1-8 1-10 1-12 1-15 1-16 1-14 1-7 1-4 1-2 1 0 1 1 1 2 1 3 1 5 1 4 1 3 1-1 1 0 1 0 1 1 1-2 1-7 1-6 1-4 1 4 1 12 1 18 1 20 1 24 1 24 1 22 1 16 1 13 1 12 1 11 1 9 1 5 1-4 1-5 1-2 1-5 1-7 1-8 1 3 1 13 1 12 1 9 1 5 1-1 1-7 1-8 1-11 1-12 1-11 1-9 1-9 1-8 1-7 1-6 1-5 1-4 1-5 1-6 1-6 1-6 1-5 1-4 1-2 1 3 1 7 1 9 1 9 1 7 1 12 1 16 1 17 1 17 1 17 1 18 1 17 1 18 1 17 1 13 1 9" stroke="#77AC30"/>
<path d="M0,1756l1-1 1-2 1-3 1-2 1-3 1 0 1 2 1 2 1 0 1 1 1 1 1 0 1 1 1 0 1 0 1 1 1 2 1 2 1 0 1-3 1-2 1 0 1 3 1 1 1-1 1-2 1-2 1 0 1 0 1 1 1 0 1 1 1-1 1-5 1-6 1-7 1-7 1-6 1-2 1 0 1 0 1-2 1-4 1-7 1-9 1-13 1-20 1-25 1-28 1-29 1-36 1-47 1-65 1-86 1-94 1-95 1-94 1-93 1-94 1-95 1-95 1-87 1-63 1-51 1-29 1-3 1 24 1 48 1 56 1 68 1 82 1 90 1 84 1 71 1 57 1 41 1 20 1 6 1-3 1-13 1-22 1-35 1-62 1-89 1-96 1-90 1-84 1-80 1-59 1-25 1 5 1 26 1 36 1 39 1 53 1 81 1 92 1 91 1 86 1 85 1 83 1 67 1 50 1 34 1 13 1-13 1-20 1-23 1-25 1-29 1-23 1-11 1 4 1 12 1 12 1 14 1 17 1 15 1 7 1-16 1-34 1-39 1-37 1-50 1-33 1 10 1 26 1 31 1 29 1 28 1 28 1 25 1 18 1 9 1 6 1 7 1 7 1 3 1-2 1-7 1-11 1-11 1-11 1-10 1-12 1-14 1-8 1 1 1 8 1 10 1 10 1 10 1 10 1 9 1 7 1 5 1 2 1 0 1-4 1-7 1-8 1-7 1-10 1-10 1-4 1 6 1 19 1 24 1 23 1 22 1 21 1 20 1 20 1 21 1 19 1 18 1 16 1 9 1-6 1-9 1-7 1-7 1-7 1-7 1 6 1 16 1 12 1 7 1 6 1-1 1-8 1-9 1-9 1-9 1-11 1-12 1-12 1-14 1-14 1-14 1-12 1-11 1-10 1-9 1-9 1-10 1-10 1-7 1-1 1 3 1 5 1 8 1 8 1 7 1 14 1 20 1 19 1 15 1 13 1 12 1 15 1 15 1 16 1 12 1 13" stroke="#4DBEEE"/>
<path d="M0,1732l1 0 1 1 1 0 1 1 1 0 1 0 1-1 1-2 1 0 1 1 1 1 1 1 1 1 1 0 1 1 1 1 1 0 1-2 1-3 1-3 1-1 1-2 1-1 1 0 1 1 1 1 1-1 1-3 1-3 1-3 1-1 1-1 1-2 1-7 1-8 1-8 1-6 1-3 1 0 1 3 1 4 1 1 1-5 1-9 1-10 1-14 1-18 1-23 1-25 1-29 1-35 1-47 1-65 1-90 1-102 1-107 1-110 1-111 1-112 1-113 1-111 1-101 1-79 1-65 1-33 1-3 1 28 1 58 1 68 1 78 1 91 1 96 1 89 1 74 1 59 1 41 1 21 1 8 1-1 1-10 1-21 1-36 1-66 1-91 1-97 1-95 1-95 1-91 1-68 1-29 1 6 1 28 1 40 1 41 1 58 1 90 1 105 1 104 1 101 1 102 1 98 1 74 1 52 1 34 1 9 1-19 1-29 1-31 1-29 1-34 1-28 1-9 1 10 1 19 1 19 1 21 1 23 1 18 1 6 1-22 1-41 1-46 1-44 1-61 1-44 1 7 1 30 1 36 1 34 1 32 1 33 1 34 1 25 1 12 1 7 1 7 1 8 1 7 1 1 1-8 1-13 1-15 1-14 1-13 1-17 1-19 1-14 1-4 1 4 1 8 1 8 1 8 1 9 1 10 1 10 1 10 1 8 1 3 1 1 1-2 1-3 1-2 1-4 1-6 1-4 1 5 1 19 1 26 1 28 1 29 1 29 1 27 1 22 1 20 1 20 1 20 1 18 1 11 1-6 1-13 1-12 1-11 1-10 1-11 1 4 1 13 1 9 1 1 1 1 1-4 1-8 1-6 1-5 1-1 1 0 1 2 1 0 1-2 1-4 1-5 1-6 1-8 1-10 1-10 1-11 1-11 1-10 1-7 1-1 1 4 1 8 1 8 1 9 1 9 1 16 1 21 1 19 1 18 1 19 1 20 1 19 1 18 1 16 1 9 1 6" stroke="#A2142F"/>
<path d="M0,1756l1 0 1 0 1 2 1 1 1 0 1-1 1-2 1-2 1-1 1-1 1-1 1 0 1 1 1 1 1-1 1-1 1-3 1-3 1-3 1-2 1-1 1-2 1 1 1 1 1 2 1 1 1 1 1-1 1-1 1-3 1-5 1-3 1-2 1-3 1-6 1-8 1-9 1-5 1 1 1 2 1-1 1-5 1-7 1-7 1-6 1-11 1-18 1-24 1-29 1-31 1-36 1-48 1-67 1-92 1-104 1-108 1-109 1-110 1-110 1-110 1-108 1-97 1-75 1-62 1-30 1-3 1 27 1 57 1 69 1 80 1 92 1 96 1 91 1 79 1 63 1 42 1 21 1 7 1-2 1-12 1-22 1-32 1-59 1-84 1-92 1-91 1-89 1-86 1-63 1-25 1 10 1 34 1 48 1 49 1 64 1 90 1 102 1 101 1 97 1 94 1 89 1 67 1 47 1 30 1 8 1-17 1-25 1-25 1-24 1-27 1-21 1-7 1 9 1 17 1 16 1 14 1 15 1 13 1 6 1-13 1-29 1-33 1-31 1-44 1-29 1 10 1 25 1 29 1 26 1 26 1 26 1 23 1 16 1 9 1 7 1 6 1 4 1 1 1 0 1-4 1-8 1-11 1-13 1-12 1-14 1-12 1-8 1-1 1 4 1 6 1 6 1 6 1 6 1 9 1 11 1 10 1 7 1 3 1 1 1 0 1-3 1-5 1-8 1-5 1 0 1 12 1 21 1 26 1 26 1 27 1 28 1 27 1 22 1 18 1 13 1 11 1 9 1 4 1-5 1-9 1-6 1-3 1-3 1-1 1 8 1 14 1 11 1 8 1 6 1 0 1-6 1-5 1-4 1-6 1-8 1-10 1-9 1-8 1-9 1-11 1-11 1-10 1-6 1-5 1-5 1-3 1-3 1 0 1 2 1 1 1 0 1-1 1-1 1 0 1 5 1 11 1 11 1 12 1 12 1 13 1 14 1 14 1 15 1 13 1 13" stroke="#0072BD"/>
<path d="M0,1792l1 0 1 0 1 0 1-1 1-3 1-3 1-1 1 1 1 3 1 1 1-2 1-2 1 0 1 0 1 1 1 1 1 1 1 3 1 1 1 0 1-1 1-1 1-1 1 0 1 0 1-1 1 0 1 0 1 0 1-2 1-4 1-4 1-5 1-5 1-6 1-4 1-2 1-1 1 0 1 0 1-1 1-4 1-6 1-8 1-10 1-15 1-19 1-24 1-27 1-32 1-37 1-50 1-66 1-87 1-92 1-93 1-94 1-96 1-99 1-98 1-96 1-82 1-56 1-44 1-26 1-5 1 19 1 42 1 52 1 66 1 81 1 87 1 83 1 71 1 59 1 43 1 21 1 5 1-5 1-16 1-24 1-35 1-57 1-83 1-91 1-86 1-84 1-78 1-56 1-23 1 7 1 28 1 40 1 43 1 57 1 82 1 90 1 86 1 83 1 83 1 81 1 64 1 45 1 27 1 8 1-14 1-18 1-17 1-15 1-17 1-13 1-3 1 6 1 10 1 11 1 12 1 13 1 10 1 4 1-12 1-25 1-30 1-30 1-42 1-28 1 9 1 23 1 26 1 25 1 25 1 24 1 21 1 15 1 5 1 2 1 3 1 4 1 5 1 4 1 2 1 0 1 0 1-3 1-5 1-10 1-12 1-9 1-2 1-1 1 0 1 1 1 2 1 6 1 7 1 5 1 2 1-1 1-2 1-4 1-7 1-8 1-10 1-11 1-10 1-5 1 5 1 14 1 20 1 21 1 25 1 31 1 31 1 26 1 20 1 18 1 15 1 14 1 9 1-5 1-9 1-10 1-11 1-13 1-12 1 0 1 7 1 8 1 6 1 6 1 0 1-7 1-6 1-7 1-6 1-8 1-6 1-6 1-6 1-5 1-5 1-3 1-2 1-3 1-4 1-4 1-6 1-6 1-6 1-2 1 2 1 5 1 6 1 5 1 4 1 9 1 12 1 14 1 15 1 17 1 17 1 15 1 16 1 17 1 16 1 16" stroke="#D95319"/>
<path d="M0,1739l1 2 1 1 1 1 1-1 1-2 1-1 1-2 1-2 1-1 1-2 1 0 1 1 1 1 1 1 1-1 1-2 1-3 1-3 1 0 1 1 1 0 1 1 1 2 1 1 1 1 1 0 1-1 1-2 1-2 1-3 1-3 1-2 1-4 1-7 1-10 1-10 1-7 1-4 1 0 1 2 1 0 1-3 1-6 1-9 1-9 1-15 1-21 1-26 1-29 1-32 1-37 1-49 1-67 1-92 1-106 1-110 1-114 1-116 1-117 1-116 1-115 1-109 1-94 1-78 1-35 1 0 1 33 1 67 1 76 1 85 1 96 1 102 1 96 1 81 1 65 1 45 1 25 1 9 1-2 1-10 1-17 1-28 1-59 1-89 1-97 1-96 1-97 1-92 1-67 1-24 1 13 1 36 1 49 1 51 1 68 1 100 1 111 1 109 1 104 1 102 1 95 1 72 1 51 1 31 1 8 1-17 1-24 1-23 1-21 1-21 1-16 1-4 1 10 1 14 1 13 1 12 1 14 1 10 1 2 1-18 1-32 1-35 1-34 1-49 1-35 1 9 1 29 1 35 1 34 1 34 1 31 1 26 1 17 1 8 1 5 1 6 1 6 1 6 1 2 1-3 1-8 1-10 1-8 1-8 1-11 1-14 1-10 1-3 1 4 1 7 1 8 1 7 1 7 1 5 1 5 1 4 1 3 1 2 1-1 1-3 1-3 1-3 1-4 1-4 1-2 1 5 1 12 1 18 1 19 1 21 1 23 1 23 1 20 1 19 1 16 1 13 1 11 1 7 1-6 1-10 1-9 1-10 1-11 1-10 1 1 1 9 1 8 1 4 1 4 1-2 1-8 1-7 1-6 1-6 1-5 1-5 1-5 1-7 1-7 1-8 1-7 1-8 1-9 1-9 1-10 1-12 1-10 1-9 1-3 1 2 1 5 1 7 1 8 1 7 1 14 1 18 1 17 1 16 1 15 1 15 1 17 1 19 1 20 1 14 1 12" stroke="#EDB120"/>
<path d="M0,1789l1 0 1 0 1 0 1 0 1-1 1-2 1-1 1-2 1-1 1 0 1 0 1 0 1 2 1 3 1 2 1-1 1-2 1-1 1 1 1 2 1 1 1-1 1-3 1-2 1 1 1 1 1-1 1-2 1-1 1-1 1 0 1-1 1-3 1-7 1-9 1-7 1-4 1-1 1 0 1-1 1-2 1-4 1-6 1-7 1-7 1-11 1-15 1-21 1-26 1-31 1-36 1-46 1-62 1-84 1-91 1-90 1-89 1-88 1-88 1-88 1-88 1-76 1-48 1-36 1-20 1-1 1 21 1 40 1 49 1 62 1 76 1 82 1 78 1 70 1 62 1 50 1 26 1 8 1-2 1-14 1-25 1-37 1-58 1-79 1-87 1-79 1-71 1-64 1-43 1-16 1 10 1 27 1 41 1 43 1 53 1 71 1 79 1 77 1 75 1 70 1 66 1 49 1 34 1 23 1 9 1-5 1-10 1-10 1-13 1-13 1-12 1-4 1 5 1 9 1 7 1 4 1 4 1 2 1 1 1-9 1-18 1-21 1-23 1-36 1-26 1 6 1 19 1 25 1 25 1 26 1 24 1 21 1 15 1 9 1 4 1 2 1-1 1-3 1-3 1-5 1-5 1-5 1-5 1-6 1-12 1-14 1-12 1-7 1-3 1 1 1 4 1 5 1 6 1 7 1 7 1 5 1 4 1 1 1 0 1-2 1-2 1-3 1-5 1-7 1-2 1 5 1 12 1 17 1 19 1 22 1 24 1 22 1 20 1 17 1 16 1 12 1 11 1 8 1 0 1-5 1-5 1-4 1-3 1-3 1 2 1 4 1 2 1 0 1-1 1-4 1-8 1-5 1-4 1-5 1-5 1-6 1-8 1-7 1-7 1-7 1-6 1-5 1-3 1-1 1-1 1 0 1 1 1 1 1 1 1 2 1 2 1 3 1 3 1 3 1 4 1 6 1 4 1 6 1 8 1 10 1 12 1 13 1 13 1 13 1 14" stroke="#7E2F8E"/>
<path d="M0,1759l1-1 1-1 1 0 1 0 1 0 1-1 1 0 1 2 1 4 1 2 1 0 1-3 1-2 1 0 1-1 1-1 1-2 1-2 1-1 1-1 1-2 1-2 1-2 1-1 1 3 1 4 1 3 1-1 1-3 1-4 1-1 1 0 1-1 1-5 1-7 1-9 1-8 1-6 1-2 1 1 1 2 1-1 1-4 1-6 1-6 1-13 1-21 1-27 1-29 1-30 1-33 1-43 1-61 1-87 1-100 1-104 1-106 1-104 1-104 1-105 1-104 1-94 1-69 1-53 1-27 1-2 1 27 1 53 1 65 1 77 1 90 1 96 1 89 1 76 1 65 1 47 1 23 1 5 1-5 1-14 1-25 1-38 1-63 1-85 1-90 1-85 1-83 1-78 1-55 1-17 1 13 1 30 1 38 1 41 1 57 1 83 1 92 1 92 1 90 1 88 1 82 1 61 1 44 1 27 1 9 1-14 1-20 1-21 1-21 1-25 1-20 1-9 1 5 1 11 1 14 1 15 1 19 1 18 1 9 1-10 1-23 1-26 1-27 1-44 1-36 1 2 1 19 1 23 1 22 1 23 1 20 1 18 1 11 1 3 1 1 1 4 1 4 1 3 1-1 1-5 1-8 1-12 1-13 1-14 1-17 1-16 1-10 1 0 1 6 1 7 1 9 1 8 1 9 1 8 1 5 1 2 1-2 1-4 1-7 1-7 1-7 1-9 1-12 1-11 1-3 1 7 1 19 1 24 1 24 1 26 1 27 1 27 1 26 1 26 1 25 1 21 1 18 1 10 1-9 1-17 1-19 1-20 1-19 1-16 1 0 1 13 1 8 1 3 1 2 1-6 1-10 1-11 1-9 1-7 1-5 1-3 1-3 1-4 1-4 1-6 1-9 1-12 1-12 1-13 1-11 1-8 1-6 1-3 1 4 1 10 1 14 1 14 1 9 1 5 1 10 1 15 1 16 1 16 1 19 1 19 1 21 1 23 1 24 1 19 1 15" stroke="#77AC30"/>
<path d="M0,1774l1 1 1-1 1-2 1-1 1-1 1 0 1 2 1 2 1 0 1 1 1 0 1 0 1-2 1-3 1-2 1-1 1 1 1 1 1 2 1 2 1 0 1-1 1-2 1-1 1-1 1-3 1-3 1-3 1-2 1-4 1-4 1-5 1-4 1-5 1-7 1-7 1-5 1 0 1 3 1 4 1 1 1-4 1-8 1-11 1-11 1-14 1-20 1-25 1-28 1-30 1-35 1-45 1-61 1-85 1-97 1-102 1-103 1-106 1-107 1-108 1-106 1-97 1-75 1-64 1-34 1-4 1 27 1 56 1 66 1 78 1 91 1 97 1 91 1 79 1 67 1 49 1 25 1 9 1-3 1-13 1-24 1-38 1-63 1-86 1-91 1-86 1-86 1-81 1-57 1-21 1 11 1 31 1 42 1 43 1 57 1 82 1 92 1 94 1 91 1 88 1 82 1 62 1 44 1 29 1 8 1-12 1-16 1-18 1-20 1-23 1-22 1-9 1 5 1 14 1 14 1 15 1 15 1 13 1 8 1-9 1-25 1-31 1-31 1-46 1-34 1 5 1 19 1 25 1 24 1 26 1 26 1 24 1 19 1 10 1 6 1 3 1 2 1 1 1-1 1-5 1-8 1-12 1-15 1-18 1-22 1-20 1-13 1-2 1 2 1 5 1 8 1 8 1 9 1 6 1 3 1 2 1 0 1-3 1-5 1-6 1-5 1-7 1-11 1-9 1-6 1 2 1 12 1 20 1 25 1 30 1 31 1 32 1 28 1 28 1 26 1 24 1 21 1 12 1-7 1-12 1-12 1-12 1-12 1-14 1 2 1 10 1 8 1 2 1 0 1-7 1-9 1-8 1-8 1-7 1-6 1-5 1-7 1-9 1-10 1-9 1-6 1-5 1-4 1-7 1-5 1-4 1-2 1-1 1 4 1 7 1 9 1 11 1 10 1 10 1 15 1 20 1 19 1 20 1 22 1 22 1 19 1 17 1 14 1 8 1 6" stroke="#4DBEEE"/>
<path d="M0,1744l1-2 1-2 1 0 1 1 1 1 1 1 1 0 1-2 1-1 1-2 1-2 1-1 1-1 1 1 1 1 1 1 1 1 1 1 1-1 1-1 1-2 1-2 1 0 1 0 1 1 1-1 1-2 1-4 1-3 1-1 1-1 1-1 1-2 1-4 1-5 1-6 1-5 1-3 1 1 1 1 1-2 1-5 1-6 1-8 1-7 1-13 1-21 1-28 1-30 1-32 1-37 1-50 1-71 1-97 1-109 1-110 1-114 1-117 1-122 1-123 1-124 1-116 1-102 1-87 1-45 1-10 1 27 1 63 1 74 1 85 1 99 1 106 1 98 1 80 1 60 1 39 1 21 1 7 1-4 1-13 1-23 1-36 1-67 1-95 1-103 1-105 1-107 1-102 1-73 1-27 1 16 1 41 1 54 1 57 1 76 1 109 1 121 1 117 1 110 1 109 1 103 1 80 1 58 1 36 1 9 1-23 1-33 1-34 1-31 1-30 1-22 1-3 1 14 1 20 1 20 1 21 1 26 1 22 1 10 1-16 1-36 1-42 1-41 1-56 1-40 1 10 1 29 1 34 1 31 1 32 1 34 1 34 1 25 1 12 1 6 1 4 1 4 1 1 1-2 1-8 1-12 1-13 1-13 1-15 1-20 1-20 1-14 1-1 1 7 1 10 1 10 1 8 1 8 1 10 1 11 1 12 1 8 1 1 1-4 1-5 1-5 1-5 1-8 1-8 1-5 1 3 1 15 1 21 1 24 1 28 1 31 1 30 1 25 1 23 1 21 1 22 1 20 1 14 1-8 1-18 1-20 1-19 1-14 1-9 1 11 1 23 1 20 1 14 1 11 1 7 1 0 1-3 1-4 1-6 1-6 1-7 1-7 1-6 1-4 1-4 1-4 1-4 1-6 1-8 1-9 1-8 1-7 1-3 1 1 1 4 1 3 1 4 1 4 1 5 1 12 1 17 1 17 1 17 1 17 1 15 1 13 1 13 1 15 1 12 1 12" stroke="#A2142F"/>
<path d="M0,1775l1 1 1-1 1-1 1-1 1 1 1 2 1 0 1-1 1-1 1 0 1-1 1 0 1-1 1-1 1-1 1 0 1 1 1 0 1 0 1-1 1-1 1-1 1 1 1 0 1 2 1 2 1 2 1 2 1 1 1-1 1-2 1 0 1-1 1-2 1-6 1-7 1-6 1-5 1-2 1 0 1 1 1-1 1-6 1-9 1-12 1-14 1-19 1-23 1-28 1-31 1-36 1-45 1-62 1-82 1-87 1-84 1-83 1-83 1-84 1-88 1-90 1-78 1-49 1-38 1-25 1-4 1 19 1 41 1 53 1 66 1 79 1 83 1 79 1 71 1 64 1 53 1 30 1 11 1-2 1-15 1-27 1-38 1-58 1-80 1-85 1-77 1-70 1-62 1-43 1-14 1 9 1 21 1 31 1 32 1 46 1 69 1 77 1 76 1 73 1 71 1 67 1 52 1 37 1 24 1 7 1-8 1-11 1-13 1-15 1-18 1-16 1-8 1 4 1 10 1 8 1 6 1 6 1 5 1 3 1-8 1-18 1-21 1-24 1-40 1-30 1 4 1 17 1 22 1 22 1 21 1 19 1 18 1 13 1 6 1 2 1 4 1 4 1 3 1 0 1-2 1-4 1-5 1-8 1-9 1-12 1-12 1-8 1-1 1 2 1 7 1 8 1 6 1 6 1 5 1 5 1 4 1 1 1-2 1-2 1-4 1-3 1-3 1-2 1-2 1 0 1 5 1 14 1 20 1 23 1 24 1 23 1 21 1 19 1 18 1 16 1 13 1 9 1 5 1-3 1-6 1-6 1-3 1-1 1 3 1 9 1 9 1 6 1 4 1 4 1-3 1-9 1-11 1-11 1-11 1-10 1-9 1-8 1-9 1-11 1-10 1-10 1-10 1-11 1-10 1-9 1-7 1-3 1-1 1 2 1 4 1 6 1 7 1 8 1 6 1 11 1 13 1 12 1 13 1 14 1 14 1 14 1 13 1 12 1 10 1 10" stroke="#0072BD"/>
<path d="M0,1724l1-16 1-3 1 1 1-5 1 0 1 7 1-6 1-6 1 2 1 4 1 8 1-4 1-11 1 5 1 3 1-1 1 0 1-1 1-10 1-3 1 9 1 0 1 4 1 2 1-4 1-8 1-3 1-7 1-10 1 7 1 12 1-1 1-4 1-11 1-7 1-8 1-13 1-5 1 4 1 2 1-5 1-4 1-8 1-5 1-8 1-20 1-22 1-19 1 11 1-31 1-36 1-47 1-67 1-94 1-107 1-113 1-117 1-119 1-120 1-122 1-120 1-112 1-97 1-79 1-38 1-3 1 31 1 66 1 76 1 86 1 98 1 104 1 97 1 81 1 61 1 41 1 23 1 9 1-1 1-11 1-19 1-33 1-62 1-89 1-96 1-96 1-98 1-95 1-69 1-27 1 13 1 36 1 47 1 48 1 65 1 98 1 112 1 111 1 105 1 103 1 97 1 74 1 53 1 34 1 9 1-19 1-27 1-28 1-26 1-28 1-23 1-5 1 12 1 19 1 20 1 20 1 23 1 20 1 8 1-16 1-35 1-39 1-40 1-55 1-40 1 7 1 27 1 33 1 32 1 33 1 32 1 29 1 20 1 9 1 6 1 5 1 6 1 3 1 0 1-6 1-9 1-10 1-12 1-12 1-16 1-16 1-12 1 0 1 5 1 8 1 9 1 8 1 8 1 9 1 8 1 7 1 3 1-2 1-5 1-6 1-6 1-6 1-9 1-8 1-4 1 5 1 16 1 23 1 25 1 28 1 29 1 28 1 24 1 21 1 20 1 18 1 16 1 10 1-8 1-16 1-16 1-16 1-16 1-15 1 2 1 13 1 11 1 7 1 5 1-1 1-8 1-9 1-9 1-8 1-7 1-8 1-7 1-7 1-8 1-8 1-9 1-10 1-11 1-10 1-10 1-11 1-11 1-7 1 1 1 7 1 10 1 11 1 9 1 8 1 15 1 21 1 21 1 21 1 21 1 20 1 21 1 21 1 20 1 15 1 11" stroke="#7E2F8E"/>
<path d="M0,1744l1-1 1 0 1-1 1 0 1-1 1 0 1-1 1-1 1 0 1-1 1 0 1-1 1-1 1 0 1-1 1-1 1 0 1-1 1-1 1-1 1-1 1-1 1-1 1 0 1-1 1-1 1-2 1-1 1-2 1-2 1-2 1-3 1-3 1-7 1-9 1-9 1-8 1-4 1 2 1 3 1 2 1-3 1-6 1-9 1-11 1-15 1-20 1-26 1-28 1-32 1-35 1-48 1-68 1-94 1-108 1-115 1-118 1-121 1-122 1-124 1-122 1-115 1-99 1-82 1-39 1-4 1 32 1 68 1 77 1 88 1 99 1 106 1 98 1 81 1 61 1 41 1 23 1 9 1-1 1-11 1-19 1-32 1-62 1-90 1-97 1-97 1-100 1-97 1-71 1-27 1 13 1 37 1 48 1 48 1 67 1 99 1 114 1 113 1 107 1 105 1 99 1 75 1 54 1 34 1 9 1-19 1-29 1-29 1-26 1-30 1-23 1-5 1 12 1 20 1 21 1 21 1 25 1 20 1 8 1-16 1-36 1-41 1-40 1-57 1-41 1 7 1 28 1 34 1 32 1 34 1 32 1 30 1 20 1 10 1 5 1 6 1 6 1 4 1-1 1-5 1-10 1-11 1-11 1-12 1-17 1-17 1-11 1-1 1 6 1 8 1 9 1 9 1 8 1 9 1 9 1 7 1 3 1-2 1-5 1-7 1-6 1-6 1-9 1-9 1-4 1 5 1 16 1 24 1 25 1 28 1 30 1 28 1 25 1 22 1 20 1 18 1 17 1 10 1-9 1-17 1-16 1-17 1-17 1-16 1 2 1 14 1 12 1 6 1 5 1-1 1-7 1-9 1-10 1-8 1-7 1-8 1-7 1-6 1-3 1 1 1 7 1 11 1 6 1-6 1-19 1-17 1 11 1 51 1 58 1 5 1-54 1-60 1-31 1-7 1 12 1 21 1 21 1 22 1 21 1 21 1 22 1 21 1 20 1 15 1 12" stroke="#0072BD"/>
</g>
<path d="M386.20,1.02V180.20" stroke="#767676" stroke-width="1.75"/>
<path d="M385.32,1.90H680.20" stroke="#686868" stroke-width="1.75"/>
<path d="M679.60,1.02V180.20" stroke="#383838" stroke-width="1.2"/>
<path d="M385.32,179.50H680.20" stroke="#383838" stroke-width="1.4"/>
<path d="M418.61,179.50v-4.4M418.61,1.90v4.4M451.22,179.50v-4.4M451.22,1.90v4.4M483.83,179.50v-4.4M483.83,1.90v4.4M516.44,179.50v-4.4M516.44,1.90v4.4M549.06,179.50v-4.4M549.06,1.90v4.4M581.67,179.50v-4.4M581.67,1.90v4.4M614.28,179.50v-4.4M614.28,1.90v4.4M646.89,179.50v-4.4M646.89,1.90v4.4M386.20,161.00h2.8M679.60,161.00h-2.8M386.20,142.50h2.8M679.60,142.50h-2.8M386.20,124.00h2.8M679.60,124.00h-2.8M386.20,105.50h2.8M679.60,105.50h-2.8M386.20,87.00h2.8M679.60,87.00h-2.8M386.20,68.50h2.8M679.60,68.50h-2.8M386.20,50.00h2.8M679.60,50.00h-2.8M386.20,31.50h2.8M679.60,31.50h-2.8M386.20,13.00h2.8M679.60,13.00h-2.8" stroke="#404040" stroke-width="1.0"/>
<g font-size="7.0" font-weight="normal" fill="#2a2a2a" stroke="#2a2a2a" stroke-width="0.38">
<text transform="translate(386.00,189.8) scale(0.64,1)" text-anchor="middle">1900</text>
<text transform="translate(418.61,189.8) scale(0.64,1)" text-anchor="middle">1800</text>
<text transform="translate(451.22,189.8) scale(0.64,1)" text-anchor="middle">1700</text>
<text transform="translate(483.83,189.8) scale(0.64,1)" text-anchor="middle">1600</text>
<text transform="translate(516.44,189.8) scale(0.64,1)" text-anchor="middle">1500</text>
<text transform="translate(549.06,189.8) scale(0.64,1)" text-anchor="middle">1400</text>
<text transform="translate(581.67,189.8) scale(0.64,1)" text-anchor="middle">1300</text>
<text transform="translate(614.28,189.8) scale(0.64,1)" text-anchor="middle">1200</text>
<text transform="translate(646.89,189.8) scale(0.64,1)" text-anchor="middle">1100</text>
<text transform="translate(679.50,189.8) scale(0.64,1)" text-anchor="middle">1000</text>
<text transform="translate(384.6,182.02) scale(0.64,1)" text-anchor="end">0</text>
<text transform="translate(384.6,163.52) scale(0.64,1)" text-anchor="end">0.05</text>
<text transform="translate(384.6,145.02) scale(0.64,1)" text-anchor="end">0.1</text>
<text transform="translate(384.6,126.52) scale(0.64,1)" text-anchor="end">0.15</text>
<text transform="translate(384.6,108.02) scale(0.64,1)" text-anchor="end">0.2</text>
<text transform="translate(384.6,89.52) scale(0.64,1)" text-anchor="end">0.25</text>
<text transform="translate(384.6,71.02) scale(0.64,1)" text-anchor="end">0.3</text>
<text transform="translate(384.6,52.52) scale(0.64,1)" text-anchor="end">0.35</text>
<text transform="translate(384.6,34.02) scale(0.64,1)" text-anchor="end">0.4</text>
<text transform="translate(384.6,15.52) scale(0.64,1)" text-anchor="end">0.45</text>
</g>
<text transform="translate(532.0,206.4) scale(0.64,1)" text-anchor="middle" font-size="10.4" font-weight="normal" fill="#222" stroke="#222" stroke-width="0.45">Wavenumber cm <tspan dy="-4.37" dx="0.6" font-size="7.49">-1</tspan></text>
<text transform="translate(373.6,90.3) scale(0.65,1) rotate(-90)" text-anchor="middle" font-size="10.9" font-weight="bold" fill="#222">Absorbance</text>
<text transform="translate(397.4,23.6) scale(0.72,1)" font-size="12.8" fill="#222" stroke="#222" stroke-width="0.3">B</text>
<g transform="translate(20.70,0) scale(1.2920,0.1)" stroke-width="1.0">
<path d="M0,3809l1 4 1 2 1 3 1 4 1 4 1 5 1 4 1 0 1-1 1 0 1 2 1 3 1 4 1 4 1 3 1 4 1 3 1 3 1 1 1 1 1 1 1 2 1 5 1 3 1 2 1-1 1-1 1-1 1 0 1 0 1 0 1-1 1-3 1-5 1-4 1-4 1-6 1-8 1-12 1-13 1-13 1-14 1-15 1-18 1-19 1-19 1-23 1-30 1-35 1-39 1-46 1-52 1-60 1-70 1-78 1-84 1-88 1-88 1-91 1-95 1-92 1-80 1-59 1-45 1-21 1 3 1 24 1 50 1 62 1 74 1 85 1 90 1 85 1 79 1 72 1 65 1 53 1 45 1 39 1 36 1 30 1 23 1 15 1 4 1-1 1-2 1 0 1 3 1 15 1 25 1 24 1 25 1 29 1 32 1 31 1 30 1 31 1 29 1 24 1 13 1 7 1 7 1 7 1 5 1 3 1-3 1-6 1-6 1-2 1 1 1 3 1 3 1 3 1 3 1 5 1 7 1 6 1 4 1 2 1 0 1-2 1-3 1-4 1-2 1 1 1 7 1 8 1 8 1 7 1 5 1-1 1-5 1 1 1 2 1 0 1-1 1-2 1 0 1 0 1 0 1-1 1-1 1 2 1 2 1 1 1 0 1 1 1 0 1-1 1 0 1 2 1 2 1 0 1-2 1-2 1-1 1 0 1-1 1-2 1-2 1 1 1 1 1 1 1 0 1 2 1 2 1 1 1-1 1-2 1-1 1-1 1-1 1 1 1 2 1 2 1 1 1 0 1 0 1 1 1 1 1 1 1-1 1-4 1-5 1-4 1-1 1 1 1 2 1 2 1 0 1-5 1-7 1-7 1-4 1-2 1-1 1 0 1 0 1 0 1-3 1-4 1-4 1-6 1-6 1-6 1-6 1-4 1-4 1-4 1-7 1-8 1-6 1-6 1-5 1-6 1-6 1-4 1-3 1-1 1-2 1-4 1-7 1-7 1-6 1-5" stroke="#77AC30"/>
<path d="M0,3775l1 4 1 3 1 3 1 4 1 2 1 2 1 3 1 5 1 7 1 6 1 6 1 4 1 3 1 2 1 3 1 4 1 4 1 4 1 2 1 3 1 4 1 3 1 2 1-1 1 1 1 3 1 2 1 1 1-1 1-2 1-3 1-4 1-4 1-5 1-5 1-7 1-7 1-7 1-8 1-10 1-11 1-13 1-14 1-18 1-22 1-24 1-25 1-27 1-31 1-36 1-44 1-53 1-64 1-74 1-78 1-80 1-83 1-88 1-92 1-94 1-92 1-84 1-70 1-56 1-25 1 0 1 23 1 60 1 73 1 79 1 86 1 89 1 87 1 80 1 75 1 69 1 58 1 43 1 34 1 28 1 22 1 17 1 10 1-3 1-9 1-9 1-9 1-7 1 11 1 30 1 33 1 32 1 34 1 33 1 34 1 33 1 32 1 27 1 21 1 14 1 10 1 10 1 10 1 8 1 4 1-2 1-5 1-3 1-1 1 1 1 1 1 3 1 5 1 7 1 7 1 7 1 5 1 4 1 1 1-2 1-2 1-3 1-5 1-3 1 1 1 8 1 12 1 10 1 9 1 9 1 5 1 0 1-1 1 0 1 1 1 2 1 0 1-1 1 0 1 1 1 0 1-1 1-3 1-2 1 0 1 1 1 1 1 2 1 3 1 3 1 1 1 0 1 0 1 1 1 2 1 0 1 0 1-1 1 0 1 0 1 2 1 0 1-1 1-1 1 0 1 1 1 1 1 2 1 2 1 3 1 1 1 0 1-1 1 0 1 2 1 3 1 5 1 3 1 0 1-2 1-1 1-2 1-2 1-3 1-1 1 0 1 0 1 0 1 1 1-1 1-3 1-3 1-2 1-1 1-1 1-1 1-1 1-2 1-4 1-5 1-5 1-4 1-5 1-7 1-7 1-6 1-5 1-5 1-4 1-2 1-2 1-3 1-5 1-6 1-7 1-7 1-7 1-7 1-8 1-8 1-8 1-8 1-9 1-7 1-7" stroke="#4DBEEE"/>
<path d="M0,3823l1 3 1 2 1 1 1 2 1 3 1 3 1 2 1 2 1 3 1 2 1 4 1 3 1 4 1 4 1 2 1 0 1-1 1 0 1 1 1 4 1 5 1 3 1-1 1-2 1-1 1 1 1 2 1 2 1 0 1 0 1 1 1 0 1-1 1 0 1-2 1-6 1-10 1-11 1-12 1-11 1-14 1-15 1-14 1-16 1-18 1-20 1-22 1-28 1-34 1-40 1-45 1-53 1-61 1-68 1-76 1-80 1-85 1-87 1-93 1-92 1-90 1-78 1-58 1-45 1-25 1 0 1 24 1 47 1 58 1 72 1 85 1 88 1 84 1 77 1 71 1 62 1 53 1 47 1 44 1 40 1 34 1 26 1 20 1 10 1 6 1 3 1 4 1 5 1 11 1 18 1 20 1 22 1 26 1 28 1 29 1 28 1 26 1 25 1 24 1 17 1 12 1 7 1 3 1 0 1-1 1-4 1-6 1-5 1-1 1 1 1 1 1 4 1 6 1 8 1 8 1 7 1 4 1 1 1-1 1 0 1 0 1-1 1-3 1 0 1 4 1 7 1 5 1 5 1 6 1 6 1 0 1-7 1-3 1 0 1-1 1-2 1-2 1-1 1 0 1 1 1-1 1-2 1-4 1-3 1-2 1 1 1 2 1 2 1 1 1 1 1 1 1 2 1 1 1 1 1 0 1-1 1 0 1-1 1-1 1-2 1 0 1 0 1 1 1 0 1 0 1 0 1 1 1 1 1 1 1 1 1 2 1 4 1 3 1 2 1 2 1 3 1 2 1 0 1-1 1-2 1-2 1-2 1-2 1 0 1 2 1 3 1 2 1-2 1-1 1-1 1 0 1 0 1 0 1-2 1-5 1-5 1-4 1-2 1-1 1 0 1 1 1 1 1-2 1-3 1-3 1-3 1-2 1-2 1-2 1-3 1-3 1-3 1-3 1-2 1-2 1-2 1-3 1-3 1-3 1-4 1-3 1-2 1-2 1-2 1-2" stroke="#A2142F"/>
<path d="M0,3767l1 7 1 5 1 4 1 2 1 2 1 1 1 2 1 1 1 3 1 3 1 4 1 3 1 4 1 4 1 6 1 5 1 6 1 5 1 6 1 5 1 3 1 3 1 4 1 4 1 2 1 2 1 3 1 2 1 2 1-1 1-5 1-7 1-7 1-7 1-4 1-2 1-3 1-7 1-9 1-11 1-10 1-11 1-13 1-17 1-21 1-24 1-26 1-30 1-35 1-37 1-42 1-49 1-59 1-72 1-79 1-82 1-86 1-87 1-92 1-94 1-90 1-80 1-63 1-51 1-26 1 0 1 22 1 53 1 65 1 76 1 85 1 89 1 87 1 81 1 75 1 66 1 54 1 42 1 37 1 33 1 29 1 22 1 14 1 3 1-4 1-5 1-5 1-3 1 12 1 24 1 25 1 25 1 29 1 33 1 33 1 32 1 31 1 28 1 23 1 14 1 7 1 5 1 5 1 4 1 2 1 0 1-3 1-4 1-1 1 1 1 2 1 2 1 4 1 5 1 6 1 8 1 7 1 4 1 0 1-4 1-4 1-5 1-7 1-6 1 0 1 8 1 11 1 7 1 8 1 9 1 5 1 0 1 2 1 2 1 2 1 0 1 0 1 0 1-1 1-3 1-3 1-4 1-2 1 0 1 2 1 2 1 2 1 2 1 1 1 0 1 1 1 1 1 1 1 0 1 0 1 1 1 2 1 2 1-1 1-3 1-4 1-2 1 1 1 0 1 1 1 0 1 2 1 3 1 1 1-1 1-2 1 0 1 1 1 2 1 2 1 3 1 4 1 3 1 2 1-1 1-3 1-4 1-1 1 0 1-1 1-3 1-2 1 0 1 2 1 1 1-1 1-3 1-4 1-5 1-5 1-3 1-3 1-2 1-3 1-5 1-6 1-5 1-5 1-7 1-7 1-7 1-7 1-6 1-6 1-7 1-8 1-9 1-9 1-7 1-6 1-6 1-5 1-5 1-5 1-7 1-8 1-8 1-7 1-8 1-8" stroke="#0072BD"/>
<path d="M0,3783l1 5 1 5 1 6 1 4 1 3 1 1 1 1 1 3 1 4 1 4 1 4 1 4 1 5 1 4 1 2 1 1 1 1 1 3 1 4 1 5 1 6 1 5 1 4 1 2 1 1 1-1 1-1 1-1 1-1 1-2 1-3 1-3 1-2 1-2 1-4 1-5 1-7 1-9 1-12 1-13 1-13 1-12 1-14 1-18 1-22 1-21 1-22 1-26 1-32 1-40 1-46 1-54 1-62 1-73 1-79 1-83 1-85 1-87 1-92 1-94 1-92 1-83 1-67 1-52 1-21 1 2 1 23 1 57 1 71 1 78 1 84 1 85 1 85 1 80 1 75 1 67 1 55 1 45 1 39 1 35 1 26 1 15 1 6 1-5 1-10 1-10 1-10 1-8 1 11 1 31 1 32 1 31 1 31 1 32 1 35 1 36 1 35 1 30 1 22 1 12 1 8 1 8 1 8 1 5 1 3 1-2 1-3 1-3 1 0 1 3 1 6 1 7 1 7 1 7 1 6 1 6 1 3 1 0 1-2 1-2 1-3 1-3 1-6 1-4 1 0 1 9 1 12 1 10 1 9 1 9 1 5 1 1 1 0 1 1 1 1 1 1 1-1 1-2 1-1 1 0 1-1 1-3 1-2 1 0 1 3 1 2 1 0 1 0 1 0 1 1 1 1 1 0 1 0 1 0 1 1 1 2 1 3 1-1 1-3 1-3 1 0 1 2 1 3 1 2 1 3 1 3 1 2 1 1 1 0 1 1 1 0 1 0 1 2 1 3 1 2 1 2 1 2 1 2 1 2 1 1 1 0 1-1 1-1 1-1 1 1 1 1 1-1 1-1 1-2 1-2 1-3 1-2 1-4 1-4 1-3 1-1 1 2 1 3 1 1 1-3 1-5 1-7 1-7 1-4 1-2 1 0 1-1 1-2 1-2 1-1 1-2 1-3 1-5 1-3 1-2 1 0 1 1 1 1 1 0 1-2 1-2 1-2 1-2 1-3 1-4" stroke="#D95319"/>
<path d="M0,3816l1 2 1 3 1 4 1 6 1 5 1 2 1 0 1 1 1 4 1 3 1 1 1 0 1 1 1 4 1 5 1 3 1 3 1 1 1 1 1 3 1 5 1 3 1 2 1 1 1 0 1-1 1 0 1 1 1 0 1-1 1-2 1-1 1-1 1-2 1-2 1-4 1-5 1-8 1-11 1-15 1-16 1-15 1-14 1-14 1-16 1-19 1-23 1-31 1-36 1-39 1-44 1-53 1-63 1-74 1-80 1-82 1-81 1-81 1-88 1-91 1-91 1-80 1-59 1-45 1-26 1 1 1 24 1 47 1 58 1 71 1 84 1 87 1 83 1 77 1 75 1 67 1 56 1 49 1 44 1 39 1 31 1 24 1 18 1 8 1 1 1 0 1 3 1 8 1 16 1 21 1 22 1 22 1 26 1 29 1 29 1 26 1 25 1 26 1 23 1 16 1 9 1 4 1 3 1 3 1 1 1-1 1-5 1-5 1-1 1 2 1 3 1 2 1 4 1 7 1 7 1 5 1 2 1 0 1 0 1 1 1 1 1 0 1-3 1-1 1 6 1 8 1 6 1 4 1 6 1 6 1-1 1-6 1-2 1-1 1 0 1-1 1 0 1 1 1 0 1-1 1-1 1-1 1-2 1-2 1-1 1 0 1 2 1 1 1 1 1 0 1 0 1 0 1 0 1 0 1 0 1 1 1 0 1 0 1 0 1 0 1-1 1 0 1-1 1-1 1 1 1 4 1 5 1 4 1 2 1 0 1 1 1 3 1 2 1 1 1 0 1 0 1 1 1 0 1-1 1-1 1 0 1 0 1-1 1-3 1-1 1 1 1 0 1-4 1-5 1-2 1-1 1 0 1-3 1-3 1-4 1-2 1 1 1 1 1 1 1-1 1-2 1-4 1-3 1-2 1-1 1-1 1 0 1-1 1-2 1-5 1-6 1-3 1-2 1-1 1-1 1-3 1-2 1-3 1-3 1-4 1-4 1-2 1-2 1-1 1-2" stroke="#EDB120"/>
<path d="M0,3796l1 4 1 5 1 4 1 3 1 1 1 1 1 3 1 4 1 5 1 4 1 3 1 4 1 5 1 4 1 3 1 1 1 1 1 1 1 2 1 1 1 2 1 3 1 4 1 4 1 1 1 1 1 0 1 0 1-1 1-2 1-2 1-4 1-5 1-5 1-4 1-4 1-6 1-7 1-11 1-12 1-13 1-11 1-12 1-16 1-19 1-23 1-24 1-29 1-33 1-37 1-44 1-52 1-62 1-73 1-80 1-83 1-84 1-85 1-90 1-91 1-90 1-81 1-63 1-51 1-24 1 2 1 26 1 54 1 65 1 73 1 82 1 88 1 87 1 82 1 76 1 66 1 54 1 44 1 39 1 37 1 32 1 24 1 17 1 9 1 5 1 6 1 6 1 7 1 14 1 19 1 20 1 21 1 25 1 29 1 31 1 31 1 28 1 25 1 22 1 13 1 7 1 7 1 6 1 5 1 0 1-3 1-4 1-3 1 0 1 0 1 2 1 3 1 6 1 6 1 7 1 5 1 4 1 2 1 0 1-3 1-3 1-3 1-3 1 0 1 6 1 7 1 7 1 6 1 7 1 6 1-1 1-5 1-1 1 0 1 1 1-1 1-1 1-2 1-2 1-4 1-4 1-4 1-2 1 1 1 2 1 2 1 1 1 1 1 1 1 1 1 1 1 1 1 0 1 1 1 2 1 1 1 1 1 0 1 0 1-1 1-1 1 0 1-1 1-3 1-2 1 2 1 4 1 3 1 2 1 2 1 1 1 1 1 1 1 2 1 2 1 4 1 4 1 3 1 1 1 0 1-2 1-4 1-3 1-3 1-2 1 0 1-1 1-2 1-2 1 0 1-2 1-3 1-5 1-5 1-4 1-2 1-1 1-1 1-3 1-3 1-3 1-2 1 0 1-3 1-4 1-6 1-7 1-7 1-5 1-5 1-5 1-3 1-2 1-2 1-3 1-5 1-6 1-7 1-8 1-7 1-6 1-8 1-6 1-5 1-3" stroke="#7E2F8E"/>
<path d="M0,3783l1 1 1 1 1 2 1 2 1 4 1 3 1 3 1 3 1 4 1 4 1 5 1 5 1 4 1 4 1 2 1 1 1 1 1 2 1 5 1 6 1 5 1 5 1 2 1 2 1 1 1 2 1 3 1 1 1-1 1-3 1-3 1-3 1-3 1-2 1-5 1-7 1-10 1-10 1-10 1-9 1-10 1-13 1-16 1-18 1-20 1-23 1-25 1-30 1-33 1-38 1-44 1-53 1-61 1-70 1-77 1-81 1-84 1-86 1-91 1-94 1-92 1-83 1-67 1-54 1-23 1 1 1 22 1 58 1 70 1 79 1 85 1 88 1 85 1 79 1 74 1 66 1 57 1 46 1 38 1 32 1 23 1 15 1 7 1-5 1-10 1-9 1-8 1-7 1 11 1 29 1 29 1 28 1 31 1 33 1 35 1 35 1 32 1 28 1 20 1 12 1 9 1 10 1 9 1 6 1 0 1-4 1-6 1-4 1 1 1 2 1 3 1 4 1 3 1 4 1 7 1 8 1 8 1 4 1-1 1-3 1-5 1-7 1-8 1-7 1-1 1 12 1 19 1 13 1 9 1 7 1 5 1 3 1 2 1 0 1 0 1 1 1 0 1 1 1 0 1 1 1-1 1-4 1-6 1-3 1 1 1 4 1 4 1 2 1 2 1 3 1 3 1 2 1 1 1 0 1 2 1 2 1 1 1 0 1-2 1-2 1 0 1 2 1 1 1 1 1 0 1 0 1 1 1 1 1 1 1 1 1 1 1 1 1 1 1 2 1 2 1 5 1 5 1 3 1 1 1 0 1-1 1-1 1 0 1 0 1 1 1 0 1-1 1-2 1-2 1-1 1-2 1-1 1-1 1-2 1-3 1-3 1-2 1 0 1-2 1-4 1-5 1-2 1-1 1-1 1-2 1-3 1-3 1-1 1-2 1-3 1-5 1-4 1-3 1-2 1-3 1-3 1-6 1-5 1-6 1-5 1-4 1-4 1-3 1-3 1-3" stroke="#77AC30"/>
<path d="M0,3802l1-1 1 3 1 3 1 4 1 3 1 4 1 3 1 2 1 3 1 1 1 0 1-1 1 0 1 2 1 5 1 4 1 4 1 3 1 3 1 4 1 5 1 6 1 4 1 0 1-2 1-1 1 1 1 1 1 1 1-1 1-3 1-4 1-4 1-5 1-5 1-6 1-6 1-5 1-6 1-10 1-14 1-16 1-16 1-17 1-18 1-20 1-23 1-30 1-34 1-38 1-45 1-55 1-62 1-71 1-76 1-82 1-86 1-90 1-94 1-93 1-90 1-81 1-65 1-53 1-24 1-2 1 19 1 53 1 68 1 78 1 87 1 89 1 87 1 81 1 76 1 67 1 56 1 45 1 37 1 29 1 20 1 13 1 7 1-5 1-12 1-14 1-13 1-11 1 10 1 31 1 31 1 31 1 32 1 33 1 35 1 34 1 33 1 29 1 21 1 15 1 9 1 7 1 5 1 2 1 0 1-1 1 1 1 1 1 0 1 0 1 1 1 3 1 5 1 9 1 10 1 10 1 6 1 1 1-2 1-4 1-5 1-6 1-9 1-7 1-2 1 11 1 19 1 13 1 9 1 7 1 4 1 4 1 4 1 4 1 4 1 4 1 2 1-1 1-3 1-4 1-4 1-4 1-3 1 0 1 1 1 2 1 4 1 5 1 4 1 3 1 1 1 0 1 1 1 0 1 1 1 1 1 1 1 1 1-2 1-2 1 0 1 0 1 0 1 0 1 1 1 1 1 3 1 3 1 2 1 4 1 4 1 3 1 1 1-1 1-2 1 0 1 1 1 2 1 4 1 3 1 1 1-1 1-1 1 0 1 1 1 0 1 0 1-2 1-2 1-2 1-3 1-2 1-2 1-4 1-5 1-6 1-5 1-3 1-3 1-2 1-4 1-5 1-5 1-7 1-9 1-9 1-7 1-6 1-5 1-5 1-8 1-10 1-9 1-8 1-8 1-8 1-8 1-6 1-4 1-5 1-5 1-7 1-8 1-8 1-9" stroke="#4DBEEE"/>
<path d="M0,3799l1 3 1 3 1 1 1 2 1 3 1 4 1 4 1 4 1 4 1 5 1 2 1 0 1 1 1 3 1 3 1 2 1 0 1 0 1 2 1 3 1 3 1 2 1 2 1 1 1 2 1 4 1 5 1 2 1-1 1-4 1-4 1-3 1-3 1-2 1-3 1-6 1-7 1-7 1-10 1-13 1-15 1-15 1-15 1-16 1-18 1-22 1-25 1-30 1-34 1-38 1-45 1-55 1-64 1-72 1-76 1-80 1-84 1-87 1-89 1-92 1-93 1-86 1-72 1-57 1-25 1-2 1 21 1 60 1 74 1 80 1 86 1 88 1 83 1 78 1 73 1 69 1 60 1 46 1 36 1 27 1 18 1 12 1 6 1-6 1-12 1-13 1-13 1-13 1 9 1 32 1 33 1 35 1 37 1 37 1 36 1 35 1 34 1 30 1 23 1 12 1 4 1 3 1 6 1 9 1 10 1 3 1-2 1-5 1-1 1 2 1 3 1 6 1 6 1 8 1 9 1 6 1 4 1 3 1 3 1 0 1-2 1-7 1-11 1-9 1-1 1 11 1 14 1 10 1 9 1 8 1 4 1 2 1 2 1 2 1 3 1 2 1 3 1 1 1-1 1-2 1-2 1-3 1-1 1 0 1 2 1 0 1-1 1 0 1 2 1 2 1 2 1-1 1-1 1 0 1 0 1 3 1 4 1 3 1 0 1-1 1-2 1-2 1-2 1-1 1 0 1 2 1 2 1 0 1-1 1-2 1-1 1 1 1 2 1 5 1 4 1 3 1 1 1 1 1 2 1 2 1 0 1-1 1-2 1-3 1-4 1-1 1 0 1 2 1 1 1-1 1-1 1-4 1-5 1-6 1-5 1-3 1-1 1-2 1-3 1-6 1-5 1-3 1 0 1-2 1-7 1-10 1-10 1-9 1-7 1-6 1-7 1-8 1-7 1-6 1-5 1-4 1-5 1-7 1-6 1-7 1-6 1-7 1-8 1-9 1-10" stroke="#A2142F"/>
<path d="M0,3766l1 6 1 4 1 3 1 5 1 6 1 7 1 7 1 8 1 7 1 5 1 2 1 2 1 2 1 4 1 4 1 5 1 5 1 4 1 4 1 4 1 2 1 2 1 3 1 3 1 3 1 2 1 2 1 1 1-2 1-3 1-2 1-2 1 0 1-2 1-5 1-6 1-7 1-8 1-10 1-12 1-12 1-13 1-13 1-17 1-20 1-21 1-21 1-29 1-35 1-40 1-45 1-54 1-63 1-72 1-78 1-81 1-83 1-85 1-91 1-94 1-91 1-78 1-57 1-45 1-24 1 0 1 22 1 49 1 61 1 73 1 86 1 89 1 86 1 78 1 71 1 63 1 53 1 47 1 42 1 39 1 31 1 21 1 12 1 3 1-2 1-1 1-1 1-1 1 9 1 19 1 21 1 24 1 27 1 30 1 30 1 29 1 29 1 27 1 24 1 13 1 6 1 4 1 4 1 3 1 1 1-2 1-3 1-3 1-1 1-2 1-1 1 1 1 3 1 5 1 5 1 6 1 5 1 1 1-4 1-4 1-5 1-5 1-9 1-7 1-2 1 11 1 16 1 10 1 9 1 6 1 5 1 3 1 2 1 1 1 2 1 3 1 2 1 0 1-1 1-2 1-1 1-2 1-1 1 0 1 1 1 3 1 2 1 1 1 0 1 0 1 0 1 0 1 1 1 2 1 3 1 3 1 3 1 0 1-2 1-4 1-2 1 1 1 3 1 6 1 5 1 4 1 1 1 1 1 1 1 2 1 2 1 2 1 2 1 1 1 1 1 1 1 2 1 2 1 1 1 3 1 2 1-1 1-5 1-6 1-1 1 2 1 3 1 0 1-3 1-4 1-3 1-1 1-1 1-3 1-4 1-2 1 0 1 0 1 0 1-2 1-2 1-4 1-7 1-8 1-7 1-6 1-6 1-6 1-4 1-3 1-2 1-3 1-4 1-5 1-8 1-9 1-8 1-7 1-6 1-5 1-6 1-6 1-7 1-7 1-6" stroke="#0072BD"/>
<path d="M0,3758l1 4 1 4 1 4 1 4 1 4 1 4 1 4 1 5 1 5 1 6 1 4 1 4 1 4 1 5 1 5 1 5 1 6 1 5 1 4 1 4 1 3 1 4 1 3 1 3 1 3 1 2 1 0 1 0 1 1 1 1 1-1 1-3 1-5 1-5 1-6 1-7 1-7 1-9 1-11 1-11 1-12 1-14 1-14 1-15 1-18 1-19 1-23 1-27 1-33 1-37 1-46 1-55 1-64 1-73 1-78 1-80 1-83 1-84 1-90 1-94 1-93 1-83 1-65 1-51 1-24 1-1 1 21 1 54 1 68 1 79 1 86 1 88 1 85 1 79 1 74 1 66 1 55 1 46 1 39 1 32 1 22 1 14 1 7 1-3 1-6 1-6 1-5 1-5 1 10 1 25 1 27 1 29 1 32 1 32 1 33 1 35 1 33 1 28 1 19 1 10 1 6 1 7 1 6 1 4 1 3 1 0 1-4 1-4 1-2 1 1 1 2 1 4 1 4 1 8 1 9 1 9 1 8 1 4 1-2 1-5 1-7 1-8 1-9 1-6 1 1 1 12 1 18 1 12 1 8 1 5 1 1 1 1 1 2 1 3 1 0 1 0 1 1 1 3 1 5 1 5 1 2 1-2 1-3 1-3 1 0 1 1 1 0 1 0 1 0 1 1 1 1 1 0 1-1 1 1 1 4 1 4 1 3 1 1 1-1 1 1 1 0 1 0 1 0 1-1 1-1 1 1 1 2 1 1 1 0 1-2 1-1 1-1 1 3 1 2 1 2 1 1 1 1 1 1 1 2 1 2 1-1 1-4 1-5 1-3 1-1 1 1 1 1 1 1 1-1 1-4 1-4 1-5 1-5 1-5 1-4 1-3 1-1 1 0 1 1 1-1 1-3 1-6 1-9 1-9 1-7 1-6 1-6 1-5 1-5 1-6 1-8 1-9 1-9 1-8 1-7 1-6 1-6 1-7 1-7 1-8 1-9 1-8 1-7 1-7 1-8" stroke="#D95319"/>
<path d="M0,3823l1 3 1 2 1 1 1 0 1 0 1 1 1 3 1 3 1 4 1 4 1 3 1 1 1 3 1 4 1 5 1 3 1 2 1 1 1 2 1 2 1 3 1 4 1 4 1 2 1 0 1-1 1-2 1-2 1-2 1-2 1-2 1 0 1 0 1 0 1-2 1-5 1-7 1-10 1-11 1-13 1-15 1-15 1-16 1-17 1-19 1-19 1-21 1-27 1-33 1-39 1-44 1-51 1-61 1-72 1-79 1-84 1-87 1-90 1-94 1-93 1-89 1-77 1-60 1-49 1-26 1-1 1 22 1 50 1 62 1 75 1 85 1 88 1 85 1 79 1 72 1 65 1 54 1 44 1 36 1 32 1 25 1 18 1 13 1 0 1-6 1-7 1-6 1-5 1 10 1 24 1 26 1 27 1 30 1 33 1 35 1 33 1 31 1 27 1 21 1 14 1 9 1 8 1 8 1 5 1 3 1-1 1-3 1-4 1-2 1 0 1 3 1 5 1 5 1 7 1 9 1 9 1 6 1 4 1 1 1 1 1-1 1-2 1-5 1-3 1 0 1 8 1 11 1 7 1 7 1 6 1 3 1 0 1 2 1 3 1 4 1 4 1 3 1-1 1-2 1-3 1-1 1-2 1 0 1 0 1 1 1 3 1 3 1 1 1-1 1-1 1 1 1 1 1 1 1-1 1-1 1 0 1 0 1 0 1 0 1 1 1 0 1 0 1 2 1 1 1 3 1 4 1 3 1 2 1 0 1-1 1 1 1 3 1 2 1 4 1 4 1 4 1 1 1 0 1-1 1-3 1-4 1-4 1-3 1-1 1 1 1 0 1-1 1-2 1 0 1-1 1-2 1-4 1-4 1-3 1-2 1-3 1-3 1-3 1-3 1-3 1-3 1-2 1-4 1-7 1-7 1-7 1-6 1-7 1-6 1-4 1-3 1-4 1-5 1-5 1-3 1-2 1-2 1-2 1-5 1-8 1-8 1-5 1-3 1-3 1-3" stroke="#EDB120"/>
<path d="M0,3772l1 5 1 3 1 2 1 1 1 2 1 4 1 5 1 6 1 4 1 3 1 2 1 2 1 1 1 2 1 4 1 6 1 5 1 4 1 3 1 5 1 8 1 8 1 6 1 3 1 1 1 1 1 0 1-2 1-1 1-1 1-1 1-2 1-3 1-5 1-8 1-9 1-9 1-8 1-9 1-11 1-11 1-12 1-13 1-16 1-19 1-22 1-24 1-29 1-32 1-37 1-44 1-53 1-63 1-73 1-80 1-83 1-86 1-86 1-90 1-92 1-91 1-83 1-69 1-56 1-25 1-2 1 20 1 58 1 73 1 81 1 85 1 85 1 82 1 77 1 74 1 66 1 56 1 43 1 37 1 32 1 23 1 14 1 7 1-10 1-17 1-15 1-13 1-11 1 12 1 34 1 33 1 33 1 34 1 36 1 36 1 36 1 34 1 29 1 20 1 11 1 6 1 9 1 10 1 10 1 8 1 0 1-4 1-4 1 2 1 6 1 6 1 6 1 8 1 9 1 9 1 8 1 7 1 3 1 0 1-1 1-2 1-4 1-6 1-5 1 3 1 12 1 15 1 10 1 8 1 7 1 3 1-1 1 0 1 1 1 3 1 4 1 3 1 1 1-1 1-2 1-3 1-2 1-2 1-3 1-1 1-1 1 1 1 1 1 0 1 1 1 0 1 2 1 3 1 3 1 0 1-2 1-1 1 0 1 2 1 1 1-2 1-2 1-3 1-2 1 1 1 1 1 3 1 2 1 2 1 0 1 0 1-1 1 2 1 2 1 1 1 0 1 0 1 1 1 1 1-1 1-1 1 1 1 2 1 1 1 0 1 1 1 1 1 1 1-3 1-4 1-5 1-3 1-5 1-6 1-6 1-4 1-1 1 2 1 0 1-5 1-6 1-7 1-8 1-9 1-6 1-4 1-4 1-6 1-6 1-4 1-3 1-3 1-4 1-7 1-7 1-8 1-4 1-1 1-2 1-4 1-7 1-7 1-8 1-8 1-7" stroke="#7E2F8E"/>
<path d="M0,3765l1 4 1 5 1 5 1 6 1 6 1 7 1 5 1 5 1 3 1 2 1 4 1 5 1 5 1 4 1 4 1 5 1 6 1 5 1 4 1 3 1 3 1 4 1 5 1 3 1 1 1-2 1-2 1-2 1-1 1-2 1-2 1-2 1-2 1-4 1-5 1-5 1-6 1-7 1-8 1-11 1-13 1-16 1-16 1-17 1-19 1-21 1-23 1-28 1-35 1-40 1-46 1-55 1-62 1-72 1-78 1-81 1-85 1-88 1-94 1-95 1-92 1-83 1-69 1-55 1-22 1 2 1 20 1 57 1 71 1 78 1 85 1 86 1 83 1 78 1 74 1 68 1 56 1 42 1 34 1 31 1 25 1 16 1 6 1-10 1-14 1-12 1-12 1-12 1 9 1 32 1 36 1 37 1 36 1 36 1 35 1 34 1 32 1 30 1 22 1 11 1 5 1 3 1 6 1 6 1 6 1 3 1 1 1 0 1 0 1 1 1 2 1 5 1 4 1 6 1 6 1 6 1 4 1 0 1-1 1-2 1-4 1-5 1-8 1-6 1 3 1 14 1 18 1 11 1 8 1 5 1 3 1 3 1 3 1 4 1 2 1 3 1 2 1 3 1 2 1 0 1-2 1-3 1-1 1-1 1 1 1 1 1 3 1 3 1 3 1 2 1 3 1 3 1 2 1 1 1-1 1-1 1 0 1-1 1 0 1-1 1-1 1-3 1-2 1-1 1 2 1 1 1 1 1 1 1 2 1 2 1 2 1 2 1 2 1 0 1 0 1-1 1 0 1 1 1 3 1 3 1 1 1-2 1-3 1-3 1-2 1 0 1 0 1 1 1 1 1 0 1-4 1-6 1-6 1-6 1-4 1-2 1-1 1-2 1-1 1-1 1-3 1-3 1-4 1-4 1-6 1-6 1-8 1-7 1-5 1-6 1-6 1-5 1-4 1-5 1-5 1-7 1-6 1-4 1-3 1-2 1-3 1-5 1-6 1-6 1-6" stroke="#77AC30"/>
<path d="M0,3817l1 3 1 5 1 6 1 5 1 2 1 1 1 2 1 1 1 0 1 3 1 5 1 5 1 1 1-1 1 0 1 3 1 4 1 3 1 2 1 2 1 3 1 1 1 1 1 0 1 0 1 2 1 1 1 2 1 1 1-1 1-2 1-3 1-2 1-3 1-5 1-7 1-8 1-9 1-9 1-11 1-13 1-15 1-16 1-19 1-23 1-22 1-23 1-27 1-33 1-39 1-46 1-55 1-63 1-72 1-76 1-80 1-83 1-86 1-93 1-96 1-94 1-82 1-63 1-51 1-24 1 3 1 25 1 56 1 68 1 74 1 82 1 84 1 85 1 80 1 75 1 65 1 53 1 43 1 39 1 35 1 25 1 17 1 10 1 1 1-4 1-4 1-6 1-6 1 9 1 25 1 28 1 30 1 34 1 35 1 32 1 31 1 29 1 27 1 24 1 17 1 10 1 9 1 8 1 7 1 4 1 0 1-5 1-5 1-2 1 2 1 5 1 6 1 6 1 6 1 7 1 7 1 7 1 4 1 0 1-3 1-4 1-4 1-5 1-3 1-1 1 5 1 10 1 8 1 8 1 7 1 3 1 0 1 2 1 0 1-1 1-2 1 0 1 1 1-1 1-3 1-4 1-3 1 1 1 2 1 1 1 0 1 0 1 0 1 2 1 3 1 2 1-1 1-3 1-1 1 1 1 4 1 4 1 2 1-1 1-1 1-2 1-3 1-2 1-2 1-1 1 0 1 0 1 1 1 2 1 3 1 3 1 3 1 4 1 3 1 2 1 1 1 1 1 3 1 5 1 4 1 0 1-3 1-4 1-3 1-1 1-1 1-1 1 0 1 0 1 0 1-1 1-3 1-4 1-2 1-3 1-2 1-1 1 0 1 0 1-1 1-3 1-5 1-6 1-5 1-4 1-4 1-4 1-5 1-6 1-5 1-4 1-1 1-1 1-2 1-3 1-4 1-2 1-2 1-4 1-7 1-8 1-7 1-6 1-4 1-2" stroke="#4DBEEE"/>
<path d="M0,3792l1 6 1 7 1 7 1 5 1 5 1 3 1 2 1 1 1 2 1 5 1 5 1 4 1 3 1 3 1 4 1 3 1 0 1-1 1 1 1 4 1 5 1 4 1 3 1 3 1 1 1 0 1-3 1-3 1-2 1 0 1 0 1-2 1-2 1-2 1-3 1-5 1-6 1-8 1-10 1-14 1-14 1-15 1-15 1-18 1-19 1-20 1-23 1-29 1-34 1-40 1-47 1-56 1-63 1-70 1-76 1-81 1-87 1-90 1-94 1-94 1-90 1-80 1-65 1-53 1-26 1-1 1 21 1 58 1 72 1 77 1 82 1 85 1 84 1 81 1 76 1 69 1 56 1 45 1 37 1 32 1 24 1 17 1 8 1-3 1-10 1-9 1-6 1-2 1 16 1 31 1 32 1 32 1 33 1 34 1 34 1 34 1 33 1 29 1 23 1 15 1 9 1 6 1 6 1 6 1 5 1-2 1-4 1-3 1 2 1 4 1 4 1 3 1 4 1 6 1 8 1 9 1 7 1 3 1-1 1-2 1 0 1-1 1-5 1-7 1-2 1 6 1 8 1 8 1 9 1 8 1 2 1-3 1-1 1 0 1 1 1 2 1 1 1 2 1-1 1-1 1-2 1-2 1-3 1-3 1-3 1 0 1 3 1 5 1 3 1 0 1-1 1 1 1 3 1 1 1-1 1-1 1 0 1 1 1-1 1-1 1-2 1-3 1-3 1-2 1 2 1 2 1 0 1 0 1 0 1 2 1 2 1 1 1 3 1 4 1 5 1 3 1-1 1-4 1-3 1-1 1 0 1-2 1-2 1-2 1 1 1 0 1 0 1 1 1 1 1-3 1-7 1-7 1-6 1-3 1-3 1-3 1 0 1 1 1 1 1-2 1-5 1-6 1-8 1-9 1-7 1-6 1-5 1-6 1-4 1-4 1-7 1-10 1-11 1-8 1-7 1-5 1-5 1-4 1-4 1-7 1-8 1-8 1-9 1-10 1-8" stroke="#A2142F"/>
<path d="M0,3773l1 3 1 1 1 3 1 5 1 5 1 3 1 2 1 3 1 3 1 4 1 5 1 6 1 6 1 2 1 1 1 1 1 2 1 4 1 4 1 5 1 5 1 3 1 4 1 3 1 3 1 3 1 2 1 2 1 0 1 0 1-2 1-4 1-3 1-5 1-5 1-7 1-8 1-11 1-12 1-14 1-13 1-11 1-10 1-14 1-18 1-22 1-23 1-27 1-32 1-38 1-47 1-56 1-64 1-73 1-79 1-82 1-82 1-85 1-90 1-93 1-91 1-83 1-67 1-54 1-23 1 2 1 23 1 55 1 69 1 79 1 86 1 88 1 85 1 78 1 73 1 65 1 56 1 47 1 40 1 35 1 27 1 20 1 12 1 1 1-3 1-2 1-1 1 0 1 12 1 26 1 27 1 27 1 28 1 31 1 33 1 33 1 32 1 28 1 22 1 14 1 9 1 6 1 4 1 2 1 2 1 1 1-2 1-2 1 1 1 3 1 4 1 2 1 3 1 4 1 8 1 8 1 6 1 3 1-2 1-2 1-3 1-4 1-8 1-6 1 0 1 10 1 12 1 10 1 9 1 6 1 0 1-3 1 1 1 3 1 3 1 1 1-1 1-2 1-1 1-1 1-1 1 0 1 1 1 1 1 1 1 0 1 0 1 0 1 0 1 2 1 2 1 0 1-2 1-1 1 0 1 0 1-2 1-2 1-2 1-1 1 2 1 2 1 3 1 2 1 1 1 0 1 0 1 1 1 0 1 0 1 0 1 1 1 1 1 2 1 1 1 1 1 2 1 0 1 0 1-1 1-2 1-4 1-2 1 0 1 1 1 2 1 1 1-1 1 0 1 0 1-1 1-2 1-4 1-6 1-5 1-3 1 1 1 1 1 1 1-2 1-5 1-5 1-5 1-6 1-5 1-3 1-2 1-2 1-5 1-7 1-7 1-5 1-5 1-4 1-4 1-6 1-6 1-6 1-5 1-4 1-4 1-5 1-6 1-6 1-7" stroke="#0072BD"/>
<path d="M0,3794l1 4 1 5 1 6 1 4 1 3 1 2 1 1 1 2 1 5 1 3 1 2 1 2 1 2 1 4 1 5 1 3 1 3 1 2 1 2 1 4 1 4 1 4 1 3 1 3 1 0 1 0 1 1 1 2 1 2 1 0 1-3 1-4 1-4 1-5 1-7 1-7 1-8 1-7 1-8 1-10 1-12 1-12 1-14 1-17 1-20 1-22 1-24 1-30 1-33 1-37 1-44 1-53 1-63 1-72 1-76 1-80 1-84 1-87 1-94 1-96 1-90 1-78 1-62 1-51 1-26 1-1 1 22 1 53 1 67 1 76 1 85 1 88 1 86 1 79 1 73 1 67 1 57 1 47 1 39 1 34 1 25 1 18 1 13 1 4 1 0 1-2 1 0 1 1 1 15 1 26 1 27 1 28 1 32 1 32 1 32 1 30 1 29 1 26 1 26 1 19 1 14 1 11 1 6 1 3 1-2 1-6 1-5 1-3 1 2 1 3 1 1 1 3 1 4 1 6 1 7 1 6 1 5 1 2 1-1 1-2 1 1 1 2 1-1 1-1 1 2 1 4 1 4 1 5 1 6 1 7 1 0 1-7 1-2 1 1 1 1 1 1 1 1 1 0 1-1 1-3 1-3 1-2 1-1 1 1 1 1 1 1 1-1 1-1 1-2 1-2 1 0 1 0 1 1 1 1 1 1 1-2 1-1 1-1 1-1 1 0 1 1 1 1 1 1 1 1 1 0 1-1 1 1 1 1 1 1 1 1 1-1 1 0 1 0 1 1 1 1 1 2 1 3 1 4 1 2 1 0 1-1 1-3 1-1 1 0 1 2 1 3 1 0 1-4 1-5 1-6 1-5 1-4 1-2 1-1 1-1 1-1 1 0 1 0 1-2 1-5 1-8 1-7 1-4 1-1 1-1 1-2 1-4 1-6 1-7 1-4 1-2 1-1 1-2 1-4 1-4 1-2 1-4 1-4 1-4 1-3 1-4 1-3 1-1 1-1 1-1" stroke="#D95319"/>
<path d="M0,3760l1 6 1 7 1 7 1 4 1 2 1 2 1 2 1 2 1 3 1 4 1 5 1 5 1 6 1 7 1 8 1 5 1 5 1 3 1 1 1 0 1 1 1 2 1 4 1 4 1 3 1 3 1 2 1 2 1 1 1 0 1-1 1-2 1-2 1-4 1-5 1-7 1-9 1-9 1-10 1-9 1-11 1-11 1-14 1-18 1-21 1-23 1-22 1-26 1-32 1-37 1-43 1-51 1-60 1-71 1-78 1-83 1-86 1-89 1-94 1-94 1-88 1-75 1-58 1-48 1-25 1 1 1 24 1 50 1 62 1 75 1 86 1 89 1 83 1 77 1 72 1 63 1 53 1 46 1 42 1 38 1 29 1 21 1 14 1 5 1-1 1-1 1 0 1 2 1 13 1 22 1 23 1 23 1 27 1 30 1 33 1 32 1 29 1 24 1 20 1 13 1 8 1 5 1 5 1 3 1 2 1-3 1-7 1-6 1 1 1 4 1 4 1 1 1 0 1 4 1 7 1 9 1 6 1 2 1 0 1-2 1-3 1-5 1-9 1-9 1-1 1 11 1 15 1 10 1 7 1 6 1 1 1 1 1 2 1 1 1 1 1 0 1-1 1-1 1-1 1-1 1-1 1-2 1-2 1-2 1-1 1 0 1 0 1 1 1 2 1 3 1 2 1 1 1 1 1 2 1 0 1 1 1 2 1 2 1-1 1-3 1-4 1-2 1 1 1 2 1 3 1 1 1 1 1 0 1 0 1 2 1 3 1 4 1 4 1 1 1 0 1 0 1 1 1 2 1 2 1 0 1-3 1-4 1-4 1-1 1 2 1 2 1 1 1 0 1-1 1-2 1-3 1-4 1-5 1-3 1-3 1-2 1 0 1-2 1-3 1-6 1-6 1-4 1-5 1-5 1-8 1-9 1-8 1-5 1-3 1-4 1-5 1-7 1-6 1-8 1-9 1-9 1-8 1-9 1-9 1-8 1-10 1-11 1-10 1-6 1-6" stroke="#EDB120"/>
<path d="M0,3802l1 3 1 4 1 3 1 4 1 3 1 3 1 3 1 3 1 3 1 2 1 3 1 3 1 3 1 2 1 3 1 3 1 3 1 3 1 2 1 3 1 3 1 3 1 2 1 2 1 2 1 1 1 0 1 1 1-1 1-1 1-2 1-2 1-2 1-4 1-4 1-5 1-7 1-8 1-10 1-12 1-13 1-14 1-15 1-17 1-19 1-20 1-22 1-29 1-33 1-39 1-44 1-54 1-62 1-72 1-78 1-81 1-83 1-87 1-92 1-94 1-91 1-79 1-59 1-48 1-24 1 0 1 23 1 50 1 63 1 74 1 85 1 88 1 84 1 78 1 74 1 66 1 54 1 45 1 39 1 35 1 29 1 22 1 14 1 4 1-1 1-1 1-1 1 1 1 13 1 23 1 23 1 26 1 29 1 31 1 31 1 30 1 29 1 27 1 23 1 15 1 8 1 6 1 5 1 4 1 1 1-2 1-4 1-3 1 0 1 3 1 2 1 4 1 4 1 5 1 6 1 6 1 4 1 2 1 0 1-2 1-2 1-2 1-6 1-4 1 1 1 8 1 14 1 23 1 32 1 15 1-19 1-24 1-8 1-1 1 1 1 1 1 0 1 0 1-1 1-1 1-1 1-1 1-1 1 0 1 0 1 0 1 2 1 1 1 1 1 1 1 0 1 1 1 0 1 1 1 0 1 1 1 0 1 0 1 0 1-1 1 0 1 0 1 0 1 0 1 1 1 2 1 1 1 2 1 1 1 2 1 1 1 2 1 2 1 2 1 2 1 1 1 1 1 1 1 0 1 0 1-1 1-2 1-1 1-1 1 3 1 4 1 4 1-1 1-5 1-6 1-5 1-3 1-3 1-3 1-3 1-2 1-1 1 0 1-1 1-3 1-4 1-4 1-5 1-4 1-4 1-3 1-4 1-3 1-4 1-3 1-3 1-4 1-3 1-3 1-4 1-4 1-4 1-4 1-5 1-4 1-4 1-5 1-4 1-5 1-4" stroke="#77AC30"/>
<path d="M0,3793l1 4 1 5 1 3 1 3 1 2 1 2 1 3 1 3 1 4 1 2 1 0 1 0 1 2 1 2 1 4 1 5 1 5 1 4 1 3 1 3 1 4 1 4 1 3 1 0 1-2 1-2 1-2 1 0 1-1 1 1 1 1 1-1 1-2 1-5 1-6 1-8 1-8 1-9 1-10 1-10 1-12 1-14 1-16 1-18 1-19 1-19 1-21 1-30 1-34 1-38 1-42 1-51 1-62 1-73 1-80 1-82 1-83 1-86 1-92 1-94 1-92 1-82 1-66 1-52 1-22 1 3 1 26 1 58 1 69 1 78 1 85 1 87 1 85 1 80 1 75 1 66 1 54 1 43 1 38 1 35 1 27 1 20 1 13 1 5 1 3 1 3 1 2 1 1 1 12 1 22 1 25 1 25 1 28 1 31 1 32 1 32 1 32 1 28 1 22 1 12 1 7 1 6 1 6 1 4 1 1 1-2 1-3 1-2 1 1 1 3 1 3 1 3 1 3 1 4 1 6 1 5 1 3 1 0 1-3 1-4 1-2 1-4 1-7 1-6 1 0 1 7 1 10 1 5 1 6 1 7 1 4 1 1 1-1 1-1 1 0 1 1 1 2 1 2 1 0 1-2 1-2 1-2 1-1 1-1 1-1 1 1 1 3 1 2 1 3 1 1 1 1 1 2 1 1 1 1 1 0 1-1 1 1 1-1 1-2 1-2 1-2 1 0 1 2 1 2 1 1 1 1 1 1 1 3 1 2 1 1 1-1 1 0 1 0 1 0 1 0 1 0 1 1 1 0 1 2 1 2 1 2 1 0 1 0 1-1 1-1 1 0 1 1 1 1 1 0 1-3 1-4 1-6 1-7 1-5 1-3 1-1 1 0 1-1 1-3 1-6 1-6 1-5 1-4 1-5 1-7 1-9 1-9 1-8 1-6 1-4 1-5 1-7 1-8 1-8 1-8 1-8 1-10 1-11 1-10 1-8 1-6 1-7 1-6 1-7 1-8" stroke="#7E2F8E"/>
<path d="M0,3769l1 5 1 2 1 2 1 4 1 3 1 4 1 3 1 5 1 4 1 5 1 4 1 4 1 3 1 4 1 4 1 2 1 0 1 1 1 4 1 6 1 7 1 7 1 7 1 3 1-1 1-2 1 0 1 2 1 2 1-1 1-3 1-5 1-6 1-4 1-5 1-6 1-8 1-9 1-9 1-10 1-11 1-13 1-15 1-20 1-20 1-18 1-21 1-28 1-34 1-40 1-47 1-57 1-65 1-72 1-77 1-79 1-82 1-85 1-91 1-95 1-94 1-85 1-70 1-56 1-21 1 3 1 21 1 60 1 74 1 79 1 83 1 86 1 85 1 81 1 74 1 67 1 58 1 46 1 37 1 28 1 18 1 10 1 3 1-7 1-11 1-12 1-13 1-13 1 9 1 32 1 33 1 33 1 36 1 39 1 39 1 37 1 33 1 29 1 23 1 13 1 7 1 5 1 5 1 4 1 3 1 1 1-2 1-2 1-1 1 1 1 3 1 6 1 7 1 8 1 9 1 7 1 4 1 1 1 0 1-3 1-4 1-5 1-7 1-5 1 0 1 10 1 16 1 10 1 11 1 8 1 4 1 4 1 3 1 3 1 2 1 1 1 0 1-2 1-1 1 0 1 1 1-1 1-1 1 0 1 3 1 4 1 2 1 1 1-1 1-1 1 0 1 1 1 1 1-1 1-2 1-2 1-2 1 0 1 0 1 0 1 0 1-2 1-1 1 1 1 1 1 1 1 1 1 0 1 0 1 1 1 3 1 3 1 3 1 2 1 0 1 0 1 1 1 2 1 4 1 3 1 0 1-1 1-2 1-2 1 1 1 0 1-1 1-2 1-2 1-4 1-4 1-4 1-3 1-3 1-2 1 0 1 0 1-1 1-3 1-6 1-7 1-7 1-6 1-7 1-6 1-8 1-7 1-8 1-6 1-4 1-5 1-8 1-9 1-8 1-8 1-6 1-6 1-6 1-6 1-6 1-7 1-8 1-8 1-10 1-9" stroke="#77AC30"/>
<path d="M0,3756l1 5 1 7 1 7 1 6 1 2 1 1 1 3 1 5 1 6 1 6 1 3 1 2 1 2 1 5 1 6 1 6 1 4 1 3 1 4 1 5 1 5 1 4 1 3 1 3 1 3 1 2 1 0 1-1 1-1 1-2 1-2 1-3 1-4 1-5 1-7 1-7 1-6 1-7 1-9 1-11 1-12 1-11 1-13 1-17 1-22 1-23 1-26 1-30 1-34 1-37 1-44 1-52 1-64 1-74 1-78 1-80 1-81 1-85 1-91 1-93 1-92 1-84 1-70 1-56 1-23 1 1 1 22 1 59 1 72 1 78 1 83 1 85 1 84 1 79 1 76 1 69 1 58 1 45 1 38 1 32 1 25 1 17 1 11 1 0 1-7 1-10 1-11 1-8 1 12 1 29 1 31 1 31 1 35 1 35 1 35 1 34 1 32 1 27 1 23 1 14 1 8 1 7 1 8 1 7 1 5 1 0 1-3 1-2 1 2 1 3 1 3 1 3 1 4 1 4 1 5 1 6 1 5 1 2 1 0 1-1 1-2 1-3 1-7 1-7 1 0 1 8 1 11 1 5 1 5 1 6 1 3 1 0 1 2 1 4 1 5 1 3 1-1 1-4 1-6 1-4 1-3 1-1 1-1 1 0 1 1 1 1 1 0 1 1 1 2 1 2 1 1 1 0 1 0 1-2 1 0 1 1 1 2 1 1 1-1 1-1 1-1 1-1 1 0 1-1 1 0 1 1 1 1 1 1 1 1 1 2 1 2 1 2 1 3 1 3 1 2 1 0 1 0 1 0 1 1 1 0 1 1 1 1 1 0 1 1 1 1 1 2 1 1 1-1 1-1 1-2 1-3 1-3 1-4 1-3 1-2 1-2 1-1 1-1 1-2 1-3 1-3 1-3 1-4 1-5 1-6 1-7 1-6 1-4 1-2 1-2 1-3 1-2 1-2 1-4 1-4 1-3 1-5 1-7 1-8 1-6 1-5 1-5 1-7 1-9 1-8" stroke="#4DBEEE"/>
<path d="M0,3790l1-1 1 2 1 5 1 5 1 4 1 1 1 1 1 2 1 2 1 3 1 3 1 4 1 4 1 4 1 2 1 3 1 2 1 3 1 2 1 3 1 4 1 5 1 6 1 4 1 2 1 1 1 0 1 0 1-1 1-3 1-3 1-3 1-3 1-5 1-5 1-7 1-7 1-8 1-11 1-13 1-13 1-12 1-13 1-15 1-19 1-21 1-22 1-28 1-31 1-36 1-43 1-54 1-65 1-76 1-80 1-82 1-84 1-86 1-91 1-93 1-90 1-82 1-66 1-53 1-26 1-1 1 22 1 58 1 71 1 79 1 87 1 89 1 84 1 77 1 73 1 65 1 56 1 47 1 41 1 36 1 26 1 17 1 11 1 0 1-2 1-3 1-3 1-4 1 11 1 26 1 29 1 28 1 30 1 30 1 32 1 32 1 32 1 27 1 22 1 14 1 10 1 7 1 6 1 5 1 1 1 0 1-2 1-2 1-1 1 1 1 1 1 3 1 4 1 7 1 7 1 4 1 3 1 2 1 1 1-1 1-1 1-4 1-8 1-6 1-1 1 8 1 12 1 11 1 8 1 5 1 0 1-3 1-1 1 1 1 2 1 3 1 3 1 3 1 2 1-1 1-5 1-7 1-4 1 1 1 3 1 3 1 3 1 2 1 2 1 1 1-1 1-1 1-1 1 0 1 1 1 1 1 1 1 0 1-2 1-1 1 0 1 2 1 2 1 3 1 4 1 4 1 3 1 1 1-1 1 0 1 2 1 2 1 2 1 0 1 2 1 3 1 3 1 1 1-1 1-2 1-3 1-3 1-2 1 0 1 3 1 4 1 2 1-2 1-4 1-5 1-3 1-4 1-3 1-2 1-2 1-2 1 0 1 0 1 0 1 0 1-1 1-4 1-4 1-6 1-6 1-5 1-4 1-3 1-2 1-1 1-1 1-1 1-3 1-5 1-5 1-5 1-4 1-4 1-4 1-5 1-5 1-5 1-6 1-5 1-5" stroke="#A2142F"/>
<path d="M0,3763l1 4 1 5 1 4 1 4 1 4 1 4 1 4 1 4 1 4 1 4 1 5 1 4 1 4 1 4 1 4 1 4 1 4 1 4 1 4 1 4 1 4 1 4 1 4 1 3 1 2 1 1 1 0 1 1 1-1 1-1 1-2 1-3 1-4 1-5 1-6 1-6 1-8 1-8 1-9 1-11 1-11 1-13 1-13 1-18 1-20 1-21 1-24 1-28 1-34 1-38 1-44 1-53 1-63 1-72 1-79 1-81 1-85 1-88 1-91 1-93 1-91 1-84 1-68 1-56 1-24 1 1 1 21 1 58 1 71 1 80 1 85 1 87 1 84 1 80 1 74 1 68 1 56 1 45 1 36 1 30 1 21 1 14 1 7 1-5 1-12 1-11 1-11 1-10 1 11 1 31 1 32 1 33 1 35 1 35 1 35 1 34 1 33 1 28 1 22 1 13 1 8 1 7 1 6 1 6 1 3 1-1 1-2 1-3 1 0 1 2 1 3 1 3 1 5 1 6 1 7 1 6 1 4 1 0 1-4 1-6 1-7 1-8 1-11 1-9 1-2 1 10 1 18 1 13 1 12 1 10 1 8 1 5 1 5 1 4 1 3 1 3 1 1 1 1 1 0 1-1 1-1 1-2 1-1 1 0 1 0 1 1 1 1 1 1 1 1 1 1 1 2 1 1 1 1 1 2 1 1 1 1 1 1 1 1 1-1 1-1 1-2 1-1 1 0 1 1 1 1 1 0 1 1 1 1 1 1 1 1 1 1 1 1 1 1 1 2 1 1 1 2 1 2 1 2 1 2 1 2 1-1 1-2 1-2 1-1 1 1 1 0 1 1 1 0 1-1 1-1 1-3 1-5 1-4 1-5 1-4 1-2 1-1 1 0 1-2 1-5 1-6 1-6 1-2 1 1 1 2 1 1 1 2 1 2 1 1 1 2 1 1 1 2 1 2 1 1 1 2 1 1 1 2 1 1 1 2 1 1 1 2 1 0 1 1 1 0 1 0" stroke="#EDB120"/>
<path d="M0,3802l1 3 1 4 1 3 1 4 1 3 1 3 1 3 1 3 1 3 1 2 1 3 1 3 1 3 1 2 1 3 1 3 1 3 1 3 1 2 1 3 1 3 1 3 1 2 1 2 1 2 1 1 1 0 1 1 1-1 1-1 1-2 1-2 1-2 1-4 1-4 1-5 1-7 1-8 1-10 1-12 1-13 1-14 1-15 1-17 1-19 1-20 1-22 1-29 1-33 1-39 1-44 1-54 1-62 1-72 1-78 1-81 1-83 1-87 1-92 1-94 1-91 1-79 1-59 1-48 1-24 1 0 1 23 1 50 1 63 1 74 1 85 1 88 1 84 1 78 1 74 1 66 1 54 1 45 1 39 1 35 1 29 1 22 1 14 1 4 1-1 1-1 1-1 1 1 1 13 1 23 1 23 1 26 1 29 1 31 1 31 1 30 1 29 1 27 1 23 1 15 1 8 1 6 1 5 1 4 1 1 1-2 1-4 1-3 1 0 1 3 1 2 1 4 1 4 1 5 1 6 1 6 1 4 1 2 1 0 1-2 1-2 1-2 1-6 1-4 1 1 1 8 1 11 1 14 1 17 1 10 1-6 1-11 1-3 1 0 1 1 1 1 1 0 1 0 1-1 1-1 1-1 1-1 1-1 1 0 1 0 1 0 1 2 1 1 1 1 1 1 1 0 1 1 1 0 1 1 1 0 1 1 1 0 1 0 1 0 1-1 1 0 1 0 1 0 1 0 1 1 1 2 1 1 1 2 1 1 1 2 1 1 1 2 1 2 1 2 1 2 1 1 1 1 1 1 1 0 1 0 1-1 1-2 1-1 1 2 1 9 1 16 1 13 1-1 1-15 1-17 1-11 1-6 1-3 1-3 1-3 1-2 1-1 1 0 1-1 1-3 1-4 1-4 1-5 1-4 1-4 1-3 1-4 1-3 1-4 1-3 1-3 1-4 1-3 1-3 1-4 1-4 1-4 1-4 1-5 1-4 1-4 1-5 1-4 1-5 1-4" stroke="#7E2F8E"/>
<path d="M0,3787l1 6 1 4 1 3 1 3 1 3 1 3 1 2 1 4 1 4 1 5 1 3 1 3 1 3 1 2 1 2 1 2 1 3 1 2 1 2 1 3 1 3 1 4 1 6 1 6 1 3 1 0 1-1 1-2 1-2 1-1 1 0 1 0 1-3 1-4 1-6 1-6 1-7 1-8 1-10 1-12 1-13 1-14 1-15 1-17 1-19 1-20 1-22 1-26 1-31 1-35 1-44 1-54 1-66 1-75 1-78 1-79 1-79 1-83 1-91 1-93 1-91 1-78 1-60 1-47 1-26 1-1 1 22 1 50 1 65 1 77 1 86 1 88 1 84 1 78 1 74 1 66 1 53 1 43 1 37 1 36 1 34 1 29 1 20 1 9 1 3 1 4 1 5 1 7 1 12 1 16 1 16 1 20 1 27 1 31 1 30 1 27 1 27 1 25 1 24 1 15 1 8 1 5 1 4 1 2 1 0 1-5 1-5 1-3 1 2 1 2 1 3 1 4 1 5 1 7 1 6 1 6 1 3 1 0 1-4 1-4 1-3 1-4 1-5 1-3 1 4 1 9 1 8 1 6 1 6 1 7 1 4 1 0 1 3 1 2 1 1 1-1 1-3 1-2 1-1 1 0 1 1 1 1 1 1 1 1 1 1 1 1 1 1 1 1 1 1 1 1 1 1 1-1 1-1 1-1 1 0 1 0 1 0 1 0 1 1 1 0 1 1 1 0 1 1 1 0 1 0 1-1 1 2 1 3 1 3 1 0 1 0 1 1 1 2 1 3 1 2 1 0 1 0 1-1 1-1 1-1 1-1 1-2 1-3 1-2 1 0 1 0 1 0 1-1 1-2 1-2 1-4 1-6 1-5 1-4 1-3 1-2 1-1 1-1 1-1 1-2 1-3 1-3 1-4 1-6 1-8 1-7 1-6 1-6 1-7 1-6 1-4 1-4 1-4 1-6 1-8 1-8 1-6 1-4 1-4 1-5 1-7 1-6 1-6 1-8 1-9" stroke="#0072BD"/>
<path d="M0,3783l1 4 1 2 1 2 1 3 1 3 1 2 1 3 1 4 1 3 1 3 1 4 1 5 1 4 1 3 1 4 1 5 1 8 1 6 1 4 1 3 1 3 1 3 1 3 1 3 1 1 1 0 1 0 1 0 1-1 1-1 1-1 1-2 1-2 1-1 1-3 1-4 1-6 1-10 1-12 1-14 1-15 1-15 1-14 1-16 1-18 1-20 1-22 1-29 1-34 1-38 1-42 1-51 1-62 1-72 1-78 1-79 1-82 1-84 1-92 1-94 1-93 1-81 1-63 1-49 1-24 1 0 1 21 1 49 1 63 1 76 1 86 1 88 1 85 1 81 1 76 1 65 1 53 1 43 1 40 1 36 1 29 1 21 1 15 1 5 1 1 1 0 1 0 1 0 1 12 1 21 1 22 1 24 1 29 1 31 1 31 1 30 1 31 1 30 1 26 1 15 1 7 1 2 1 3 1 3 1 0 1-4 1-7 1-4 1 0 1 2 1 2 1 3 1 5 1 8 1 7 1 5 1 3 1-1 1-1 1-1 1 0 1-3 1-6 1-6 1-1 1 5 1 9 1 6 1 8 1 7 1 3 1-2 1-3 1 0 1 1 1 2 1 1 1 0 1-2 1-3 1-1 1 0 1 0 1 0 1 0 1 1 1 1 1 0 1 0 1 0 1 2 1 4 1 5 1 2 1-2 1-2 1-2 1-1 1-1 1-1 1-1 1-1 1 0 1 1 1 0 1 0 1 0 1 0 1 1 1 1 1 3 1 2 1 1 1 3 1 3 1 1 1 0 1 0 1 0 1 1 1 1 1 0 1-2 1-2 1-1 1 0 1-1 1-1 1 0 1-1 1-2 1-4 1-4 1-2 1-1 1-1 1-2 1-3 1-4 1-3 1-3 1-2 1-5 1-8 1-8 1-7 1-3 1-3 1-2 1-5 1-5 1-6 1-5 1-4 1-4 1-5 1-4 1-5 1-5 1-4 1-5 1-6 1-7 1-5 1-4" stroke="#D95319"/>
<path d="M0,3823l1 4 1 4 1 3 1 2 1 2 1 2 1 1 1 1 1 0 1 1 1 1 1 4 1 5 1 5 1 4 1 2 1 0 1 1 1 0 1 1 1 3 1 3 1 2 1 1 1 1 1 0 1 0 1 0 1-1 1-1 1-2 1-2 1-2 1-3 1-4 1-5 1-6 1-8 1-8 1-12 1-14 1-18 1-17 1-18 1-17 1-19 1-21 1-27 1-33 1-41 1-47 1-55 1-61 1-70 1-76 1-81 1-83 1-84 1-91 1-92 1-89 1-77 1-55 1-43 1-25 1 0 1 21 1 46 1 58 1 74 1 87 1 90 1 85 1 78 1 71 1 62 1 52 1 45 1 41 1 38 1 32 1 23 1 17 1 8 1 6 1 6 1 6 1 5 1 10 1 15 1 17 1 21 1 25 1 28 1 28 1 29 1 29 1 28 1 25 1 17 1 9 1 6 1 4 1 2 1 1 1-1 1-4 1-5 1-2 1 2 1 4 1 5 1 7 1 8 1 9 1 7 1 3 1-1 1-2 1 1 1 2 1 1 1-4 1-4 1 1 1 7 1 8 1 8 1 8 1 6 1-1 1-6 1-2 1 0 1-1 1-1 1-1 1-1 1-1 1-2 1-1 1 0 1 0 1-1 1-3 1-2 1 2 1 5 1 5 1 3 1-1 1-2 1-1 1-1 1 0 1 0 1 2 1 1 1-1 1-2 1-2 1 0 1 1 1 1 1 0 1 0 1 3 1 4 1 1 1-2 1-2 1-1 1 0 1 0 1 1 1 1 1 3 1 2 1 2 1 0 1-4 1-5 1-5 1-2 1 1 1 1 1 0 1-2 1-1 1 0 1-2 1-4 1-3 1-5 1-4 1-3 1-1 1 0 1 0 1-2 1-3 1-3 1-4 1-4 1-4 1-5 1-6 1-6 1-5 1-3 1-3 1-2 1-2 1-1 1-1 1-2 1-2 1-1 1-2 1-2 1-3 1-2 1-2 1 0 1 1" stroke="#EDB120"/>
<path d="M0,3773l1 5 1 4 1 4 1 4 1 4 1 4 1 4 1 3 1 3 1 5 1 7 1 4 1 3 1 2 1 2 1 4 1 4 1 4 1 3 1 3 1 4 1 3 1 2 1 2 1 1 1 1 1-1 1-1 1-2 1-1 1-1 1-1 1-3 1-7 1-7 1-8 1-8 1-9 1-9 1-11 1-11 1-11 1-10 1-16 1-19 1-21 1-23 1-29 1-35 1-39 1-45 1-54 1-63 1-73 1-78 1-81 1-84 1-88 1-93 1-93 1-92 1-85 1-70 1-55 1-22 1 4 1 24 1 59 1 70 1 78 1 85 1 86 1 83 1 77 1 73 1 67 1 57 1 46 1 40 1 34 1 26 1 15 1 9 1-3 1-8 1-7 1-7 1-7 1 10 1 28 1 30 1 32 1 36 1 39 1 38 1 34 1 31 1 28 1 23 1 16 1 11 1 8 1 7 1 4 1 0 1-3 1-1 1 2 1 6 1 3 1 1 1 1 1 5 1 7 1 6 1 4 1 3 1 3 1 0 1-4 1-5 1-5 1-6 1-3 1 2 1 7 1 10 1 7 1 8 1 8 1 4 1 0 1 0 1 0 1-1 1 1 1 2 1 1 1 0 1-1 1-2 1-3 1-2 1-2 1-3 1-3 1 0 1 2 1 2 1 2 1 0 1 0 1 1 1 2 1 2 1 1 1 0 1-2 1-1 1-1 1-2 1-3 1-3 1-1 1 1 1 4 1 4 1 3 1 1 1 2 1 0 1-2 1-1 1-1 1 1 1 4 1 6 1 4 1 2 1 1 1 0 1-1 1-2 1-1 1-1 1 0 1 0 1 0 1-1 1 0 1 1 1 1 1-2 1-4 1-4 1-2 1 1 1 1 1 1 1-4 1-5 1-5 1-3 1-4 1-5 1-4 1-3 1-1 1-1 1-2 1-4 1-4 1-3 1-1 1-2 1-1 1-2 1-2 1-2 1-4 1-4 1-3 1-5 1-4 1-4" stroke="#7E2F8E"/>
<path d="M0,3802l1 3 1 4 1 3 1 4 1 3 1 3 1 3 1 3 1 3 1 2 1 3 1 3 1 3 1 2 1 3 1 3 1 3 1 3 1 2 1 3 1 3 1 3 1 2 1 2 1 2 1 1 1 0 1 1 1-1 1-1 1-2 1-2 1-2 1-4 1-4 1-5 1-7 1-8 1-10 1-12 1-13 1-14 1-15 1-17 1-19 1-20 1-22 1-29 1-33 1-39 1-44 1-54 1-62 1-72 1-78 1-81 1-83 1-87 1-92 1-94 1-91 1-79 1-59 1-48 1-24 1 0 1 23 1 50 1 63 1 74 1 85 1 88 1 84 1 78 1 74 1 66 1 54 1 45 1 39 1 35 1 29 1 22 1 14 1 4 1-1 1-1 1-1 1 1 1 13 1 23 1 23 1 26 1 29 1 31 1 31 1 30 1 29 1 27 1 23 1 15 1 8 1 6 1 5 1 4 1 1 1-2 1-4 1-3 1 0 1 3 1 2 1 4 1 4 1 5 1 6 1 6 1 4 1 2 1 0 1-2 1-2 1-2 1-6 1-4 1 1 1 8 1 13 1 20 1 27 1 13 1-14 1-20 1-6 1-1 1 1 1 1 1 0 1 0 1-1 1-1 1-1 1-1 1-1 1 0 1 0 1 0 1 2 1 1 1 1 1 1 1 0 1 1 1 0 1 1 1 0 1 1 1 0 1 0 1 0 1-1 1 0 1 0 1 0 1 0 1 1 1 2 1 1 1 2 1 1 1 2 1 1 1 2 1 2 1 2 1 2 1 1 1 1 1 1 1 0 1 0 1-1 1-2 1-1 1 0 1 5 1 8 1 7 1-1 1-8 1-10 1-7 1-4 1-3 1-3 1-3 1-2 1-1 1 0 1-1 1-3 1-4 1-4 1-5 1-4 1-4 1-3 1-4 1-3 1-4 1-3 1-3 1-4 1-3 1-3 1-4 1-4 1-4 1-4 1-5 1-4 1-4 1-5 1-4 1-5 1-4" stroke="#D95319"/>
<path d="M0,3795l1 2 1 2 1 2 1 6 1 8 1 6 1 3 1-1 1 0 1 3 1 6 1 6 1 2 1 0 1 0 1 2 1 4 1 4 1 3 1 4 1 3 1 4 1 3 1 2 1 0 1 0 1-1 1-1 1-1 1-1 1-1 1-1 1-2 1-3 1-4 1-5 1-7 1-10 1-12 1-13 1-14 1-14 1-14 1-16 1-19 1-21 1-23 1-28 1-34 1-40 1-46 1-55 1-64 1-74 1-81 1-84 1-86 1-86 1-88 1-90 1-90 1-86 1-73 1-58 1-22 1 2 1 20 1 58 1 72 1 78 1 86 1 89 1 89 1 81 1 72 1 65 1 55 1 45 1 37 1 31 1 22 1 13 1 6 1-6 1-9 1-10 1-10 1-9 1 12 1 35 1 34 1 34 1 32 1 34 1 36 1 37 1 33 1 27 1 24 1 18 1 13 1 11 1 8 1 6 1 3 1 0 1-1 1-1 1 0 1 2 1 1 1 2 1 3 1 5 1 8 1 6 1 7 1 6 1 3 1 1 1-1 1-3 1-6 1-7 1-2 1 7 1 12 1 11 1 8 1 5 1 0 1-2 1 0 1 1 1 0 1-1 1 0 1 1 1-1 1-1 1-1 1-1 1 1 1 1 1 1 1 2 1 0 1 1 1 1 1 1 1 0 1-2 1-2 1-1 1 1 1 3 1 0 1-1 1-3 1-2 1 0 1 1 1 2 1 2 1 4 1 5 1 3 1 0 1-3 1-3 1-1 1 2 1 4 1 5 1 3 1 2 1 0 1 0 1 3 1 2 1-2 1-4 1-3 1-1 1 1 1 3 1 1 1 0 1-1 1-2 1-3 1-5 1-3 1-2 1-1 1-1 1 1 1 0 1-1 1-3 1-3 1-6 1-6 1-6 1-3 1-2 1-4 1-5 1-4 1-3 1 0 1-1 1-1 1-4 1-5 1-5 1-7 1-7 1-7 1-4 1-2 1-3 1-5 1-7 1-7" stroke="#77AC30"/>
<path d="M0,3820l1 1 1 0 1 3 1 5 1 4 1 1 1 1 1 0 1 0 1-1 1-2 1 0 1 2 1 4 1 4 1 3 1 1 1 1 1 2 1 3 1 2 1 3 1 5 1 2 1-1 1-1 1 0 1 1 1 1 1-1 1-3 1-5 1-4 1-5 1-4 1-5 1-6 1-8 1-10 1-10 1-11 1-13 1-15 1-20 1-20 1-20 1-21 1-27 1-33 1-38 1-45 1-54 1-63 1-72 1-78 1-83 1-85 1-87 1-92 1-94 1-92 1-83 1-67 1-53 1-24 1 1 1 23 1 58 1 71 1 78 1 85 1 88 1 86 1 80 1 74 1 69 1 58 1 46 1 37 1 29 1 22 1 15 1 8 1-1 1-7 1-7 1-9 1-8 1 9 1 28 1 30 1 32 1 34 1 35 1 34 1 33 1 30 1 26 1 21 1 13 1 9 1 8 1 6 1 4 1 0 1-4 1-4 1-3 1 1 1 1 1 2 1 3 1 5 1 9 1 9 1 6 1 3 1 1 1 0 1-2 1-3 1-6 1-8 1-6 1 1 1 11 1 14 1 8 1 8 1 7 1 5 1 4 1 2 1 1 1 0 1 0 1-1 1 0 1 1 1 1 1 1 1 1 1-1 1-3 1-1 1 1 1 3 1 3 1 2 1 1 1 1 1 2 1 1 1 1 1 0 1 1 1 1 1-1 1-3 1-3 1-1 1 2 1 2 1 1 1 0 1 1 1 2 1 2 1 2 1 2 1 2 1 1 1 1 1 1 1 1 1 2 1 1 1 0 1 1 1 0 1-1 1-2 1-1 1 0 1 0 1-1 1-1 1-2 1-2 1-4 1-6 1-5 1-4 1-3 1-3 1-2 1-2 1 0 1-1 1-3 1-6 1-7 1-6 1-4 1-6 1-7 1-7 1-9 1-8 1-8 1-6 1-5 1-6 1-7 1-9 1-9 1-8 1-5 1-5 1-5 1-6 1-7 1-9 1-11 1-11" stroke="#4DBEEE"/>
<path d="M0,3823l1 3 1 3 1 1 1 1 1 3 1 4 1 4 1 1 1-1 1 0 1 1 1 3 1 4 1 5 1 3 1 3 1 1 1 2 1 3 1 3 1 3 1 2 1 2 1 0 1-1 1-1 1 2 1 2 1 1 1-1 1-2 1-3 1-2 1-3 1-2 1-5 1-6 1-7 1-10 1-13 1-16 1-16 1-17 1-18 1-20 1-19 1-19 1-25 1-32 1-38 1-44 1-52 1-62 1-72 1-78 1-82 1-84 1-87 1-93 1-95 1-90 1-75 1-54 1-43 1-24 1 1 1 25 1 47 1 59 1 72 1 84 1 88 1 84 1 78 1 73 1 63 1 50 1 44 1 42 1 40 1 33 1 24 1 16 1 9 1 8 1 7 1 6 1 4 1 10 1 15 1 19 1 21 1 25 1 29 1 30 1 30 1 28 1 25 1 24 1 16 1 9 1 7 1 5 1 3 1-1 1-3 1-3 1-1 1 2 1 2 1 2 1 3 1 3 1 3 1 2 1 2 1 4 1 4 1 3 1-1 1-1 1-2 1-3 1-1 1 3 1 6 1 5 1 5 1 8 1 8 1 2 1-5 1-2 1-2 1-1 1-1 1 0 1 0 1 1 1 1 1 0 1-1 1-3 1-1 1-2 1 0 1 1 1 1 1 2 1 0 1-2 1-1 1 1 1 3 1 4 1 3 1 1 1-1 1-3 1-2 1-2 1 1 1 0 1 0 1 1 1 1 1 1 1 1 1 3 1 1 1 1 1 1 1 2 1 4 1 4 1 5 1 3 1 1 1-2 1-3 1-5 1-3 1-2 1 0 1-1 1 0 1-1 1-1 1-1 1-1 1-2 1-2 1-2 1-2 1-1 1 0 1 2 1 1 1-2 1-5 1-5 1-6 1-6 1-4 1-3 1-2 1-2 1-1 1 0 1-2 1-5 1-4 1-3 1 0 1-1 1-2 1-3 1-3 1-4 1-4 1-5 1-5 1-6 1-4 1-5" stroke="#A2142F"/>
<path d="M0,3799l1 3 1 2 1 1 1 0 1 0 1 1 1 3 1 5 1 5 1 4 1 2 1 3 1 3 1 3 1 3 1 2 1 3 1 3 1 4 1 5 1 3 1 2 1 1 1 2 1 2 1 2 1 1 1 1 1 1 1-2 1-3 1-4 1-4 1-5 1-6 1-7 1-9 1-9 1-9 1-9 1-10 1-12 1-15 1-20 1-25 1-25 1-25 1-29 1-31 1-34 1-39 1-50 1-64 1-75 1-81 1-83 1-85 1-89 1-94 1-94 1-91 1-82 1-68 1-56 1-24 1-1 1 19 1 59 1 75 1 82 1 87 1 88 1 85 1 80 1 74 1 67 1 56 1 44 1 36 1 30 1 21 1 11 1 2 1-11 1-15 1-12 1-12 1-10 1 12 1 35 1 35 1 35 1 36 1 36 1 37 1 38 1 36 1 30 1 22 1 14 1 9 1 7 1 5 1 5 1 5 1 3 1-1 1-1 1 0 1 1 1 3 1 3 1 6 1 7 1 9 1 6 1 4 1 1 1-1 1-1 1-2 1-4 1-7 1-5 1-1 1 8 1 13 1 10 1 9 1 7 1 3 1 3 1 3 1 1 1 0 1 0 1 1 1 2 1 1 1 0 1-2 1-2 1-4 1-2 1 1 1 3 1 3 1 1 1 0 1 2 1 4 1 4 1 4 1 2 1-1 1-2 1-2 1-2 1-2 1-2 1 0 1 1 1 5 1 6 1 3 1 1 1-2 1-1 1 0 1 2 1 0 1 0 1 1 1 2 1 3 1 3 1 5 1 3 1 2 1 1 1 0 1-2 1-3 1-2 1 1 1 3 1 2 1 0 1-3 1-5 1-5 1-4 1-5 1-4 1-5 1-2 1 0 1 1 1 1 1-2 1-4 1-5 1-6 1-5 1-6 1-6 1-6 1-4 1-3 1-3 1-4 1-4 1-2 1-4 1-6 1-9 1-10 1-8 1-5 1-1 1-2 1-4 1-8 1-10 1-9" stroke="#0072BD"/>
<path d="M0,3802l1 3 1 4 1 3 1 4 1 3 1 3 1 3 1 3 1 3 1 2 1 3 1 3 1 3 1 2 1 3 1 3 1 3 1 3 1 2 1 3 1 3 1 3 1 2 1 2 1 2 1 1 1 0 1 1 1-1 1-1 1-2 1-2 1-2 1-4 1-4 1-5 1-7 1-8 1-10 1-12 1-13 1-14 1-15 1-17 1-19 1-20 1-22 1-29 1-33 1-39 1-44 1-54 1-62 1-72 1-78 1-81 1-83 1-87 1-92 1-94 1-91 1-79 1-59 1-48 1-24 1 0 1 23 1 50 1 63 1 74 1 85 1 88 1 84 1 78 1 74 1 66 1 54 1 45 1 39 1 35 1 29 1 22 1 14 1 4 1-1 1-1 1-1 1 1 1 13 1 23 1 23 1 26 1 29 1 31 1 31 1 30 1 29 1 27 1 23 1 15 1 8 1 6 1 5 1 4 1 1 1-2 1-4 1-3 1 0 1 3 1 2 1 4 1 4 1 5 1 6 1 6 1 4 1 2 1 0 1-2 1-2 1-2 1-6 1-4 1 1 1 8 1 12 1 17 1 22 1 12 1-11 1-15 1-5 1 0 1 1 1 1 1 0 1 0 1-1 1-1 1-1 1-1 1-1 1 0 1 0 1 0 1 2 1 1 1 1 1 1 1 0 1 1 1 0 1 1 1 0 1 1 1 0 1 0 1 0 1-1 1 0 1 0 1 0 1 0 1 1 1 2 1 1 1 2 1 1 1 2 1 1 1 2 1 2 1 2 1 2 1 1 1 1 1 1 1 0 1 0 1-1 1-2 1-1 1 1 1 7 1 12 1 10 1-1 1-12 1-13 1-9 1-5 1-3 1-3 1-3 1-2 1-1 1 0 1-1 1-3 1-4 1-4 1-5 1-4 1-4 1-3 1-4 1-3 1-4 1-3 1-3 1-4 1-3 1-3 1-4 1-4 1-4 1-4 1-5 1-4 1-4 1-5 1-4 1-5 1-4" stroke="#A2142F"/>
<path d="M0,3825l1 2 1 3 1 3 1 1 1 2 1 3 1 2 1 1 1 1 1 2 1 1 1 3 1 2 1 3 1 2 1 2 1 3 1 3 1 3 1 3 1 3 1 2 1 2 1 1 1 1 1 1 1 1 1 0 1-2 1-2 1-1 1 1 1 0 1-1 1-4 1-6 1-9 1-11 1-12 1-13 1-13 1-16 1-16 1-17 1-18 1-18 1-22 1-28 1-35 1-38 1-45 1-53 1-62 1-70 1-76 1-81 1-86 1-88 1-94 1-95 1-91 1-78 1-58 1-48 1-27 1-6 1 18 1 51 1 66 1 76 1 84 1 88 1 86 1 81 1 74 1 66 1 56 1 44 1 37 1 34 1 28 1 21 1 13 1 2 1 0 1-1 1 0 1 1 1 11 1 23 1 24 1 28 1 31 1 31 1 31 1 31 1 30 1 30 1 26 1 17 1 11 1 10 1 6 1 2 1-1 1-3 1-4 1-2 1 0 1 2 1 1 1 3 1 5 1 7 1 7 1 7 1 3 1 0 1-2 1 1 1 0 1-2 1-5 1-3 1 3 1 9 1 8 1 6 1 5 1 5 1 0 1-3 1-1 1 0 1 1 1 1 1 1 1-1 1-3 1-3 1-3 1-3 1-1 1-1 1 1 1 1 1 1 1 2 1 2 1 1 1-1 1-2 1-1 1 0 1 0 1-1 1-1 1-2 1-1 1-1 1-2 1-3 1-1 1 1 1 4 1 5 1 2 1 0 1-3 1-3 1-2 1 2 1 3 1 3 1 2 1 3 1 4 1 3 1 4 1 3 1 0 1-2 1-3 1-2 1 0 1 1 1 0 1 1 1 0 1-1 1-3 1-5 1-4 1-3 1-1 1 0 1 1 1 0 1-2 1-1 1-2 1-3 1-3 1-5 1-2 1-1 1 0 1-1 1-1 1 1 1 1 1 0 1-2 1-3 1-4 1-5 1-4 1-1 1 0 1-2 1-4 1-4 1-2 1-1 1-1" stroke="#D95319"/>
<path d="M0,3819l1 1 1 0 1 0 1-1 1 1 1 4 1 5 1 4 1 1 1-1 1 1 1 3 1 4 1 4 1 2 1 2 1 3 1 3 1 2 1 2 1 4 1 3 1 2 1 2 1 0 1 1 1 2 1 2 1-1 1-4 1-4 1-3 1-3 1-6 1-5 1-5 1-5 1-6 1-10 1-13 1-13 1-13 1-14 1-17 1-21 1-21 1-23 1-27 1-34 1-38 1-43 1-50 1-60 1-72 1-79 1-85 1-88 1-89 1-93 1-92 1-90 1-80 1-63 1-48 1-22 1 1 1 20 1 50 1 64 1 76 1 86 1 89 1 85 1 79 1 75 1 68 1 56 1 43 1 36 1 33 1 29 1 21 1 14 1-1 1-7 1-6 1-4 1-2 1 12 1 25 1 28 1 29 1 32 1 33 1 33 1 33 1 32 1 27 1 22 1 13 1 10 1 8 1 8 1 7 1 2 1-3 1-5 1-6 1-2 1 3 1 4 1 3 1 3 1 5 1 7 1 8 1 6 1 4 1 1 1 0 1-1 1-3 1-6 1-4 1 3 1 9 1 10 1 7 1 6 1 7 1 3 1 1 1 3 1 4 1 1 1 0 1 0 1 1 1 1 1-2 1-3 1-4 1-2 1 0 1 2 1 3 1 3 1 1 1 0 1 0 1 0 1 2 1 0 1-1 1-1 1 1 1 2 1 1 1 2 1 0 1-2 1-3 1-2 1-1 1 1 1 2 1 2 1 3 1 4 1 3 1 2 1 1 1 0 1 1 1 3 1 2 1 2 1 1 1 1 1-2 1-3 1-2 1-2 1-1 1 1 1 0 1-1 1-3 1-2 1 1 1 2 1 1 1-2 1-4 1-6 1-5 1-3 1-3 1-2 1-3 1-3 1-4 1-4 1-3 1-2 1-3 1-2 1-1 1 0 1-3 1-5 1-6 1-7 1-7 1-6 1-4 1-4 1-3 1-4 1-4 1-5 1-6 1-7 1-5 1-4" stroke="#EDB120"/>
<path d="M0,3823l1 3 1 2 1 2 1 2 1 3 1 2 1 3 1 2 1 4 1 3 1 2 1 2 1 1 1 1 1 0 1 2 1 4 1 3 1 1 1 1 1 0 1 1 1 0 1 1 1 3 1 3 1 4 1 2 1-1 1-2 1-2 1-1 1-1 1-2 1-2 1-4 1-6 1-9 1-11 1-12 1-13 1-13 1-14 1-18 1-19 1-21 1-22 1-28 1-34 1-39 1-48 1-56 1-65 1-72 1-76 1-79 1-81 1-83 1-92 1-95 1-91 1-77 1-56 1-42 1-22 1 1 1 22 1 45 1 57 1 73 1 85 1 88 1 84 1 78 1 73 1 63 1 53 1 46 1 42 1 41 1 35 1 26 1 17 1 7 1 3 1 4 1 5 1 6 1 12 1 18 1 19 1 22 1 26 1 28 1 27 1 28 1 28 1 28 1 25 1 17 1 10 1 5 1 3 1 1 1-1 1-3 1-5 1-3 1 1 1 1 1 2 1 2 1 3 1 4 1 3 1 2 1 2 1 3 1 2 1 0 1-3 1-4 1-6 1-4 1 1 1 7 1 8 1 7 1 6 1 6 1 1 1-2 1-1 1 0 1 2 1 2 1 0 1 0 1-1 1-2 1-2 1-4 1-5 1-3 1 1 1 3 1 5 1 4 1 3 1 0 1-1 1-1 1 2 1 2 1 3 1 2 1 0 1-2 1-5 1-4 1-2 1 2 1 3 1 1 1 0 1 2 1 3 1 4 1 3 1 4 1 4 1 4 1 3 1 2 1 1 1 0 1 1 1-1 1 0 1-1 1 1 1 0 1 1 1 0 1-1 1-2 1-2 1-2 1-1 1-2 1-3 1-3 1-3 1-2 1 0 1 1 1 0 1-1 1-3 1-3 1-2 1-2 1-3 1-2 1-2 1-2 1-3 1-5 1-4 1-3 1-2 1-2 1-3 1-2 1 0 1 1 1 0 1-1 1-3 1-4 1-6 1-5 1-5 1-4 1-4" stroke="#7E2F8E"/>
<path d="M0,3806l1 5 1 4 1 3 1 3 1 3 1 4 1 3 1 1 1 0 1 0 1-1 1 2 1 4 1 6 1 5 1 3 1 2 1 2 1 5 1 5 1 4 1 3 1 1 1 0 1-1 1-1 1 0 1 0 1 0 1-1 1-2 1-2 1-2 1-3 1-5 1-8 1-8 1-10 1-11 1-12 1-11 1-10 1-11 1-16 1-18 1-21 1-24 1-32 1-37 1-41 1-44 1-52 1-61 1-72 1-77 1-82 1-86 1-89 1-92 1-92 1-88 1-78 1-62 1-48 1-22 1 0 1 21 1 52 1 66 1 76 1 84 1 85 1 83 1 78 1 75 1 66 1 54 1 45 1 39 1 36 1 29 1 20 1 12 1 2 1-2 1-3 1-3 1-2 1 12 1 24 1 23 1 25 1 29 1 31 1 33 1 32 1 29 1 26 1 23 1 16 1 9 1 6 1 4 1 3 1 2 1-1 1-5 1-7 1-3 1 2 1 4 1 4 1 5 1 8 1 9 1 8 1 4 1 0 1-4 1-4 1-4 1-5 1-8 1-5 1 2 1 11 1 12 1 8 1 8 1 8 1 4 1 1 1 2 1 4 1 4 1 0 1-1 1-1 1-2 1-2 1-1 1-1 1 0 1 0 1 1 1 1 1 3 1 4 1 4 1 4 1 0 1-2 1-2 1-1 1 1 1 2 1 1 1 1 1-1 1-2 1-1 1 1 1 1 1 1 1 0 1 2 1 2 1 3 1 3 1 4 1 2 1 3 1 1 1 0 1 2 1 3 1 1 1 1 1 1 1 2 1 1 1-1 1-3 1-2 1 0 1 1 1-1 1-1 1 0 1 2 1 2 1 1 1-1 1-4 1-4 1-4 1-2 1-2 1-4 1-5 1-4 1-3 1-4 1-4 1-2 1 0 1 0 1-2 1-2 1-2 1 0 1 0 1-1 1-4 1-4 1-4 1-2 1-1 1 1 1-2 1-5 1-5 1-5 1-4 1-4" stroke="#77AC30"/>
<path d="M0,3788l1 4 1 5 1 5 1 6 1 5 1 3 1 4 1 3 1 3 1 2 1 2 1 2 1 5 1 4 1 2 1 1 1 1 1 3 1 2 1 4 1 4 1 5 1 3 1 2 1 0 1 1 1 1 1 1 1 2 1 1 1-1 1-3 1-4 1-4 1-6 1-7 1-8 1-9 1-8 1-10 1-11 1-15 1-18 1-19 1-19 1-18 1-21 1-29 1-34 1-39 1-44 1-53 1-65 1-76 1-82 1-83 1-82 1-84 1-89 1-92 1-91 1-82 1-63 1-48 1-22 1 0 1 19 1 53 1 67 1 77 1 87 1 89 1 84 1 79 1 74 1 67 1 55 1 43 1 35 1 29 1 21 1 13 1 9 1-1 1-5 1-4 1-6 1-6 1 11 1 27 1 30 1 32 1 33 1 34 1 33 1 31 1 29 1 25 1 20 1 13 1 9 1 6 1 6 1 5 1 3 1 0 1-3 1-3 1-1 1 0 1 2 1 3 1 5 1 7 1 6 1 5 1 5 1 3 1 2 1-1 1-4 1-6 1-9 1-8 1-4 1 7 1 13 1 10 1 10 1 9 1 7 1 4 1 3 1 2 1 1 1 0 1 0 1-1 1 0 1-1 1 1 1 0 1-1 1-2 1 0 1 1 1 2 1 1 1 1 1-1 1-1 1 0 1 2 1 3 1 4 1 3 1 2 1 0 1-1 1-2 1-4 1-3 1 1 1 1 1 0 1 0 1 1 1 3 1 3 1 2 1 1 1 2 1 3 1 3 1 2 1 2 1 1 1 0 1 1 1 2 1 0 1 0 1-1 1-2 1 0 1 0 1 3 1 4 1 2 1-2 1-4 1-6 1-4 1-4 1-2 1 0 1 2 1 1 1 0 1-1 1-3 1-4 1-4 1-4 1-5 1-4 1-2 1-1 1 1 1 1 1-3 1-4 1-4 1-3 1-3 1-2 1-2 1-1 1-1 1-2 1-4 1-5 1-6 1-5 1-6" stroke="#4DBEEE"/>
<path d="M0,3763l1 2 1 3 1 3 1 4 1 5 1 6 1 5 1 5 1 5 1 5 1 4 1 3 1 4 1 4 1 5 1 3 1 2 1 2 1 3 1 5 1 5 1 6 1 4 1 4 1 2 1 1 1-1 1-1 1-1 1 0 1 0 1 0 1-1 1-5 1-6 1-7 1-5 1-7 1-11 1-14 1-14 1-13 1-14 1-16 1-17 1-18 1-23 1-31 1-36 1-39 1-44 1-52 1-62 1-73 1-81 1-84 1-85 1-87 1-92 1-95 1-92 1-83 1-66 1-50 1-19 1 3 1 22 1 57 1 69 1 79 1 84 1 86 1 83 1 78 1 74 1 67 1 57 1 46 1 37 1 29 1 21 1 16 1 11 1-1 1-4 1-5 1-4 1-5 1 13 1 28 1 29 1 30 1 32 1 35 1 34 1 33 1 31 1 29 1 25 1 16 1 9 1 7 1 6 1 4 1 3 1 1 1 1 1 0 1 0 1-1 1 0 1 3 1 5 1 7 1 6 1 5 1 2 1-1 1-2 1 0 1 2 1 0 1-4 1-4 1 2 1 9 1 11 1 8 1 7 1 6 1 1 1-3 1 2 1 4 1 2 1 2 1 2 1 1 1-1 1-2 1-3 1-3 1-3 1-2 1-1 1 1 1 2 1 3 1 3 1 2 1 1 1 1 1 1 1 1 1 0 1 0 1 0 1 0 1 0 1-1 1-1 1-1 1 0 1 0 1 0 1 0 1 1 1 4 1 4 1 2 1-3 1-2 1 1 1 2 1 3 1 2 1 2 1 0 1-1 1-1 1-2 1-3 1-1 1 1 1 1 1 1 1-1 1-2 1-1 1-2 1-4 1-5 1-8 1-7 1-6 1-1 1-1 1-1 1-2 1-4 1-6 1-6 1-6 1-7 1-7 1-7 1-9 1-9 1-7 1-6 1-5 1-6 1-8 1-9 1-7 1-6 1-7 1-7 1-7 1-7 1-7 1-7 1-9 1-9 1-9" stroke="#A2142F"/>
<path d="M0,3759l1 6 1 7 1 4 1 2 1 2 1 5 1 6 1 6 1 5 1 7 1 5 1 3 1 2 1 4 1 4 1 4 1 4 1 4 1 3 1 4 1 4 1 3 1 2 1 2 1 4 1 5 1 3 1 1 1-2 1-2 1-4 1-4 1-1 1-3 1-5 1-8 1-10 1-11 1-11 1-12 1-12 1-13 1-13 1-14 1-17 1-19 1-23 1-31 1-35 1-39 1-43 1-53 1-64 1-74 1-77 1-80 1-84 1-87 1-93 1-93 1-89 1-80 1-66 1-53 1-24 1-1 1 19 1 54 1 69 1 79 1 86 1 86 1 82 1 78 1 75 1 71 1 59 1 45 1 35 1 28 1 21 1 16 1 8 1-4 1-9 1-11 1-12 1-12 1 8 1 30 1 33 1 33 1 35 1 34 1 33 1 32 1 31 1 28 1 22 1 15 1 10 1 10 1 8 1 5 1 2 1-1 1-3 1-4 1 0 1 3 1 5 1 4 1 4 1 9 1 10 1 11 1 6 1 2 1-2 1-3 1-3 1-4 1-7 1-6 1 0 1 10 1 14 1 9 1 10 1 8 1 4 1 0 1 1 1 2 1 3 1 3 1 2 1-1 1-1 1-1 1 1 1-1 1-4 1-5 1-2 1 1 1 5 1 7 1 6 1 3 1-1 1-1 1-1 1-1 1 0 1 1 1 1 1 0 1 0 1-2 1-4 1-2 1 1 1 1 1 0 1 0 1 1 1 2 1 2 1 1 1 0 1 0 1 1 1 0 1-1 1 0 1-1 1 0 1 0 1 2 1 1 1 0 1-1 1-1 1 0 1-1 1-1 1-1 1-1 1-3 1-4 1-5 1-4 1-4 1-1 1 0 1 0 1-1 1-4 1-6 1-8 1-6 1-6 1-6 1-6 1-5 1-7 1-7 1-7 1-6 1-6 1-6 1-7 1-7 1-9 1-7 1-8 1-6 1-5 1-3 1-6 1-7 1-9 1-10 1-9" stroke="#0072BD"/>
<path d="M0,3802l1 5 1 5 1 5 1 3 1 3 1 2 1 1 1 0 1 1 1 3 1 3 1 2 1 2 1 2 1 3 1 3 1 3 1 4 1 4 1 3 1 1 1 0 1-2 1 0 1 1 1 2 1 2 1 2 1 1 1 0 1-2 1-3 1-3 1-3 1-7 1-8 1-9 1-7 1-9 1-10 1-11 1-12 1-14 1-18 1-22 1-23 1-24 1-29 1-33 1-37 1-42 1-52 1-64 1-76 1-79 1-80 1-84 1-87 1-93 1-91 1-88 1-81 1-65 1-52 1-22 1 2 1 22 1 53 1 65 1 76 1 85 1 89 1 85 1 79 1 75 1 69 1 58 1 45 1 36 1 32 1 26 1 18 1 11 1 1 1-4 1-6 1-8 1-6 1 11 1 27 1 26 1 25 1 30 1 33 1 35 1 34 1 32 1 29 1 22 1 13 1 6 1 5 1 6 1 7 1 3 1-1 1-4 1-3 1 0 1 1 1 1 1 3 1 4 1 8 1 9 1 6 1 4 1 1 1-1 1-2 1-2 1-2 1-6 1-5 1-1 1 10 1 14 1 8 1 6 1 6 1 3 1 1 1 2 1 2 1 2 1 2 1 2 1 1 1 0 1 0 1-2 1-2 1-3 1-2 1 0 1 3 1 4 1 3 1 2 1 1 1 0 1-1 1 0 1 1 1 1 1 1 1 1 1-1 1-3 1-2 1 0 1 2 1 1 1 0 1-2 1 0 1 3 1 4 1 4 1 4 1 2 1 3 1 4 1 3 1 2 1 3 1 1 1 0 1 1 1 2 1 4 1 2 1-1 1-2 1 0 1 2 1 1 1-2 1-3 1-4 1-3 1-2 1-2 1 0 1-1 1-1 1-3 1-3 1-2 1-3 1-4 1-5 1-4 1-4 1-2 1-1 1-1 1-2 1-2 1-3 1-5 1-5 1-5 1-4 1-4 1-6 1-6 1-5 1-6 1-7 1-7 1-5 1-3 1-4 1-6" stroke="#D95319"/>
<path d="M0,3762l1 2 1 1 1 1 1 3 1 6 1 6 1 5 1 4 1 5 1 5 1 6 1 4 1 4 1 4 1 4 1 4 1 3 1 1 1 2 1 3 1 6 1 6 1 7 1 3 1 1 1 0 1 0 1 3 1 2 1-1 1-3 1-3 1-2 1-2 1-3 1-6 1-10 1-10 1-11 1-12 1-12 1-13 1-13 1-16 1-18 1-20 1-23 1-30 1-35 1-37 1-41 1-52 1-63 1-73 1-77 1-81 1-85 1-87 1-92 1-92 1-91 1-82 1-67 1-54 1-25 1 0 1 22 1 58 1 71 1 80 1 84 1 85 1 82 1 77 1 71 1 66 1 56 1 46 1 39 1 32 1 23 1 13 1 5 1-6 1-10 1-10 1-11 1-12 1 9 1 29 1 31 1 32 1 33 1 33 1 35 1 35 1 32 1 29 1 21 1 14 1 10 1 9 1 7 1 3 1 0 1-2 1-3 1 0 1 5 1 5 1 4 1 3 1 4 1 6 1 5 1 5 1 6 1 6 1 4 1 0 1-3 1-5 1-8 1-6 1 1 1 12 1 15 1 11 1 10 1 9 1 6 1 1 1 0 1 0 1 0 1 1 1 2 1 1 1 1 1 1 1-1 1-1 1-2 1 0 1 2 1 3 1 2 1 2 1 3 1 2 1 0 1 0 1-1 1 0 1 2 1 3 1 2 1 0 1-1 1 0 1 0 1-1 1-1 1-2 1-2 1 0 1 2 1 3 1 3 1 3 1 3 1 3 1 3 1 2 1 0 1 0 1-1 1-1 1 0 1-1 1-2 1-4 1-4 1-1 1 2 1 2 1 1 1 0 1 0 1 0 1-2 1-4 1-5 1-4 1-3 1-3 1-1 1 1 1-1 1-5 1-7 1-6 1-4 1-2 1-2 1-3 1-4 1-4 1-5 1-5 1-6 1-6 1-5 1-5 1-4 1-3 1-2 1 0 1-3 1-5 1-5 1-6 1-4 1-6 1-7" stroke="#EDB120"/>
<path d="M0,3778l1 4 1 3 1 4 1 3 1 4 1 4 1 3 1 3 1 2 1 1 1 2 1 5 1 7 1 6 1 4 1 2 1 3 1 5 1 6 1 5 1 2 1 3 1 3 1 4 1 5 1 2 1 0 1-3 1-5 1-4 1-3 1-2 1-3 1-4 1-4 1-5 1-7 1-9 1-10 1-10 1-11 1-14 1-15 1-18 1-17 1-19 1-23 1-31 1-36 1-38 1-43 1-53 1-63 1-74 1-78 1-82 1-85 1-90 1-94 1-95 1-94 1-85 1-69 1-54 1-20 1 2 1 20 1 60 1 74 1 80 1 85 1 86 1 83 1 77 1 73 1 67 1 58 1 45 1 36 1 30 1 20 1 13 1 5 1-6 1-11 1-13 1-14 1-14 1 8 1 30 1 32 1 33 1 37 1 39 1 38 1 37 1 35 1 28 1 20 1 10 1 7 1 10 1 10 1 7 1 3 1-1 1-5 1-3 1 2 1 5 1 4 1 6 1 5 1 8 1 8 1 9 1 7 1 2 1-2 1-2 1-2 1-5 1-8 1-9 1-2 1 10 1 15 1 12 1 10 1 11 1 7 1 3 1 1 1 0 1 2 1 2 1 1 1 0 1 0 1 1 1 1 1 0 1-1 1 0 1 0 1 0 1 0 1 1 1 2 1 1 1 1 1 2 1 1 1 1 1 1 1 0 1-1 1 1 1 0 1 0 1-2 1-2 1-2 1 0 1 1 1 2 1 2 1 1 1 0 1 1 1 2 1 4 1 2 1 1 1-1 1-2 1-1 1 2 1 5 1 3 1 1 1-2 1-2 1-1 1 0 1-1 1 1 1 1 1 2 1-1 1-4 1-5 1-4 1-4 1-6 1-6 1-3 1 0 1 0 1-1 1-5 1-7 1-8 1-7 1-8 1-7 1-5 1-4 1-4 1-2 1-3 1-5 1-7 1-9 1-7 1-6 1-6 1-7 1-7 1-6 1-7 1-8 1-7 1-9 1-9" stroke="#7E2F8E"/>
<path d="M0,3779l1 3 1 5 1 6 1 7 1 3 1 0 1 0 1 3 1 4 1 4 1 3 1 4 1 3 1 2 1 1 1 2 1 5 1 6 1 6 1 4 1 2 1 3 1 3 1 2 1 1 1 1 1 1 1-1 1-2 1-2 1-2 1-2 1-1 1-2 1-3 1-6 1-10 1-10 1-11 1-10 1-13 1-14 1-16 1-17 1-18 1-19 1-24 1-31 1-35 1-38 1-43 1-52 1-62 1-72 1-76 1-81 1-85 1-89 1-94 1-95 1-91 1-83 1-70 1-57 1-24 1 0 1 21 1 59 1 73 1 80 1 85 1 87 1 85 1 82 1 75 1 66 1 54 1 41 1 35 1 32 1 26 1 17 1 8 1-6 1-10 1-10 1-8 1-7 1 13 1 33 1 34 1 34 1 35 1 36 1 38 1 37 1 32 1 27 1 22 1 13 1 10 1 9 1 10 1 7 1 1 1-5 1-5 1-2 1 0 1 0 1 3 1 7 1 9 1 8 1 7 1 4 1 2 1 0 1-3 1-4 1-4 1-5 1-6 1-6 1-1 1 9 1 13 1 8 1 8 1 7 1 4 1 2 1 2 1 1 1 2 1 1 1 0 1-2 1-4 1-4 1-2 1 0 1 0 1 0 1 1 1 1 1 2 1 1 1 0 1 0 1 2 1 1 1 0 1 1 1 2 1 2 1 1 1 0 1-3 1-5 1-3 1 0 1 3 1 3 1 1 1 1 1 0 1 0 1 0 1 0 1-1 1 0 1 0 1 1 1 1 1 3 1 5 1 5 1 3 1 1 1 0 1-1 1-2 1-3 1-2 1-3 1 0 1 1 1 0 1-1 1-4 1-5 1-3 1-3 1-2 1-2 1-3 1-6 1-5 1-4 1-6 1-5 1-5 1-3 1-5 1-7 1-8 1-6 1-4 1-4 1-5 1-7 1-9 1-9 1-8 1-8 1-7 1-7 1-6 1-4 1-4 1-6 1-8 1-9 1-10" stroke="#77AC30"/>
<path d="M0,3829l1 0 1 1 1 3 1 3 1 3 1 1 1 1 1 2 1 3 1 4 1 3 1 1 1 1 1 2 1 3 1 4 1 3 1 2 1 2 1 2 1 2 1 2 1 2 1 1 1 0 1-1 1 0 1 0 1-1 1 0 1-1 1 0 1 0 1-1 1-2 1-4 1-7 1-10 1-11 1-12 1-14 1-15 1-17 1-19 1-21 1-21 1-22 1-28 1-33 1-37 1-44 1-54 1-65 1-74 1-78 1-79 1-80 1-83 1-91 1-94 1-90 1-77 1-56 1-43 1-24 1 1 1 24 1 48 1 58 1 70 1 81 1 87 1 84 1 81 1 76 1 64 1 51 1 42 1 38 1 38 1 35 1 28 1 19 1 10 1 7 1 7 1 7 1 7 1 11 1 17 1 17 1 21 1 25 1 26 1 26 1 26 1 27 1 27 1 23 1 14 1 8 1 5 1 3 1 1 1-3 1-5 1-4 1-2 1-1 1 0 1 2 1 3 1 4 1 5 1 6 1 6 1 5 1 1 1-2 1-3 1-3 1-2 1-2 1-1 1 4 1 9 1 8 1 5 1 5 1 7 1 5 1 0 1 0 1-3 1-2 1-1 1 1 1 1 1 0 1-2 1-1 1 0 1 2 1 1 1 0 1 2 1 1 1 0 1-1 1-1 1 1 1 3 1 3 1 2 1 0 1 0 1-1 1-1 1-2 1-1 1-2 1 0 1 1 1 2 1 4 1 3 1 3 1 3 1 1 1-1 1-1 1 1 1 3 1 4 1 5 1 3 1 0 1-1 1 1 1 2 1 1 1-1 1-2 1-3 1-1 1-1 1-2 1-2 1-1 1 0 1 0 1-1 1-3 1-5 1-4 1-4 1-2 1-1 1-1 1-4 1-3 1-3 1-1 1-1 1-3 1-3 1-3 1-2 1 0 1 0 1 0 1-3 1-4 1-5 1-3 1-2 1-3 1-3 1-3 1-3 1-2 1-1 1-1 1-2 1-3" stroke="#4DBEEE"/>
<path d="M0,3822l1 3 1 5 1 5 1 3 1 1 1 0 1 2 1 2 1 2 1 2 1 2 1 0 1 0 1 2 1 3 1 4 1 1 1 0 1 1 1 1 1 1 1 1 1 2 1 3 1 2 1 2 1 2 1 3 1 1 1 1 1-1 1-2 1-2 1-3 1-5 1-7 1-9 1-9 1-11 1-13 1-15 1-14 1-13 1-15 1-19 1-22 1-23 1-28 1-32 1-38 1-46 1-54 1-62 1-71 1-76 1-80 1-85 1-89 1-94 1-94 1-90 1-80 1-62 1-48 1-23 1 3 1 23 1 51 1 61 1 70 1 81 1 89 1 88 1 83 1 75 1 65 1 54 1 46 1 38 1 33 1 25 1 16 1 8 1-5 1-9 1-8 1-5 1-4 1 11 1 25 1 26 1 28 1 32 1 33 1 33 1 33 1 30 1 28 1 20 1 11 1 6 1 6 1 7 1 4 1 3 1-1 1-3 1-4 1 0 1 4 1 6 1 5 1 2 1 3 1 4 1 7 1 5 1 2 1 0 1 0 1 2 1-2 1-7 1-7 1 0 1 11 1 15 1 10 1 8 1 7 1 4 1 2 1 3 1 3 1 2 1 1 1 1 1 1 1-1 1 0 1 0 1 0 1-1 1-1 1 0 1 1 1 0 1 0 1 1 1 0 1 1 1 1 1 1 1 3 1 4 1 2 1 0 1-2 1-3 1 0 1 2 1 3 1 2 1 0 1 1 1 0 1 2 1 1 1 1 1 2 1 1 1 1 1 1 1 0 1 2 1 4 1 3 1 2 1 0 1 0 1-2 1-2 1-2 1-2 1-1 1 0 1 1 1 0 1 0 1 0 1-3 1-5 1-6 1-3 1-1 1-1 1-2 1-3 1-3 1-2 1-3 1-3 1-2 1-3 1-4 1-3 1-3 1 0 1-1 1-3 1-5 1-4 1-3 1-1 1 0 1 1 1 0 1-2 1-3 1-4 1-3 1-2 1 0 1 0 1-3" stroke="#A2142F"/>
<path d="M0,3784l1 3 1 3 1 2 1 3 1 3 1 3 1 2 1 1 1 1 1 3 1 7 1 7 1 5 1 2 1 0 1 3 1 6 1 6 1 6 1 3 1 1 1 2 1 2 1 2 1 0 1 1 1 2 1 4 1 2 1 1 1-1 1-2 1-3 1-4 1-6 1-6 1-7 1-6 1-8 1-10 1-14 1-16 1-17 1-19 1-23 1-23 1-22 1-27 1-31 1-38 1-43 1-51 1-61 1-72 1-81 1-84 1-85 1-86 1-91 1-93 1-90 1-81 1-65 1-52 1-24 1 1 1 24 1 55 1 67 1 77 1 84 1 86 1 84 1 78 1 73 1 65 1 55 1 45 1 37 1 33 1 26 1 18 1 10 1-2 1-6 1-5 1-5 1-5 1 11 1 27 1 28 1 29 1 30 1 31 1 32 1 31 1 30 1 26 1 21 1 14 1 7 1 7 1 6 1 5 1 3 1-2 1-4 1-5 1-3 1 0 1 0 1 3 1 4 1 7 1 9 1 9 1 7 1 1 1-5 1-8 1-6 1-6 1-8 1-7 1-4 1 10 1 17 1 11 1 8 1 8 1 5 1 3 1 1 1 1 1 3 1 3 1 2 1 2 1 1 1 2 1 1 1 1 1 0 1-2 1-2 1-1 1 0 1 1 1 2 1 2 1 2 1 0 1 0 1-1 1 0 1 1 1 3 1 2 1 1 1-1 1-1 1 1 1 3 1 1 1 0 1 0 1 1 1 2 1 2 1 2 1 2 1 2 1 3 1 2 1 0 1 2 1 2 1 4 1 3 1 3 1 2 1-1 1-3 1-1 1-1 1 0 1-1 1 0 1-1 1-1 1-2 1-3 1-4 1-1 1-1 1-1 1 0 1-2 1-2 1-4 1-3 1-3 1-3 1-7 1-7 1-5 1-2 1 0 1 0 1-2 1-4 1-5 1-5 1-5 1-6 1-7 1-7 1-4 1-4 1-3 1-3 1-4 1-5 1-6 1-6" stroke="#0072BD"/>
<path d="M0,3819l1 4 1 3 1 3 1 4 1 5 1 5 1 2 1 2 1 1 1 2 1 2 1 4 1 3 1 3 1-1 1-1 1-1 1 2 1 3 1 3 1 4 1 5 1 4 1 1 1-1 1-3 1-2 1 0 1 1 1 1 1 0 1-1 1-2 1-3 1-4 1-5 1-6 1-7 1-9 1-10 1-13 1-15 1-16 1-18 1-20 1-20 1-24 1-29 1-35 1-38 1-44 1-52 1-62 1-72 1-78 1-80 1-82 1-87 1-96 1-96 1-90 1-73 1-52 1-42 1-24 1 0 1 23 1 46 1 57 1 70 1 84 1 89 1 84 1 77 1 74 1 66 1 54 1 46 1 41 1 37 1 31 1 23 1 18 1 10 1 7 1 7 1 5 1 4 1 9 1 14 1 15 1 20 1 25 1 29 1 29 1 28 1 27 1 26 1 22 1 14 1 8 1 6 1 5 1 4 1 1 1-4 1-8 1-6 1 0 1 4 1 5 1 6 1 4 1 3 1 5 1 5 1 5 1 3 1 1 1-1 1-2 1-2 1-4 1-2 1 3 1 6 1 9 1 8 1 10 1 9 1 2 1-5 1-2 1 0 1 2 1 3 1 3 1 2 1 1 1-1 1-3 1-3 1-4 1-2 1-1 1 1 1 2 1 2 1 0 1-2 1-1 1-1 1 2 1 2 1 2 1 2 1 1 1 0 1 1 1-1 1 0 1 2 1 2 1 1 1-1 1-3 1-1 1-1 1 1 1 3 1 6 1 6 1 5 1 1 1-3 1-2 1-2 1 0 1 0 1-2 1-1 1-2 1-2 1-2 1-1 1-1 1-2 1-4 1-3 1 0 1 0 1-1 1-3 1-3 1-2 1-2 1-4 1-4 1-4 1-4 1-5 1-7 1-7 1-3 1-2 1-3 1-5 1-6 1-6 1-5 1-6 1-9 1-7 1-5 1-2 1-3 1-5 1-6 1-7 1-7 1-7 1-8 1-9 1-9 1-7" stroke="#D95319"/>
<path d="M0,3823l1 6 1 3 1 2 1 1 1 2 1 3 1 1 1-1 1 2 1 4 1 4 1 4 1 3 1 4 1 2 1 2 1 0 1 1 1 1 1 0 1 1 1 1 1 2 1 3 1 2 1 1 1 2 1 2 1 1 1-2 1-2 1-3 1-3 1-3 1-2 1-2 1-4 1-7 1-11 1-13 1-16 1-17 1-16 1-16 1-17 1-19 1-24 1-31 1-34 1-37 1-42 1-54 1-64 1-74 1-78 1-80 1-83 1-85 1-91 1-93 1-90 1-78 1-57 1-43 1-22 1 1 1 23 1 47 1 57 1 70 1 84 1 87 1 83 1 80 1 76 1 67 1 54 1 43 1 38 1 37 1 33 1 25 1 18 1 9 1 5 1 6 1 6 1 6 1 11 1 17 1 21 1 24 1 28 1 29 1 29 1 28 1 27 1 27 1 24 1 15 1 7 1 5 1 3 1 0 1-1 1-2 1-4 1-2 1 2 1 5 1 4 1 1 1 2 1 5 1 7 1 5 1 3 1-1 1-2 1-2 1-1 1-1 1-4 1-3 1 1 1 6 1 8 1 9 1 9 1 9 1 1 1-4 1-1 1 1 1-1 1-2 1-3 1-2 1 1 1 0 1 0 1 1 1 1 1-1 1-3 1-1 1-1 1 0 1 0 1 0 1 1 1 1 1 1 1 0 1 1 1 0 1 1 1-1 1-1 1 0 1 2 1 0 1 0 1-2 1 0 1 1 1 2 1-1 1-2 1-1 1 1 1 2 1 3 1 3 1 3 1 2 1-1 1-2 1-1 1-1 1-2 1-2 1-2 1-1 1 1 1 0 1 0 1-3 1-2 1-3 1-3 1-2 1-4 1-3 1-2 1 0 1 1 1 2 1 0 1-4 1-6 1-6 1-4 1-4 1-4 1-4 1-4 1-4 1-3 1-4 1-4 1-3 1-2 1-1 1-1 1-1 1-3 1-4 1-4 1-1 1 0 1-2 1-3 1-5 1-3" stroke="#EDB120"/>
<path d="M0,3798l1 3 1 2 1 3 1 4 1 6 1 6 1 6 1 4 1 3 1 3 1 3 1 5 1 4 1 4 1 3 1 2 1 3 1 2 1 0 1 0 1 2 1 5 1 5 1 2 1-1 1 0 1 1 1 2 1 0 1-1 1-3 1-3 1-4 1-3 1-3 1-3 1-5 1-6 1-10 1-13 1-15 1-17 1-16 1-18 1-17 1-18 1-20 1-27 1-35 1-39 1-44 1-52 1-62 1-71 1-76 1-80 1-85 1-88 1-95 1-97 1-89 1-74 1-53 1-45 1-28 1-2 1 24 1 46 1 58 1 71 1 83 1 88 1 86 1 81 1 77 1 65 1 52 1 44 1 41 1 38 1 35 1 26 1 19 1 8 1 2 1 3 1 5 1 8 1 14 1 20 1 21 1 23 1 26 1 28 1 29 1 28 1 25 1 24 1 23 1 16 1 9 1 3 1 0 1-1 1-2 1-2 1-4 1-2 1 2 1 3 1 4 1 3 1 3 1 3 1 4 1 4 1 2 1 1 1-1 1-3 1-2 1-2 1-5 1-4 1 0 1 7 1 9 1 7 1 6 1 5 1 2 1-3 1 0 1 0 1 0 1-1 1-1 1 0 1 3 1 2 1 0 1 0 1-2 1 0 1 0 1 1 1 2 1 2 1 2 1 2 1 3 1 2 1 2 1 2 1 2 1 2 1 0 1-1 1-1 1 1 1 1 1 0 1-1 1-1 1 0 1 1 1 2 1 0 1 1 1 1 1 3 1 3 1 3 1 1 1 2 1 2 1 3 1 2 1 0 1-2 1-4 1-4 1-1 1-1 1-1 1 0 1-1 1-2 1-2 1-1 1 1 1 1 1-3 1-3 1-3 1 1 1 0 1-2 1-2 1-2 1-2 1-3 1-5 1-5 1-4 1-1 1 0 1 0 1-1 1-2 1-3 1-3 1-3 1-2 1-3 1-3 1-3 1-5 1-3 1-1 1 0 1 1 1-2 1-5 1-6" stroke="#7E2F8E"/>
<path d="M0,3803l1 6 1 5 1 3 1 2 1 2 1 4 1 4 1 3 1 4 1 6 1 4 1 3 1 0 1 0 1 1 1 2 1 2 1 4 1 3 1 3 1 2 1 2 1 2 1 2 1 2 1 0 1 0 1 1 1-1 1-1 1-1 1-2 1-3 1-5 1-5 1-5 1-6 1-9 1-10 1-12 1-11 1-13 1-15 1-16 1-18 1-19 1-23 1-29 1-36 1-41 1-48 1-57 1-68 1-74 1-75 1-78 1-82 1-86 1-92 1-94 1-92 1-82 1-65 1-52 1-23 1 2 1 23 1 55 1 68 1 78 1 88 1 91 1 84 1 77 1 71 1 65 1 56 1 46 1 38 1 34 1 28 1 21 1 16 1 6 1 2 1 1 1 3 1 5 1 15 1 23 1 23 1 25 1 29 1 32 1 32 1 29 1 28 1 26 1 23 1 14 1 6 1 5 1 6 1 4 1 0 1-4 1-6 1-3 1-1 1 1 1 1 1 0 1 1 1 4 1 7 1 7 1 5 1 1 1-2 1-3 1-3 1-4 1-7 1-7 1-1 1 8 1 12 1 7 1 6 1 4 1 2 1 2 1 4 1 4 1 2 1-1 1-1 1-1 1 1 1 1 1-1 1-3 1-3 1-2 1-2 1-1 1 1 1 2 1 2 1 2 1 0 1 1 1 2 1 3 1 1 1 0 1 0 1 1 1-1 1-2 1 0 1 0 1 0 1-1 1-1 1 1 1 3 1 3 1 1 1 1 1 0 1 0 1-1 1-1 1 1 1 2 1 1 1 0 1 1 1 2 1 1 1-2 1-2 1 0 1 3 1 3 1 1 1-2 1-1 1-2 1-5 1-4 1-3 1-3 1-5 1-4 1-1 1 1 1-1 1-7 1-10 1-8 1-6 1-5 1-6 1-6 1-7 1-6 1-6 1-5 1-4 1-6 1-7 1-7 1-5 1-7 1-9 1-8 1-7 1-4 1-4 1-5 1-6 1-7 1-6" stroke="#77AC30"/>
<path d="M0,3821l1 4 1 3 1 4 1 2 1 1 1 0 1 3 1 5 1 4 1 4 1 1 1 1 1 1 1 1 1 1 1 2 1 4 1 3 1 0 1-1 1-1 1 2 1 5 1 5 1 4 1 2 1 2 1-1 1-2 1-2 1-2 1-3 1-4 1-5 1-5 1-4 1-4 1-6 1-10 1-13 1-15 1-13 1-13 1-14 1-16 1-19 1-24 1-32 1-37 1-39 1-43 1-51 1-60 1-72 1-79 1-82 1-83 1-86 1-93 1-95 1-90 1-78 1-58 1-48 1-28 1-2 1 23 1 52 1 63 1 74 1 84 1 87 1 85 1 79 1 73 1 63 1 52 1 44 1 39 1 35 1 28 1 20 1 14 1 3 1-2 1-4 1-3 1-2 1 11 1 23 1 26 1 31 1 33 1 33 1 31 1 29 1 29 1 27 1 21 1 13 1 8 1 7 1 5 1 4 1 2 1-2 1-4 1-3 1-1 1 2 1 3 1 4 1 5 1 7 1 6 1 5 1 4 1 2 1 1 1 0 1 0 1 0 1-5 1-6 1 0 1 6 1 10 1 10 1 11 1 10 1 2 1-4 1-2 1-1 1 0 1 1 1 3 1 4 1 1 1-2 1-5 1-4 1-1 1 2 1 4 1 4 1 4 1 3 1 1 1-1 1-2 1 0 1 1 1 3 1 2 1 0 1-1 1 0 1-2 1-2 1-3 1-2 1 0 1 2 1 4 1 3 1 1 1 0 1 2 1 4 1 4 1 3 1 1 1 3 1 4 1 2 1 0 1 0 1 0 1-1 1-1 1-4 1-4 1-2 1 0 1 1 1-1 1-4 1-4 1-4 1-2 1 0 1 0 1-1 1-2 1-2 1 1 1 1 1-1 1-4 1-4 1-4 1-3 1 0 1 0 1-2 1-3 1-4 1-4 1-4 1-3 1-4 1-2 1 1 1 2 1-1 1-4 1-6 1-3 1-3 1-3 1-4 1-4 1-4 1-3" stroke="#4DBEEE"/>
<path d="M0,3785l1 3 1 5 1 6 1 5 1 3 1 4 1 3 1 3 1 3 1 4 1 5 1 5 1 5 1 5 1 6 1 4 1 3 1 1 1 1 1 4 1 5 1 5 1 5 1 3 1 0 1-2 1-2 1-2 1-1 1-2 1-3 1-1 1 0 1-2 1-3 1-4 1-5 1-7 1-11 1-14 1-15 1-16 1-14 1-16 1-17 1-19 1-22 1-29 1-33 1-37 1-44 1-53 1-63 1-72 1-78 1-81 1-83 1-86 1-95 1-96 1-92 1-77 1-56 1-43 1-23 1-1 1 21 1 47 1 57 1 70 1 82 1 88 1 85 1 80 1 74 1 65 1 54 1 46 1 40 1 38 1 30 1 21 1 14 1 3 1 0 1 0 1 1 1 4 1 15 1 23 1 25 1 25 1 29 1 30 1 29 1 28 1 27 1 25 1 22 1 14 1 10 1 9 1 9 1 5 1 1 1-4 1-7 1-4 1 0 1 3 1 3 1 2 1 3 1 3 1 4 1 5 1 3 1 2 1 1 1-1 1-2 1-3 1-7 1-6 1-2 1 5 1 9 1 7 1 7 1 5 1 2 1 1 1 2 1 1 1-1 1-1 1 0 1 2 1 0 1-2 1-2 1-4 1-2 1-2 1 0 1 0 1 1 1 2 1 2 1 1 1 0 1 0 1 0 1 0 1 1 1 1 1 1 1-2 1-2 1-1 1-1 1 0 1 1 1 1 1 1 1 1 1 2 1 3 1 3 1 2 1 1 1 0 1 0 1 1 1 2 1 2 1 3 1 1 1 1 1-1 1-2 1-1 1-2 1 0 1-1 1 1 1 3 1 3 1 2 1-1 1-4 1-4 1-4 1-3 1-3 1-3 1-2 1-1 1-1 1-3 1-5 1-5 1-4 1-3 1-3 1-3 1-3 1-2 1-2 1-4 1-5 1-5 1-3 1-3 1-3 1-2 1-1 1-2 1-3 1-7 1-8 1-8 1-6 1-4 1-2" stroke="#A2142F"/>
<path d="M0,3758l1 4 1 4 1 3 1 4 1 4 1 4 1 5 1 5 1 4 1 5 1 4 1 6 1 5 1 5 1 4 1 4 1 2 1 4 1 6 1 4 1 4 1 5 1 6 1 5 1 2 1 0 1 0 1 0 1 1 1 2 1 0 1-4 1-4 1-5 1-3 1-5 1-8 1-9 1-10 1-10 1-12 1-13 1-14 1-16 1-18 1-21 1-25 1-32 1-37 1-37 1-43 1-51 1-63 1-73 1-78 1-81 1-82 1-87 1-92 1-96 1-94 1-82 1-64 1-50 1-24 1-1 1 20 1 54 1 68 1 79 1 87 1 88 1 84 1 79 1 73 1 66 1 56 1 46 1 38 1 31 1 23 1 14 1 9 1-2 1-8 1-10 1-11 1-11 1 8 1 27 1 28 1 30 1 31 1 32 1 32 1 34 1 32 1 28 1 22 1 14 1 9 1 6 1 8 1 8 1 5 1-1 1-5 1-5 1-2 1 1 1 1 1 2 1 3 1 6 1 8 1 7 1 6 1 4 1 0 1-3 1-6 1-8 1-10 1-9 1-2 1 13 1 18 1 11 1 8 1 7 1 5 1 5 1 4 1 4 1 3 1 3 1 3 1 2 1 2 1 2 1 0 1-1 1-3 1-3 1-3 1-1 1 0 1 1 1 3 1 2 1 2 1 2 1 1 1 0 1-1 1 0 1 0 1 2 1-1 1-2 1-3 1-1 1 1 1 0 1 1 1 1 1 2 1 1 1 0 1 0 1 2 1 3 1 2 1 0 1 0 1 0 1 1 1 3 1 5 1 5 1 1 1-3 1-3 1-2 1 2 1 1 1-1 1-2 1-2 1-1 1-2 1-3 1-4 1-5 1-5 1-1 1 0 1-1 1-4 1-7 1-7 1-7 1-6 1-6 1-5 1-5 1-6 1-8 1-8 1-8 1-6 1-5 1-5 1-4 1-6 1-8 1-9 1-8 1-7 1-5 1-4 1-7 1-9 1-10 1-9" stroke="#0072BD"/>
<path d="M0,3778l1 1 1 3 1 5 1 4 1 3 1 4 1 6 1 4 1 3 1 0 1 1 1 1 1 3 1 5 1 6 1 7 1 5 1 2 1 2 1 4 1 4 1 3 1 3 1 5 1 4 1 3 1 1 1-2 1-3 1-4 1-4 1-4 1-2 1-2 1-3 1-5 1-7 1-8 1-10 1-12 1-13 1-13 1-13 1-17 1-20 1-20 1-21 1-26 1-33 1-42 1-47 1-54 1-62 1-71 1-76 1-80 1-83 1-89 1-93 1-95 1-89 1-80 1-66 1-55 1-25 1 1 1 23 1 54 1 65 1 76 1 85 1 87 1 85 1 78 1 73 1 67 1 57 1 45 1 36 1 30 1 23 1 14 1 7 1-5 1-10 1-9 1-10 1-10 1 7 1 28 1 31 1 33 1 36 1 36 1 36 1 34 1 31 1 26 1 21 1 12 1 8 1 7 1 7 1 7 1 5 1 2 1 0 1 0 1 1 1 1 1-1 1 1 1 3 1 8 1 10 1 10 1 7 1 3 1 0 1-3 1-4 1-5 1-9 1-7 1 2 1 13 1 18 1 11 1 8 1 7 1 5 1 2 1 3 1 3 1 1 1 0 1 0 1 0 1 1 1-1 1-1 1 0 1 3 1 4 1 3 1 1 1 2 1 2 1 2 1 2 1 2 1 2 1 3 1 3 1 1 1-1 1-2 1-2 1-2 1-1 1 0 1 1 1-1 1 1 1 1 1 3 1 2 1 0 1-1 1-2 1-1 1 0 1 2 1 3 1 3 1 0 1 0 1-1 1-1 1 0 1-1 1 0 1-1 1-1 1 0 1-1 1-1 1-1 1 1 1 0 1-4 1-9 1-9 1-5 1-3 1-2 1-1 1-1 1-1 1-2 1-5 1-7 1-10 1-9 1-6 1-5 1-5 1-4 1-3 1-4 1-5 1-7 1-6 1-7 1-6 1-5 1-3 1-3 1-6 1-8 1-8 1-7 1-4 1-3 1-3" stroke="#D95319"/>
<path d="M0,3787l1 6 1 5 1 5 1 3 1 2 1 3 1 5 1 6 1 6 1 3 1 1 1 0 1 2 1 2 1 2 1 2 1 3 1 5 1 5 1 4 1 3 1 2 1 2 1 2 1 4 1 4 1 2 1 0 1-1 1-2 1-2 1-2 1-1 1-3 1-3 1-4 1-5 1-7 1-11 1-14 1-15 1-14 1-13 1-17 1-20 1-22 1-24 1-28 1-33 1-39 1-45 1-54 1-62 1-71 1-76 1-80 1-85 1-88 1-92 1-93 1-89 1-79 1-62 1-49 1-27 1-2 1 22 1 51 1 63 1 75 1 84 1 86 1 83 1 79 1 75 1 68 1 56 1 45 1 40 1 35 1 27 1 17 1 9 1-1 1-4 1-3 1-3 1-4 1 10 1 23 1 26 1 28 1 29 1 31 1 32 1 32 1 30 1 28 1 24 1 15 1 7 1 3 1 3 1 3 1 3 1 2 1-2 1-2 1 0 1 1 1 1 1 2 1 2 1 2 1 4 1 5 1 5 1 4 1 1 1-2 1-4 1-5 1-8 1-7 1-3 1 8 1 15 1 10 1 9 1 7 1 4 1 2 1 1 1 0 1 2 1 1 1 2 1 1 1 0 1-1 1-2 1-1 1-1 1-1 1 0 1 1 1-1 1 0 1-1 1 1 1 1 1 2 1 2 1 4 1 5 1 3 1 0 1-2 1-1 1-2 1-1 1-2 1 0 1 0 1 2 1 3 1 2 1 2 1 2 1 3 1 3 1 1 1 4 1 4 1 3 1 1 1 0 1 1 1 1 1 0 1 0 1-4 1-2 1 1 1 2 1 1 1 0 1 0 1 0 1-1 1-3 1-4 1-6 1-4 1-5 1-3 1-3 1-1 1 1 1 0 1-1 1-3 1-4 1-4 1-4 1-4 1-3 1-4 1-3 1-4 1-5 1-4 1-3 1-4 1-5 1-7 1-7 1-6 1-4 1-3 1-4 1-5 1-3 1-3 1-4" stroke="#EDB120"/>
<path d="M0,3786l1 3 1 4 1 4 1 3 1 3 1 3 1 5 1 5 1 4 1 2 1 1 1 3 1 4 1 4 1 4 1 3 1 4 1 3 1 4 1 3 1 4 1 3 1 3 1 2 1 1 1 1 1 0 1-1 1-1 1-2 1-2 1-3 1-3 1-5 1-5 1-7 1-7 1-7 1-9 1-10 1-13 1-14 1-16 1-18 1-20 1-21 1-22 1-28 1-33 1-37 1-43 1-52 1-61 1-73 1-80 1-84 1-85 1-88 1-91 1-92 1-88 1-80 1-64 1-52 1-23 1 0 1 23 1 55 1 68 1 76 1 85 1 87 1 85 1 80 1 74 1 65 1 54 1 44 1 39 1 35 1 28 1 20 1 10 1-3 1-8 1-7 1-5 1-1 1 14 1 27 1 25 1 27 1 32 1 37 1 37 1 33 1 30 1 26 1 21 1 14 1 8 1 7 1 5 1 2 1-1 1-2 1-1 1 0 1 3 1 3 1 3 1 1 1 1 1 3 1 4 1 7 1 6 1 2 1-2 1-4 1-7 1-9 1-10 1-7 1-1 1 10 1 15 1 8 1 8 1 6 1 5 1 1 1 1 1 0 1 1 1 1 1 1 1-1 1-2 1-3 1-2 1 0 1 1 1-1 1-2 1 0 1 3 1 4 1 5 1 1 1-1 1-1 1 1 1 3 1 3 1 2 1 0 1 0 1-1 1-4 1-3 1-1 1 1 1 1 1 1 1 0 1 0 1 0 1 0 1-1 1-1 1 2 1 2 1 1 1 1 1 3 1 5 1 6 1 4 1 0 1-3 1-4 1-3 1-1 1 1 1 4 1 4 1 2 1 1 1 0 1-2 1-3 1-6 1-7 1-7 1-3 1 0 1 4 1 3 1-2 1-6 1-10 1-9 1-6 1-4 1-2 1-2 1-2 1-5 1-6 1-6 1-7 1-7 1-6 1-6 1-4 1-2 1-3 1-3 1-3 1-5 1-6 1-7 1-8 1-8" stroke="#7E2F8E"/>
<path d="M0,3768l1 3 1 3 1 4 1 6 1 6 1 6 1 5 1 2 1 0 1 2 1 4 1 3 1 1 1 3 1 5 1 5 1 4 1 6 1 7 1 6 1 4 1 3 1 3 1 2 1 2 1 2 1 1 1 1 1-1 1-2 1-2 1 0 1-3 1-6 1-8 1-8 1-7 1-8 1-9 1-11 1-13 1-16 1-15 1-17 1-18 1-19 1-20 1-26 1-31 1-38 1-46 1-54 1-61 1-72 1-79 1-84 1-86 1-86 1-91 1-93 1-91 1-81 1-65 1-53 1-24 1 2 1 22 1 54 1 67 1 78 1 87 1 89 1 85 1 79 1 73 1 64 1 54 1 44 1 38 1 32 1 24 1 17 1 11 1-1 1-6 1-7 1-8 1-9 1 9 1 28 1 29 1 30 1 31 1 31 1 32 1 32 1 29 1 26 1 20 1 13 1 8 1 8 1 8 1 7 1 3 1-1 1-6 1-6 1-3 1 0 1 2 1 3 1 4 1 7 1 8 1 8 1 5 1 1 1-3 1-4 1-4 1-5 1-9 1-10 1-3 1 10 1 18 1 13 1 11 1 6 1 3 1 3 1 4 1 4 1 3 1 1 1 2 1 1 1-1 1-1 1 0 1 0 1 1 1 0 1 1 1 0 1 1 1 1 1 0 1 1 1 1 1 1 1 3 1 2 1 3 1 3 1 3 1 1 1-1 1-3 1-3 1-3 1-1 1 1 1 1 1 1 1 0 1 1 1 5 1 6 1 4 1 1 1 0 1 1 1 0 1 1 1 1 1 3 1 2 1 1 1 1 1-2 1 0 1 1 1 4 1 3 1 1 1-2 1-5 1-4 1-2 1-3 1-2 1-4 1-4 1-3 1-2 1-1 1-1 1-2 1-3 1-2 1-4 1-3 1-3 1-2 1-4 1-4 1-4 1-5 1-4 1-4 1-3 1-3 1-5 1-5 1-5 1-4 1-5 1-5 1-4 1-5 1-4 1-5 1-5" stroke="#77AC30"/>
<path d="M0,3771l1 4 1 4 1 4 1 4 1 4 1 4 1 5 1 5 1 5 1 5 1 5 1 2 1 2 1 3 1 4 1 4 1 5 1 6 1 3 1 0 1 2 1 4 1 7 1 7 1 5 1 3 1 0 1-1 1-2 1-1 1-1 1-2 1-2 1-3 1-4 1-6 1-7 1-6 1-8 1-14 1-17 1-19 1-16 1-16 1-17 1-18 1-21 1-27 1-33 1-38 1-42 1-49 1-59 1-71 1-80 1-84 1-85 1-86 1-91 1-94 1-91 1-77 1-55 1-43 1-24 1-1 1 23 1 48 1 59 1 71 1 83 1 86 1 83 1 79 1 76 1 66 1 54 1 44 1 37 1 34 1 29 1 22 1 14 1 3 1-3 1-2 1 0 1 1 1 11 1 21 1 22 1 23 1 27 1 29 1 30 1 28 1 28 1 26 1 22 1 14 1 9 1 8 1 7 1 5 1 1 1-2 1-6 1-4 1 0 1 4 1 4 1 2 1 3 1 5 1 8 1 11 1 9 1 4 1-1 1-6 1-5 1-4 1-4 1-3 1 3 1 11 1 13 1 12 1 9 1 8 1 1 1-4 1 0 1 2 1 2 1 2 1 2 1 1 1-2 1-2 1-1 1 0 1 0 1-1 1 0 1 2 1 2 1 2 1 1 1 0 1 0 1 0 1 3 1 2 1 1 1-1 1-1 1 0 1-2 1-3 1-3 1-2 1 0 1 2 1 3 1 3 1 2 1-1 1-1 1-1 1 1 1 2 1 2 1 3 1 2 1 2 1 0 1-1 1 0 1 0 1-1 1-3 1-4 1-2 1 2 1 1 1 1 1-2 1-3 1-4 1-3 1-4 1-4 1-5 1-5 1-4 1-1 1 2 1 3 1 0 1-5 1-7 1-7 1-7 1-6 1-4 1-3 1-3 1-5 1-6 1-4 1-3 1-2 1-5 1-6 1-7 1-7 1-9 1-8 1-6 1-5 1-5 1-3 1-4 1-3" stroke="#4DBEEE"/>
<path d="M0,3749l1 4 1 7 1 6 1 6 1 4 1 4 1 5 1 5 1 4 1 4 1 6 1 6 1 6 1 5 1 4 1 4 1 2 1 2 1 2 1 4 1 6 1 5 1 5 1 2 1 2 1 0 1 2 1 2 1 0 1-2 1-3 1-3 1-4 1-5 1-5 1-6 1-8 1-10 1-11 1-10 1-9 1-10 1-15 1-20 1-23 1-20 1-21 1-29 1-35 1-40 1-43 1-51 1-60 1-72 1-79 1-81 1-85 1-87 1-92 1-94 1-94 1-87 1-71 1-55 1-21 1 1 1 19 1 56 1 69 1 79 1 86 1 90 1 86 1 78 1 73 1 69 1 59 1 47 1 36 1 27 1 19 1 13 1 7 1-7 1-12 1-13 1-13 1-12 1 11 1 33 1 35 1 35 1 36 1 36 1 37 1 34 1 29 1 26 1 22 1 16 1 11 1 11 1 9 1 7 1 3 1 1 1-1 1 0 1 3 1 5 1 4 1 4 1 3 1 6 1 7 1 7 1 5 1 4 1 1 1-2 1-5 1-7 1-10 1-7 1-1 1 10 1 14 1 8 1 7 1 6 1 4 1 2 1 2 1 2 1 4 1 2 1 0 1-1 1-1 1-3 1-3 1-3 1-3 1-3 1-1 1 1 1 2 1 3 1 3 1 1 1 1 1 1 1-1 1 0 1 0 1 2 1 3 1 2 1 2 1-1 1-4 1-3 1 2 1 3 1 3 1 1 1-1 1-2 1-2 1 1 1 2 1 3 1 4 1 2 1 1 1 3 1 2 1 3 1 3 1 0 1-2 1-3 1-2 1 1 1 2 1 3 1 2 1 1 1-1 1-4 1-6 1-6 1-6 1-3 1-1 1 2 1 1 1-3 1-5 1-7 1-8 1-6 1-6 1-4 1-5 1-4 1-6 1-6 1-4 1-4 1-5 1-6 1-6 1-6 1-7 1-5 1-4 1-5 1-4 1-4 1-7 1-9 1-9 1-8 1-6" stroke="#A2142F"/>
<path d="M0,3794l1 4 1 5 1 5 1 2 1 2 1 1 1 2 1 1 1 2 1 1 1 4 1 5 1 6 1 5 1 3 1 2 1 1 1 0 1 0 1 1 1 5 1 5 1 4 1 2 1 1 1 3 1 2 1 1 1 0 1-1 1-2 1-1 1-3 1-5 1-7 1-8 1-8 1-8 1-9 1-9 1-10 1-13 1-16 1-17 1-17 1-18 1-22 1-29 1-35 1-39 1-44 1-53 1-62 1-70 1-77 1-82 1-86 1-88 1-93 1-96 1-93 1-80 1-60 1-48 1-24 1 0 1 23 1 52 1 64 1 76 1 85 1 88 1 85 1 82 1 75 1 64 1 52 1 44 1 41 1 39 1 32 1 24 1 15 1 2 1-1 1 0 1 1 1 4 1 15 1 24 1 25 1 27 1 31 1 31 1 31 1 29 1 28 1 25 1 21 1 14 1 10 1 8 1 8 1 5 1 1 1-2 1-3 1-2 1 1 1 1 1 2 1 2 1 3 1 6 1 7 1 7 1 5 1 4 1 4 1 2 1-1 1-5 1-8 1-4 1 2 1 7 1 7 1 7 1 6 1 4 1-2 1-6 1-2 1 0 1 1 1 1 1 1 1 2 1 0 1 0 1-1 1-1 1-2 1-1 1 0 1-1 1-1 1-1 1-1 1 0 1 0 1 2 1 1 1 0 1-1 1-2 1 1 1 2 1 0 1 0 1-2 1-2 1-1 1 0 1 1 1 1 1 1 1-1 1-1 1-2 1-1 1 3 1 5 1 4 1 1 1 1 1 2 1 0 1-1 1-2 1 0 1 0 1-3 1-2 1-1 1 0 1 1 1-1 1-1 1-1 1-3 1-3 1-5 1-6 1-6 1-2 1 0 1 2 1 0 1-3 1-7 1-6 1-4 1-4 1-5 1-8 1-8 1-5 1-2 1-2 1-2 1-4 1-3 1-2 1-3 1-4 1-5 1-5 1-6 1-4 1-3 1-3 1-5 1-5 1-4" stroke="#0072BD"/>
</g>
<path d="M20.70,234.90V407.40" stroke="#444" stroke-width="1.4"/>
<path d="M20.00,235.60H312.10" stroke="#444" stroke-width="1.4"/>
<path d="M311.40,234.90V407.40" stroke="#444" stroke-width="1.4"/>
<path d="M20.00,406.70H312.10" stroke="#444" stroke-width="1.4"/>
<path d="M53.00,406.70v-3.8M53.00,235.60v3.8M85.30,406.70v-3.8M85.30,235.60v3.8M117.60,406.70v-3.8M117.60,235.60v3.8M149.90,406.70v-3.8M149.90,235.60v3.8M182.20,406.70v-3.8M182.20,235.60v3.8M214.50,406.70v-3.8M214.50,235.60v3.8M246.80,406.70v-3.8M246.80,235.60v3.8M279.10,406.70v-3.8M279.10,235.60v3.8M20.70,385.31h2.5M311.40,385.31h-2.5M20.70,363.93h2.5M311.40,363.93h-2.5M20.70,342.54h2.5M311.40,342.54h-2.5M20.70,321.15h2.5M311.40,321.15h-2.5M20.70,299.76h2.5M311.40,299.76h-2.5M20.70,278.38h2.5M311.40,278.38h-2.5M20.70,256.99h2.5M311.40,256.99h-2.5" stroke="#404040" stroke-width="1.0"/>
<g font-size="6.9" font-weight="normal" fill="#2a2a2a" stroke="#2a2a2a" stroke-width="0.38">
<text transform="translate(20.70,416.2) scale(0.63,1)" text-anchor="middle">1900</text>
<text transform="translate(53.00,416.2) scale(0.63,1)" text-anchor="middle">1800</text>
<text transform="translate(85.30,416.2) scale(0.63,1)" text-anchor="middle">1700</text>
<text transform="translate(117.60,416.2) scale(0.63,1)" text-anchor="middle">1600</text>
<text transform="translate(149.90,416.2) scale(0.63,1)" text-anchor="middle">1500</text>
<text transform="translate(182.20,416.2) scale(0.63,1)" text-anchor="middle">1400</text>
<text transform="translate(214.50,416.2) scale(0.63,1)" text-anchor="middle">1300</text>
<text transform="translate(246.80,416.2) scale(0.63,1)" text-anchor="middle">1200</text>
<text transform="translate(279.10,416.2) scale(0.63,1)" text-anchor="middle">1100</text>
<text transform="translate(311.40,416.2) scale(0.63,1)" text-anchor="middle">1000</text>
<text transform="translate(18.3,409.18) scale(0.63,1)" text-anchor="end">-0.02</text>
<text transform="translate(18.3,387.80) scale(0.63,1)" text-anchor="end">0</text>
<text transform="translate(18.3,366.41) scale(0.63,1)" text-anchor="end">0.02</text>
<text transform="translate(18.3,345.02) scale(0.63,1)" text-anchor="end">0.04</text>
<text transform="translate(18.3,323.63) scale(0.63,1)" text-anchor="end">0.06</text>
<text transform="translate(18.3,302.25) scale(0.63,1)" text-anchor="end">0.08</text>
<text transform="translate(18.3,280.86) scale(0.63,1)" text-anchor="end">0.1</text>
<text transform="translate(18.3,259.47) scale(0.63,1)" text-anchor="end">0.12</text>
<text transform="translate(18.3,238.08) scale(0.63,1)" text-anchor="end">0.14</text>
</g>
<text transform="translate(165,431.0) scale(0.68,1)" text-anchor="middle" font-size="9.5" font-weight="normal" fill="#222" stroke="#222" stroke-width="0.45">Wavenumber cm<tspan dy="-3.99" dx="0.6" font-size="6.84">-1</tspan></text>
<text transform="translate(6.5,320.9) scale(0.72,1) rotate(-90)" text-anchor="middle" font-size="9.4" font-weight="bold" fill="#222">Absorbance</text>
<text transform="translate(28.6,253.3) scale(0.75,1)" font-size="11.0" fill="#222" stroke="#222" stroke-width="0.3">C</text>
<g transform="translate(382.30,0) scale(1.3218,0.1)" stroke-width="1.0">
<path d="M0,3813l1-1 1 0 1 0 1 0 1-1 1-1 1 1 1 0 1-1 1-2 1-1 1-1 1 2 1 1 1 1 1 0 1 0 1 0 1 0 1 0 1-1 1-2 1-1 1 0 1 2 1 2 1 2 1 0 1 0 1-2 1-4 1-5 1-3 1-2 1-1 1-2 1-6 1-10 1-3 1 3 1-1 1-1 1-5 1-8 1-9 1-8 1-9 1-9 1-9 1-10 1-26 1-51 1-62 1-70 1-90 1-107 1-108 1-108 1-108 1-103 1-78 1-54 1-51 1-37 1-21 1 14 1 26 1 19 1 53 1 69 1 69 1 69 1 69 1 68 1 52 1 42 1 32 1 19 1 5 1-12 1-24 1-37 1-56 1-66 1-71 1-82 1-81 1-56 1-33 1-27 1-5 1 18 1 30 1 30 1 21 1 18 1 31 1 64 1 90 1 91 1 90 1 91 1 75 1 56 1 43 1 2 1-14 1-22 1-26 1-25 1-19 1-7 1 5 1 15 1 18 1 17 1 15 1 9 1-11 1-21 1-19 1-18 1-17 1-19 1-11 1 4 1 21 1 29 1 30 1 26 1 23 1 19 1 12 1 8 1 4 1 2 1 2 1 4 1 5 1 4 1 2 1 1 1 0 1 0 1-1 1-2 1-3 1-2 1 2 1 5 1 6 1 9 1 11 1 9 1 4 1 2 1 3 1 3 1 2 1 0 1-2 1-4 1-5 1-4 1-3 1 3 1 9 1 12 1 13 1 18 1 22 1 24 1 24 1 23 1 22 1 19 1 13 1 8 1 2 1-2 1-4 1-4 1-3 1 6 1 21 1 23 1 18 1 19 1 5 1-6 1-10 1-9 1-12 1-10 1-8 1-7 1-8 1-8 1-6 1-4 1-1 1-1 1-3 1-4 1-5 1-3 1-2 1-2 1 1 1 4 1 6 1 6 1 6 1 9 1 13 1 19 1 21 1 21 1 20 1 17 1 13 1 13 1 14 1 11 1 8" stroke="#0072BD"/>
<path d="M0,3820l1 1 1-1 1-1 1-1 1-1 1 0 1-1 1 0 1 0 1 0 1-1 1 0 1-2 1-1 1-1 1-1 1-1 1-2 1-3 1-2 1-1 1 1 1 1 1 1 1 2 1 1 1 2 1 1 1 0 1 0 1 0 1-1 1-2 1-6 1-9 1-9 1-11 1-9 1 1 1 7 1-2 1-3 1-4 1-6 1-8 1-8 1-8 1-7 1-8 1-11 1-29 1-52 1-61 1-71 1-94 1-112 1-113 1-110 1-109 1-104 1-87 1-68 1-63 1-36 1-21 1 13 1 34 1 35 1 59 1 72 1 71 1 71 1 72 1 71 1 56 1 46 1 38 1 21 1 3 1-15 1-27 1-38 1-54 1-63 1-68 1-77 1-77 1-55 1-35 1-30 1-6 1 18 1 27 1 27 1 19 1 18 1 35 1 67 1 93 1 90 1 91 1 92 1 77 1 60 1 45 1 3 1-15 1-22 1-26 1-21 1-14 1-1 1 6 1 11 1 12 1 10 1 11 1 7 1-11 1-18 1-17 1-16 1-15 1-16 1-11 1 2 1 17 1 26 1 30 1 30 1 27 1 23 1 14 1 8 1 4 1 1 1 2 1 5 1 5 1 5 1 2 1 2 1 1 1 0 1-1 1-3 1-4 1-4 1-2 1-1 1 1 1 2 1 6 1 6 1 4 1 0 1-4 1-5 1-5 1-3 1-1 1-2 1-2 1-2 1-2 1 0 1 6 1 11 1 11 1 11 1 9 1 10 1 12 1 14 1 15 1 14 1 12 1 6 1-1 1-7 1-9 1-9 1-8 1-1 1 12 1 15 1 10 1 8 1-3 1-11 1-12 1-9 1-7 1-7 1-5 1-7 1-8 1-9 1-8 1-8 1-9 1-8 1-9 1-8 1-7 1-7 1-5 1-1 1 1 1 1 1 1 1 1 1 5 1 8 1 10 1 9 1 8 1 9 1 10 1 11 1 9 1 8 1 7 1 8 1 10" stroke="#D95319"/>
<path d="M0,3802l1 0 1 1 1 2 1 2 1 1 1 1 1 1 1 1 1 1 1 1 1 0 1-1 1-1 1 2 1 3 1 3 1-1 1-2 1-4 1-4 1-3 1-1 1 1 1 2 1 0 1-1 1-2 1-1 1 1 1 2 1 1 1-1 1-4 1-7 1-7 1-6 1-8 1-8 1 1 1 7 1-1 1-4 1-6 1-7 1-7 1-6 1-7 1-10 1-11 1-15 1-30 1-52 1-60 1-69 1-92 1-109 1-110 1-110 1-111 1-107 1-89 1-70 1-62 1-35 1-19 1 14 1 34 1 34 1 60 1 75 1 74 1 72 1 70 1 71 1 59 1 48 1 37 1 20 1 2 1-14 1-24 1-35 1-53 1-64 1-70 1-81 1-81 1-57 1-35 1-27 1-4 1 19 1 26 1 27 1 20 1 20 1 32 1 63 1 89 1 90 1 90 1 91 1 75 1 57 1 44 1 3 1-15 1-25 1-28 1-21 1-12 1 0 1 7 1 14 1 16 1 13 1 12 1 6 1-13 1-21 1-22 1-21 1-21 1-20 1-12 1 2 1 20 1 29 1 33 1 30 1 27 1 23 1 13 1 8 1 4 1 2 1 3 1 3 1 1 1-3 1-6 1-6 1-4 1-3 1-3 1-2 1-2 1-2 1 2 1 6 1 9 1 8 1 7 1 7 1 5 1 3 1 3 1 2 1 0 1 1 1 0 1 1 1 0 1 1 1 0 1 4 1 11 1 17 1 20 1 22 1 23 1 24 1 23 1 21 1 19 1 18 1 14 1 7 1-2 1-9 1-11 1-11 1-7 1 3 1 20 1 24 1 22 1 23 1 9 1-5 1-9 1-9 1-10 1-7 1-5 1-6 1-7 1-6 1-5 1-4 1-3 1-5 1-5 1-5 1-3 1 0 1 5 1 7 1 9 1 9 1 7 1 6 1 6 1 8 1 11 1 14 1 15 1 15 1 14 1 16 1 17 1 17 1 17 1 14 1 12" stroke="#EDB120"/>
<path d="M0,3811l1-1 1-1 1 0 1 0 1-2 1-3 1-2 1 0 1 0 1 0 1-1 1 0 1 1 1 0 1 0 1-1 1 0 1 0 1-2 1 0 1 2 1 1 1 1 1-1 1-1 1 1 1 2 1 2 1 1 1-2 1-4 1-5 1-3 1-5 1-5 1-8 1-12 1-11 1 0 1 9 1 2 1-1 1-5 1-7 1-9 1-8 1-7 1-8 1-10 1-13 1-30 1-51 1-61 1-71 1-94 1-111 1-113 1-114 1-113 1-110 1-99 1-91 1-80 1-37 1-21 1 8 1 38 1 50 1 64 1 73 1 73 1 75 1 74 1 74 1 58 1 46 1 35 1 17 1 0 1-13 1-19 1-33 1-52 1-63 1-70 1-78 1-79 1-68 1-55 1-37 1 2 1 23 1 32 1 33 1 21 1 21 1 46 1 76 1 94 1 95 1 96 1 94 1 77 1 57 1 38 1-5 1-22 1-28 1-33 1-27 1-18 1-2 1 11 1 16 1 17 1 18 1 22 1 16 1-8 1-23 1-25 1-23 1-20 1-18 1-12 1 6 1 21 1 27 1 29 1 26 1 21 1 15 1 8 1 4 1 0 1-4 1-5 1-5 1-4 1-4 1-5 1-5 1-3 1-2 1-1 1-3 1-4 1-3 1 2 1 4 1 2 1 3 1 3 1 3 1 2 1 2 1 3 1 2 1 1 1-1 1-2 1-4 1-3 1-3 1-2 1 0 1 3 1 5 1 9 1 14 1 14 1 14 1 16 1 16 1 16 1 14 1 14 1 11 1 5 1 0 1-2 1-3 1-5 1-1 1 10 1 14 1 8 1 5 1-3 1-8 1-10 1-9 1-10 1-9 1-10 1-10 1-8 1-9 1-7 1-7 1-5 1-4 1-4 1-5 1-4 1-4 1-1 1 1 1 2 1 2 1 2 1 3 1 3 1 3 1 6 1 11 1 14 1 17 1 17 1 15 1 12 1 10 1 10 1 10 1 9" stroke="#7E2F8E"/>
<path d="M0,3795l1 3 1 3 1 2 1-1 1-2 1-2 1 0 1 0 1 1 1-1 1 0 1 0 1 0 1 1 1 1 1 2 1 5 1 3 1 1 1 0 1-2 1-2 1-2 1-1 1 1 1-1 1-3 1-3 1-4 1-4 1 0 1 1 1 0 1-5 1-6 1-8 1-12 1-10 1 2 1 8 1 1 1-2 1-3 1-5 1-5 1-5 1-7 1-11 1-12 1-14 1-27 1-50 1-60 1-70 1-93 1-109 1-110 1-110 1-108 1-103 1-82 1-64 1-61 1-38 1-23 1 10 1 27 1 26 1 53 1 70 1 72 1 75 1 76 1 73 1 56 1 41 1 32 1 18 1 3 1-12 1-24 1-37 1-54 1-65 1-70 1-81 1-82 1-64 1-49 1-35 1-3 1 18 1 28 1 29 1 17 1 19 1 43 1 75 1 92 1 92 1 93 1 93 1 78 1 57 1 39 1-3 1-20 1-26 1-29 1-26 1-16 1-2 1 11 1 17 1 20 1 16 1 16 1 11 1-11 1-23 1-26 1-26 1-26 1-22 1-14 1 4 1 20 1 25 1 27 1 25 1 21 1 16 1 7 1 4 1 4 1 4 1 3 1 3 1 2 1 0 1-3 1-6 1-8 1-9 1-8 1-7 1-3 1-2 1 1 1 1 1 2 1 2 1 5 1 7 1 6 1 4 1 3 1 0 1-3 1-4 1-5 1-6 1-7 1-5 1-1 1 4 1 8 1 12 1 14 1 15 1 15 1 12 1 9 1 7 1 7 1 8 1 9 1 6 1 3 1-3 1-4 1-5 1-3 1 2 1 16 1 21 1 15 1 11 1 3 1-4 1-6 1-10 1-11 1-10 1-8 1-5 1-4 1-3 1-5 1-5 1-3 1-2 1-1 1-2 1-4 1-3 1 0 1 3 1 4 1 3 1 1 1 2 1 4 1 6 1 7 1 9 1 9 1 8 1 7 1 8 1 7 1 9 1 9 1 12 1 13" stroke="#77AC30"/>
<path d="M0,3804l1 6 1 6 1 2 1-2 1-2 1-2 1-1 1 1 1 0 1 1 1-1 1 0 1-1 1 0 1-2 1-1 1-1 1 1 1 1 1 2 1 2 1 0 1-1 1-2 1-1 1 1 1 0 1-1 1-1 1 0 1 0 1 0 1 0 1 0 1-1 1-3 1-5 1-7 1-2 1 0 1-5 1-8 1-8 1-7 1-5 1-5 1-9 1-10 1-12 1-15 1-30 1-52 1-59 1-68 1-89 1-104 1-107 1-105 1-106 1-99 1-72 1-45 1-46 1-39 1-22 1 13 1 17 1 9 1 44 1 65 1 66 1 68 1 69 1 68 1 54 1 43 1 33 1 18 1 3 1-13 1-25 1-37 1-56 1-63 1-69 1-80 1-82 1-63 1-44 1-32 1-2 1 20 1 29 1 28 1 17 1 16 1 36 1 69 1 92 1 94 1 94 1 95 1 78 1 60 1 44 1 3 1-17 1-28 1-31 1-27 1-17 1-3 1 8 1 15 1 19 1 19 1 21 1 14 1-10 1-20 1-21 1-19 1-21 1-22 1-18 1-2 1 16 1 26 1 30 1 28 1 25 1 19 1 11 1 6 1 4 1 3 1 3 1 4 1 3 1 2 1 1 1 2 1 2 1 0 1-4 1-4 1-2 1 0 1 2 1 3 1 2 1 1 1 3 1 4 1 4 1 2 1 1 1-1 1-2 1-2 1-2 1-3 1-3 1-3 1 0 1 3 1 11 1 16 1 20 1 21 1 21 1 19 1 18 1 18 1 20 1 19 1 13 1 8 1 1 1 0 1-2 1-3 1-4 1 3 1 16 1 19 1 17 1 16 1 5 1-7 1-10 1-9 1-7 1-6 1-3 1-3 1-5 1-5 1-6 1-5 1-6 1-4 1-2 1-2 1 0 1 5 1 9 1 11 1 9 1 9 1 7 1 6 1 2 1 1 1 2 1 7 1 11 1 15 1 18 1 18 1 18 1 17 1 16 1 14 1 15" stroke="#4DBEEE"/>
<path d="M0,3802l1 1 1 0 1-2 1-2 1 1 1 2 1 3 1 1 1 1 1 0 1 0 1-1 1-1 1 0 1 0 1-2 1-2 1-2 1-2 1 0 1 0 1 2 1 3 1 2 1 2 1 1 1-2 1-4 1-5 1-2 1-1 1-3 1-4 1-10 1-13 1-10 1-15 1-13 1 3 1 16 1 5 1 0 1-3 1-7 1-7 1-7 1-7 1-9 1-11 1-12 1-29 1-51 1-62 1-71 1-92 1-108 1-111 1-113 1-114 1-114 1-104 1-93 1-82 1-35 1-22 1 7 1 41 1 57 1 67 1 72 1 73 1 73 1 72 1 70 1 54 1 43 1 36 1 21 1 2 1-13 1-23 1-34 1-54 1-65 1-72 1-77 1-77 1-73 1-67 1-45 1 1 1 20 1 34 1 36 1 19 1 19 1 54 1 86 1 95 1 96 1 97 1 97 1 81 1 55 1 28 1-14 1-25 1-32 1-34 1-29 1-18 1 1 1 15 1 23 1 26 1 24 1 24 1 15 1-11 1-25 1-28 1-25 1-24 1-20 1-11 1 8 1 22 1 25 1 27 1 27 1 21 1 15 1 9 1 5 1 3 1 1 1 0 1 0 1-2 1-5 1-6 1-7 1-7 1-7 1-8 1-9 1-8 1-4 1 1 1 3 1 4 1 1 1 3 1 2 1 2 1 1 1-1 1 1 1 3 1 5 1 3 1 0 1-3 1-1 1 0 1 4 1 8 1 12 1 15 1 16 1 13 1 9 1 8 1 5 1 4 1 2 1 3 1 1 1 0 1-4 1-2 1 2 1 3 1 5 1 15 1 16 1 10 1 5 1-1 1-3 1-4 1-4 1-8 1-9 1-11 1-10 1-8 1-5 1-2 1 0 1 3 1 4 1 4 1 2 1 0 1-2 1-2 1-1 1 2 1 5 1 6 1 6 1 5 1 5 1 7 1 9 1 9 1 12 1 12 1 13 1 14 1 15 1 17 1 17 1 16" stroke="#A2142F"/>
<path d="M0,3807l1 0 1-1 1 0 1 0 1-1 1 0 1 1 1 1 1 1 1 0 1-1 1-2 1-2 1-1 1 0 1 2 1 3 1 2 1 2 1 0 1-1 1-1 1-1 1 0 1 0 1-1 1 0 1 0 1-3 1-3 1-2 1-1 1-3 1-5 1-4 1-4 1-7 1-9 1 0 1 3 1-3 1-5 1-5 1-7 1-6 1-6 1-7 1-11 1-12 1-15 1-30 1-50 1-58 1-67 1-88 1-105 1-107 1-107 1-107 1-99 1-74 1-49 1-47 1-36 1-19 1 18 1 26 1 15 1 48 1 68 1 70 1 70 1 73 1 73 1 59 1 45 1 32 1 16 1 4 1-11 1-23 1-37 1-56 1-67 1-73 1-83 1-83 1-51 1-22 1-20 1-6 1 17 1 24 1 24 1 20 1 18 1 25 1 59 1 91 1 92 1 90 1 88 1 74 1 58 1 50 1 8 1-11 1-20 1-24 1-19 1-12 1-4 1 3 1 7 1 10 1 8 1 12 1 9 1-6 1-14 1-16 1-18 1-19 1-19 1-13 1-1 1 15 1 26 1 31 1 31 1 30 1 25 1 19 1 12 1 8 1 4 1 4 1 3 1 0 1-3 1-2 1 1 1 1 1 1 1 0 1 0 1 1 1 1 1 0 1 1 1 2 1 3 1 3 1 3 1 0 1-2 1-4 1-4 1-4 1-4 1-6 1-7 1-6 1-3 1 1 1 7 1 14 1 18 1 19 1 19 1 19 1 21 1 22 1 25 1 27 1 24 1 17 1 9 1-1 1-9 1-10 1-10 1-8 1 2 1 17 1 23 1 21 1 18 1 4 1-8 1-10 1-6 1-7 1-9 1-10 1-8 1-4 1-2 1-2 1-3 1-2 1-2 1-2 1-3 1-3 1-2 1 2 1 4 1 4 1 4 1 2 1 2 1 2 1 4 1 8 1 12 1 17 1 19 1 21 1 21 1 20 1 17 1 15 1 12 1 10" stroke="#0072BD"/>
<path d="M0,3807l1-1 1 0 1 2 1 2 1 0 1-2 1-3 1-1 1 1 1 1 1 1 1 1 1 0 1-1 1-1 1 0 1 1 1 0 1 1 1 1 1 2 1 0 1-1 1-1 1 1 1 1 1 0 1-3 1-3 1-3 1-2 1-3 1-3 1-7 1-7 1-7 1-11 1-11 1-1 1 5 1 0 1-2 1-3 1-5 1-5 1-5 1-6 1-10 1-12 1-14 1-30 1-50 1-58 1-66 1-89 1-106 1-108 1-107 1-108 1-102 1-78 1-55 1-51 1-35 1-17 1 19 1 27 1 17 1 49 1 69 1 69 1 71 1 72 1 72 1 60 1 47 1 35 1 18 1 5 1-11 1-24 1-38 1-57 1-67 1-71 1-80 1-80 1-51 1-25 1-24 1-7 1 17 1 26 1 27 1 21 1 18 1 25 1 60 1 91 1 90 1 90 1 91 1 75 1 59 1 48 1 7 1-13 1-20 1-22 1-17 1-12 1-4 1 2 1 6 1 10 1 12 1 13 1 9 1-9 1-20 1-21 1-19 1-19 1-18 1-14 1-4 1 12 1 22 1 28 1 27 1 24 1 18 1 10 1 6 1 3 1 1 1 0 1-2 1-2 1-4 1-4 1-4 1-3 1-3 1-5 1-6 1-6 1-5 1-1 1 1 1-1 1 1 1 4 1 8 1 6 1 4 1 0 1 0 1 1 1 2 1 0 1-4 1-3 1-2 1-1 1 5 1 10 1 14 1 17 1 15 1 14 1 11 1 14 1 16 1 17 1 15 1 13 1 9 1 2 1-3 1-7 1-5 1-4 1 2 1 14 1 18 1 14 1 13 1 4 1-5 1-5 1-3 1-1 1 0 1 1 1 1 1-1 1 0 1-1 1-2 1-2 1-2 1-1 1 1 1 3 1 7 1 7 1 7 1 8 1 9 1 8 1 6 1 7 1 8 1 11 1 13 1 16 1 16 1 15 1 16 1 16 1 16 1 16 1 12 1 9" stroke="#D95319"/>
<path d="M0,3806l1 1 1 0 1-2 1-1 1-1 1 2 1 3 1 3 1 0 1-2 1-3 1-3 1-2 1-1 1-3 1-3 1-2 1-1 1 1 1 1 1 3 1 4 1 3 1 2 1 1 1 2 1 0 1 0 1-2 1-2 1-3 1-2 1-2 1-7 1-9 1-8 1-11 1-8 1 2 1 10 1 0 1-2 1-5 1-6 1-6 1-6 1-8 1-11 1-14 1-14 1-30 1-51 1-61 1-69 1-90 1-105 1-108 1-109 1-111 1-106 1-87 1-68 1-65 1-40 1-23 1 12 1 35 1 36 1 58 1 69 1 69 1 69 1 68 1 66 1 53 1 44 1 35 1 21 1 5 1-12 1-22 1-36 1-55 1-65 1-71 1-80 1-80 1-64 1-51 1-39 1-4 1 17 1 30 1 33 1 21 1 20 1 42 1 73 1 91 1 92 1 93 1 94 1 78 1 56 1 38 1-4 1-21 1-30 1-31 1-26 1-15 1-1 1 12 1 17 1 21 1 19 1 20 1 13 1-10 1-21 1-23 1-23 1-24 1-25 1-17 1 1 1 18 1 25 1 30 1 27 1 23 1 18 1 9 1 5 1 2 1 3 1 2 1 3 1 1 1-4 1-5 1-5 1-2 1-1 1-1 1-1 1-2 1 1 1 2 1 3 1 5 1 4 1 4 1 2 1 1 1 0 1 0 1-1 1-2 1 0 1 0 1 0 1 0 1 2 1 4 1 10 1 17 1 21 1 23 1 21 1 20 1 16 1 17 1 17 1 19 1 18 1 14 1 10 1 4 1 1 1-1 1-1 1-3 1 5 1 17 1 22 1 20 1 19 1 7 1-6 1-9 1-8 1-7 1-8 1-6 1-5 1-3 1-3 1-3 1-2 1-1 1-2 1-2 1-3 1-2 1 1 1 6 1 9 1 10 1 11 1 9 1 8 1 5 1 5 1 6 1 5 1 6 1 6 1 8 1 10 1 13 1 14 1 16 1 15 1 16" stroke="#EDB120"/>
<path d="M0,3814l1 0 1-1 1-3 1-2 1-1 1 0 1 1 1 2 1 1 1 1 1-1 1 0 1 0 1 0 1 0 1-1 1-1 1-1 1 1 1 2 1 2 1 1 1 1 1-1 1-2 1-1 1-2 1-2 1-2 1-3 1-2 1-2 1-1 1-3 1-6 1-7 1-13 1-11 1 0 1 8 1 1 1-1 1-1 1-4 1-7 1-8 1-10 1-11 1-14 1-16 1-31 1-52 1-60 1-69 1-90 1-105 1-106 1-108 1-109 1-105 1-82 1-59 1-52 1-34 1-17 1 17 1 30 1 25 1 53 1 70 1 69 1 69 1 69 1 68 1 57 1 45 1 34 1 17 1-1 1-14 1-24 1-34 1-52 1-63 1-69 1-81 1-82 1-58 1-34 1-28 1-4 1 20 1 30 1 29 1 20 1 18 1 30 1 64 1 90 1 90 1 91 1 91 1 75 1 55 1 43 1 3 1-13 1-23 1-27 1-24 1-15 1-1 1 6 1 12 1 17 1 18 1 20 1 14 1-6 1-18 1-20 1-20 1-21 1-20 1-11 1 2 1 18 1 30 1 34 1 33 1 31 1 24 1 14 1 7 1 4 1 1 1 1 1 1 1 0 1 0 1-1 1-1 1-2 1-3 1-1 1 1 1 5 1 5 1 5 1 5 1 3 1 3 1 5 1 6 1 5 1 2 1 1 1-2 1-3 1-4 1-7 1-8 1-6 1-4 1-3 1 2 1 10 1 15 1 19 1 18 1 20 1 20 1 22 1 22 1 22 1 19 1 14 1 9 1 2 1-3 1-4 1-4 1-4 1 3 1 16 1 20 1 17 1 16 1 2 1-13 1-15 1-12 1-11 1-9 1-6 1-2 1-1 1-1 1 0 1 0 1-1 1-1 1-3 1-2 1-1 1 3 1 7 1 7 1 7 1 6 1 6 1 3 1 3 1 4 1 8 1 8 1 10 1 9 1 10 1 8 1 5 1 4 1 4 1 5 1 7" stroke="#7E2F8E"/>
<path d="M0,3798l1 0 1 1 1-1 1-1 1 0 1 1 1 2 1 3 1 2 1 1 1-1 1-2 1-1 1-1 1-1 1-1 1 0 1 1 1 0 1-2 1 0 1 0 1 0 1 2 1 3 1 1 1 0 1-2 1-2 1 0 1 0 1-1 1-5 1-13 1-15 1-14 1-21 1-18 1 4 1 21 1 11 1 5 1-4 1-9 1-10 1-8 1-6 1-7 1-8 1-10 1-29 1-52 1-65 1-75 1-98 1-113 1-113 1-114 1-115 1-115 1-106 1-99 1-84 1-31 1-20 1 9 1 48 1 65 1 72 1 75 1 74 1 74 1 75 1 75 1 59 1 47 1 36 1 20 1 3 1-11 1-20 1-32 1-52 1-64 1-71 1-80 1-79 1-67 1-51 1-36 1 2 1 23 1 35 1 34 1 20 1 19 1 40 1 74 1 92 1 90 1 91 1 91 1 77 1 58 1 43 1 1 1-16 1-26 1-28 1-25 1-16 1-1 1 11 1 19 1 21 1 19 1 18 1 12 1-11 1-22 1-22 1-21 1-22 1-22 1-14 1 3 1 20 1 26 1 28 1 25 1 20 1 16 1 10 1 6 1 5 1 2 1 2 1 2 1 2 1-1 1-3 1-5 1-4 1-4 1-3 1-5 1-3 1-2 1 1 1 4 1 7 1 7 1 7 1 4 1 1 1-3 1-2 1-3 1-5 1-5 1-8 1-10 1-10 1-8 1-4 1 2 1 9 1 12 1 13 1 15 1 15 1 13 1 11 1 10 1 8 1 8 1 7 1 6 1 2 1-2 1-2 1-1 1 1 1 4 1 13 1 14 1 8 1 4 1-5 1-11 1-12 1-12 1-12 1-12 1-11 1-9 1-8 1-7 1-5 1-6 1-7 1-6 1-5 1-6 1-7 1-6 1-3 1 2 1 3 1 1 1 0 1-1 1 3 1 7 1 11 1 12 1 13 1 14 1 14 1 11 1 10 1 7 1 6 1 7 1 8" stroke="#77AC30"/>
<path d="M0,3810l1-1 1-2 1-1 1 0 1 1 1 0 1 1 1 1 1 1 1 0 1 0 1 2 1 2 1 0 1-1 1-3 1-2 1 0 1 3 1 2 1 0 1-2 1-3 1-2 1-3 1-4 1-2 1 0 1 2 1 1 1-2 1-3 1-4 1-6 1-6 1-4 1-7 1-6 1 1 1 5 1 0 1-1 1-4 1-7 1-10 1-10 1-8 1-8 1-9 1-12 1-30 1-51 1-59 1-67 1-88 1-105 1-108 1-106 1-106 1-98 1-71 1-46 1-46 1-41 1-22 1 17 1 27 1 17 1 52 1 68 1 66 1 65 1 64 1 67 1 55 1 46 1 33 1 15 1 0 1-13 1-24 1-36 1-56 1-66 1-70 1-80 1-81 1-56 1-33 1-28 1-6 1 19 1 28 1 28 1 22 1 21 1 32 1 63 1 90 1 91 1 91 1 90 1 77 1 60 1 46 1 3 1-17 1-24 1-25 1-19 1-14 1-3 1 5 1 13 1 17 1 16 1 14 1 8 1-11 1-19 1-19 1-18 1-18 1-17 1-11 1 3 1 19 1 28 1 32 1 32 1 28 1 21 1 9 1 2 1 0 1 0 1-1 1-1 1-3 1-2 1-3 1-4 1-5 1-4 1-1 1 2 1 1 1 0 1 1 1 3 1 4 1 1 1 0 1-1 1-3 1-6 1-6 1-8 1-7 1-3 1-2 1-4 1-6 1-6 1-4 1 2 1 8 1 11 1 14 1 15 1 16 1 16 1 17 1 16 1 16 1 15 1 13 1 9 1 3 1-2 1-1 1-2 1-4 1 2 1 15 1 17 1 11 1 10 1 2 1-5 1-6 1-3 1-3 1-1 1 0 1 0 1 2 1 3 1 5 1 5 1 5 1 6 1 5 1 3 1 4 1 4 1 9 1 13 1 15 1 17 1 16 1 10 1 8 1 8 1 9 1 12 1 13 1 12 1 12 1 16 1 18 1 17 1 16 1 12 1 11" stroke="#4DBEEE"/>
<path d="M0,3809l1-1 1 0 1 0 1 0 1 0 1 1 1 1 1 1 1 1 1 1 1 3 1 1 1 1 1 1 1 2 1 0 1-1 1-4 1-3 1-2 1-2 1-1 1-1 1 0 1 0 1 1 1 0 1-1 1-1 1-2 1-2 1-1 1 1 1 2 1 0 1-2 1-5 1-7 1-3 1-1 1-6 1-6 1-7 1-7 1-8 1-9 1-9 1-11 1-12 1-12 1-28 1-48 1-58 1-66 1-87 1-103 1-106 1-107 1-108 1-100 1-68 1-37 1-38 1-38 1-20 1 18 1 21 1 6 1 47 1 69 1 66 1 66 1 67 1 67 1 54 1 43 1 29 1 15 1 1 1-11 1-21 1-36 1-56 1-66 1-71 1-83 1-82 1-52 1-27 1-24 1-5 1 17 1 26 1 25 1 21 1 21 1 31 1 61 1 90 1 90 1 90 1 90 1 76 1 57 1 47 1 7 1-12 1-19 1-23 1-19 1-12 1-4 1 5 1 11 1 13 1 12 1 13 1 10 1-7 1-17 1-18 1-17 1-15 1-16 1-10 1 1 1 17 1 26 1 29 1 28 1 26 1 22 1 15 1 9 1 4 1 3 1 1 1 0 1-1 1-3 1-2 1-3 1-2 1 0 1-1 1-1 1-3 1-3 1 0 1 0 1 3 1 6 1 10 1 9 1 7 1 3 1 0 1 1 1 0 1 0 1-3 1-6 1-7 1-6 1-3 1 3 1 10 1 17 1 21 1 22 1 22 1 22 1 20 1 19 1 15 1 13 1 10 1 6 1 2 1-4 1-6 1-6 1-5 1 3 1 17 1 19 1 16 1 17 1 3 1-9 1-13 1-10 1-12 1-10 1-9 1-7 1-5 1-3 1-3 1-2 1-3 1-1 1 1 1 2 1 2 1 1 1 0 1-2 1-2 1-4 1-6 1-8 1-4 1 0 1 5 1 8 1 9 1 9 1 7 1 7 1 9 1 12 1 11 1 8 1 7" stroke="#A2142F"/>
<path d="M0,3810l1 0 1 0 1-1 1-2 1-1 1 2 1 3 1 1 1-1 1-3 1-3 1-1 1-1 1-1 1 0 1 0 1-1 1-1 1-3 1-1 1 0 1 1 1 0 1 1 1 1 1 2 1 2 1 2 1 1 1-2 1-2 1-4 1-4 1-8 1-10 1-10 1-17 1-14 1 0 1 13 1 5 1 1 1-3 1-6 1-8 1-8 1-10 1-11 1-12 1-12 1-29 1-49 1-60 1-70 1-91 1-109 1-110 1-110 1-109 1-106 1-91 1-78 1-68 1-32 1-17 1 13 1 37 1 40 1 59 1 70 1 69 1 71 1 71 1 71 1 57 1 45 1 35 1 19 1 5 1-9 1-20 1-33 1-52 1-62 1-69 1-78 1-80 1-56 1-35 1-26 1-2 1 20 1 29 1 29 1 21 1 18 1 31 1 64 1 92 1 92 1 92 1 90 1 74 1 55 1 44 1 3 1-14 1-23 1-26 1-22 1-13 1-1 1 8 1 15 1 16 1 13 1 14 1 10 1-8 1-19 1-20 1-21 1-20 1-20 1-11 1 4 1 21 1 30 1 31 1 30 1 29 1 24 1 16 1 10 1 8 1 5 1 2 1-1 1-3 1-5 1-6 1-5 1-3 1-1 1-1 1 0 1 1 1 2 1 3 1 6 1 6 1 8 1 10 1 8 1 3 1-3 1-4 1-4 1-3 1-3 1-3 1-5 1-6 1-6 1-5 1 0 1 8 1 13 1 17 1 17 1 17 1 17 1 16 1 15 1 16 1 16 1 14 1 9 1 0 1-5 1-6 1-5 1-6 1 1 1 13 1 17 1 13 1 16 1 7 1-4 1-7 1-5 1-6 1-5 1-4 1-4 1-3 1-2 1-1 1 1 1 1 1-1 1-3 1-4 1-3 1-1 1 2 1 3 1 2 1-1 1-1 1 0 1 2 1 6 1 10 1 13 1 15 1 16 1 15 1 16 1 17 1 18 1 15 1 12 1 8" stroke="#0072BD"/>
<path d="M0,3808l1 0 1 2 1 0 1-2 1-2 1-3 1-1 1 0 1 0 1 0 1-2 1-2 1-1 1 0 1 0 1-2 1-3 1-1 1 1 1 3 1 2 1 1 1-2 1-3 1-1 1 1 1 3 1 1 1-3 1-4 1-3 1-1 1-4 1-10 1-12 1-9 1-15 1-12 1 3 1 16 1 7 1 2 1-3 1-6 1-7 1-6 1-7 1-10 1-13 1-16 1-31 1-52 1-61 1-69 1-90 1-110 1-112 1-112 1-112 1-110 1-97 1-86 1-76 1-35 1-20 1 9 1 39 1 48 1 65 1 73 1 76 1 76 1 74 1 70 1 54 1 46 1 37 1 21 1 0 1-15 1-22 1-32 1-53 1-66 1-74 1-82 1-81 1-68 1-55 1-37 1 1 1 20 1 31 1 31 1 20 1 22 1 47 1 78 1 92 1 93 1 93 1 94 1 81 1 61 1 39 1-5 1-22 1-31 1-34 1-30 1-18 1-1 1 11 1 17 1 20 1 21 1 23 1 16 1-9 1-21 1-23 1-25 1-26 1-24 1-18 1 1 1 18 1 25 1 29 1 26 1 20 1 13 1 5 1 3 1 1 1-1 1-2 1-3 1-3 1-3 1-3 1-6 1-8 1-10 1-10 1-11 1-8 1-4 1 5 1 9 1 9 1 7 1 5 1 5 1 4 1 2 1 1 1-3 1-5 1-3 1-4 1-4 1-6 1-4 1 0 1 5 1 9 1 12 1 15 1 17 1 15 1 12 1 11 1 13 1 13 1 11 1 8 1 5 1 1 1-3 1-4 1 0 1 1 1 1 1 10 1 11 1 5 1 2 1-6 1-10 1-11 1-9 1-7 1-7 1-6 1-3 1-1 1-1 1-2 1-4 1-5 1-3 1-3 1-4 1-5 1-4 1-3 1 1 1 1 1 0 1-3 1-4 1-2 1 2 1 8 1 11 1 11 1 10 1 11 1 14 1 15 1 15 1 15 1 15 1 15" stroke="#D95319"/>
<path d="M0,3795l1 2 1 2 1 2 1 0 1-1 1 0 1 0 1-1 1-1 1 0 1 0 1 1 1 1 1 2 1 3 1 2 1 1 1 0 1 1 1 0 1 0 1-1 1 0 1 0 1 1 1-1 1-2 1-4 1-3 1-3 1-2 1-3 1-5 1-12 1-16 1-14 1-21 1-17 1 4 1 19 1 8 1 4 1-1 1-6 1-6 1-7 1-6 1-8 1-11 1-14 1-31 1-53 1-62 1-72 1-95 1-113 1-117 1-118 1-118 1-117 1-118 1-118 1-101 1-33 1-23 1 5 1 56 1 83 1 79 1 75 1 76 1 74 1 75 1 73 1 58 1 47 1 39 1 21 1-1 1-15 1-23 1-32 1-52 1-63 1-72 1-77 1-76 1-74 1-71 1-47 1 5 1 25 1 40 1 41 1 20 1 20 1 57 1 90 1 97 1 96 1 94 1 94 1 78 1 56 1 32 1-9 1-22 1-31 1-36 1-33 1-22 1-2 1 13 1 19 1 22 1 23 1 24 1 18 1-8 1-20 1-22 1-22 1-23 1-24 1-17 1 3 1 19 1 23 1 26 1 24 1 19 1 15 1 11 1 8 1 6 1 4 1 2 1 2 1 3 1 1 1-3 1-6 1-6 1-6 1-9 1-9 1-6 1-2 1 3 1 7 1 9 1 8 1 9 1 8 1 6 1 2 1 0 1-3 1-2 1-1 1-3 1-2 1-3 1-3 1-2 1 4 1 10 1 13 1 15 1 13 1 10 1 5 1 4 1 6 1 7 1 9 1 10 1 8 1 1 1-5 1-6 1-2 1 1 1 4 1 15 1 18 1 10 1 6 1-5 1-12 1-15 1-16 1-16 1-13 1-11 1-9 1-7 1-5 1-5 1-3 1-4 1-4 1-5 1-4 1-3 1-4 1-1 1 2 1 2 1 3 1 2 1 3 1 4 1 3 1 6 1 9 1 12 1 14 1 14 1 14 1 15 1 14 1 15 1 15 1 17" stroke="#EDB120"/>
<path d="M0,3795l1 2 1 3 1 2 1 2 1-1 1-1 1-3 1-2 1-2 1-3 1 0 1 2 1 2 1 0 1-2 1-1 1 0 1 0 1 0 1 1 1 1 1 1 1 2 1 0 1-1 1-2 1-1 1-2 1-2 1-1 1-3 1-3 1-4 1-10 1-13 1-12 1-20 1-19 1 2 1 19 1 10 1 8 1 0 1-5 1-7 1-8 1-8 1-10 1-11 1-15 1-31 1-53 1-60 1-70 1-94 1-113 1-116 1-115 1-113 1-111 1-107 1-99 1-86 1-34 1-20 1 8 1 47 1 63 1 72 1 75 1 76 1 77 1 76 1 74 1 57 1 47 1 39 1 24 1 4 1-13 1-25 1-36 1-53 1-61 1-68 1-78 1-80 1-68 1-56 1-40 1-2 1 20 1 34 1 35 1 23 1 21 1 46 1 78 1 94 1 95 1 95 1 93 1 75 1 55 1 36 1-4 1-21 1-30 1-34 1-28 1-17 1-1 1 12 1 19 1 24 1 21 1 19 1 10 1-15 1-27 1-27 1-23 1-22 1-20 1-13 1 6 1 22 1 27 1 29 1 25 1 18 1 14 1 8 1 5 1 4 1 2 1 0 1-1 1-3 1-4 1-5 1-6 1-8 1-8 1-4 1-2 1 0 1 2 1 5 1 8 1 8 1 7 1 6 1 6 1 6 1 3 1 1 1-4 1-5 1-6 1-6 1-7 1-4 1-1 1 2 1 7 1 12 1 16 1 19 1 21 1 20 1 16 1 14 1 14 1 12 1 13 1 10 1 6 1 1 1-6 1-6 1-3 1 1 1 5 1 15 1 18 1 12 1 9 1-1 1-9 1-9 1-8 1-8 1-9 1-11 1-10 1-9 1-9 1-8 1-7 1-5 1-2 1 0 1 0 1 0 1 0 1 1 1 2 1 4 1 3 1 2 1 1 1 0 1 2 1 6 1 10 1 13 1 14 1 15 1 15 1 13 1 10 1 8 1 8 1 9" stroke="#7E2F8E"/>
<path d="M0,3806l1-2 1-2 1-3 1-1 1-2 1-1 1 0 1 0 1 0 1 1 1 1 1 1 1 1 1 1 1-1 1-1 1 0 1 2 1 3 1 2 1 1 1-2 1-3 1-4 1-2 1 0 1 1 1 1 1 0 1-1 1-1 1-2 1-3 1-7 1-10 1-11 1-15 1-15 1 1 1 12 1 5 1 3 1-1 1-6 1-5 1-6 1-8 1-11 1-13 1-13 1-30 1-52 1-61 1-70 1-92 1-109 1-110 1-111 1-113 1-112 1-101 1-90 1-80 1-37 1-22 1 7 1 41 1 54 1 65 1 72 1 72 1 71 1 70 1 70 1 57 1 48 1 37 1 18 1 0 1-14 1-22 1-33 1-53 1-64 1-71 1-77 1-77 1-69 1-58 1-39 1 2 1 22 1 33 1 32 1 18 1 20 1 50 1 81 1 95 1 94 1 93 1 94 1 79 1 57 1 35 1-6 1-21 1-27 1-30 1-28 1-19 1-2 1 11 1 20 1 25 1 25 1 23 1 15 1-11 1-22 1-24 1-21 1-21 1-20 1-15 1 3 1 17 1 22 1 26 1 26 1 23 1 21 1 15 1 11 1 7 1 3 1 0 1 0 1-2 1-4 1-6 1-7 1-7 1-7 1-6 1-6 1-4 1-1 1 3 1 5 1 6 1 6 1 7 1 7 1 4 1 2 1 0 1-3 1-3 1-5 1-6 1-9 1-11 1-10 1-9 1-3 1 2 1 7 1 10 1 12 1 10 1 7 1 8 1 10 1 12 1 14 1 12 1 8 1 3 1-4 1-6 1-6 1-6 1-3 1 8 1 9 1 4 1 6 1 1 1-2 1-5 1-5 1-6 1-7 1-8 1-7 1-5 1-5 1-4 1-5 1-7 1-7 1-8 1-8 1-9 1-9 1-5 1 1 1 4 1 5 1 3 1 4 1 6 1 8 1 11 1 13 1 13 1 12 1 12 1 12 1 10 1 11 1 12 1 12 1 13" stroke="#77AC30"/>
<path d="M0,3802l1-1 1-1 1-2 1-1 1-2 1-1 1-1 1 1 1 0 1-1 1 0 1 1 1 2 1 1 1 1 1 2 1 1 1 0 1 0 1 2 1 2 1 2 1 0 1-1 1-1 1 0 1 1 1 0 1-1 1-3 1-3 1-2 1-3 1-9 1-12 1-13 1-18 1-14 1 4 1 14 1 7 1 3 1 0 1-6 1-9 1-10 1-9 1-10 1-11 1-14 1-30 1-53 1-63 1-72 1-92 1-107 1-109 1-111 1-114 1-112 1-99 1-86 1-74 1-35 1-21 1 7 1 37 1 51 1 65 1 72 1 70 1 70 1 70 1 69 1 54 1 44 1 37 1 22 1 2 1-15 1-23 1-35 1-55 1-66 1-73 1-77 1-79 1-75 1-71 1-48 1 1 1 22 1 33 1 35 1 21 1 22 1 60 1 90 1 97 1 97 1 95 1 95 1 78 1 55 1 29 1-13 1-27 1-34 1-38 1-31 1-18 1 3 1 18 1 25 1 26 1 24 1 23 1 15 1-10 1-24 1-25 1-24 1-25 1-24 1-17 1 3 1 21 1 26 1 30 1 26 1 18 1 10 1 5 1 5 1 7 1 5 1 4 1 3 1 2 1-2 1-4 1-7 1-9 1-9 1-9 1-10 1-9 1-5 1 2 1 6 1 6 1 6 1 7 1 7 1 5 1 5 1 4 1 3 1 2 1 0 1-3 1-3 1-3 1-5 1-4 1 0 1 6 1 10 1 13 1 15 1 14 1 13 1 15 1 17 1 17 1 17 1 15 1 8 1 1 1-5 1-5 1-3 1-2 1 0 1 12 1 19 1 15 1 14 1 4 1-4 1-6 1-7 1-7 1-7 1-5 1-4 1-2 1 0 1 2 1 3 1 3 1 0 1-1 1-2 1-2 1-3 1-3 1-1 1-2 1 0 1-1 1 0 1 1 1 2 1 4 1 8 1 10 1 11 1 11 1 11 1 13 1 15 1 14 1 13 1 11" stroke="#4DBEEE"/>
<path d="M0,3805l1 3 1 3 1 2 1-1 1-2 1-1 1-1 1 0 1 1 1 1 1 1 1 0 1-1 1-1 1 0 1 1 1 2 1 1 1 2 1 2 1 0 1-2 1-2 1-2 1-3 1-1 1-1 1 0 1 2 1 0 1-1 1-3 1-3 1-2 1-2 1-1 1-5 1-7 1-4 1-1 1-5 1-5 1-6 1-8 1-9 1-8 1-7 1-6 1-8 1-10 1-28 1-52 1-63 1-71 1-91 1-106 1-106 1-104 1-103 1-98 1-69 1-44 1-46 1-40 1-21 1 16 1 20 1 9 1 45 1 67 1 68 1 68 1 68 1 69 1 55 1 45 1 32 1 17 1 2 1-15 1-26 1-39 1-57 1-65 1-71 1-80 1-80 1-57 1-36 1-29 1-4 1 19 1 28 1 29 1 19 1 18 1 32 1 66 1 91 1 90 1 91 1 93 1 76 1 57 1 43 1 1 1-15 1-24 1-28 1-23 1-15 1-2 1 8 1 13 1 14 1 13 1 14 1 10 1-11 1-20 1-20 1-18 1-20 1-19 1-12 1 2 1 18 1 26 1 31 1 30 1 26 1 21 1 13 1 9 1 7 1 5 1 1 1-2 1-2 1-1 1-3 1-4 1-7 1-4 1-4 1-2 1 0 1 0 1 3 1 4 1 6 1 8 1 9 1 7 1 3 1 0 1-4 1-4 1-5 1-4 1-4 1-5 1-5 1-4 1 1 1 7 1 12 1 14 1 14 1 14 1 14 1 12 1 12 1 11 1 10 1 12 1 11 1 6 1 0 1-3 1-3 1-3 1-1 1 2 1 13 1 16 1 13 1 14 1 3 1-7 1-11 1-10 1-12 1-12 1-8 1-4 1-4 1-4 1-4 1-4 1-3 1-3 1-2 1-1 1 2 1 5 1 7 1 7 1 8 1 9 1 8 1 7 1 7 1 9 1 12 1 16 1 18 1 17 1 14 1 12 1 13 1 14 1 14 1 14 1 15" stroke="#A2142F"/>
<path d="M0,3807l1 2 1 1 1-1 1-1 1-1 1 0 1-1 1 0 1 0 1 0 1-1 1-1 1 0 1 2 1 2 1 0 1-2 1-2 1-3 1 0 1 2 1 2 1 1 1-1 1-3 1-4 1-3 1 0 1 2 1 0 1-3 1-5 1-7 1-9 1-11 1-12 1-22 1-19 1 2 1 18 1 9 1 6 1 2 1-4 1-5 1-7 1-9 1-11 1-12 1-14 1-31 1-54 1-62 1-71 1-93 1-111 1-114 1-116 1-116 1-115 1-111 1-103 1-86 1-29 1-18 1 9 1 48 1 65 1 71 1 76 1 76 1 75 1 75 1 73 1 57 1 45 1 35 1 20 1 3 1-14 1-22 1-33 1-52 1-61 1-67 1-76 1-77 1-68 1-56 1-38 1 4 1 24 1 34 1 33 1 21 1 21 1 46 1 78 1 94 1 92 1 92 1 92 1 77 1 56 1 36 1-5 1-19 1-25 1-29 1-25 1-19 1-3 1 11 1 17 1 21 1 19 1 18 1 11 1-10 1-21 1-22 1-19 1-18 1-16 1-11 1 5 1 19 1 24 1 28 1 28 1 23 1 17 1 12 1 8 1 4 1 1 1-1 1-2 1-2 1-3 1-6 1-6 1-7 1-6 1-8 1-8 1-8 1-5 1 0 1 5 1 6 1 8 1 10 1 11 1 6 1 1 1-2 1-2 1-1 1 2 1 2 1-3 1-8 1-10 1-6 1-1 1 8 1 14 1 18 1 18 1 15 1 12 1 11 1 12 1 13 1 12 1 7 1 2 1-4 1-9 1-9 1-6 1-4 1-2 1 10 1 11 1 9 1 10 1 6 1 0 1-3 1-5 1-10 1-11 1-11 1-8 1-6 1-7 1-7 1-7 1-6 1-6 1-5 1-3 1-3 1-1 1 1 1 5 1 6 1 5 1 4 1 4 1 6 1 7 1 9 1 10 1 9 1 10 1 13 1 13 1 14 1 13 1 14 1 16 1 19" stroke="#0072BD"/>
<path d="M0,3801l1 2 1 2 1 0 1-2 1-2 1 0 1 1 1 2 1 0 1 0 1 1 1 1 1-1 1-1 1-2 1-1 1-1 1-1 1-1 1 0 1 0 1-1 1-3 1-2 1 0 1 2 1 3 1 2 1 1 1 0 1-1 1-3 1-4 1-9 1-9 1-8 1-14 1-13 1-2 1 9 1 4 1 2 1-2 1-6 1-8 1-8 1-8 1-9 1-10 1-11 1-27 1-50 1-61 1-70 1-91 1-108 1-109 1-108 1-108 1-104 1-83 1-63 1-57 1-34 1-21 1 12 1 29 1 28 1 56 1 72 1 71 1 70 1 70 1 69 1 55 1 45 1 35 1 20 1 4 1-11 1-22 1-36 1-54 1-65 1-71 1-82 1-80 1-57 1-36 1-29 1-4 1 20 1 29 1 31 1 23 1 21 1 34 1 65 1 91 1 91 1 90 1 90 1 74 1 57 1 43 1 4 1-14 1-24 1-28 1-23 1-14 1-1 1 8 1 14 1 16 1 15 1 16 1 10 1-10 1-22 1-23 1-24 1-24 1-22 1-15 1 1 1 18 1 27 1 30 1 29 1 24 1 18 1 9 1 6 1 5 1 5 1 5 1 4 1 1 1-3 1-4 1-5 1-3 1-2 1-4 1-6 1-5 1-3 1 2 1 2 1 3 1 3 1 5 1 6 1 4 1 0 1-4 1-4 1-3 1-2 1-2 1-4 1-5 1-5 1-5 1-1 1 5 1 11 1 16 1 18 1 18 1 16 1 16 1 14 1 16 1 15 1 14 1 11 1 3 1-5 1-9 1-11 1-10 1-4 1 10 1 14 1 9 1 7 1-2 1-11 1-14 1-14 1-13 1-10 1-8 1-5 1-7 1-8 1-8 1-5 1-2 1-2 1-2 1-3 1-3 1-2 1-3 1-2 1 1 1 2 1 2 1 0 1 1 1 4 1 7 1 11 1 12 1 11 1 12 1 11 1 12 1 14 1 15 1 14 1 13" stroke="#D95319"/>
<path d="M0,3803l1 1 1-1 1 0 1 0 1 2 1 2 1 0 1 0 1-1 1-1 1-4 1-5 1-4 1-2 1-1 1 1 1 3 1 2 1 2 1 1 1 2 1 3 1 2 1-2 1-3 1-2 1 0 1 0 1 1 1 1 1 1 1 1 1-2 1-7 1-11 1-13 1-15 1-11 1 2 1 11 1 3 1-1 1-2 1-5 1-6 1-6 1-9 1-12 1-12 1-13 1-29 1-52 1-61 1-68 1-88 1-105 1-108 1-110 1-112 1-106 1-85 1-65 1-61 1-37 1-21 1 13 1 34 1 34 1 60 1 72 1 71 1 69 1 69 1 70 1 57 1 47 1 37 1 21 1 4 1-15 1-27 1-39 1-54 1-62 1-68 1-79 1-81 1-56 1-32 1-25 1-3 1 20 1 29 1 28 1 22 1 21 1 30 1 60 1 90 1 92 1 94 1 94 1 76 1 59 1 47 1 5 1-15 1-23 1-24 1-18 1-11 1-2 1 5 1 9 1 13 1 15 1 16 1 10 1-10 1-21 1-22 1-21 1-18 1-17 1-10 1 1 1 17 1 26 1 30 1 27 1 22 1 18 1 11 1 5 1 1 1-2 1-2 1-1 1 0 1 0 1 0 1-1 1-2 1-3 1-4 1-3 1-1 1 2 1 4 1 4 1 3 1 4 1 5 1 4 1 0 1-5 1-6 1-7 1-7 1-7 1-7 1-8 1-8 1-8 1-6 1 1 1 8 1 11 1 14 1 16 1 20 1 20 1 18 1 15 1 15 1 16 1 15 1 9 1 0 1-7 1-10 1-8 1-7 1 1 1 13 1 16 1 11 1 9 1-1 1-7 1-7 1-6 1-5 1-6 1-6 1-5 1-4 1-3 1-3 1-3 1-2 1-1 1-1 1 0 1 0 1 2 1 3 1 5 1 3 1 2 1 0 1 1 1 5 1 8 1 11 1 14 1 17 1 20 1 21 1 23 1 20 1 17 1 15 1 12 1 13" stroke="#EDB120"/>
<path d="M0,3803l1 0 1 1 1 0 1 2 1 2 1 2 1 0 1 0 1-1 1-1 1-1 1-1 1 0 1 1 1 1 1 1 1 1 1 1 1 0 1-1 1-2 1-2 1-3 1-3 1-1 1 0 1 0 1 1 1 1 1-1 1-1 1-2 1-2 1-3 1-4 1-5 1-6 1-5 1 1 1 4 1-4 1-6 1-5 1-6 1-6 1-8 1-9 1-11 1-11 1-12 1-28 1-50 1-60 1-69 1-90 1-107 1-111 1-110 1-110 1-103 1-77 1-55 1-53 1-36 1-23 1 11 1 23 1 22 1 50 1 67 1 68 1 71 1 72 1 71 1 55 1 43 1 33 1 18 1 3 1-14 1-26 1-38 1-54 1-63 1-70 1-80 1-82 1-65 1-48 1-35 1-1 1 19 1 29 1 31 1 22 1 23 1 44 1 75 1 92 1 92 1 93 1 93 1 76 1 56 1 40 1 1 1-15 1-24 1-28 1-24 1-15 1 0 1 10 1 15 1 16 1 14 1 15 1 10 1-12 1-23 1-22 1-20 1-19 1-19 1-14 1 3 1 20 1 26 1 29 1 26 1 21 1 16 1 8 1 5 1 4 1 2 1 1 1 0 1-2 1-5 1-6 1-5 1-4 1-2 1-3 1-5 1-5 1-3 1 2 1 5 1 6 1 7 1 8 1 5 1 0 1-5 1-6 1-7 1-4 1-2 1-4 1-7 1-7 1-4 1 0 1 7 1 10 1 14 1 15 1 15 1 12 1 9 1 9 1 10 1 9 1 10 1 8 1 4 1 1 1-4 1-3 1-1 1 0 1 3 1 13 1 15 1 10 1 9 1-1 1-8 1-9 1-9 1-9 1-8 1-8 1-8 1-6 1-3 1-1 1 0 1 1 1-1 1-1 1-1 1 0 1 0 1 4 1 5 1 5 1 4 1 2 1 1 1 3 1 7 1 11 1 14 1 14 1 16 1 18 1 21 1 22 1 22 1 21 1 16 1 12" stroke="#7E2F8E"/>
<path d="M0,3807l1 0 1-2 1-3 1-2 1 0 1 0 1 1 1 2 1 1 1 1 1 0 1 0 1-1 1-2 1-4 1-2 1 0 1 1 1 1 1 0 1-3 1-3 1-2 1 1 1 1 1 0 1 1 1 1 1 0 1-1 1-2 1-2 1-4 1-11 1-14 1-13 1-20 1-17 1 4 1 20 1 8 1 3 1-1 1-6 1-8 1-10 1-9 1-9 1-11 1-13 1-29 1-53 1-64 1-73 1-94 1-109 1-111 1-112 1-112 1-111 1-105 1-99 1-84 1-32 1-19 1 11 1 47 1 61 1 70 1 74 1 73 1 73 1 72 1 74 1 60 1 48 1 36 1 19 1 3 1-12 1-22 1-35 1-54 1-65 1-71 1-79 1-80 1-67 1-52 1-36 1 0 1 19 1 31 1 34 1 22 1 24 1 50 1 77 1 91 1 90 1 91 1 92 1 77 1 56 1 37 1-4 1-21 1-26 1-30 1-25 1-16 1-1 1 10 1 16 1 17 1 17 1 18 1 15 1-7 1-19 1-21 1-21 1-21 1-21 1-15 1 2 1 17 1 23 1 27 1 24 1 17 1 12 1 8 1 7 1 6 1 7 1 4 1 3 1 0 1-3 1-3 1-3 1-4 1-4 1-8 1-9 1-8 1-3 1 2 1 7 1 9 1 9 1 9 1 7 1 5 1 3 1 2 1 0 1-3 1-2 1-2 1-4 1-5 1-5 1-4 1 0 1 5 1 11 1 12 1 12 1 13 1 14 1 15 1 17 1 15 1 15 1 14 1 11 1 5 1-1 1-3 1-2 1-2 1 2 1 11 1 12 1 8 1 7 1-2 1-7 1-8 1-6 1-6 1-5 1-4 1-5 1-5 1-4 1-6 1-8 1-8 1-7 1-6 1-7 1-5 1 0 1 4 1 6 1 6 1 4 1 1 1 0 1 3 1 7 1 11 1 16 1 16 1 19 1 19 1 20 1 19 1 18 1 17 1 16 1 18" stroke="#77AC30"/>
<path d="M0,3815l1-1 1-1 1 1 1 0 1 0 1 0 1-1 1-1 1-1 1 0 1 0 1-1 1-2 1-1 1 1 1 3 1 4 1 2 1 0 1-2 1-3 1-1 1-2 1-1 1 0 1 1 1 0 1 0 1 0 1 0 1-1 1-2 1-2 1-2 1-3 1-3 1-6 1-7 1-2 1-1 1-7 1-7 1-5 1-4 1-3 1-4 1-7 1-12 1-13 1-13 1-27 1-49 1-59 1-67 1-91 1-107 1-108 1-106 1-109 1-104 1-77 1-50 1-46 1-36 1-20 1 15 1 23 1 15 1 48 1 66 1 65 1 66 1 67 1 69 1 58 1 48 1 36 1 19 1 3 1-15 1-26 1-39 1-55 1-65 1-70 1-82 1-83 1-59 1-37 1-30 1-4 1 22 1 30 1 30 1 20 1 20 1 34 1 69 1 95 1 95 1 92 1 91 1 76 1 56 1 42 1 1 1-16 1-25 1-30 1-25 1-19 1-6 1 3 1 10 1 15 1 16 1 16 1 10 1-14 1-24 1-22 1-19 1-18 1-18 1-14 1 1 1 16 1 24 1 29 1 28 1 26 1 21 1 13 1 7 1 5 1 3 1 4 1 4 1 2 1-3 1-8 1-6 1-4 1-3 1-6 1-9 1-8 1-5 1 0 1 3 1 4 1 5 1 6 1 6 1 3 1 2 1 1 1-1 1-3 1-4 1-3 1-4 1-2 1 0 1 3 1 7 1 10 1 12 1 13 1 14 1 17 1 17 1 15 1 13 1 13 1 13 1 11 1 7 1 1 1-2 1-3 1-1 1 0 1 6 1 19 1 22 1 17 1 17 1 8 1-3 1-9 1-10 1-10 1-9 1-6 1-4 1-1 1 1 1 3 1 3 1 2 1 2 1 0 1 0 1 0 1 2 1 5 1 6 1 7 1 6 1 6 1 6 1 7 1 10 1 14 1 17 1 18 1 18 1 19 1 20 1 19 1 18 1 17 1 14 1 12" stroke="#4DBEEE"/>
<path d="M0,3801l1 1 1 1 1 0 1 0 1-1 1-1 1 1 1 1 1 2 1 0 1-2 1-2 1-1 1 0 1-2 1-1 1 0 1 2 1 1 1 1 1-1 1 0 1 0 1 1 1 0 1-1 1-2 1-1 1 0 1 2 1 1 1 0 1-2 1-8 1-11 1-12 1-17 1-15 1 1 1 13 1 5 1 3 1 0 1-5 1-7 1-7 1-7 1-9 1-14 1-17 1-34 1-54 1-62 1-70 1-92 1-109 1-115 1-117 1-117 1-116 1-113 1-109 1-95 1-35 1-23 1 6 1 52 1 75 1 74 1 72 1 71 1 72 1 72 1 72 1 57 1 46 1 39 1 22 1 3 1-12 1-20 1-33 1-53 1-66 1-73 1-78 1-78 1-75 1-73 1-47 1 6 1 26 1 38 1 37 1 21 1 21 1 58 1 87 1 96 1 97 1 96 1 95 1 77 1 55 1 32 1-8 1-22 1-32 1-38 1-34 1-23 1-2 1 13 1 22 1 27 1 26 1 24 1 15 1-12 1-23 1-23 1-23 1-24 1-23 1-17 1 4 1 20 1 26 1 30 1 26 1 21 1 15 1 10 1 9 1 5 1 2 1 1 1 2 1 2 1 2 1 1 1-1 1-2 1-2 1-1 1-1 1 0 1 0 1 4 1 7 1 9 1 11 1 12 1 9 1 7 1 3 1 1 1-1 1-1 1-1 1-2 1-3 1-3 1-3 1-2 1 3 1 9 1 13 1 16 1 17 1 17 1 17 1 21 1 23 1 20 1 18 1 13 1 8 1-2 1-9 1-10 1-8 1-6 1 0 1 12 1 16 1 10 1 9 1-1 1-7 1-9 1-9 1-11 1-13 1-13 1-13 1-10 1-7 1-7 1-8 1-8 1-8 1-8 1-7 1-7 1-7 1-4 1-2 1-2 1-2 1-2 1-1 1 0 1 2 1 5 1 7 1 9 1 9 1 11 1 12 1 14 1 14 1 12 1 13 1 14" stroke="#A2142F"/>
<path d="M0,3813l1-1 1-2 1-3 1-1 1-1 1 1 1 1 1 1 1 0 1 0 1 0 1-3 1-2 1-3 1-1 1-1 1 1 1 2 1 3 1 2 1 2 1 1 1-1 1-2 1-1 1 1 1 2 1 0 1-2 1-3 1-3 1-1 1-1 1-1 1-1 1-1 1-7 1-8 1-4 1-1 1-7 1-7 1-7 1-5 1-6 1-6 1-6 1-8 1-9 1-12 1-27 1-49 1-58 1-66 1-86 1-104 1-106 1-105 1-107 1-99 1-67 1-40 1-41 1-40 1-20 1 18 1 20 1 3 1 45 1 68 1 67 1 68 1 68 1 68 1 56 1 45 1 33 1 18 1 2 1-14 1-26 1-40 1-57 1-65 1-67 1-79 1-81 1-52 1-27 1-24 1-7 1 18 1 27 1 27 1 21 1 18 1 26 1 59 1 91 1 91 1 91 1 91 1 74 1 57 1 46 1 7 1-13 1-18 1-21 1-15 1-9 1-2 1 3 1 7 1 10 1 10 1 12 1 8 1-11 1-21 1-22 1-20 1-18 1-16 1-11 1 0 1 16 1 26 1 30 1 30 1 27 1 22 1 14 1 10 1 5 1 3 1 3 1 5 1 5 1 5 1 6 1 6 1 2 1-1 1-4 1-3 1-2 1-2 1-1 1 0 1 1 1 3 1 6 1 6 1 2 1-3 1-5 1-6 1-4 1-2 1-1 1-2 1-2 1-2 1 0 1 6 1 14 1 19 1 19 1 19 1 20 1 21 1 21 1 20 1 17 1 14 1 12 1 8 1-1 1-7 1-7 1-4 1-1 1 6 1 20 1 25 1 23 1 21 1 6 1-9 1-13 1-10 1-11 1-10 1-8 1-6 1-7 1-9 1-9 1-7 1-6 1-4 1-4 1-2 1-1 1 2 1 6 1 9 1 11 1 11 1 9 1 6 1 6 1 5 1 7 1 9 1 9 1 12 1 14 1 18 1 19 1 18 1 16 1 14 1 13" stroke="#0072BD"/>
<path d="M0,3807l1-1 1 0 1-1 1 0 1 0 1 1 1-1 1-2 1-2 1 0 1 1 1 1 1 1 1 1 1 1 1 2 1 3 1 3 1 2 1-1 1-2 1-1 1-1 1 0 1 0 1 0 1 1 1 0 1-3 1-4 1-4 1-1 1 0 1-1 1-1 1 0 1-2 1-3 1-1 1-3 1-10 1-10 1-9 1-6 1-5 1-4 1-4 1-7 1-10 1-12 1-28 1-48 1-58 1-69 1-91 1-107 1-107 1-104 1-104 1-95 1-65 1-38 1-42 1-39 1-21 1 16 1 16 1 1 1 42 1 66 1 67 1 68 1 66 1 65 1 51 1 44 1 34 1 20 1 3 1-15 1-26 1-40 1-57 1-65 1-69 1-80 1-80 1-56 1-34 1-29 1-6 1 18 1 27 1 25 1 18 1 20 1 35 1 70 1 93 1 91 1 89 1 88 1 74 1 57 1 43 1 3 1-16 1-24 1-30 1-25 1-18 1-3 1 9 1 15 1 17 1 13 1 15 1 11 1-6 1-15 1-17 1-19 1-19 1-20 1-12 1 5 1 24 1 32 1 32 1 29 1 28 1 24 1 16 1 6 1 2 1 1 1 2 1 1 1 1 1 3 1 3 1 2 1 2 1 1 1 0 1 0 1 0 1 0 1 1 1 2 1 1 1 2 1 4 1 4 1 1 1-2 1-3 1 0 1 0 1 1 1-1 1-2 1-2 1 0 1 1 1 4 1 9 1 12 1 13 1 15 1 15 1 18 1 19 1 21 1 22 1 22 1 18 1 10 1 2 1-6 1-7 1-10 1-10 1-2 1 13 1 17 1 13 1 10 1-3 1-15 1-19 1-17 1-17 1-16 1-15 1-12 1-11 1-10 1-10 1-10 1-9 1-8 1-7 1-5 1-2 1 0 1 0 1 2 1 2 1 2 1 0 1-3 1-2 1 2 1 7 1 8 1 8 1 9 1 9 1 10 1 10 1 10 1 10 1 10 1 9" stroke="#D95319"/>
<path d="M0,3802l1 0 1 0 1 0 1 0 1 0 1 0 1 0 1 0 1 0 1 0 1 0 1 0 1 0 1 0 1 0 1-1 1 0 1 0 1 0 1-1 1 0 1 0 1 0 1-1 1 0 1 0 1-1 1-1 1-1 1-1 1-2 1-1 1-4 1-9 1-13 1-13 1-19 1-17 1 3 1 17 1 7 1 5 1 0 1-6 1-7 1-8 1-8 1-10 1-12 1-14 1-31 1-53 1-62 1-72 1-95 1-112 1-114 1-116 1-116 1-115 1-112 1-108 1-93 1-34 1-22 1 5 1 50 1 72 1 73 1 71 1 68 1 61 1 54 1 45 1 25 1 16 1 20 1 21 1 20 1 18 1 13 1-3 1-32 1-51 1-65 1-74 1-77 1-73 1-67 1-43 1 4 1 23 1 36 1 36 1 20 1 21 1 54 1 85 1 95 1 95 1 94 1 95 1 78 1 55 1 33 1-9 1-22 1-30 1-34 1-29 1-18 1 0 1 14 1 20 1 24 1 22 1 23 1 14 1-11 1-24 1-26 1-23 1-23 1-23 1-15 1 3 1 20 1 26 1 28 1 26 1 20 1 15 1 8 1 5 1 4 1 2 1 2 1 2 1 0 1-3 1-5 1-5 1-6 1-6 1-6 1-7 1-6 1-3 1 3 1 5 1 6 1 5 1 6 1 6 1 5 1 2 1 0 1-1 1-2 1-2 1-4 1-5 1-5 1-4 1-2 1 2 1 8 1 11 1 14 1 15 1 14 1 12 1 11 1 11 1 10 1 11 1 10 1 7 1 2 1-3 1-4 1-3 1-2 1 0 1 11 1 15 1 8 1 6 1-1 1-7 1-7 1-8 1-8 1-8 1-8 1-6 1-6 1-5 1-4 1-3 1-3 1-2 1-2 1-2 1-2 1-2 1-1 1 2 1 2 1 3 1 2 1 2 1 3 1 5 1 9 1 11 1 12 1 12 1 12 1 13 1 12 1 12 1 13 1 12 1 14" stroke="#D95319"/>
<path d="M0,3805l1-1 1-1 1-1 1 0 1-1 1-1 1 0 1 0 1 1 1 0 1-1 1-2 1-3 1-2 1-2 1 2 1 2 1 0 1-1 1-2 1 0 1 2 1 4 1 3 1 1 1-1 1-2 1-1 1-1 1 0 1 1 1 0 1-2 1-11 1-16 1-18 1-23 1-20 1 0 1 15 1 9 1 5 1 1 1-4 1-6 1-5 1-5 1-5 1-8 1-14 1-31 1-54 1-64 1-74 1-95 1-110 1-111 1-111 1-113 1-111 1-103 1-90 1-76 1-31 1-19 1 11 1 43 1 54 1 68 1 76 1 76 1 75 1 73 1 71 1 56 1 45 1 36 1 22 1 4 1-15 1-25 1-35 1-52 1-62 1-69 1-78 1-77 1-58 1-41 1-30 1-2 1 20 1 29 1 30 1 18 1 18 1 38 1 72 1 93 1 94 1 92 1 92 1 76 1 56 1 40 1 0 1-16 1-24 1-25 1-21 1-14 1-3 1 8 1 13 1 17 1 19 1 19 1 11 1-13 1-25 1-25 1-23 1-22 1-22 1-15 1 2 1 19 1 26 1 29 1 28 1 23 1 17 1 8 1 4 1 3 1 1 1 1 1 1 1-1 1 0 1-2 1-2 1-4 1-5 1-7 1-7 1-6 1-2 1 2 1 3 1 4 1 5 1 8 1 6 1 2 1-2 1-3 1-3 1-4 1-3 1-4 1-6 1-6 1-4 1-3 1 1 1 5 1 10 1 13 1 14 1 14 1 17 1 19 1 17 1 14 1 13 1 10 1 7 1 2 1-5 1-9 1-10 1-9 1-5 1 7 1 11 1 8 1 6 1-3 1-6 1-8 1-7 1-8 1-7 1-4 1-3 1-2 1-2 1-2 1-1 1 0 1-2 1-5 1-6 1-8 1-6 1-3 1 2 1 6 1 7 1 6 1 3 1 3 1 4 1 6 1 9 1 9 1 8 1 8 1 10 1 11 1 13 1 12 1 11 1 10" stroke="#EDB120"/>
<path d="M0,3812l1 0 1-2 1-4 1-3 1 0 1 1 1 0 1 0 1 0 1 2 1 2 1 3 1 1 1 0 1 1 1 0 1-2 1-3 1-3 1-2 1 1 1 0 1-1 1-1 1 0 1 0 1 0 1 0 1 0 1 0 1-2 1-3 1-2 1-1 1-1 1-3 1-7 1-7 1-2 1 1 1-4 1-7 1-7 1-5 1-4 1-5 1-7 1-9 1-9 1-11 1-28 1-50 1-60 1-69 1-89 1-107 1-108 1-107 1-107 1-101 1-75 1-50 1-49 1-40 1-23 1 13 1 22 1 16 1 48 1 67 1 68 1 68 1 68 1 69 1 56 1 43 1 32 1 17 1 3 1-13 1-23 1-35 1-51 1-62 1-70 1-80 1-81 1-59 1-39 1-32 1-4 1 21 1 31 1 32 1 23 1 20 1 31 1 64 1 90 1 90 1 91 1 94 1 79 1 60 1 44 1 2 1-16 1-23 1-26 1-20 1-11 1-1 1 6 1 11 1 15 1 16 1 16 1 10 1-10 1-20 1-20 1-18 1-18 1-18 1-13 1 1 1 16 1 25 1 29 1 27 1 23 1 21 1 13 1 9 1 5 1 3 1 3 1 3 1-1 1-2 1-2 1-1 1-3 1-5 1-8 1-6 1-3 1-1 1 0 1 1 1 1 1 2 1 7 1 8 1 8 1 6 1 6 1 5 1 4 1 3 1 0 1-3 1-5 1-3 1-1 1 4 1 11 1 15 1 19 1 21 1 21 1 21 1 20 1 18 1 17 1 15 1 11 1 4 1-3 1-7 1-6 1-5 1-6 1 4 1 21 1 27 1 26 1 25 1 12 1-2 1-7 1-9 1-10 1-9 1-7 1-6 1-6 1-5 1-6 1-7 1-6 1-3 1-2 1-1 1 1 1 2 1 4 1 4 1 4 1 3 1 2 1 3 1 5 1 8 1 13 1 15 1 17 1 18 1 16 1 15 1 16 1 15 1 15 1 13 1 13" stroke="#7E2F8E"/>
<path d="M0,3806l1-1 1 0 1 2 1 1 1 1 1 0 1-1 1 1 1 0 1 1 1 0 1 0 1 0 1-3 1-5 1-4 1-1 1 2 1 3 1 3 1 1 1-2 1-2 1-1 1-1 1-1 1-2 1-3 1-2 1-1 1 0 1 3 1 2 1-5 1-12 1-14 1-19 1-16 1 1 1 16 1 6 1 4 1 0 1-5 1-8 1-10 1-11 1-12 1-13 1-14 1-31 1-53 1-62 1-72 1-96 1-115 1-118 1-120 1-119 1-116 1-114 1-112 1-98 1-32 1-22 1 3 1 52 1 79 1 77 1 73 1 74 1 74 1 76 1 76 1 59 1 47 1 37 1 20 1 0 1-12 1-17 1-29 1-52 1-64 1-74 1-77 1-78 1-75 1-70 1-44 1 6 1 22 1 35 1 35 1 21 1 22 1 58 1 89 1 96 1 96 1 96 1 96 1 77 1 54 1 30 1-11 1-23 1-31 1-35 1-31 1-22 1-2 1 13 1 23 1 27 1 27 1 25 1 16 1-11 1-25 1-28 1-26 1-23 1-22 1-14 1 5 1 19 1 23 1 25 1 22 1 17 1 12 1 5 1 3 1 1 1 0 1 1 1 3 1 4 1 1 1-2 1-3 1-4 1-4 1-7 1-9 1-8 1-4 1 2 1 6 1 7 1 5 1 9 1 7 1 5 1 1 1 1 1 0 1 1 1 0 1-1 1-3 1-4 1-3 1 2 1 7 1 13 1 17 1 19 1 21 1 21 1 20 1 19 1 18 1 14 1 13 1 10 1 5 1 0 1-4 1-3 1 0 1-1 1 1 1 8 1 9 1 5 1 7 1 0 1-7 1-9 1-6 1-5 1-3 1-3 1-3 1-2 1-3 1-3 1-5 1-5 1-6 1-5 1-5 1-5 1-5 1-4 1-2 1 0 1 1 1 1 1-1 1-1 1 1 1 6 1 10 1 10 1 11 1 10 1 11 1 11 1 12 1 10 1 9 1 9" stroke="#77AC30"/>
<path d="M0,3799l1-1 1 0 1-1 1-1 1-1 1-1 1 2 1 0 1 0 1-2 1 1 1 2 1 1 1-1 1 0 1 1 1 2 1 1 1 2 1 1 1-1 1-3 1-3 1 0 1 2 1 1 1-1 1-1 1 0 1-1 1-3 1-4 1-5 1-9 1-11 1-11 1-18 1-17 1-1 1 13 1 7 1 3 1-1 1-5 1-6 1-6 1-8 1-10 1-10 1-13 1-30 1-53 1-61 1-70 1-93 1-111 1-115 1-117 1-115 1-114 1-107 1-102 1-89 1-36 1-23 1 6 1 47 1 67 1 72 1 74 1 74 1 73 1 72 1 71 1 58 1 47 1 38 1 21 1 2 1-13 1-20 1-32 1-53 1-64 1-73 1-79 1-77 1-74 1-69 1-47 1 0 1 23 1 38 1 38 1 21 1 20 1 55 1 87 1 93 1 94 1 95 1 97 1 78 1 53 1 28 1-10 1-23 1-29 1-33 1-28 1-17 1 4 1 17 1 21 1 24 1 24 1 23 1 15 1-11 1-25 1-26 1-26 1-26 1-26 1-21 1-2 1 17 1 25 1 29 1 26 1 19 1 14 1 7 1 4 1 4 1 3 1 3 1 3 1 1 1-3 1-6 1-7 1-9 1-8 1-9 1-11 1-8 1-2 1 6 1 9 1 8 1 4 1 4 1 4 1 3 1 2 1 0 1-2 1-1 1 0 1 0 1-1 1-1 1-2 1 0 1 4 1 10 1 12 1 14 1 15 1 14 1 13 1 12 1 10 1 7 1 6 1 7 1 5 1 2 1-4 1-5 1-4 1-3 1 1 1 13 1 16 1 8 1 5 1-4 1-9 1-11 1-13 1-12 1-12 1-9 1-8 1-4 1-2 1-1 1 0 1-1 1-1 1-1 1-3 1-2 1-2 1-2 1 0 1 2 1 4 1 2 1 2 1 2 1 4 1 9 1 13 1 15 1 16 1 17 1 18 1 18 1 17 1 18 1 20 1 21" stroke="#4DBEEE"/>
<path d="M0,3807l1 5 1 5 1 1 1-2 1-1 1 1 1 1 1 0 1 0 1-1 1-4 1-3 1-2 1 0 1 1 1-1 1 0 1 1 1 0 1-1 1-1 1 0 1 0 1 0 1-1 1-1 1-2 1-1 1-2 1-1 1-1 1 1 1-1 1-1 1-3 1-4 1-4 1-4 1 0 1 1 1-6 1-7 1-6 1-7 1-7 1-9 1-10 1-11 1-10 1-12 1-27 1-50 1-60 1-67 1-86 1-102 1-106 1-107 1-108 1-101 1-67 1-37 1-39 1-36 1-17 1 19 1 21 1 6 1 45 1 68 1 66 1 66 1 66 1 68 1 55 1 44 1 32 1 16 1 2 1-13 1-26 1-40 1-57 1-65 1-70 1-82 1-81 1-52 1-26 1-24 1-6 1 17 1 26 1 27 1 20 1 18 1 27 1 61 1 91 1 91 1 90 1 92 1 79 1 61 1 47 1 3 1-16 1-22 1-25 1-19 1-11 1-2 1 4 1 9 1 12 1 13 1 14 1 11 1-6 1-18 1-23 1-23 1-24 1-24 1-16 1-2 1 16 1 23 1 27 1 27 1 25 1 23 1 15 1 8 1 6 1 5 1 5 1 6 1 5 1 2 1-2 1-3 1-4 1 0 1 1 1 0 1-1 1 1 1 3 1 4 1 3 1 4 1 5 1 6 1 6 1 5 1 1 1-3 1-4 1-4 1-4 1-8 1-9 1-9 1-4 1 3 1 10 1 16 1 18 1 18 1 16 1 15 1 14 1 15 1 13 1 10 1 7 1 3 1-4 1-11 1-12 1-10 1-7 1 1 1 15 1 19 1 15 1 14 1 3 1-8 1-11 1-12 1-13 1-10 1-10 1-9 1-10 1-8 1-5 1-5 1-4 1-4 1-3 1-4 1-3 1-1 1 1 1 3 1 1 1 0 1 1 1 1 1 2 1 4 1 7 1 11 1 14 1 16 1 14 1 15 1 12 1 11 1 10 1 10 1 10" stroke="#A2142F"/>
<path d="M0,3813l1-3 1-2 1-1 1 1 1 1 1 0 1-1 1 0 1 1 1-1 1-1 1-1 1 0 1 1 1 2 1 1 1-1 1-2 1-1 1 0 1-1 1-1 1-1 1-1 1 0 1 1 1 2 1 2 1 0 1-2 1-3 1-2 1 0 1-4 1-8 1-11 1-18 1-17 1-4 1 8 1 4 1 3 1 0 1-5 1-9 1-8 1-7 1-8 1-11 1-13 1-32 1-54 1-64 1-71 1-94 1-111 1-114 1-114 1-115 1-114 1-108 1-101 1-86 1-32 1-23 1 4 1 43 1 64 1 70 1 72 1 74 1 75 1 73 1 70 1 55 1 46 1 39 1 23 1 3 1-14 1-21 1-32 1-52 1-65 1-72 1-77 1-76 1-70 1-65 1-43 1 3 1 24 1 37 1 37 1 20 1 20 1 53 1 85 1 95 1 94 1 91 1 92 1 76 1 54 1 32 1-8 1-23 1-29 1-30 1-25 1-13 1 7 1 19 1 24 1 25 1 23 1 22 1 15 1-11 1-25 1-27 1-26 1-24 1-22 1-13 1 5 1 23 1 28 1 29 1 25 1 18 1 12 1 6 1 4 1 4 1 3 1 2 1 1 1-1 1 0 1 0 1 0 1-4 1-6 1-8 1-9 1-8 1-6 1 0 1 1 1 1 1 2 1 4 1 6 1 3 1 1 1-2 1-4 1-5 1-4 1-4 1-6 1-9 1-10 1-7 1-2 1 3 1 9 1 15 1 19 1 17 1 15 1 14 1 15 1 12 1 12 1 10 1 6 1 2 1-3 1-4 1-3 1-4 1-3 1 7 1 10 1 5 1 4 1-2 1-4 1-6 1-4 1-4 1-5 1-8 1-9 1-7 1-6 1-5 1-6 1-3 1-1 1 4 1 6 1 5 1 4 1 2 1 3 1 4 1 2 1 1 1 1 1 5 1 8 1 10 1 8 1 10 1 12 1 15 1 17 1 19 1 19 1 18 1 18 1 17" stroke="#0072BD"/>
<path d="M0,3805l1 3 1 2 1 1 1 1 1 2 1 2 1 1 1-1 1-1 1-2 1 0 1 0 1 0 1-1 1-1 1-1 1 0 1 0 1-1 1 1 1 1 1 0 1-1 1-2 1-2 1-2 1-1 1 0 1 0 1 0 1-2 1-2 1-2 1-1 1 0 1 0 1-3 1-3 1 0 1 0 1-7 1-8 1-5 1-4 1-6 1-8 1-9 1-11 1-13 1-13 1-29 1-49 1-58 1-66 1-87 1-105 1-108 1-106 1-104 1-95 1-65 1-38 1-38 1-38 1-21 1 16 1 19 1 3 1 44 1 65 1 66 1 68 1 68 1 68 1 55 1 43 1 31 1 17 1 4 1-10 1-25 1-39 1-58 1-66 1-69 1-82 1-82 1-51 1-25 1-25 1-10 1 15 1 26 1 27 1 22 1 19 1 24 1 55 1 87 1 88 1 90 1 93 1 79 1 62 1 50 1 6 1-13 1-19 1-21 1-15 1-9 1-3 1 2 1 7 1 11 1 12 1 13 1 7 1-11 1-19 1-19 1-17 1-17 1-19 1-13 1 0 1 17 1 27 1 31 1 30 1 30 1 25 1 15 1 9 1 5 1 5 1 4 1 4 1 3 1 1 1-1 1-1 1-1 1 1 1-1 1-2 1-2 1-1 1 1 1 2 1 0 1 0 1 3 1 3 1 0 1-3 1-4 1-3 1-2 1-1 1-2 1-2 1-4 1-4 1-3 1 1 1 8 1 13 1 14 1 14 1 14 1 14 1 17 1 18 1 19 1 18 1 15 1 10 1 1 1-4 1-7 1-7 1-7 1 3 1 19 1 24 1 20 1 16 1 1 1-11 1-12 1-11 1-12 1-12 1-9 1-7 1-6 1-5 1-5 1-3 1-2 1-2 1-1 1-1 1-1 1-1 1-1 1 0 1 1 1 2 1 0 1 0 1 1 1 5 1 10 1 13 1 13 1 13 1 14 1 14 1 14 1 12 1 11 1 8 1 8" stroke="#D95319"/>
<path d="M0,3805l1-1 1 0 1 2 1 2 1 1 1 1 1 1 1-1 1-1 1-2 1-1 1-3 1-1 1 1 1 0 1-2 1-1 1 2 1 2 1 2 1 0 1 0 1-1 1 0 1 2 1 1 1-1 1-3 1-2 1-2 1-3 1-3 1-2 1-7 1-12 1-13 1-21 1-17 1 2 1 18 1 9 1 3 1-1 1-5 1-6 1-9 1-10 1-11 1-11 1-14 1-32 1-55 1-65 1-71 1-93 1-111 1-113 1-114 1-115 1-116 1-111 1-105 1-86 1-31 1-19 1 7 1 49 1 69 1 74 1 75 1 73 1 74 1 75 1 73 1 58 1 49 1 39 1 21 1 1 1-14 1-20 1-31 1-52 1-64 1-72 1-79 1-80 1-69 1-57 1-38 1 4 1 25 1 37 1 35 1 21 1 17 1 43 1 76 1 93 1 94 1 93 1 95 1 82 1 62 1 40 1-4 1-21 1-27 1-29 1-23 1-15 1 0 1 12 1 16 1 20 1 18 1 17 1 10 1-13 1-25 1-24 1-22 1-20 1-18 1-10 1 6 1 19 1 24 1 26 1 25 1 19 1 15 1 7 1 4 1 3 1 2 1 3 1 4 1 6 1 5 1 3 1 3 1 1 1 0 1-2 1-3 1 0 1 2 1 6 1 6 1 4 1 3 1 7 1 7 1 4 1 1 1 1 1 0 1 0 1 0 1 1 1 0 1 0 1 0 1 0 1 5 1 11 1 15 1 17 1 17 1 18 1 19 1 19 1 16 1 15 1 12 1 10 1 6 1 0 1-5 1-5 1-6 1-6 1-1 1 10 1 13 1 9 1 8 1-1 1-12 1-15 1-13 1-13 1-13 1-12 1-11 1-11 1-8 1-7 1-5 1-5 1-3 1-3 1-4 1-6 1-8 1-6 1-3 1-4 1-3 1-3 1-4 1-2 1-1 1 1 1 4 1 6 1 6 1 6 1 5 1 5 1 4 1 6 1 7 1 9" stroke="#EDB120"/>
<path d="M0,3806l1 1 1-1 1-2 1-2 1-1 1 2 1 3 1 0 1-1 1-1 1 0 1 1 1 0 1 0 1-2 1-1 1-1 1 0 1-1 1 1 1 1 1 2 1 1 1 0 1-2 1-2 1-1 1 0 1-1 1-2 1-2 1-3 1-3 1-10 1-15 1-16 1-21 1-18 1 3 1 19 1 8 1 6 1 2 1-2 1-7 1-9 1-9 1-8 1-9 1-13 1-33 1-57 1-66 1-75 1-97 1-114 1-114 1-115 1-115 1-117 1-119 1-118 1-99 1-33 1-24 1 2 1 52 1 81 1 77 1 76 1 77 1 78 1 77 1 75 1 58 1 47 1 40 1 23 1 2 1-11 1-19 1-32 1-54 1-65 1-71 1-76 1-78 1-77 1-73 1-46 1 5 1 25 1 40 1 39 1 22 1 22 1 57 1 86 1 91 1 94 1 97 1 97 1 79 1 52 1 29 1-11 1-24 1-32 1-37 1-33 1-21 1 2 1 18 1 23 1 24 1 21 1 22 1 18 1-7 1-21 1-22 1-20 1-21 1-23 1-16 1 4 1 19 1 25 1 28 1 26 1 21 1 16 1 10 1 8 1 6 1 2 1 1 1 0 1-2 1-4 1-6 1-5 1-6 1-6 1-7 1-7 1-4 1-3 1 1 1 5 1 8 1 9 1 8 1 6 1 5 1 3 1 1 1 0 1 1 1 0 1 0 1-4 1-4 1-5 1-2 1 3 1 8 1 13 1 15 1 16 1 14 1 13 1 14 1 14 1 15 1 15 1 12 1 8 1 2 1-5 1-8 1-6 1-5 1-2 1 8 1 12 1 7 1 5 1-2 1-7 1-8 1-7 1-7 1-5 1-3 1-2 1-2 1 0 1 1 1 2 1-1 1-2 1 0 1 2 1 1 1-1 1 0 1 3 1 6 1 10 1 8 1 6 1 5 1 6 1 8 1 10 1 12 1 12 1 11 1 11 1 14 1 15 1 15 1 14 1 12" stroke="#7E2F8E"/>
<path d="M0,3804l1 0 1 0 1 0 1 0 1 0 1 0 1 0 1 0 1 0 1 0 1 0 1 0 1 0 1 0 1 0 1-1 1 0 1 0 1 0 1-1 1 0 1 0 1-1 1 0 1 0 1-1 1 0 1-1 1-1 1-1 1-1 1-2 1-3 1-7 1-11 1-10 1-16 1-14 1 1 1 13 1 5 1 2 1-2 1-5 1-7 1-8 1-8 1-10 1-12 1-14 1-30 1-52 1-62 1-71 1-93 1-111 1-112 1-113 1-114 1-111 1-103 1-92 1-81 1-35 1-22 1 8 1 44 1 57 1 66 1 71 1 68 1 64 1 58 1 52 1 35 1 29 1 30 1 27 1 20 1 9 1-2 1-18 1-44 1-59 1-69 1-78 1-78 1-69 1-57 1-39 1 1 1 22 1 34 1 33 1 21 1 20 1 48 1 80 1 93 1 94 1 94 1 93 1 78 1 56 1 36 1-5 1-21 1-27 1-32 1-26 1-17 1-1 1 12 1 18 1 21 1 20 1 20 1 13 1-10 1-23 1-24 1-22 1-22 1-22 1-15 1 4 1 19 1 26 1 29 1 26 1 22 1 16 1 10 1 6 1 4 1 3 1 1 1 2 1 0 1-2 1-4 1-4 1-5 1-5 1-5 1-6 1-4 1-2 1 2 1 5 1 5 1 5 1 7 1 6 1 4 1 2 1 0 1-2 1-2 1-2 1-3 1-4 1-6 1-4 1-2 1 3 1 9 1 12 1 15 1 15 1 15 1 14 1 13 1 13 1 12 1 12 1 11 1 7 1 2 1-4 1-5 1-3 1-3 1 1 1 12 1 16 1 11 1 9 1 0 1-7 1-9 1-8 1-8 1-8 1-7 1-7 1-5 1-5 1-4 1-3 1-2 1-2 1-3 1-2 1-2 1-2 1 0 1 3 1 3 1 3 1 3 1 2 1 4 1 6 1 9 1 11 1 13 1 13 1 13 1 13 1 13 1 13 1 13 1 13 1 12" stroke="#A2142F"/>
<path d="M0,3801l1 0 1-1 1 0 1 0 1 1 1 1 1-1 1-1 1-1 1-1 1-1 1 1 1 2 1 1 1-2 1-1 1-1 1 0 1 0 1 0 1 2 1 3 1 0 1-1 1-2 1-3 1-2 1-1 1 0 1-1 1-2 1-1 1-2 1-9 1-13 1-13 1-19 1-17 1 3 1 17 1 9 1 5 1 1 1-6 1-6 1-8 1-7 1-9 1-10 1-13 1-31 1-55 1-66 1-75 1-98 1-115 1-117 1-118 1-118 1-115 1-115 1-116 1-100 1-35 1-26 1 2 1 54 1 82 1 79 1 76 1 76 1 74 1 74 1 73 1 57 1 47 1 39 1 24 1 4 1-11 1-17 1-29 1-51 1-63 1-72 1-77 1-79 1-78 1-72 1-44 1 6 1 26 1 41 1 41 1 26 1 24 1 54 1 82 1 91 1 94 1 95 1 96 1 79 1 54 1 33 1-9 1-22 1-27 1-29 1-26 1-16 1 1 1 14 1 20 1 22 1 20 1 17 1 9 1-12 1-22 1-20 1-19 1-18 1-19 1-13 1 4 1 20 1 27 1 32 1 29 1 25 1 18 1 11 1 7 1 7 1 5 1 3 1 4 1 3 1 0 1-3 1-6 1-7 1-8 1-10 1-10 1-7 1-3 1 2 1 3 1 4 1 6 1 9 1 7 1 4 1 0 1 0 1 0 1-1 1-2 1-3 1-3 1-2 1-3 1 0 1 5 1 9 1 13 1 14 1 15 1 13 1 13 1 13 1 12 1 11 1 10 1 10 1 7 1 2 1-5 1-6 1-6 1-5 1 1 1 13 1 17 1 13 1 11 1 0 1-8 1-8 1-6 1-5 1-5 1-5 1-5 1-5 1-4 1-4 1-5 1-4 1-3 1-3 1-4 1-4 1-5 1-2 1 4 1 8 1 9 1 6 1 5 1 6 1 6 1 7 1 8 1 7 1 5 1 5 1 6 1 9 1 10 1 10 1 10 1 13" stroke="#77AC30"/>
<path d="M0,3804l1 0 1 1 1 2 1 1 1-1 1-3 1-3 1-2 1 0 1 0 1 0 1-1 1 0 1 1 1 1 1 2 1 2 1 1 1 0 1-2 1-1 1-1 1 0 1-1 1-1 1-2 1-1 1 0 1 1 1 1 1 1 1 1 1-3 1-9 1-12 1-13 1-18 1-14 1 3 1 14 1 6 1 2 1-2 1-5 1-7 1-6 1-8 1-12 1-15 1-17 1-32 1-54 1-64 1-72 1-93 1-109 1-111 1-114 1-114 1-112 1-102 1-94 1-84 1-37 1-24 1 6 1 46 1 63 1 71 1 73 1 71 1 71 1 73 1 74 1 59 1 47 1 38 1 21 1 2 1-15 1-22 1-33 1-52 1-62 1-71 1-78 1-80 1-74 1-66 1-43 1 2 1 21 1 34 1 35 1 22 1 23 1 55 1 84 1 94 1 93 1 94 1 93 1 76 1 55 1 35 1-6 1-21 1-29 1-32 1-26 1-14 1 3 1 14 1 19 1 20 1 17 1 18 1 11 1-13 1-23 1-24 1-22 1-21 1-20 1-11 1 5 1 21 1 28 1 32 1 30 1 23 1 17 1 8 1 6 1 4 1 2 1 1 1 1 1 1 1-2 1-3 1-3 1-1 1 0 1-1 1-1 1-1 1 2 1 4 1 5 1 3 1 2 1 4 1 5 1 3 1 0 1-2 1-2 1 0 1 1 1 0 1-3 1-4 1-5 1-2 1 2 1 8 1 12 1 16 1 18 1 19 1 16 1 14 1 15 1 15 1 15 1 13 1 6 1-2 1-7 1-6 1-2 1 1 1 8 1 22 1 27 1 20 1 15 1 3 1-8 1-11 1-11 1-10 1-9 1-5 1-1 1 1 1 2 1 3 1 2 1 2 1 1 1-1 1-1 1-1 1 1 1 5 1 8 1 7 1 7 1 6 1 8 1 10 1 13 1 15 1 20 1 21 1 21 1 20 1 21 1 23 1 23 1 22 1 18 1 15" stroke="#4DBEEE"/>
<path d="M0,3805l1 1 1 1 1 0 1 0 1 1 1 1 1 1 1 0 1 0 1 1 1-1 1-1 1-2 1-4 1-2 1-1 1 1 1 1 1-1 1-1 1 0 1 0 1 2 1 1 1 2 1 0 1-2 1-2 1-1 1-2 1-2 1-3 1-2 1-4 1-6 1-6 1-10 1-10 1 0 1 7 1 1 1 0 1-3 1-5 1-7 1-8 1-6 1-8 1-12 1-15 1-32 1-53 1-60 1-69 1-90 1-109 1-110 1-109 1-107 1-102 1-80 1-60 1-53 1-33 1-15 1 19 1 31 1 24 1 52 1 71 1 70 1 71 1 70 1 70 1 58 1 47 1 35 1 18 1 3 1-12 1-25 1-38 1-55 1-64 1-66 1-79 1-80 1-51 1-25 1-22 1-6 1 18 1 25 1 27 1 22 1 20 1 23 1 56 1 87 1 90 1 90 1 90 1 74 1 57 1 48 1 7 1-11 1-20 1-23 1-18 1-12 1-2 1 5 1 9 1 11 1 11 1 11 1 6 1-13 1-22 1-22 1-19 1-18 1-17 1-13 1-1 1 17 1 26 1 32 1 30 1 27 1 21 1 11 1 6 1 3 1 1 1 0 1-1 1-1 1-1 1-2 1-1 1-1 1-2 1-3 1-3 1-5 1-4 1-1 1 1 1 2 1 2 1 4 1 4 1 2 1 0 1-4 1-6 1-8 1-8 1-8 1-8 1-8 1-7 1-5 1-1 1 6 1 10 1 14 1 16 1 19 1 18 1 16 1 14 1 12 1 12 1 11 1 8 1 1 1-5 1-5 1-1 1 0 1 5 1 16 1 16 1 11 1 7 1 0 1-6 1-6 1-5 1-7 1-6 1-8 1-8 1-9 1-9 1-6 1-5 1-3 1-1 1 1 1 3 1 6 1 8 1 11 1 15 1 16 1 16 1 14 1 12 1 12 1 12 1 14 1 17 1 19 1 19 1 20 1 20 1 20 1 20 1 20 1 16 1 14" stroke="#A2142F"/>
<path d="M0,3799l1-1 1 2 1 4 1 2 1 0 1-1 1-1 1-1 1-1 1 0 1-1 1-1 1 0 1-1 1 0 1 1 1 1 1 2 1 0 1-1 1-2 1-3 1-2 1-1 1 0 1 0 1 0 1-1 1-1 1-1 1-1 1-1 1-1 1-9 1-15 1-17 1-23 1-19 1 3 1 20 1 10 1 7 1 2 1-4 1-8 1-8 1-8 1-9 1-12 1-15 1-32 1-54 1-64 1-72 1-95 1-112 1-115 1-117 1-119 1-120 1-120 1-117 1-98 1-32 1-22 1 3 1 54 1 82 1 79 1 75 1 76 1 77 1 76 1 75 1 59 1 49 1 39 1 21 1 0 1-16 1-20 1-31 1-51 1-63 1-72 1-77 1-79 1-77 1-72 1-45 1 6 1 24 1 37 1 38 1 23 1 23 1 59 1 87 1 93 1 95 1 94 1 94 1 75 1 52 1 29 1-10 1-23 1-30 1-35 1-31 1-19 1 1 1 15 1 22 1 24 1 21 1 19 1 11 1-15 1-26 1-23 1-20 1-22 1-23 1-14 1 6 1 22 1 27 1 29 1 25 1 17 1 10 1 3 1 1 1 2 1 3 1 4 1 5 1 4 1 0 1-3 1-6 1-9 1-10 1-8 1-7 1-3 1 1 1 7 1 10 1 8 1 7 1 9 1 10 1 9 1 5 1 2 1 0 1-1 1-2 1-4 1-4 1-3 1 0 1 1 1 5 1 10 1 13 1 13 1 14 1 13 1 14 1 14 1 14 1 13 1 14 1 14 1 9 1 3 1-2 1-3 1-1 1-1 1 3 1 15 1 19 1 15 1 13 1 2 1-10 1-14 1-13 1-14 1-15 1-15 1-15 1-14 1-15 1-13 1-10 1-4 1 0 1 1 1 0 1-1 1 0 1 1 1-1 1-2 1-3 1-6 1-9 1-10 1-8 1 1 1 7 1 11 1 15 1 18 1 20 1 19 1 19 1 19 1 19 1 19" stroke="#0072BD"/>
<path d="M0,3803l1 2 1 2 1 2 1 2 1 1 1-1 1-2 1-2 1 0 1 0 1 1 1-2 1-2 1-1 1 1 1 1 1 1 1-1 1 1 1 1 1 0 1 1 1 1 1 1 1 0 1-2 1-3 1-2 1-1 1-1 1-1 1-1 1-4 1-11 1-16 1-15 1-18 1-15 1 4 1 15 1 6 1 3 1 0 1-4 1-6 1-8 1-8 1-9 1-10 1-14 1-32 1-54 1-64 1-73 1-94 1-111 1-112 1-115 1-116 1-117 1-113 1-106 1-92 1-34 1-23 1 5 1 50 1 70 1 72 1 73 1 74 1 76 1 74 1 72 1 57 1 48 1 38 1 20 1 1 1-13 1-20 1-32 1-54 1-66 1-72 1-76 1-77 1-72 1-66 1-41 1 7 1 28 1 39 1 37 1 20 1 21 1 52 1 84 1 97 1 99 1 97 1 95 1 77 1 56 1 34 1-8 1-22 1-26 1-29 1-24 1-15 1 2 1 16 1 21 1 21 1 17 1 16 1 11 1-10 1-21 1-22 1-21 1-23 1-22 1-12 1 5 1 20 1 28 1 31 1 28 1 24 1 21 1 14 1 9 1 3 1 1 1 1 1 4 1 5 1 4 1 3 1-1 1-3 1-4 1-2 1-2 1-2 1-2 1-1 1 1 1 3 1 5 1 8 1 7 1 4 1-1 1-3 1-5 1-5 1-5 1-6 1-9 1-8 1-6 1-3 1 1 1 7 1 12 1 15 1 18 1 15 1 11 1 9 1 9 1 11 1 10 1 9 1 5 1-2 1-9 1-11 1-9 1-8 1-4 1 8 1 12 1 9 1 8 1-3 1-13 1-15 1-13 1-11 1-11 1-12 1-11 1-10 1-9 1-8 1-6 1-4 1-4 1-4 1-3 1-4 1-4 1-1 1 3 1 6 1 4 1 0 1-2 1-2 1 4 1 7 1 10 1 11 1 13 1 14 1 15 1 13 1 12 1 13 1 13 1 12" stroke="#D95319"/>
<path d="M0,3804l1-1 1 0 1 0 1 0 1 2 1 3 1 3 1 2 1 2 1 2 1 1 1 1 1 0 1-1 1-1 1-2 1-2 1-1 1-2 1-2 1 0 1-1 1-1 1-1 1-1 1-2 1 0 1 1 1 0 1-2 1-1 1 0 1-1 1-3 1-5 1-6 1-11 1-12 1-2 1 6 1 1 1-2 1-6 1-8 1-9 1-6 1-6 1-9 1-12 1-14 1-29 1-50 1-61 1-72 1-92 1-107 1-108 1-109 1-108 1-102 1-80 1-61 1-57 1-35 1-19 1 16 1 31 1 28 1 54 1 68 1 69 1 70 1 72 1 72 1 57 1 46 1 34 1 18 1 2 1-13 1-26 1-37 1-54 1-62 1-66 1-78 1-79 1-56 1-32 1-26 1-4 1 19 1 29 1 27 1 20 1 17 1 25 1 60 1 90 1 91 1 91 1 94 1 77 1 59 1 45 1 5 1-13 1-20 1-24 1-20 1-14 1-4 1 5 1 13 1 17 1 13 1 14 1 7 1-11 1-21 1-23 1-22 1-22 1-20 1-15 1 0 1 15 1 23 1 25 1 23 1 22 1 17 1 11 1 5 1 3 1 1 1 2 1 2 1 0 1-3 1-4 1-4 1-4 1-6 1-8 1-9 1-7 1-5 1-1 1 2 1 4 1 5 1 7 1 7 1 5 1 0 1-3 1-5 1-4 1-1 1-1 1-4 1-7 1-6 1-4 1 1 1 8 1 16 1 20 1 21 1 18 1 15 1 14 1 14 1 14 1 12 1 11 1 6 1-1 1-7 1-7 1-5 1-2 1 4 1 19 1 24 1 19 1 18 1 8 1 0 1-3 1-4 1-7 1-8 1-7 1-5 1-4 1-1 1 0 1 0 1 2 1 2 1 3 1 2 1 1 1 2 1 5 1 8 1 8 1 6 1 3 1 3 1 4 1 6 1 7 1 10 1 11 1 11 1 10 1 9 1 10 1 10 1 13 1 13 1 15" stroke="#EDB120"/>
<path d="M0,3804l1 2 1 1 1-1 1-2 1-1 1 1 1 1 1 0 1-1 1 0 1 0 1 1 1 2 1 2 1 0 1-1 1 0 1-1 1-1 1-1 1 0 1 2 1 1 1 0 1-1 1-3 1-4 1-3 1-3 1-2 1-3 1-3 1-4 1-10 1-12 1-12 1-17 1-14 1 2 1 16 1 7 1 5 1 0 1-6 1-9 1-10 1-8 1-8 1-11 1-13 1-30 1-53 1-62 1-73 1-95 1-113 1-115 1-120 1-120 1-119 1-115 1-114 1-99 1-36 1-25 1 0 1 51 1 80 1 79 1 77 1 78 1 77 1 77 1 75 1 58 1 47 1 37 1 20 1 1 1-12 1-18 1-30 1-51 1-63 1-72 1-77 1-77 1-76 1-71 1-45 1 4 1 23 1 36 1 37 1 20 1 22 1 58 1 90 1 96 1 97 1 96 1 96 1 78 1 52 1 27 1-13 1-27 1-34 1-38 1-32 1-20 1 3 1 18 1 27 1 31 1 31 1 29 1 17 1-12 1-28 1-29 1-25 1-22 1-23 1-17 1 2 1 19 1 25 1 28 1 26 1 20 1 13 1 5 1 4 1 2 1 3 1 2 1 2 1-1 1-6 1-9 1-7 1-3 1-1 1-4 1-8 1-7 1-2 1 3 1 4 1 3 1 2 1 5 1 6 1 7 1 4 1 0 1-3 1-2 1-2 1-3 1-6 1-7 1-5 1-3 1 2 1 7 1 11 1 14 1 17 1 17 1 15 1 13 1 13 1 13 1 15 1 17 1 13 1 7 1 0 1-1 1 3 1 4 1 5 1 16 1 18 1 11 1 7 1-1 1-6 1-6 1-5 1-5 1-7 1-6 1-3 1-1 1-1 1-4 1-6 1-4 1 1 1 3 1 1 1-2 1-2 1-1 1 0 1 1 1 1 1 0 1 1 1 4 1 8 1 12 1 13 1 11 1 11 1 11 1 13 1 17 1 19 1 18 1 15 1 12" stroke="#7E2F8E"/>
<path d="M0,3810l1 4 1 1 1-1 1-2 1-3 1-3 1-3 1-2 1-1 1 2 1 3 1 3 1 2 1 0 1-1 1 0 1-1 1 0 1 1 1 2 1 0 1-1 1 0 1-1 1-1 1-2 1-1 1-2 1 0 1 0 1 1 1 0 1-1 1-3 1-5 1-5 1-6 1-5 1-1 1 3 1-1 1-5 1-9 1-10 1-9 1-9 1-7 1-7 1-8 1-10 1-28 1-51 1-60 1-67 1-86 1-103 1-105 1-105 1-104 1-98 1-66 1-39 1-41 1-40 1-21 1 18 1 19 1 2 1 43 1 68 1 70 1 68 1 67 1 64 1 53 1 43 1 34 1 19 1 3 1-15 1-26 1-39 1-55 1-63 1-71 1-84 1-84 1-51 1-24 1-23 1-6 1 19 1 26 1 25 1 19 1 19 1 28 1 61 1 91 1 88 1 88 1 90 1 76 1 60 1 49 1 7 1-11 1-19 1-20 1-14 1-10 1-4 1 1 1 7 1 9 1 10 1 11 1 7 1-11 1-20 1-20 1-17 1-16 1-15 1-11 1 1 1 16 1 24 1 28 1 27 1 26 1 23 1 15 1 10 1 5 1 1 1 0 1-2 1-3 1-4 1-5 1-4 1-3 1-1 1 2 1 3 1 4 1 4 1 7 1 9 1 8 1 6 1 8 1 8 1 5 1 0 1-1 1-5 1-5 1-3 1-2 1-2 1-2 1-4 1-3 1 1 1 9 1 15 1 18 1 19 1 20 1 21 1 23 1 24 1 22 1 18 1 15 1 10 1 4 1-2 1-5 1-7 1-8 1 0 1 16 1 21 1 19 1 18 1 6 1-7 1-10 1-8 1-11 1-10 1-8 1-7 1-8 1-10 1-12 1-9 1-8 1-4 1-4 1-5 1-5 1-4 1-2 1 0 1 0 1-3 1-5 1-4 1 1 1 5 1 10 1 12 1 13 1 11 1 11 1 10 1 10 1 10 1 10 1 7 1 5" stroke="#77AC30"/>
<path d="M0,3811l1-1 1-1 1-1 1-2 1-2 1-1 1 0 1 1 1 1 1 1 1 0 1 1 1 0 1 0 1 1 1 1 1 1 1 1 1 0 1 1 1 1 1 1 1 0 1-1 1-1 1-3 1-1 1-1 1 0 1 1 1 0 1-2 1-4 1-3 1-3 1-5 1-10 1-10 1-2 1 1 1-3 1-4 1-6 1-8 1-8 1-8 1-6 1-7 1-9 1-12 1-29 1-51 1-60 1-69 1-91 1-106 1-108 1-106 1-105 1-100 1-73 1-48 1-48 1-37 1-22 1 14 1 24 1 16 1 49 1 68 1 69 1 70 1 69 1 68 1 56 1 47 1 36 1 19 1 0 1-17 1-28 1-38 1-55 1-64 1-69 1-80 1-82 1-56 1-33 1-29 1-7 1 16 1 26 1 27 1 21 1 19 1 32 1 65 1 90 1 92 1 93 1 93 1 77 1 58 1 44 1 3 1-17 1-24 1-28 1-23 1-15 1-2 1 7 1 12 1 16 1 16 1 17 1 12 1-8 1-20 1-22 1-23 1-25 1-24 1-17 1 0 1 18 1 26 1 31 1 29 1 25 1 22 1 14 1 10 1 7 1 4 1 1 1 0 1-2 1-4 1-6 1-6 1-4 1-2 1-2 1-4 1-5 1-3 1 1 1 4 1 6 1 6 1 8 1 8 1 8 1 4 1 2 1 0 1 0 1-1 1-2 1-4 1-5 1-3 1-2 1 4 1 10 1 12 1 14 1 14 1 16 1 16 1 17 1 16 1 12 1 8 1 3 1-2 1-6 1-9 1-8 1-7 1-7 1-2 1 10 1 15 1 14 1 14 1 5 1-4 1-5 1-4 1-6 1-7 1-8 1-9 1-7 1-7 1-5 1-5 1-6 1-7 1-7 1-6 1-1 1 0 1 2 1 3 1 5 1 3 1 3 1 4 1 5 1 6 1 8 1 8 1 11 1 14 1 18 1 19 1 18 1 14 1 12 1 11 1 12" stroke="#4DBEEE"/>
<path d="M0,3816l1 1 1 0 1 0 1-1 1 0 1 1 1 2 1 0 1-2 1-2 1-3 1-2 1-2 1 0 1 0 1 1 1-1 1-1 1 0 1 1 1 3 1 2 1 0 1-1 1-3 1-2 1-2 1-2 1-3 1-4 1-4 1-2 1 0 1-2 1-5 1-7 1-11 1-10 1-2 1 6 1 0 1-2 1-5 1-6 1-7 1-5 1-6 1-9 1-10 1-13 1-29 1-51 1-61 1-69 1-92 1-109 1-110 1-109 1-108 1-107 1-92 1-78 1-70 1-36 1-20 1 13 1 37 1 40 1 59 1 70 1 69 1 70 1 69 1 67 1 54 1 43 1 34 1 17 1 1 1-13 1-20 1-30 1-50 1-62 1-70 1-79 1-79 1-63 1-45 1-32 1 1 1 21 1 33 1 34 1 22 1 20 1 38 1 71 1 93 1 92 1 92 1 92 1 79 1 60 1 44 1 1 1-17 1-24 1-27 1-22 1-14 1-3 1 7 1 15 1 20 1 19 1 18 1 13 1-7 1-18 1-21 1-19 1-19 1-17 1-12 1 2 1 17 1 26 1 27 1 27 1 23 1 20 1 14 1 8 1 6 1 4 1 2 1 2 1 1 1 1 1 0 1-2 1-1 1-2 1-1 1-1 1-1 1-1 1 1 1 4 1 6 1 9 1 11 1 9 1 5 1 0 1-2 1-6 1-6 1-5 1-4 1-4 1-4 1-4 1-2 1 6 1 14 1 17 1 18 1 18 1 20 1 22 1 21 1 19 1 19 1 19 1 15 1 10 1 3 1-2 1-3 1-3 1-2 1 7 1 20 1 23 1 20 1 19 1 4 1-10 1-14 1-12 1-11 1-11 1-8 1-5 1-2 1-3 1-4 1-8 1-6 1-3 1 0 1 1 1 2 1 2 1 5 1 4 1 5 1 7 1 8 1 5 1 6 1 6 1 9 1 11 1 11 1 11 1 9 1 10 1 10 1 11 1 11 1 8 1 8" stroke="#A2142F"/>
<path d="M0,3810l1 0 1 1 1 0 1 0 1-1 1-1 1 0 1 0 1 1 1 1 1-1 1-2 1-1 1 0 1-1 1-2 1-2 1-1 1 1 1 1 1 0 1 1 1 1 1 0 1-2 1-2 1-1 1 0 1-1 1-2 1-3 1-1 1-1 1-2 1-3 1-3 1-9 1-10 1-1 1 6 1-1 1-3 1-5 1-7 1-9 1-9 1-8 1-8 1-9 1-13 1-30 1-54 1-65 1-74 1-95 1-110 1-111 1-113 1-114 1-111 1-100 1-88 1-79 1-37 1-24 1 5 1 39 1 56 1 70 1 76 1 73 1 71 1 71 1 71 1 58 1 48 1 38 1 21 1 2 1-14 1-23 1-33 1-53 1-62 1-71 1-79 1-81 1-68 1-54 1-36 1 2 1 23 1 34 1 34 1 22 1 22 1 46 1 78 1 94 1 94 1 93 1 93 1 75 1 56 1 38 1 0 1-16 1-22 1-26 1-22 1-14 1 0 1 9 1 14 1 18 1 19 1 21 1 16 1-7 1-20 1-21 1-21 1-22 1-23 1-17 1 0 1 19 1 26 1 29 1 25 1 20 1 15 1 8 1 7 1 5 1 3 1 2 1 1 1 1 1-1 1-3 1-5 1-7 1-8 1-9 1-9 1-6 1-3 1 1 1 3 1 2 1 1 1 4 1 6 1 7 1 3 1 2 1-1 1-2 1-3 1-5 1-7 1-7 1-5 1-1 1 5 1 13 1 17 1 19 1 17 1 14 1 11 1 8 1 6 1 5 1 6 1 6 1 4 1 3 1-2 1-4 1-5 1-6 1 0 1 14 1 15 1 9 1 8 1 0 1-4 1-9 1-11 1-11 1-11 1-11 1-8 1-5 1-4 1-3 1-1 1 0 1 1 1 1 1 0 1-1 1-2 1 0 1 2 1 3 1 3 1 1 1 1 1 1 1 4 1 8 1 12 1 13 1 15 1 15 1 14 1 12 1 13 1 13 1 12 1 11" stroke="#0072BD"/>
<path d="M0,3810l1 0 1-1 1-3 1-3 1-1 1 1 1 3 1 2 1 0 1 0 1 1 1 0 1-2 1-2 1 0 1 2 1 2 1 1 1-1 1-2 1-1 1 0 1-1 1-2 1-1 1 0 1 0 1 0 1 0 1-1 1-1 1 1 1 0 1-6 1-9 1-10 1-12 1-12 1-2 1 5 1-2 1-2 1-3 1-5 1-7 1-8 1-8 1-9 1-11 1-13 1-29 1-49 1-58 1-68 1-91 1-109 1-112 1-113 1-113 1-111 1-99 1-88 1-79 1-39 1-25 1 7 1 40 1 55 1 69 1 74 1 73 1 71 1 70 1 70 1 54 1 44 1 34 1 19 1 1 1-13 1-22 1-36 1-54 1-64 1-69 1-76 1-77 1-70 1-60 1-43 1-1 1 20 1 34 1 38 1 26 1 25 1 49 1 79 1 92 1 94 1 95 1 94 1 78 1 56 1 37 1-3 1-18 1-27 1-31 1-28 1-18 1-2 1 10 1 17 1 21 1 20 1 21 1 15 1-8 1-22 1-23 1-21 1-21 1-20 1-13 1 5 1 21 1 26 1 30 1 29 1 26 1 22 1 16 1 11 1 6 1 4 1 5 1 6 1 5 1 1 1-3 1-5 1-2 1-1 1-1 1-1 1-2 1-1 1 3 1 3 1 1 1 0 1 3 1 6 1 5 1 4 1 1 1-2 1-2 1-3 1-3 1-5 1-4 1-2 1 1 1 6 1 13 1 17 1 19 1 21 1 23 1 21 1 19 1 15 1 13 1 13 1 10 1 8 1 1 1-3 1-4 1-4 1-4 1 3 1 17 1 21 1 18 1 18 1 4 1-9 1-12 1-9 1-11 1-9 1-5 1-1 1 1 1 0 1-1 1-3 1-4 1-3 1-3 1-4 1-4 1-1 1 3 1 7 1 7 1 9 1 7 1 7 1 7 1 7 1 9 1 10 1 12 1 13 1 13 1 11 1 10 1 11 1 10 1 8 1 7" stroke="#D95319"/>
<path d="M0,3810l1 0 1-1 1-1 1-2 1 0 1 0 1 1 1 0 1 1 1 0 1-1 1-1 1 1 1 2 1 3 1-1 1-3 1-5 1-2 1-2 1-1 1 0 1 1 1 2 1 1 1-1 1-1 1 0 1-1 1 1 1 1 1 1 1-1 1-4 1-6 1-7 1-11 1-11 1 1 1 8 1 2 1-3 1-7 1-10 1-9 1-9 1-7 1-8 1-9 1-11 1-27 1-50 1-58 1-68 1-91 1-108 1-110 1-107 1-107 1-99 1-73 1-50 1-47 1-34 1-20 1 14 1 22 1 14 1 48 1 67 1 67 1 69 1 70 1 71 1 56 1 45 1 33 1 20 1 4 1-13 1-25 1-38 1-55 1-65 1-69 1-82 1-82 1-57 1-32 1-26 1-4 1 19 1 28 1 27 1 19 1 18 1 30 1 65 1 95 1 94 1 93 1 92 1 76 1 57 1 44 1 6 1-13 1-21 1-27 1-24 1-15 1-2 1 8 1 13 1 15 1 12 1 11 1 6 1-13 1-21 1-20 1-18 1-17 1-18 1-12 1 1 1 18 1 28 1 32 1 28 1 24 1 19 1 11 1 5 1 1 1 0 1-1 1 0 1-2 1-2 1-1 1 0 1 0 1-1 1-3 1-4 1-5 1-3 1 0 1 3 1 3 1 4 1 6 1 6 1 3 1-1 1-2 1-2 1-1 1-2 1-4 1-5 1-6 1-6 1-5 1-1 1 6 1 12 1 15 1 16 1 15 1 15 1 16 1 16 1 14 1 11 1 7 1 1 1-5 1-10 1-12 1-10 1-8 1-2 1 12 1 15 1 8 1 6 1-4 1-9 1-8 1-7 1-9 1-8 1-8 1-5 1-3 1-2 1-2 1-1 1 0 1-2 1-3 1-7 1-8 1-8 1-5 1-3 1-2 1-2 1-2 1-2 1 1 1 5 1 10 1 12 1 15 1 14 1 13 1 12 1 14 1 14 1 13 1 11 1 8" stroke="#EDB120"/>
<path d="M0,3805l1 0 1 0 1 0 1 3 1 3 1 1 1-2 1-3 1-1 1 2 1 2 1 0 1-1 1-1 1-1 1-1 1-2 1-2 1-2 1 0 1-1 1 0 1 0 1 2 1 1 1 1 1-1 1-2 1 0 1 1 1 0 1 0 1-1 1-3 1-7 1-10 1-13 1-10 1 0 1 8 1 0 1-2 1-2 1-4 1-6 1-9 1-9 1-11 1-14 1-16 1-31 1-53 1-64 1-75 1-96 1-111 1-111 1-113 1-115 1-114 1-106 1-100 1-87 1-37 1-26 1 0 1 43 1 66 1 73 1 73 1 74 1 73 1 73 1 73 1 58 1 46 1 37 1 20 1 2 1-13 1-20 1-32 1-52 1-64 1-69 1-74 1-77 1-75 1-67 1-43 1 2 1 24 1 38 1 38 1 21 1 22 1 52 1 84 1 97 1 97 1 96 1 97 1 80 1 56 1 36 1-5 1-19 1-27 1-29 1-26 1-17 1 0 1 14 1 20 1 24 1 21 1 20 1 10 1-14 1-24 1-22 1-19 1-19 1-19 1-12 1 5 1 23 1 30 1 30 1 28 1 24 1 20 1 11 1 7 1 7 1 6 1 3 1 2 1 2 1 2 1 0 1-4 1-6 1-8 1-7 1-5 1-4 1-2 1 1 1 4 1 4 1 5 1 8 1 7 1 4 1 0 1-1 1-1 1-1 1-1 1-1 1-5 1-7 1-7 1-3 1 4 1 11 1 14 1 16 1 16 1 16 1 18 1 19 1 19 1 15 1 12 1 9 1 4 1-2 1-7 1-10 1-8 1-7 1-1 1 10 1 12 1 7 1 6 1-2 1-9 1-11 1-10 1-9 1-6 1-3 1-1 1-1 1-1 1-1 1-4 1-6 1-8 1-9 1-5 1-1 1 3 1 3 1 2 1 0 1 0 1 1 1 2 1 4 1 7 1 12 1 15 1 14 1 12 1 13 1 12 1 11 1 10 1 10 1 11 1 12" stroke="#7E2F8E"/>
<path d="M0,3811l1-1 1-2 1-2 1 0 1 2 1 3 1 1 1 0 1-1 1-1 1-1 1-2 1-1 1-2 1-2 1-1 1-1 1 2 1 0 1 1 1 0 1 1 1 1 1 1 1 1 1 1 1 0 1-1 1-1 1 0 1 1 1 1 1-1 1-5 1-7 1-8 1-12 1-11 1-2 1 5 1 0 1-4 1-5 1-7 1-7 1-7 1-6 1-7 1-10 1-13 1-31 1-51 1-61 1-68 1-87 1-104 1-108 1-110 1-113 1-109 1-86 1-66 1-61 1-38 1-22 1 10 1 30 1 31 1 56 1 72 1 71 1 70 1 70 1 70 1 56 1 43 1 33 1 17 1 1 1-13 1-23 1-35 1-54 1-65 1-71 1-81 1-83 1-63 1-44 1-31 1-1 1 21 1 34 1 33 1 21 1 20 1 40 1 73 1 93 1 96 1 95 1 93 1 75 1 56 1 39 1-2 1-19 1-27 1-30 1-25 1-18 1-4 1 6 1 13 1 17 1 18 1 20 1 14 1-7 1-18 1-20 1-19 1-21 1-20 1-14 1 1 1 15 1 24 1 29 1 26 1 22 1 16 1 9 1 5 1 2 1 1 1 2 1 4 1 3 1-1 1-4 1-6 1-7 1-6 1-4 1-3 1-2 1 0 1 4 1 4 1 5 1 2 1 3 1 3 1 2 1 3 1 2 1 1 1-2 1-4 1-5 1-6 1-6 1-6 1-4 1 0 1 7 1 10 1 13 1 13 1 11 1 9 1 10 1 11 1 12 1 11 1 8 1 3 1-3 1-8 1-6 1-5 1-3 1-1 1 11 1 13 1 7 1 4 1-5 1-10 1-10 1-8 1-5 1-2 1-2 1-2 1-1 1 0 1-1 1-1 1-1 1 0 1-1 1-3 1-3 1-4 1-2 1 2 1 4 1 5 1 6 1 5 1 8 1 8 1 12 1 14 1 14 1 15 1 14 1 14 1 14 1 13 1 13 1 13 1 14" stroke="#77AC30"/>
<path d="M0,3802l1 2 1 0 1-1 1 0 1 2 1 1 1 0 1 1 1 0 1-2 1-2 1 0 1 0 1 1 1 1 1 0 1 0 1-1 1-1 1-2 1-2 1 1 1 1 1 2 1 1 1 0 1-2 1-3 1-4 1-1 1 0 1 0 1-2 1-9 1-13 1-12 1-19 1-15 1 2 1 16 1 6 1 2 1-2 1-6 1-7 1-9 1-11 1-11 1-11 1-10 1-28 1-52 1-63 1-72 1-92 1-109 1-112 1-112 1-112 1-108 1-95 1-83 1-71 1-30 1-16 1 16 1 43 1 50 1 67 1 77 1 75 1 74 1 71 1 69 1 56 1 46 1 37 1 20 1 3 1-12 1-23 1-36 1-56 1-63 1-68 1-79 1-82 1-60 1-37 1-27 1-2 1 20 1 27 1 27 1 19 1 19 1 33 1 66 1 92 1 91 1 92 1 93 1 78 1 60 1 45 1 3 1-13 1-22 1-28 1-24 1-17 1-6 1 4 1 11 1 17 1 17 1 17 1 9 1-9 1-18 1-18 1-18 1-20 1-23 1-18 1-2 1 14 1 21 1 24 1 23 1 19 1 17 1 11 1 7 1 5 1 1 1 0 1-2 1-4 1-6 1-6 1-5 1-6 1-6 1-7 1-6 1-7 1-4 1-1 1 4 1 7 1 9 1 10 1 8 1 4 1 2 1 0 1-1 1-3 1-1 1-1 1-3 1-4 1-4 1-1 1 6 1 11 1 14 1 16 1 16 1 14 1 12 1 14 1 15 1 14 1 15 1 14 1 11 1 2 1-4 1-7 1-5 1-5 1 0 1 15 1 19 1 14 1 13 1 4 1-4 1-6 1-6 1-6 1-5 1-5 1-3 1-4 1-3 1 1 1 2 1 4 1 4 1 2 1 0 1-2 1-2 1 0 1 4 1 8 1 11 1 10 1 8 1 8 1 7 1 9 1 12 1 17 1 20 1 21 1 22 1 23 1 25 1 24 1 21 1 16" stroke="#4DBEEE"/>
<path d="M0,3798l1-1 1 1 1 0 1 1 1 2 1 2 1 3 1 1 1 0 1 0 1 2 1 1 1-1 1-2 1-3 1-2 1-1 1 1 1 2 1 2 1 2 1 0 1-1 1-3 1-2 1-1 1 0 1 0 1 0 1-1 1-3 1-4 1-4 1-6 1-8 1-9 1-16 1-17 1-1 1 11 1 5 1 3 1 0 1-4 1-6 1-6 1-6 1-10 1-13 1-16 1-34 1-56 1-65 1-73 1-95 1-111 1-114 1-116 1-117 1-117 1-115 1-109 1-91 1-31 1-18 1 10 1 53 1 73 1 73 1 74 1 75 1 74 1 74 1 75 1 59 1 49 1 38 1 21 1 4 1-11 1-20 1-32 1-52 1-63 1-69 1-76 1-78 1-66 1-53 1-33 1 3 1 24 1 34 1 34 1 22 1 23 1 45 1 76 1 93 1 91 1 91 1 90 1 75 1 56 1 38 1-3 1-21 1-28 1-30 1-23 1-13 1 2 1 12 1 16 1 20 1 18 1 18 1 13 1-8 1-18 1-20 1-20 1-21 1-23 1-18 1-2 1 15 1 24 1 29 1 27 1 23 1 18 1 11 1 5 1 0 1-2 1-4 1-2 1-2 1-1 1-4 1-4 1-4 1-3 1-1 1-1 1 0 1-1 1 4 1 6 1 7 1 8 1 8 1 9 1 6 1 5 1 2 1 2 1 3 1 1 1 0 1-4 1-3 1-2 1 1 1 6 1 12 1 15 1 18 1 20 1 21 1 19 1 18 1 19 1 19 1 19 1 16 1 10 1 3 1-2 1-3 1-2 1-2 1 2 1 15 1 19 1 16 1 14 1 2 1-7 1-10 1-8 1-9 1-10 1-9 1-8 1-7 1-8 1-9 1-8 1-8 1-8 1-8 1-9 1-7 1-7 1-6 1-5 1-4 1-4 1-2 1-3 1-1 1 0 1 4 1 9 1 10 1 11 1 12 1 10 1 9 1 8 1 6 1 6 1 4" stroke="#A2142F"/>
<path d="M0,3810l1-1 1-1 1 1 1 1 1 0 1-1 1-2 1-1 1 0 1 3 1 4 1 2 1 0 1-2 1-3 1-2 1-2 1 0 1 0 1 1 1 0 1-1 1-1 1 1 1 1 1 0 1-3 1-4 1-3 1-2 1-2 1-2 1-1 1 0 1 1 1 0 1-3 1-3 1-1 1 0 1-5 1-6 1-4 1-6 1-6 1-8 1-9 1-10 1-11 1-13 1-29 1-50 1-59 1-69 1-91 1-106 1-107 1-106 1-107 1-101 1-72 1-47 1-47 1-37 1-19 1 17 1 24 1 12 1 46 1 67 1 69 1 70 1 69 1 68 1 53 1 43 1 34 1 19 1 4 1-13 1-25 1-38 1-54 1-64 1-69 1-81 1-80 1-53 1-30 1-28 1-9 1 15 1 26 1 28 1 21 1 20 1 30 1 63 1 89 1 89 1 89 1 91 1 77 1 60 1 47 1 4 1-15 1-26 1-31 1-24 1-15 1-3 1 6 1 11 1 13 1 11 1 11 1 5 1-13 1-22 1-18 1-14 1-15 1-16 1-11 1 2 1 18 1 27 1 31 1 29 1 25 1 20 1 13 1 6 1 2 1 2 1 3 1 4 1 3 1 1 1-2 1-2 1-1 1-1 1-1 1-1 1-2 1-2 1 0 1 2 1 2 1 3 1 6 1 7 1 6 1 2 1 1 1-2 1-3 1-4 1-5 1-6 1-6 1-5 1-4 1 0 1 5 1 9 1 13 1 15 1 16 1 16 1 16 1 17 1 15 1 13 1 9 1 6 1 1 1-3 1-5 1-5 1-6 1-3 1 10 1 15 1 13 1 14 1 5 1-3 1-5 1-4 1-5 1-8 1-10 1-12 1-12 1-10 1-10 1-7 1-5 1-6 1-4 1-4 1-2 1-2 1-3 1 0 1 0 1 0 1-1 1-3 1-3 1-1 1 3 1 9 1 10 1 12 1 12 1 13 1 15 1 14 1 13 1 12 1 12" stroke="#0072BD"/>
<path d="M0,3807l1-2 1-1 1 2 1 1 1-1 1-2 1-3 1-1 1 0 1-1 1 0 1 2 1 1 1 1 1-1 1-2 1-2 1 0 1 1 1 2 1 2 1 0 1 1 1 1 1 2 1 2 1 1 1 1 1-1 1-3 1-3 1-3 1-6 1-9 1-10 1-9 1-12 1-10 1 3 1 10 1 2 1-2 1-3 1-5 1-5 1-5 1-7 1-11 1-13 1-15 1-30 1-52 1-61 1-72 1-93 1-109 1-109 1-108 1-108 1-105 1-84 1-64 1-59 1-35 1-19 1 16 1 36 1 34 1 57 1 69 1 68 1 69 1 70 1 69 1 55 1 45 1 36 1 20 1 4 1-13 1-25 1-37 1-54 1-63 1-68 1-79 1-80 1-59 1-40 1-31 1-4 1 19 1 28 1 28 1 19 1 20 1 36 1 69 1 92 1 90 1 92 1 93 1 79 1 61 1 45 1 2 1-18 1-27 1-30 1-24 1-15 1-2 1 5 1 12 1 15 1 15 1 15 1 10 1-11 1-22 1-22 1-19 1-20 1-21 1-14 1 0 1 16 1 23 1 28 1 29 1 27 1 22 1 14 1 10 1 7 1 5 1 4 1 1 1-1 1-3 1-4 1-3 1-3 1-3 1-3 1-4 1-4 1 0 1 3 1 2 1 2 1 2 1 6 1 9 1 7 1 3 1 0 1-1 1 0 1-1 1-3 1-6 1-4 1-3 1-1 1 6 1 14 1 18 1 19 1 19 1 19 1 18 1 19 1 19 1 20 1 18 1 15 1 9 1 1 1-5 1-7 1-5 1-4 1 2 1 17 1 23 1 22 1 23 1 10 1-1 1-3 1-1 1-2 1-5 1-6 1-7 1-6 1-4 1-3 1-3 1-3 1-3 1-4 1-6 1-4 1-3 1-1 1 0 1 3 1 5 1 6 1 8 1 9 1 11 1 12 1 16 1 18 1 20 1 19 1 20 1 22 1 22 1 20 1 14 1 9" stroke="#D95319"/>
<path d="M0,3796l1 2 1 2 1-1 1-3 1-2 1 1 1 3 1 3 1 2 1 0 1-1 1 1 1 2 1 1 1-1 1-1 1-1 1 0 1 1 1 1 1-1 1-3 1-4 1-2 1 0 1 1 1-1 1-4 1-5 1-2 1 0 1 0 1-3 1-11 1-14 1-14 1-19 1-15 1 4 1 18 1 7 1 2 1-1 1-4 1-6 1-7 1-9 1-12 1-13 1-11 1-27 1-49 1-63 1-75 1-96 1-112 1-112 1-115 1-118 1-119 1-119 1-117 1-99 1-33 1-23 1 3 1 54 1 82 1 78 1 73 1 71 1 72 1 74 1 76 1 61 1 49 1 40 1 22 1 3 1-12 1-18 1-31 1-53 1-65 1-71 1-73 1-73 1-73 1-67 1-43 1 5 1 25 1 38 1 39 1 22 1 20 1 52 1 82 1 96 1 95 1 93 1 93 1 78 1 56 1 36 1-5 1-18 1-25 1-28 1-23 1-13 1 2 1 12 1 15 1 17 1 15 1 17 1 13 1-8 1-21 1-22 1-20 1-20 1-19 1-10 1 7 1 24 1 32 1 33 1 30 1 24 1 18 1 8 1 3 1 2 1 2 1 2 1 1 1 3 1 3 1 2 1 0 1-3 1-7 1-7 1-7 1-7 1-4 1-1 1 3 1 1 1 0 1 2 1 4 1 3 1 1 1 0 1-2 1-1 1-1 1-1 1-2 1-4 1-3 1-2 1 2 1 7 1 9 1 12 1 14 1 17 1 16 1 13 1 12 1 12 1 11 1 10 1 6 1-1 1-7 1-8 1-7 1-7 1-3 1 9 1 14 1 11 1 8 1 1 1-4 1-5 1-5 1-6 1-7 1-6 1-4 1-3 1-4 1-4 1-3 1-2 1-1 1 0 1 0 1-1 1-1 1 0 1 1 1 2 1 3 1 3 1 4 1 6 1 9 1 12 1 14 1 14 1 16 1 18 1 17 1 16 1 14 1 13 1 13 1 11" stroke="#EDB120"/>
<path d="M0,3803l1 0 1-1 1-1 1 0 1 0 1 0 1 0 1-1 1-1 1 0 1 0 1 0 1 0 1-1 1 1 1 2 1 2 1 1 1 0 1 0 1-1 1-1 1 1 1 0 1-3 1-4 1-4 1-2 1-1 1-1 1-1 1 0 1-1 1-9 1-15 1-15 1-22 1-18 1 4 1 20 1 11 1 5 1 0 1-3 1-4 1-6 1-8 1-11 1-14 1-15 1-31 1-52 1-62 1-71 1-94 1-112 1-113 1-114 1-113 1-113 1-107 1-99 1-85 1-34 1-20 1 9 1 47 1 63 1 70 1 73 1 74 1 73 1 73 1 71 1 57 1 46 1 37 1 20 1 2 1-12 1-20 1-31 1-52 1-64 1-72 1-79 1-79 1-71 1-61 1-41 1 3 1 21 1 31 1 32 1 16 1 17 1 51 1 85 1 97 1 96 1 93 1 92 1 76 1 54 1 32 1-10 1-24 1-32 1-40 1-36 1-24 1 0 1 15 1 22 1 25 1 27 1 26 1 17 1-10 1-25 1-24 1-21 1-19 1-20 1-12 1 8 1 23 1 29 1 28 1 23 1 15 1 8 1 5 1 4 1 4 1 2 1 0 1 0 1-2 1-5 1-5 1-4 1-4 1-4 1-9 1-10 1-9 1-4 1 0 1 3 1 3 1 2 1 4 1 4 1 4 1 1 1 1 1 1 1 0 1 2 1 0 1-4 1-5 1-5 1-2 1 2 1 8 1 12 1 14 1 15 1 14 1 10 1 11 1 12 1 13 1 14 1 14 1 13 1 7 1 1 1-3 1-3 1-6 1-5 1 6 1 9 1 1 1-2 1-8 1-10 1-9 1-9 1-8 1-6 1-4 1-3 1-2 1-3 1-2 1-2 1 0 1 0 1 2 1 0 1 0 1-2 1-3 1-2 1 0 1 2 1 3 1 3 1 5 1 7 1 11 1 13 1 13 1 13 1 14 1 14 1 14 1 13 1 13 1 14 1 16" stroke="#7E2F8E"/>
<path d="M0,3810l1 2 1 1 1 0 1 0 1 0 1 0 1 0 1 0 1-1 1 0 1-2 1-2 1-1 1 1 1 0 1 1 1 3 1 5 1 2 1-2 1-4 1-5 1-2 1-1 1 1 1-1 1-3 1-4 1-3 1-1 1 0 1-1 1-2 1-1 1-1 1-1 1-5 1-7 1-4 1-2 1-5 1-5 1-4 1-5 1-5 1-6 1-7 1-9 1-13 1-14 1-31 1-51 1-60 1-69 1-91 1-110 1-110 1-110 1-109 1-104 1-86 1-69 1-66 1-38 1-23 1 7 1 28 1 33 1 56 1 69 1 70 1 70 1 71 1 70 1 57 1 48 1 36 1 19 1 0 1-15 1-23 1-35 1-52 1-64 1-70 1-78 1-79 1-65 1-51 1-36 1 1 1 21 1 31 1 31 1 19 1 20 1 44 1 76 1 95 1 94 1 93 1 91 1 74 1 55 1 38 1-1 1-17 1-23 1-27 1-22 1-13 1 2 1 14 1 20 1 21 1 18 1 19 1 14 1-9 1-21 1-23 1-22 1-19 1-19 1-13 1 2 1 18 1 25 1 29 1 27 1 24 1 20 1 12 1 7 1 3 1 1 1 1 1 2 1 2 1 0 1-3 1-3 1-5 1-6 1-5 1-7 1-5 1-5 1-1 1 3 1 4 1 4 1 5 1 4 1 4 1 5 1 2 1 1 1-1 1-1 1-2 1-3 1-2 1-1 1 0 1 4 1 9 1 13 1 13 1 12 1 12 1 13 1 13 1 14 1 12 1 13 1 11 1 7 1-1 1-8 1-12 1-9 1-8 1-1 1 12 1 17 1 11 1 9 1-1 1-11 1-11 1-8 1-6 1-6 1-7 1-7 1-6 1-4 1-4 1-5 1-5 1-5 1-4 1-5 1-6 1-4 1 0 1 3 1 6 1 4 1 4 1 5 1 5 1 4 1 7 1 12 1 16 1 17 1 17 1 17 1 18 1 18 1 17 1 14 1 11" stroke="#77AC30"/>
<path d="M0,3817l1 3 1-1 1-3 1-3 1-2 1-2 1-1 1 1 1 3 1 3 1 1 1-2 1-1 1 0 1 0 1 2 1 0 1-1 1-2 1-3 1-2 1-1 1 0 1-1 1 1 1 2 1 1 1-1 1-4 1-3 1-1 1 1 1 2 1-1 1-2 1-4 1-7 1-6 1 0 1 0 1-7 1-6 1-6 1-5 1-5 1-6 1-8 1-12 1-14 1-14 1-28 1-49 1-58 1-67 1-87 1-104 1-105 1-104 1-104 1-97 1-66 1-38 1-40 1-40 1-20 1 18 1 19 1 4 1 44 1 68 1 68 1 67 1 67 1 65 1 52 1 44 1 33 1 18 1 3 1-14 1-27 1-41 1-56 1-65 1-68 1-82 1-82 1-52 1-24 1-23 1-7 1 17 1 25 1 25 1 18 1 17 1 24 1 60 1 92 1 92 1 91 1 90 1 75 1 60 1 48 1 7 1-13 1-20 1-22 1-16 1-8 1 1 1 9 1 13 1 14 1 12 1 13 1 10 1-7 1-18 1-21 1-22 1-22 1-22 1-16 1-2 1 16 1 27 1 33 1 31 1 30 1 25 1 16 1 10 1 5 1 2 1 3 1 3 1 3 1 1 1 0 1-1 1-2 1-2 1-2 1-4 1-4 1-2 1 0 1 3 1 5 1 8 1 10 1 10 1 6 1 2 1 0 1-2 1-3 1-2 1-2 1-4 1-5 1-5 1-4 1 3 1 11 1 16 1 15 1 12 1 12 1 16 1 19 1 20 1 20 1 20 1 16 1 12 1 3 1-4 1-8 1-9 1-9 1 3 1 21 1 27 1 25 1 23 1 8 1-7 1-11 1-8 1-8 1-8 1-7 1-6 1-5 1-3 1-2 1-2 1-3 1-4 1-4 1-3 1-1 1 2 1 4 1 3 1 2 1 2 1 0 1 1 1 1 1 4 1 7 1 11 1 14 1 18 1 14 1 15 1 12 1 11 1 8 1 7 1 7" stroke="#4DBEEE"/>
<path d="M0,3803l1 1 1 1 1 1 1 2 1 2 1 0 1 0 1-1 1-2 1-2 1 0 1 1 1 2 1 1 1 2 1 2 1 2 1 2 1 0 1-1 1-2 1-2 1-2 1-1 1 0 1-1 1-1 1-2 1-2 1-3 1-1 1-2 1-1 1-1 1 0 1-1 1-6 1-9 1-5 1-2 1-5 1-7 1-7 1-8 1-7 1-6 1-6 1-9 1-12 1-12 1-29 1-50 1-60 1-68 1-89 1-106 1-109 1-110 1-110 1-105 1-87 1-69 1-65 1-40 1-24 1 9 1 29 1 33 1 56 1 67 1 69 1 70 1 72 1 70 1 54 1 43 1 32 1 18 1 2 1-13 1-23 1-36 1-54 1-63 1-68 1-76 1-78 1-66 1-55 1-38 1 0 1 21 1 33 1 33 1 20 1 20 1 47 1 79 1 95 1 94 1 96 1 95 1 78 1 56 1 37 1-5 1-21 1-26 1-28 1-22 1-13 1 1 1 13 1 19 1 22 1 19 1 18 1 10 1-11 1-23 1-22 1-20 1-21 1-21 1-15 1 3 1 20 1 27 1 32 1 29 1 25 1 21 1 14 1 8 1 4 1 1 1 0 1 1 1 2 1 1 1 0 1 0 1-2 1-1 1-2 1-3 1-1 1 1 1 5 1 7 1 7 1 6 1 8 1 7 1 3 1 0 1-2 1-2 1-4 1-3 1-5 1-4 1-3 1-2 1-1 1 3 1 10 1 14 1 17 1 20 1 22 1 24 1 22 1 20 1 18 1 17 1 14 1 8 1 2 1-4 1-4 1-1 1-1 1 5 1 18 1 20 1 17 1 17 1 4 1-10 1-12 1-10 1-10 1-10 1-8 1-4 1-1 1 0 1 0 1-2 1 0 1-1 1-3 1-5 1-6 1-3 1 2 1 5 1 9 1 7 1 6 1 4 1 3 1 5 1 6 1 9 1 9 1 9 1 7 1 7 1 9 1 10 1 11 1 9 1 9" stroke="#A2142F"/>
<path d="M0,3805l1-3 1-1 1 0 1 0 1 0 1 1 1 1 1 1 1 3 1 4 1 2 1-1 1 0 1 0 1 0 1-2 1-4 1-3 1-2 1 0 1-1 1-3 1-4 1-1 1 1 1 3 1 2 1 0 1-2 1-2 1 0 1 0 1-2 1-10 1-13 1-13 1-17 1-15 1 1 1 15 1 7 1 4 1-2 1-7 1-8 1-7 1-6 1-7 1-9 1-12 1-31 1-52 1-63 1-72 1-96 1-111 1-113 1-115 1-116 1-116 1-110 1-104 1-89 1-35 1-21 1 7 1 48 1 69 1 73 1 72 1 71 1 69 1 72 1 71 1 56 1 45 1 36 1 22 1 4 1-11 1-19 1-31 1-51 1-63 1-70 1-75 1-76 1-69 1-62 1-42 1 1 1 22 1 34 1 34 1 19 1 20 1 53 1 86 1 97 1 95 1 95 1 94 1 78 1 58 1 36 1-6 1-21 1-30 1-33 1-29 1-18 1 1 1 13 1 19 1 21 1 21 1 22 1 14 1-9 1-20 1-20 1-19 1-20 1-19 1-12 1 6 1 22 1 26 1 27 1 23 1 17 1 13 1 7 1 5 1 4 1 2 1 2 1 2 1 1 1-3 1-4 1-3 1-4 1-6 1-8 1-8 1-6 1-3 1 1 1 7 1 9 1 9 1 10 1 7 1 5 1 2 1 0 1 0 1 0 1 1 1-1 1-3 1-5 1-4 1-4 1 2 1 8 1 13 1 17 1 18 1 19 1 17 1 16 1 15 1 15 1 16 1 11 1 5 1-1 1-4 1-2 1 1 1 1 1 7 1 19 1 23 1 18 1 15 1 2 1-9 1-11 1-9 1-8 1-7 1-5 1-5 1-5 1-3 1-1 1 1 1 0 1 0 1-1 1-1 1 0 1 2 1 3 1 4 1 6 1 7 1 5 1 4 1 7 1 11 1 14 1 17 1 20 1 21 1 20 1 16 1 15 1 14 1 15 1 11 1 9" stroke="#0072BD"/>
<path d="M0,3801l1 2 1 2 1 1 1 0 1 0 1 1 1 0 1-1 1 0 1 0 1 2 1 0 1-2 1-2 1-1 1-1 1 0 1 0 1 2 1 2 1 1 1-1 1-2 1-1 1 0 1-1 1-2 1-3 1-4 1-1 1-1 1 0 1-3 1-11 1-13 1-10 1-15 1-12 1 3 1 14 1 5 1 0 1-3 1-4 1-5 1-6 1-7 1-10 1-13 1-16 1-31 1-52 1-62 1-71 1-93 1-111 1-113 1-112 1-113 1-112 1-104 1-95 1-83 1-34 1-21 1 8 1 44 1 60 1 70 1 74 1 73 1 72 1 73 1 72 1 56 1 44 1 35 1 19 1 2 1-14 1-24 1-35 1-54 1-63 1-70 1-77 1-78 1-72 1-65 1-42 1 3 1 23 1 36 1 35 1 18 1 18 1 52 1 83 1 93 1 95 1 95 1 95 1 77 1 53 1 29 1-11 1-25 1-32 1-36 1-31 1-20 1 0 1 16 1 24 1 28 1 26 1 25 1 14 1-12 1-23 1-24 1-24 1-24 1-24 1-15 1 6 1 20 1 25 1 29 1 25 1 18 1 12 1 5 1 3 1 1 1 1 1 1 1 2 1 0 1-5 1-6 1-5 1-5 1-6 1-11 1-11 1-9 1-4 1 2 1 7 1 6 1 7 1 7 1 9 1 8 1 7 1 3 1-1 1-2 1-2 1 1 1 1 1 0 1-1 1 1 1 5 1 10 1 12 1 15 1 16 1 14 1 10 1 9 1 9 1 10 1 13 1 13 1 10 1 4 1-1 1-2 1-1 1 1 1 4 1 14 1 16 1 14 1 14 1 7 1 0 1-6 1-9 1-11 1-11 1-9 1-5 1-2 1-1 1-2 1-2 1 0 1 0 1 2 1 2 1 3 1 4 1 4 1 5 1 5 1 5 1 5 1 6 1 8 1 9 1 12 1 16 1 17 1 18 1 17 1 17 1 17 1 18 1 17 1 14 1 13" stroke="#D95319"/>
<path d="M0,3812l1-1 1-1 1 0 1 1 1 1 1 0 1-1 1-1 1-2 1-1 1-2 1-1 1 1 1 2 1 1 1-1 1-2 1-2 1-1 1-1 1-1 1 1 1 2 1 2 1 1 1-1 1-2 1-2 1 1 1 3 1 2 1 0 1-2 1-6 1-8 1-7 1-10 1-10 1-2 1 3 1-3 1-4 1-3 1-2 1-5 1-7 1-10 1-11 1-12 1-14 1-30 1-51 1-61 1-68 1-91 1-110 1-114 1-114 1-113 1-107 1-88 1-73 1-70 1-39 1-26 1 6 1 32 1 41 1 62 1 72 1 72 1 71 1 72 1 70 1 55 1 44 1 34 1 17 1 0 1-15 1-23 1-34 1-52 1-62 1-69 1-78 1-80 1-71 1-60 1-38 1 3 1 24 1 35 1 35 1 21 1 21 1 47 1 79 1 93 1 93 1 91 1 92 1 78 1 57 1 37 1-4 1-21 1-28 1-32 1-26 1-17 1-1 1 11 1 18 1 21 1 19 1 18 1 13 1-7 1-15 1-17 1-15 1-17 1-17 1-15 1 0 1 15 1 25 1 29 1 29 1 26 1 21 1 15 1 10 1 6 1 3 1 3 1 2 1-1 1-4 1-6 1-6 1-7 1-7 1-7 1-4 1-1 1 1 1 5 1 6 1 7 1 6 1 8 1 5 1 2 1-1 1 0 1 1 1 1 1 2 1 0 1-1 1-2 1-2 1-1 1 4 1 10 1 11 1 14 1 18 1 19 1 19 1 17 1 14 1 14 1 13 1 11 1 8 1 3 1-2 1-3 1-2 1-4 1 3 1 18 1 24 1 24 1 22 1 8 1-6 1-9 1-5 1-5 1-3 1-3 1-4 1-4 1-2 1-1 1 0 1 1 1 1 1 0 1-2 1-1 1 0 1 2 1 5 1 6 1 7 1 6 1 5 1 7 1 12 1 15 1 19 1 19 1 20 1 19 1 18 1 17 1 19 1 18 1 12 1 6" stroke="#EDB120"/>
<path d="M0,3811l1 2 1 1 1 0 1-1 1-2 1-3 1-3 1-1 1 0 1 0 1 0 1 0 1 0 1-1 1-1 1-1 1-1 1 0 1-1 1-1 1-2 1 0 1 2 1 2 1 2 1-2 1-2 1-3 1-2 1 0 1-1 1 0 1 0 1-5 1-10 1-11 1-17 1-15 1 2 1 13 1 5 1 4 1 0 1-4 1-7 1-7 1-8 1-10 1-11 1-15 1-31 1-54 1-63 1-73 1-95 1-110 1-110 1-109 1-110 1-108 1-95 1-83 1-74 1-34 1-18 1 13 1 39 1 47 1 62 1 73 1 72 1 73 1 71 1 69 1 54 1 43 1 34 1 18 1 1 1-14 1-22 1-34 1-51 1-60 1-66 1-74 1-77 1-61 1-46 1-33 1-2 1 19 1 29 1 29 1 20 1 20 1 41 1 71 1 92 1 92 1 93 1 95 1 79 1 59 1 44 1 3 1-15 1-24 1-29 1-23 1-14 1 0 1 9 1 14 1 18 1 16 1 17 1 10 1-11 1-21 1-20 1-19 1-19 1-21 1-15 1-1 1 18 1 28 1 30 1 29 1 26 1 23 1 16 1 10 1 4 1 1 1 2 1 1 1 0 1-1 1-2 1-2 1 0 1 0 1 2 1 3 1 2 1 3 1 4 1 5 1 5 1 3 1 5 1 4 1 2 1-1 1-2 1-4 1-4 1-1 1-3 1-4 1-5 1-5 1-4 1 2 1 10 1 16 1 17 1 17 1 16 1 15 1 14 1 13 1 13 1 11 1 8 1 5 1-1 1-5 1-4 1-3 1-3 1 2 1 17 1 20 1 14 1 8 1-4 1-15 1-17 1-13 1-11 1-8 1-7 1-8 1-9 1-8 1-8 1-7 1-7 1-5 1-6 1-6 1-6 1-4 1-4 1-3 1-3 1-2 1-4 1-4 1-2 1 2 1 7 1 10 1 9 1 11 1 12 1 15 1 16 1 18 1 16 1 16 1 15" stroke="#7E2F8E"/>
<path d="M0,3806l1-1 1-2 1 0 1 0 1 1 1 3 1 2 1 0 1-2 1-2 1 1 1 1 1 2 1 1 1 1 1 1 1-2 1-2 1-2 1-1 1 1 1 3 1 2 1 1 1 0 1-1 1-1 1-1 1-1 1-1 1-1 1-2 1-2 1-2 1-2 1-2 1-7 1-7 1-2 1 0 1-5 1-6 1-6 1-8 1-8 1-9 1-9 1-9 1-9 1-9 1-26 1-51 1-60 1-69 1-89 1-104 1-105 1-105 1-106 1-100 1-70 1-43 1-42 1-37 1-20 1 17 1 21 1 8 1 48 1 68 1 67 1 67 1 67 1 66 1 54 1 44 1 34 1 21 1 7 1-10 1-24 1-40 1-58 1-67 1-70 1-80 1-82 1-53 1-29 1-27 1-9 1 17 1 26 1 26 1 21 1 19 1 26 1 58 1 89 1 92 1 93 1 92 1 74 1 56 1 44 1 4 1-15 1-24 1-27 1-22 1-13 1-2 1 7 1 13 1 17 1 16 1 15 1 9 1-10 1-19 1-20 1-19 1-19 1-18 1-12 1 2 1 19 1 28 1 30 1 27 1 23 1 21 1 15 1 10 1 7 1 4 1 1 1 0 1 0 1 0 1 1 1 2 1 2 1 1 1 3 1 3 1 6 1 4 1 3 1 5 1 6 1 9 1 9 1 7 1 1 1-4 1-6 1-6 1-6 1-4 1 0 1 1 1 2 1-1 1-4 1 1 1 11 1 17 1 17 1 16 1 15 1 18 1 21 1 23 1 22 1 21 1 15 1 7 1-3 1-8 1-6 1-3 1-4 1 3 1 16 1 18 1 16 1 18 1 7 1-7 1-11 1-8 1-9 1-9 1-9 1-7 1-7 1-6 1-4 1-2 1-1 1-1 1-2 1 0 1 1 1 3 1 6 1 5 1 6 1 5 1 4 1 4 1 5 1 6 1 8 1 10 1 13 1 14 1 15 1 13 1 11 1 10 1 9 1 5 1 5" stroke="#77AC30"/>
<path d="M0,3801l1 1 1 1 1 1 1 0 1-1 1-2 1-1 1 1 1 1 1-1 1-1 1 1 1 0 1-1 1-2 1-1 1 0 1 0 1 1 1-1 1 0 1 1 1 2 1 2 1 2 1-1 1-2 1-2 1-1 1 1 1 0 1-1 1-2 1-4 1-7 1-9 1-17 1-16 1-2 1 9 1 1 1-3 1-4 1-4 1-4 1-6 1-9 1-9 1-11 1-13 1-29 1-52 1-63 1-72 1-95 1-113 1-113 1-113 1-111 1-110 1-101 1-92 1-80 1-34 1-18 1 12 1 45 1 57 1 66 1 69 1 69 1 71 1 70 1 69 1 56 1 46 1 38 1 22 1 4 1-11 1-19 1-32 1-53 1-63 1-69 1-74 1-76 1-66 1-54 1-38 1-1 1 20 1 33 1 35 1 25 1 23 1 43 1 72 1 90 1 93 1 95 1 95 1 79 1 56 1 39 1 0 1-16 1-22 1-24 1-19 1-13 1-2 1 8 1 14 1 18 1 16 1 17 1 10 1-9 1-19 1-21 1-20 1-19 1-18 1-11 1 4 1 21 1 31 1 34 1 32 1 27 1 21 1 13 1 8 1 6 1 3 1 2 1 1 1-2 1-2 1-2 1 0 1 1 1 1 1-2 1-4 1-3 1-1 1 1 1 2 1 3 1 4 1 7 1 7 1 3 1-2 1-6 1-6 1-6 1-5 1-4 1-5 1-5 1-4 1-2 1 3 1 11 1 15 1 17 1 16 1 15 1 12 1 10 1 10 1 12 1 12 1 10 1 5 1-2 1-6 1-8 1-8 1-6 1-1 1 11 1 11 1 5 1 4 1-4 1-9 1-10 1-8 1-10 1-11 1-11 1-10 1-8 1-8 1-8 1-6 1-3 1-2 1-2 1-5 1-8 1-10 1-10 1-8 1-3 1-1 1-2 1-2 1-2 1 2 1 6 1 10 1 12 1 12 1 13 1 14 1 13 1 13 1 8 1 5 1 7" stroke="#4DBEEE"/>
<path d="M0,3814l1 0 1-1 1-2 1-1 1-1 1-1 1 0 1 1 1 0 1 1 1 1 1 1 1 1 1 0 1-2 1-2 1-2 1 0 1-1 1-1 1 0 1-1 1 0 1-1 1 0 1 1 1 2 1 2 1 2 1 0 1-2 1-4 1-3 1-6 1-6 1-8 1-13 1-13 1-2 1 7 1 0 1-3 1-5 1-7 1-7 1-8 1-8 1-7 1-8 1-10 1-27 1-51 1-59 1-69 1-91 1-111 1-114 1-113 1-112 1-110 1-94 1-80 1-73 1-37 1-22 1 11 1 38 1 43 1 60 1 70 1 71 1 71 1 71 1 70 1 55 1 46 1 38 1 22 1 3 1-15 1-24 1-34 1-53 1-64 1-69 1-77 1-77 1-67 1-54 1-38 1 0 1 20 1 31 1 32 1 19 1 19 1 45 1 78 1 95 1 95 1 93 1 93 1 74 1 52 1 32 1-8 1-21 1-26 1-27 1-24 1-14 1 2 1 16 1 21 1 22 1 19 1 17 1 9 1-12 1-24 1-22 1-20 1-17 1-18 1-14 1 4 1 20 1 27 1 29 1 27 1 20 1 15 1 9 1 7 1 4 1 0 1 0 1 0 1-2 1-5 1-9 1-7 1-7 1-4 1-3 1-2 1-1 1 1 1 5 1 7 1 6 1 3 1 4 1 2 1 1 1-1 1-1 1-2 1-4 1-3 1-2 1-2 1-3 1-2 1-1 1 2 1 7 1 11 1 14 1 14 1 11 1 8 1 10 1 12 1 13 1 12 1 12 1 7 1 2 1-6 1-9 1-7 1-5 1-2 1 9 1 11 1 6 1 4 1-2 1-6 1-5 1-5 1-7 1-9 1-10 1-8 1-8 1-7 1-8 1-5 1-2 1 0 1 2 1 1 1 2 1 4 1 5 1 4 1 3 1 2 1 0 1 0 1 1 1 4 1 8 1 12 1 15 1 17 1 17 1 15 1 15 1 17 1 19 1 18 1 18" stroke="#A2142F"/>
<path d="M0,3812l1-2 1 1 1 1 1-5 1-4 1 2 1 2 1-3 1-2 1 1 1 2 1 2 1 1 1 2 1 2 1-2 1-3 1-2 1-2 1-4 1-2 1-1 1-1 1 1 1 4 1 5 1 2 1-2 1-3 1-1 1 1 1 0 1-2 1-4 1-3 1-4 1-8 1-8 1-4 1 0 1-2 1 0 1-1 1-8 1-9 1-9 1-7 1-10 1-14 1-18 1-31 1-48 1-56 1-69 1-92 1-107 1-104 1-104 1-106 1-102 1-79 1-60 1-59 1-41 1-23 1 16 1 32 1 27 1 53 1 69 1 67 1 67 1 66 1 67 1 55 1 47 1 38 1 22 1 2 1-12 1-20 1-35 1-57 1-67 1-69 1-80 1-84 1-60 1-37 1-26 1-1 1 20 1 29 1 28 1 20 1 19 1 31 1 62 1 92 1 93 1 91 1 91 1 77 1 60 1 44 1 1 1-19 1-27 1-26 1-20 1-14 1-2 1 8 1 15 1 18 1 15 1 17 1 13 1-9 1-20 1-23 1-21 1-20 1-20 1-12 1 2 1 20 1 26 1 31 1 30 1 26 1 19 1 9 1 5 1 5 1 2 1 0 1 0 1 2 1 1 1 1 1-2 1-6 1-6 1-4 1 0 1 2 1 0 1 2 1 2 1 2 1 4 1 9 1 9 1 5 1 2 1 1 1 0 1-2 1-5 1-8 1-7 1-4 1-3 1-1 1 6 1 15 1 22 1 20 1 15 1 13 1 15 1 19 1 18 1 18 1 15 1 11 1 4 1-2 1-7 1-6 1-6 1-4 1 2 1 16 1 21 1 18 1 18 1 7 1-6 1-13 1-15 1-12 1-8 1-4 1-1 1-4 1-8 1-7 1-3 1-4 1-5 1-1 1 2 1 7 1 20 1 36 1 23 1-14 1-32 1-17 1-1 1 5 1 5 1 7 1 12 1 15 1 16 1 13 1 14 1 17 1 18 1 17 1 12 1 10" stroke="#A2142F"/>
<path d="M0,3801l1 1 1 0 1 0 1 0 1 0 1 0 1 0 1 0 1 0 1 0 1 0 1-1 1 0 1 0 1 0 1 0 1 0 1 0 1-1 1 0 1 0 1-1 1 0 1 0 1-1 1 0 1 0 1-1 1-1 1-1 1-2 1-2 1-3 1-10 1-14 1-13 1-20 1-17 1 2 1 18 1 8 1 5 1 1 1-5 1-8 1-8 1-8 1-10 1-12 1-14 1-31 1-53 1-63 1-72 1-95 1-113 1-114 1-116 1-117 1-116 1-115 1-112 1-95 1-34 1-22 1 4 1 52 1 76 1 76 1 74 1 75 1 74 1 74 1 74 1 58 1 47 1 38 1 21 1 2 1-12 1-20 1-31 1-51 1-64 1-72 1-77 1-78 1-78 1-89 1-65 1 25 1 43 1 40 1 37 1 21 1 21 1 55 1 87 1 95 1 94 1 95 1 95 1 78 1 56 1 31 1-9 1-23 1-31 1-34 1-29 1-19 1 0 1 15 1 21 1 24 1 23 1 23 1 14 1-11 1-24 1-26 1-24 1-23 1-23 1-16 1 4 1 20 1 25 1 29 1 25 1 20 1 14 1 8 1 5 1 4 1 2 1 2 1 2 1 0 1-3 1-5 1-6 1-6 1-6 1-7 1-7 1-6 1-3 1 2 1 6 1 6 1 5 1 6 1 6 1 5 1 2 1 0 1-1 1-2 1-2 1-3 1-6 1-5 1-5 1-2 1 3 1 8 1 11 1 13 1 15 1 14 1 11 1 11 1 10 1 10 1 10 1 10 1 7 1 3 1-3 1-4 1-3 1-2 1 0 1 11 1 14 1 8 1 5 1-2 1-6 1-7 1-8 1-8 1-8 1-8 1-7 1-6 1-5 1-4 1-3 1-2 1-2 1-2 1-2 1-2 1-3 1-1 1 2 1 3 1 2 1 2 1 2 1 3 1 5 1 8 1 11 1 12 1 12 1 12 1 12 1 12 1 12 1 12 1 13 1 14" stroke="#7E2F8E"/>
</g>
<path d="M382.40,231.05V410.75" stroke="#808080" stroke-width="1.5"/>
<path d="M381.65,232.00H680.30" stroke="#686868" stroke-width="1.9"/>
<path d="M679.70,231.05V410.75" stroke="#383838" stroke-width="1.2"/>
<path d="M381.65,410.10H680.30" stroke="#383838" stroke-width="1.3"/>
<path d="M415.34,410.10v-4.3M415.34,232.00v4.3M448.39,410.10v-4.3M448.39,232.00v4.3M481.43,410.10v-4.3M481.43,232.00v4.3M514.48,410.10v-4.3M514.48,232.00v4.3M547.52,410.10v-4.3M547.52,232.00v4.3M580.57,410.10v-4.3M580.57,232.00v4.3M613.61,410.10v-4.3M613.61,232.00v4.3M646.66,410.10v-4.3M646.66,232.00v4.3M382.40,380.42h2.7M679.70,380.42h-2.7M382.40,350.73h2.7M679.70,350.73h-2.7M382.40,321.05h2.7M679.70,321.05h-2.7M382.40,291.37h2.7M679.70,291.37h-2.7M382.40,261.68h2.7M679.70,261.68h-2.7" stroke="#404040" stroke-width="1.0"/>
<g font-size="7.0" font-weight="normal" fill="#2a2a2a" stroke="#2a2a2a" stroke-width="0.38">
<text transform="translate(382.30,420.0) scale(0.65,1)" text-anchor="middle">1900</text>
<text transform="translate(415.34,420.0) scale(0.65,1)" text-anchor="middle">1800</text>
<text transform="translate(448.39,420.0) scale(0.65,1)" text-anchor="middle">1700</text>
<text transform="translate(481.43,420.0) scale(0.65,1)" text-anchor="middle">1600</text>
<text transform="translate(514.48,420.0) scale(0.65,1)" text-anchor="middle">1500</text>
<text transform="translate(547.52,420.0) scale(0.65,1)" text-anchor="middle">1400</text>
<text transform="translate(580.57,420.0) scale(0.65,1)" text-anchor="middle">1300</text>
<text transform="translate(613.61,420.0) scale(0.65,1)" text-anchor="middle">1200</text>
<text transform="translate(646.66,420.0) scale(0.65,1)" text-anchor="middle">1100</text>
<text transform="translate(679.70,420.0) scale(0.65,1)" text-anchor="middle">1000</text>
<text transform="translate(380.3,412.62) scale(0.65,1)" text-anchor="end">-0.02</text>
<text transform="translate(380.3,382.94) scale(0.65,1)" text-anchor="end">0</text>
<text transform="translate(380.3,353.25) scale(0.65,1)" text-anchor="end">0.02</text>
<text transform="translate(380.3,323.57) scale(0.65,1)" text-anchor="end">0.04</text>
<text transform="translate(380.3,293.89) scale(0.65,1)" text-anchor="end">0.06</text>
<text transform="translate(380.3,264.20) scale(0.65,1)" text-anchor="end">0.08</text>
<text transform="translate(380.3,234.52) scale(0.65,1)" text-anchor="end">0.1</text>
</g>
<text transform="translate(530,435.0) scale(0.64,1)" text-anchor="middle" font-size="10.3" font-weight="normal" fill="#222" stroke="#222" stroke-width="0.45">Wavenumber cm <tspan dy="-4.33" dx="0.6" font-size="7.42">-1</tspan></text>
<text transform="translate(367.9,320.4) scale(0.7,1) rotate(-90)" text-anchor="middle" font-size="10.0" font-weight="bold" fill="#222">Absorbance</text>
<text transform="translate(389.0,249.8) scale(0.72,1)" font-size="12.2" fill="#222" stroke="#222" stroke-width="0.3">D</text>
<g transform="translate(19.55,0) scale(1.2989,0.1)" stroke-width="0.9">
<path d="M0,5942l1 4 1 3 1 4 1 4 1 4 1 4 1 4 1 5 1 4 1 5 1 5 1 4 1 5 1 4 1 4 1 4 1 3 1 3 1 2 1 3 1 2 1 2 1 2 1 2 1 2 1 1 1 0 1 1 1-1 1-1 1-1 1-2 1-2 1-3 1-3 1-4 1-5 1-5 1-9 1-10 1-11 1-13 1-12 1-15 1-18 1-18 1-22 1-27 1-32 1-36 1-42 1-49 1-57 1-64 1-69 1-73 1-76 1-79 1-85 1-86 1-82 1-69 1-58 1-54 1-36 1-5 1 26 1 55 1 63 1 72 1 77 1 80 1 77 1 73 1 69 1 62 1 51 1 40 1 34 1 32 1 27 1 22 1 13 1-2 1-5 1-6 1-4 1 7 1 20 1 23 1 23 1 23 1 24 1 23 1 23 1 23 1 24 1 23 1 23 1 15 1 11 1 11 1 10 1 5 1 1 1-1 1-2 1-2 1-1 1-2 1 0 1 3 1 5 1 6 1 6 1 7 1 4 1 0 1-4 1-3 1-2 1-2 1-2 1-2 1-1 1 4 1 8 1 9 1 10 1 6 1 2 1 0 1 0 1 1 1 2 1 2 1 1 1 2 1 1 1 1 1 0 1 0 1-3 1-3 1-1 1 0 1 1 1 0 1 0 1 1 1 0 1 0 1 1 1 0 1 1 1 0 1 1 1 1 1 0 1 1 1-1 1-2 1-3 1-2 1-1 1 0 1 1 1 1 1 2 1 3 1 3 1 2 1 3 1 2 1 1 1 2 1 1 1 1 1 1 1 0 1 0 1-1 1-2 1-3 1-1 1-1 1 1 1 0 1-2 1-2 1-4 1-3 1-4 1-4 1-4 1-3 1-4 1-3 1-3 1-3 1-3 1-3 1-2 1-3 1-2 1-3 1-3 1-3 1-4 1-4 1-4 1-4 1-4 1-4 1-5 1-4 1-4 1-4 1-5 1-4 1-5 1-5 1-4 1-5 1-5" stroke="#0072BD"/>
<path d="M0,5945l1 3 1 4 1 3 1 4 1 3 1 4 1 3 1 4 1 4 1 4 1 4 1 4 1 4 1 4 1 3 1 4 1 3 1 4 1 3 1 3 1 3 1 3 1 3 1 3 1 2 1 1 1 2 1 1 1 0 1-1 1-2 1-2 1-2 1-2 1-4 1-4 1-5 1-6 1-9 1-10 1-12 1-13 1-13 1-15 1-18 1-19 1-21 1-27 1-32 1-36 1-42 1-49 1-56 1-64 1-69 1-72 1-75 1-79 1-85 1-86 1-81 1-69 1-56 1-48 1-33 1-9 1 20 1 53 1 62 1 71 1 77 1 79 1 77 1 73 1 69 1 62 1 50 1 40 1 35 1 31 1 27 1 22 1 13 1-2 1-4 1-6 1-5 1 8 1 20 1 23 1 24 1 23 1 23 1 23 1 24 1 23 1 23 1 24 1 23 1 15 1 10 1 12 1 10 1 4 1 0 1 0 1-2 1-2 1-1 1-1 1 0 1 3 1 5 1 7 1 7 1 6 1 6 1 0 1-4 1-3 1-2 1-2 1-2 1-2 1-2 1 4 1 8 1 8 1 9 1 6 1 1 1 1 1-1 1 1 1 2 1 1 1 1 1 1 1 1 1 1 1 1 1-1 1-3 1-3 1-1 1 0 1 1 1 0 1 0 1 1 1 0 1 1 1 1 1 0 1 1 1 0 1 1 1 1 1 1 1 1 1-1 1-1 1-3 1-2 1 0 1 0 1 2 1 1 1 2 1 3 1 3 1 2 1 2 1 2 1 1 1 1 1 0 1 0 1 0 1 0 1 0 1-2 1-2 1-2 1-1 1-1 1 2 1 0 1-1 1-2 1-3 1-3 1-4 1-4 1-3 1-4 1-3 1-3 1-3 1-3 1-3 1-3 1-3 1-3 1-2 1-3 1-2 1-3 1-4 1-3 1-4 1-3 1-4 1-4 1-3 1-4 1-4 1-4 1-4 1-4 1-4 1-4 1-5 1-4 1-5" stroke="#D95319"/>
</g>
<path d="M19.55,455.15V621.45" stroke="#5a5a5a" stroke-width="1.1"/>
<path d="M19.00,455.70H312.35" stroke="#5a5a5a" stroke-width="1.1"/>
<path d="M311.80,455.15V621.45" stroke="#5a5a5a" stroke-width="1.1"/>
<path d="M19.00,620.90H312.35" stroke="#5a5a5a" stroke-width="1.1"/>
<path d="M52.02,620.90v-3.7M52.02,455.70v3.7M84.49,620.90v-3.7M84.49,455.70v3.7M116.97,620.90v-3.7M116.97,455.70v3.7M149.44,620.90v-3.7M149.44,455.70v3.7M181.91,620.90v-3.7M181.91,455.70v3.7M214.38,620.90v-3.7M214.38,455.70v3.7M246.86,620.90v-3.7M246.86,455.70v3.7M279.33,620.90v-3.7M279.33,455.70v3.7M19.55,601.49h3.4M311.80,601.49h-3.4M19.55,582.08h3.4M311.80,582.08h-3.4M19.55,562.66h3.4M311.80,562.66h-3.4M19.55,543.25h3.4M311.80,543.25h-3.4M19.55,523.84h3.4M311.80,523.84h-3.4M19.55,504.43h3.4M311.80,504.43h-3.4M19.55,485.01h3.4M311.80,485.01h-3.4M19.55,465.60h3.4M311.80,465.60h-3.4" stroke="#5a5a5a" stroke-width="0.8"/>
<g font-size="4.9" font-weight="bold" fill="#444" stroke="#444" stroke-width="0.1">
<text transform="translate(19.55,629.3) scale(0.95,1)" text-anchor="middle">1900</text>
<text transform="translate(52.02,629.3) scale(0.95,1)" text-anchor="middle">1800</text>
<text transform="translate(84.49,629.3) scale(0.95,1)" text-anchor="middle">1700</text>
<text transform="translate(116.97,629.3) scale(0.95,1)" text-anchor="middle">1600</text>
<text transform="translate(149.44,629.3) scale(0.95,1)" text-anchor="middle">1500</text>
<text transform="translate(181.91,629.3) scale(0.95,1)" text-anchor="middle">1400</text>
<text transform="translate(214.38,629.3) scale(0.95,1)" text-anchor="middle">1300</text>
<text transform="translate(246.86,629.3) scale(0.95,1)" text-anchor="middle">1200</text>
<text transform="translate(279.33,629.3) scale(0.95,1)" text-anchor="middle">1100</text>
<text transform="translate(311.80,629.3) scale(0.95,1)" text-anchor="middle">1000</text>
<text transform="translate(18.2,622.66) scale(0.95,1)" text-anchor="end">-0.02</text>
<text transform="translate(18.2,603.25) scale(0.95,1)" text-anchor="end">0</text>
<text transform="translate(18.2,583.84) scale(0.95,1)" text-anchor="end">0.02</text>
<text transform="translate(18.2,564.43) scale(0.95,1)" text-anchor="end">0.04</text>
<text transform="translate(18.2,545.01) scale(0.95,1)" text-anchor="end">0.06</text>
<text transform="translate(18.2,525.60) scale(0.95,1)" text-anchor="end">0.08</text>
<text transform="translate(18.2,506.19) scale(0.95,1)" text-anchor="end">0.1</text>
<text transform="translate(18.2,486.78) scale(0.95,1)" text-anchor="end">0.12</text>
<text transform="translate(18.2,467.36) scale(0.95,1)" text-anchor="end">0.14</text>
</g>
<text transform="translate(165.5,640.1) scale(0.96,1)" text-anchor="middle" font-size="6.7" font-weight="bold" fill="#222" stroke="#222" stroke-width="0.0">Wavenumber cm<tspan dy="-2.81" dx="0.3" font-size="4.82">-1</tspan></text>
<text transform="translate(6.2,538.2) scale(1.0,1) rotate(-90)" text-anchor="middle" font-size="7.5" font-weight="bold" fill="#333">Absorbance</text>
<text transform="translate(27.8,470.3) scale(0.86,1)" font-size="9.6" fill="#222" stroke="#222" stroke-width="0.1">E</text>
<rect x="105.4" y="472.5" width="13.6" height="7.5" fill="#fbfbfd" stroke="#c8c8d4" stroke-width="0.5" rx="0.6"/><text x="112.2" y="477.4" font-size="3.4" text-anchor="middle" fill="#666">1636.3</text>
<rect x="132.0" y="557.0" width="14.8" height="7.2" fill="#fbfbfd" stroke="#c8c8d4" stroke-width="0.5" rx="0.6"/><text x="139.4" y="561.8" font-size="3.4" text-anchor="middle" fill="#666">1553.38</text>
<path d="M104.2,481.7l1,-1.6 1,1.6zM131.1,566.2l1,-1.6 1,1.6z" style="fill:#333" stroke="none"/>
<rect x="267.3" y="463.3" width="42.3" height="15.1" fill="#fff" stroke="#9a9a9a" stroke-width="0.5"/>
<path d="M268.1,467.4h9.6" stroke="#0072BD" stroke-width="0.8"/><path d="M268.1,474.3h9.6" stroke="#D95319" stroke-width="0.8"/>
<g font-size="5.2" font-weight="bold" fill="#1a1a1a"><text transform="translate(279,469.9) scale(0.86,1)">Dengue</text><text transform="translate(279,476.9) scale(0.86,1)">Leptospirosis</text></g>
<g transform="translate(382.80,0) scale(1.3428,0.1)" stroke-width="0.6">
<path d="M0,6177l1 0 1 0 1 0 1 0 1 0 1 0 1 0 1 0 1 0 1 0 1 0 1 0 1 0 1 0 1 0 1 0 1 0 1 0 1 0 1 0 1 0 1 0 1 0 1 0 1-1 1 0 1-1 1-1 1 0 1-1 1-1 1-1 1-1 1-1 1-2 1-1 1-3 1-4 1-5 1-5 1-6 1-6 1-4 1-1 1 0 1-1 1-1 1-3 1-7 1-9 1-9 1-11 1-11 1-14 1-48 1-75 1-81 1-79 1-79 1-90 1-111 1-121 1-123 1-122 1-122 1-120 1-115 1-72 1-43 1-22 1-2 1 46 1 92 1 111 1 116 1 114 1 108 1 92 1 62 1 45 1 34 1 19 1 0 1-16 1-31 1-42 1-59 1-68 1-77 1-80 1-82 1-89 1-91 1-68 1-31 1 7 1 36 1 55 1 44 1 35 1 42 1 61 1 92 1 107 1 116 1 107 1 90 1 72 1 44 1 20 1-6 1-24 1-33 1-29 1-26 1-23 1-10 1 8 1 14 1 15 1 19 1 22 1 17 1 1 1-20 1-30 1-30 1-31 1-30 1-19 1 6 1 23 1 28 1 29 1 31 1 27 1 19 1 11 1 9 1 7 1 6 1 4 1 0 1-1 1-1 1 2 1-1 1-13 1-17 1-17 1-16 1-8 1 3 1 5 1 4 1 5 1 5 1 5 1 5 1 5 1 5 1 5 1 4 1 3 1-7 1-10 1-11 1-11 1-11 1-4 1 9 1 21 1 23 1 23 1 22 1 23 1 23 1 22 1 21 1 16 1 13 1 10 1 8 1 3 1-8 1-19 1-9 1-1 1 4 1 6 1 8 1 7 1 6 1 7 1 2 1-7 1-12 1-14 1-11 1-10 1-8 1-7 1-4 1 0 1 3 1 3 1-2 1-15 1-17 1-15 1 0 1 11 1 12 1 7 1 3 1 2 1 2 1 1 1 2 1 2 1 2 1 9 1 18 1 18" stroke="#8fd3f4"/>
</g>
<g transform="translate(382.80,0) scale(1.3428,0.1)" stroke-width="0.95">
<path d="M0,6177l1 0 1 0 1 0 1 0 1 0 1 0 1 0 1 0 1 0 1 0 1 0 1 0 1 0 1 0 1 0 1 0 1 0 1 0 1 0 1 0 1 0 1 0 1 0 1 0 1-1 1 0 1-1 1-1 1 0 1-1 1-1 1-1 1-1 1-1 1-2 1-1 1-3 1-4 1-5 1-5 1-6 1-6 1-4 1-1 1 0 1-1 1-1 1-3 1-7 1-9 1-9 1-11 1-11 1-14 1-48 1-75 1-81 1-79 1-79 1-90 1-111 1-121 1-123 1-122 1-122 1-120 1-115 1-73 1-42 1-22 1-3 1 46 1 90 1 110 1 114 1 111 1 106 1 88 1 59 1 44 1 32 1 17 1 1 1-15 1-29 1-39 1-55 1-66 1-74 1-78 1-80 1-88 1-90 1-67 1-31 1 7 1 36 1 55 1 44 1 35 1 42 1 61 1 92 1 107 1 116 1 107 1 90 1 72 1 44 1 20 1-6 1-24 1-33 1-29 1-26 1-23 1-10 1 8 1 14 1 15 1 19 1 22 1 17 1 1 1-20 1-30 1-30 1-31 1-30 1-19 1 6 1 23 1 28 1 29 1 31 1 27 1 19 1 11 1 9 1 7 1 6 1 4 1 0 1-1 1-1 1 2 1-1 1-13 1-17 1-17 1-16 1-8 1 3 1 5 1 4 1 5 1 5 1 5 1 5 1 5 1 5 1 5 1 4 1 3 1-7 1-10 1-11 1-11 1-11 1-4 1 9 1 21 1 23 1 23 1 22 1 23 1 22 1 21 1 19 1 14 1 11 1 9 1 6 1 2 1-9 1-19 1-10 1-1 1 3 1 6 1 8 1 7 1 6 1 6 1 3 1-7 1-12 1-14 1-12 1-9 1-8 1-7 1-4 1 0 1 3 1 3 1-2 1-16 1-16 1-16 1 1 1 11 1 12 1 7 1 3 1 2 1 1 1 2 1 2 1 1 1 3 1 9 1 18 1 18" stroke="#D95319"/>
</g>
<path d="M382.80,455.15V618.55" stroke="#4a4a4a" stroke-width="1.1"/>
<path d="M382.25,455.70H684.85" stroke="#4a4a4a" stroke-width="1.1"/>
<path d="M684.30,455.15V618.55" stroke="#4a4a4a" stroke-width="1.1"/>
<path d="M382.25,618.00H684.85" stroke="#4a4a4a" stroke-width="1.1"/>
<path d="M389.20,618.00v-3.75M389.20,455.70v3.75M422.77,618.00v-3.75M422.77,455.70v3.75M456.34,618.00v-3.75M456.34,455.70v3.75M489.91,618.00v-3.75M489.91,455.70v3.75M523.48,618.00v-3.75M523.48,455.70v3.75M557.05,618.00v-3.75M557.05,455.70v3.75M590.62,618.00v-3.75M590.62,455.70v3.75M624.19,618.00v-3.75M624.19,455.70v3.75M657.76,618.00v-3.75M657.76,455.70v3.75M382.80,602.20h3.2M684.30,602.20h-3.2M382.80,583.30h3.2M684.30,583.30h-3.2M382.80,564.40h3.2M684.30,564.40h-3.2M382.80,545.50h3.2M684.30,545.50h-3.2M382.80,526.60h3.2M684.30,526.60h-3.2M382.80,507.70h3.2M684.30,507.70h-3.2M382.80,488.80h3.2M684.30,488.80h-3.2M382.80,469.90h3.2M684.30,469.90h-3.2" stroke="#4a4a4a" stroke-width="0.9"/>
<g font-size="6.5" font-weight="bold" fill="#333" stroke="#333" stroke-width="0.2">
<text transform="translate(389.20,628.4) scale(0.95,1)" text-anchor="middle">1900</text>
<text transform="translate(422.77,628.4) scale(0.95,1)" text-anchor="middle">1800</text>
<text transform="translate(456.34,628.4) scale(0.95,1)" text-anchor="middle">1700</text>
<text transform="translate(489.91,628.4) scale(0.95,1)" text-anchor="middle">1600</text>
<text transform="translate(523.48,628.4) scale(0.95,1)" text-anchor="middle">1500</text>
<text transform="translate(557.05,628.4) scale(0.95,1)" text-anchor="middle">1400</text>
<text transform="translate(590.62,628.4) scale(0.95,1)" text-anchor="middle">1300</text>
<text transform="translate(624.19,628.4) scale(0.95,1)" text-anchor="middle">1200</text>
<text transform="translate(657.76,628.4) scale(0.95,1)" text-anchor="middle">1100</text>
<text transform="translate(380.9,604.54) scale(0.95,1)" text-anchor="end">0.05</text>
<text transform="translate(380.9,585.64) scale(0.95,1)" text-anchor="end">0.1</text>
<text transform="translate(380.9,566.74) scale(0.95,1)" text-anchor="end">0.15</text>
<text transform="translate(380.9,547.84) scale(0.95,1)" text-anchor="end">0.2</text>
<text transform="translate(380.9,528.94) scale(0.95,1)" text-anchor="end">0.25</text>
<text transform="translate(380.9,510.04) scale(0.95,1)" text-anchor="end">0.3</text>
<text transform="translate(380.9,491.14) scale(0.95,1)" text-anchor="end">0.35</text>
<text transform="translate(380.9,472.24) scale(0.95,1)" text-anchor="end">0.4</text>
</g>
<text transform="translate(533,640.3) scale(0.96,1)" text-anchor="middle" font-size="7.0" font-weight="bold" fill="#222" stroke="#222" stroke-width="0.0">Wavenumber cm <tspan dy="-2.94" dx="1.5" font-size="5.04">-1</tspan></text>
<text transform="translate(366.8,537.4) scale(1.0,1) rotate(-90)" text-anchor="middle" font-size="7.5" font-weight="bold" fill="#222">Absorbance</text>
<text transform="translate(391.8,471.1) scale(0.86,1)" font-size="9.8" fill="#222" stroke="#222" stroke-width="0.1">F</text>
<rect x="478.7" y="464.3" width="14.8" height="8.0" fill="#fbfbfd" stroke="#c8c8d4" stroke-width="0.5" rx="0.6"/><text x="486.1" y="469.5" font-size="3.4" text-anchor="middle" fill="#666">1637.27</text>
<rect x="511.8" y="466.3" width="14.9" height="7.4" fill="#fbfbfd" stroke="#c8c8d4" stroke-width="0.5" rx="0.6"/><text x="519.2" y="471.2" font-size="3.4" text-anchor="middle" fill="#666">1536.99</text>
<rect x="524.0" y="544.2" width="14.8" height="7.4" fill="#fbfbfd" stroke="#c8c8d4" stroke-width="0.5" rx="0.6"/><text x="531.4" y="549.1" font-size="3.4" text-anchor="middle" fill="#666">1452.14</text>
<rect x="558.8" y="537.7" width="13.1" height="7.4" fill="#fbfbfd" stroke="#c8c8d4" stroke-width="0.5" rx="0.6"/><text x="565.3" y="542.6" font-size="3.4" text-anchor="middle" fill="#666">1399.1</text>
<rect x="588.2" y="551.0" width="14.8" height="7.2" fill="#fbfbfd" stroke="#c8c8d4" stroke-width="0.5" rx="0.6"/><text x="595.6" y="555.8" font-size="3.4" text-anchor="middle" fill="#666">1309.43</text>
<rect x="612.2" y="551.0" width="14.8" height="7.2" fill="#fbfbfd" stroke="#c8c8d4" stroke-width="0.5" rx="0.6"/><text x="619.6" y="555.8" font-size="3.4" text-anchor="middle" fill="#666">1259.04</text>
<rect x="633.0" y="462.4" width="43.7" height="15.1" fill="#fff" stroke="#a0a0a0" stroke-width="0.5"/>
<path d="M634.0,466.4h9.7" stroke="#9fd0f0" stroke-width="0.6"/><path d="M634.0,473.3h9.7" stroke="#D95319" stroke-width="1.0"/>
<g font-size="5.2" font-weight="bold" fill="#1a1a1a"><text transform="translate(644.8,468.9) scale(0.91,1)">Dengue</text><text transform="translate(644.8,476.0) scale(0.91,1)">Leptospirosis</text></g>
<path d="M476.8,463.2h1.4v1.4h-1.4zM510.0,473.7h1.4v1.4h-1.4zM538.9,551.6h1.4v1.4h-1.4zM557.0,545.2h1.4v1.4h-1.4zM586.6,558.0h1.4v1.4h-1.4zM610.1,558.0h1.4v1.4h-1.4z" style="fill:#333" stroke="none"/>
</svg>
</body></html>
